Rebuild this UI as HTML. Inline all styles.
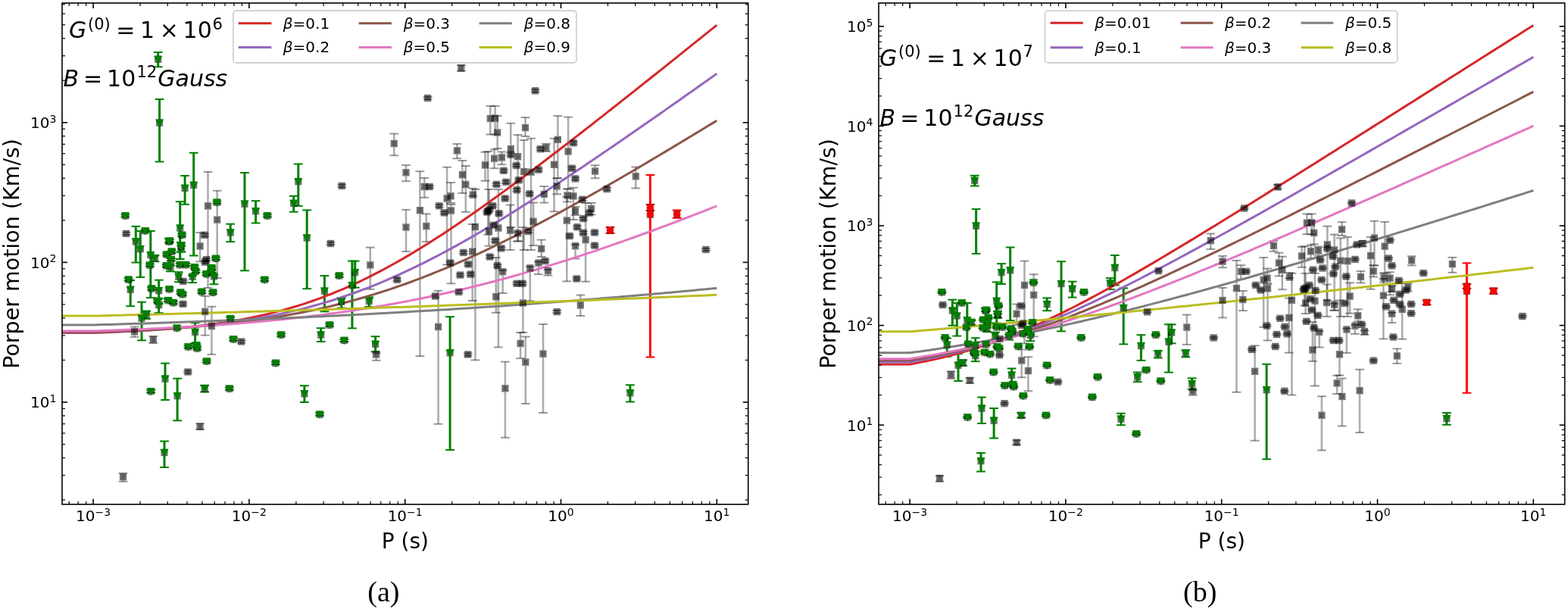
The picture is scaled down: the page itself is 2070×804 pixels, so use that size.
<!DOCTYPE html><html><head><meta charset="utf-8"><style>html,body{margin:0;padding:0;background:#fff;overflow:hidden}svg{display:block}</style></head><body><svg width="2070" height="804" viewBox="0 0 2070 804" font-family="'DejaVu Sans', 'Liberation Sans', sans-serif">
<rect width="2070" height="804" fill="#fff"/>
<clipPath id="clip0"><rect x="82" y="4" width="905.7" height="661.8"/></clipPath>
<g clip-path="url(#clip0)">
<line x1="274.5" y1="227.1" x2="274.5" y2="267.2" stroke="rgba(0,0,0,0.32)" stroke-width="2.6"/>
<line x1="274.5" y1="276.6" x2="274.5" y2="380" stroke="rgba(0,0,0,0.32)" stroke-width="2.6"/>
<line x1="268.6" y1="227.1" x2="280.4" y2="227.1" stroke="rgba(0,0,0,0.4)" stroke-width="2"/>
<line x1="268.6" y1="380" x2="280.4" y2="380" stroke="rgba(0,0,0,0.4)" stroke-width="2"/>
<line x1="286.7" y1="251.8" x2="286.7" y2="285.4" stroke="rgba(0,0,0,0.32)" stroke-width="2.6"/>
<line x1="286.7" y1="294.8" x2="286.7" y2="367" stroke="rgba(0,0,0,0.32)" stroke-width="2.6"/>
<line x1="280.8" y1="251.8" x2="292.6" y2="251.8" stroke="rgba(0,0,0,0.4)" stroke-width="2"/>
<line x1="280.8" y1="367" x2="292.6" y2="367" stroke="rgba(0,0,0,0.4)" stroke-width="2"/>
<line x1="445.4" y1="243.8" x2="457.2" y2="243.8" stroke="rgba(0,0,0,0.4)" stroke-width="2"/>
<line x1="445.4" y1="247" x2="457.2" y2="247" stroke="rgba(0,0,0,0.4)" stroke-width="2"/>
<line x1="430.6" y1="319.9" x2="442.4" y2="319.9" stroke="rgba(0,0,0,0.4)" stroke-width="2"/>
<line x1="430.6" y1="323.1" x2="442.4" y2="323.1" stroke="rgba(0,0,0,0.4)" stroke-width="2"/>
<line x1="160.7" y1="306.8" x2="172.5" y2="306.8" stroke="rgba(0,0,0,0.4)" stroke-width="2"/>
<line x1="160.7" y1="310" x2="172.5" y2="310" stroke="rgba(0,0,0,0.4)" stroke-width="2"/>
<line x1="264.1" y1="307" x2="264.1" y2="320.3" stroke="rgba(0,0,0,0.32)" stroke-width="2.6"/>
<line x1="264.1" y1="329.7" x2="264.1" y2="345.3" stroke="rgba(0,0,0,0.32)" stroke-width="2.6"/>
<line x1="258.2" y1="307" x2="270" y2="307" stroke="rgba(0,0,0,0.4)" stroke-width="2"/>
<line x1="258.2" y1="345.3" x2="270" y2="345.3" stroke="rgba(0,0,0,0.4)" stroke-width="2"/>
<line x1="264.8" y1="344.5" x2="276.6" y2="344.5" stroke="rgba(0,0,0,0.4)" stroke-width="2"/>
<line x1="264.8" y1="347.7" x2="276.6" y2="347.7" stroke="rgba(0,0,0,0.4)" stroke-width="2"/>
<line x1="266.5" y1="341" x2="278.3" y2="341" stroke="rgba(0,0,0,0.4)" stroke-width="2"/>
<line x1="266.5" y1="344.2" x2="278.3" y2="344.2" stroke="rgba(0,0,0,0.4)" stroke-width="2"/>
<line x1="236" y1="369.8" x2="247.8" y2="369.8" stroke="rgba(0,0,0,0.4)" stroke-width="2"/>
<line x1="236" y1="373" x2="247.8" y2="373" stroke="rgba(0,0,0,0.4)" stroke-width="2"/>
<line x1="235.6" y1="399.7" x2="247.4" y2="399.7" stroke="rgba(0,0,0,0.4)" stroke-width="2"/>
<line x1="235.6" y1="402.9" x2="247.4" y2="402.9" stroke="rgba(0,0,0,0.4)" stroke-width="2"/>
<line x1="270.7" y1="391" x2="270.7" y2="406.7" stroke="rgba(0,0,0,0.32)" stroke-width="2.6"/>
<line x1="270.7" y1="416.1" x2="270.7" y2="442.7" stroke="rgba(0,0,0,0.32)" stroke-width="2.6"/>
<line x1="264.8" y1="391" x2="276.6" y2="391" stroke="rgba(0,0,0,0.4)" stroke-width="2"/>
<line x1="264.8" y1="442.7" x2="276.6" y2="442.7" stroke="rgba(0,0,0,0.4)" stroke-width="2"/>
<line x1="279.4" y1="404.8" x2="279.4" y2="425.8" stroke="rgba(0,0,0,0.32)" stroke-width="2.6"/>
<line x1="279.4" y1="435.2" x2="279.4" y2="467.9" stroke="rgba(0,0,0,0.32)" stroke-width="2.6"/>
<line x1="273.5" y1="404.8" x2="285.3" y2="404.8" stroke="rgba(0,0,0,0.4)" stroke-width="2"/>
<line x1="273.5" y1="467.9" x2="285.3" y2="467.9" stroke="rgba(0,0,0,0.4)" stroke-width="2"/>
<line x1="177.5" y1="431.4" x2="177.5" y2="433.2" stroke="rgba(0,0,0,0.32)" stroke-width="2.6"/>
<line x1="177.5" y1="442.6" x2="177.5" y2="444.9" stroke="rgba(0,0,0,0.32)" stroke-width="2.6"/>
<line x1="171.6" y1="431.4" x2="183.4" y2="431.4" stroke="rgba(0,0,0,0.4)" stroke-width="2"/>
<line x1="171.6" y1="444.9" x2="183.4" y2="444.9" stroke="rgba(0,0,0,0.4)" stroke-width="2"/>
<line x1="202.3" y1="453" x2="202.3" y2="453.1" stroke="rgba(0,0,0,0.32)" stroke-width="2.6"/>
<line x1="196.4" y1="443.9" x2="208.2" y2="443.9" stroke="rgba(0,0,0,0.4)" stroke-width="2"/>
<line x1="196.4" y1="453.1" x2="208.2" y2="453.1" stroke="rgba(0,0,0,0.4)" stroke-width="2"/>
<line x1="312.7" y1="449.4" x2="324.5" y2="449.4" stroke="rgba(0,0,0,0.4)" stroke-width="2"/>
<line x1="312.7" y1="452.6" x2="324.5" y2="452.6" stroke="rgba(0,0,0,0.4)" stroke-width="2"/>
<line x1="242.1" y1="489.4" x2="253.9" y2="489.4" stroke="rgba(0,0,0,0.4)" stroke-width="2"/>
<line x1="242.1" y1="492.6" x2="253.9" y2="492.6" stroke="rgba(0,0,0,0.4)" stroke-width="2"/>
<line x1="258.2" y1="559.2" x2="270" y2="559.2" stroke="rgba(0,0,0,0.4)" stroke-width="2"/>
<line x1="258.2" y1="567.1" x2="270" y2="567.1" stroke="rgba(0,0,0,0.4)" stroke-width="2"/>
<line x1="162.5" y1="624.7" x2="162.5" y2="624.9" stroke="rgba(0,0,0,0.32)" stroke-width="2.6"/>
<line x1="162.5" y1="634.3" x2="162.5" y2="635.7" stroke="rgba(0,0,0,0.32)" stroke-width="2.6"/>
<line x1="156.6" y1="624.7" x2="168.4" y2="624.7" stroke="rgba(0,0,0,0.4)" stroke-width="2"/>
<line x1="156.6" y1="635.7" x2="168.4" y2="635.7" stroke="rgba(0,0,0,0.4)" stroke-width="2"/>
<line x1="488.8" y1="326.7" x2="488.8" y2="345.2" stroke="rgba(0,0,0,0.32)" stroke-width="2.6"/>
<line x1="488.8" y1="354.6" x2="488.8" y2="381.9" stroke="rgba(0,0,0,0.32)" stroke-width="2.6"/>
<line x1="482.9" y1="326.7" x2="494.7" y2="326.7" stroke="rgba(0,0,0,0.4)" stroke-width="2"/>
<line x1="482.9" y1="381.9" x2="494.7" y2="381.9" stroke="rgba(0,0,0,0.4)" stroke-width="2"/>
<line x1="496.7" y1="472.7" x2="496.7" y2="475.8" stroke="rgba(0,0,0,0.32)" stroke-width="2.6"/>
<line x1="490.8" y1="466.4" x2="502.6" y2="466.4" stroke="rgba(0,0,0,0.4)" stroke-width="2"/>
<line x1="490.8" y1="475.8" x2="502.6" y2="475.8" stroke="rgba(0,0,0,0.4)" stroke-width="2"/>
<line x1="520.3" y1="176.5" x2="520.3" y2="184.8" stroke="rgba(0,0,0,0.32)" stroke-width="2.6"/>
<line x1="520.3" y1="194.2" x2="520.3" y2="205.2" stroke="rgba(0,0,0,0.32)" stroke-width="2.6"/>
<line x1="514.4" y1="176.5" x2="526.2" y2="176.5" stroke="rgba(0,0,0,0.4)" stroke-width="2"/>
<line x1="514.4" y1="205.2" x2="526.2" y2="205.2" stroke="rgba(0,0,0,0.4)" stroke-width="2"/>
<line x1="602.9" y1="86" x2="614.7" y2="86" stroke="rgba(0,0,0,0.4)" stroke-width="2"/>
<line x1="602.9" y1="93.7" x2="614.7" y2="93.7" stroke="rgba(0,0,0,0.4)" stroke-width="2"/>
<line x1="558.7" y1="127.9" x2="570.5" y2="127.9" stroke="rgba(0,0,0,0.4)" stroke-width="2"/>
<line x1="558.7" y1="131.1" x2="570.5" y2="131.1" stroke="rgba(0,0,0,0.4)" stroke-width="2"/>
<line x1="647.3" y1="140" x2="647.3" y2="151.8" stroke="rgba(0,0,0,0.32)" stroke-width="2.6"/>
<line x1="647.3" y1="161.2" x2="647.3" y2="177.6" stroke="rgba(0,0,0,0.32)" stroke-width="2.6"/>
<line x1="641.4" y1="140" x2="653.2" y2="140" stroke="rgba(0,0,0,0.4)" stroke-width="2"/>
<line x1="641.4" y1="177.6" x2="653.2" y2="177.6" stroke="rgba(0,0,0,0.4)" stroke-width="2"/>
<line x1="653.6" y1="140" x2="653.6" y2="151.4" stroke="rgba(0,0,0,0.32)" stroke-width="2.6"/>
<line x1="653.6" y1="160.8" x2="653.6" y2="177.6" stroke="rgba(0,0,0,0.32)" stroke-width="2.6"/>
<line x1="647.7" y1="140" x2="659.5" y2="140" stroke="rgba(0,0,0,0.4)" stroke-width="2"/>
<line x1="647.7" y1="177.6" x2="659.5" y2="177.6" stroke="rgba(0,0,0,0.4)" stroke-width="2"/>
<line x1="536" y1="217.9" x2="536" y2="223.1" stroke="rgba(0,0,0,0.32)" stroke-width="2.6"/>
<line x1="536" y1="232.5" x2="536" y2="239.3" stroke="rgba(0,0,0,0.32)" stroke-width="2.6"/>
<line x1="530.1" y1="217.9" x2="541.9" y2="217.9" stroke="rgba(0,0,0,0.4)" stroke-width="2"/>
<line x1="530.1" y1="239.3" x2="541.9" y2="239.3" stroke="rgba(0,0,0,0.4)" stroke-width="2"/>
<line x1="560.3" y1="234.9" x2="560.3" y2="241.8" stroke="rgba(0,0,0,0.32)" stroke-width="2.6"/>
<line x1="560.3" y1="251.2" x2="560.3" y2="260.8" stroke="rgba(0,0,0,0.32)" stroke-width="2.6"/>
<line x1="554.4" y1="234.9" x2="566.2" y2="234.9" stroke="rgba(0,0,0,0.4)" stroke-width="2"/>
<line x1="554.4" y1="260.8" x2="566.2" y2="260.8" stroke="rgba(0,0,0,0.4)" stroke-width="2"/>
<line x1="561.2" y1="244.9" x2="573" y2="244.9" stroke="rgba(0,0,0,0.4)" stroke-width="2"/>
<line x1="561.2" y1="248.1" x2="573" y2="248.1" stroke="rgba(0,0,0,0.4)" stroke-width="2"/>
<line x1="590.1" y1="220.7" x2="590.1" y2="257.3" stroke="rgba(0,0,0,0.32)" stroke-width="2.6"/>
<line x1="590.1" y1="266.7" x2="590.1" y2="349.6" stroke="rgba(0,0,0,0.32)" stroke-width="2.6"/>
<line x1="584.2" y1="220.7" x2="596" y2="220.7" stroke="rgba(0,0,0,0.4)" stroke-width="2"/>
<line x1="584.2" y1="349.6" x2="596" y2="349.6" stroke="rgba(0,0,0,0.4)" stroke-width="2"/>
<line x1="595.1" y1="241.1" x2="595.1" y2="254.2" stroke="rgba(0,0,0,0.32)" stroke-width="2.6"/>
<line x1="595.1" y1="263.6" x2="595.1" y2="268" stroke="rgba(0,0,0,0.32)" stroke-width="2.6"/>
<line x1="589.2" y1="241.1" x2="601" y2="241.1" stroke="rgba(0,0,0,0.4)" stroke-width="2"/>
<line x1="589.2" y1="268" x2="601" y2="268" stroke="rgba(0,0,0,0.4)" stroke-width="2"/>
<line x1="603.4" y1="189.9" x2="603.4" y2="194.2" stroke="rgba(0,0,0,0.32)" stroke-width="2.6"/>
<line x1="603.4" y1="203.6" x2="603.4" y2="209.2" stroke="rgba(0,0,0,0.32)" stroke-width="2.6"/>
<line x1="597.5" y1="189.9" x2="609.3" y2="189.9" stroke="rgba(0,0,0,0.4)" stroke-width="2"/>
<line x1="597.5" y1="209.2" x2="609.3" y2="209.2" stroke="rgba(0,0,0,0.4)" stroke-width="2"/>
<line x1="610.4" y1="212" x2="610.4" y2="226" stroke="rgba(0,0,0,0.32)" stroke-width="2.6"/>
<line x1="610.4" y1="235.4" x2="610.4" y2="255" stroke="rgba(0,0,0,0.32)" stroke-width="2.6"/>
<line x1="604.5" y1="212" x2="616.3" y2="212" stroke="rgba(0,0,0,0.4)" stroke-width="2"/>
<line x1="604.5" y1="255" x2="616.3" y2="255" stroke="rgba(0,0,0,0.4)" stroke-width="2"/>
<line x1="614.8" y1="218.9" x2="614.8" y2="238.9" stroke="rgba(0,0,0,0.32)" stroke-width="2.6"/>
<line x1="614.8" y1="248.3" x2="614.8" y2="279.9" stroke="rgba(0,0,0,0.32)" stroke-width="2.6"/>
<line x1="608.9" y1="218.9" x2="620.7" y2="218.9" stroke="rgba(0,0,0,0.4)" stroke-width="2"/>
<line x1="608.9" y1="279.9" x2="620.7" y2="279.9" stroke="rgba(0,0,0,0.4)" stroke-width="2"/>
<line x1="624.3" y1="248.7" x2="624.3" y2="252.4" stroke="rgba(0,0,0,0.32)" stroke-width="2.6"/>
<line x1="618.4" y1="248.7" x2="630.2" y2="248.7" stroke="rgba(0,0,0,0.4)" stroke-width="2"/>
<line x1="618.4" y1="258.7" x2="630.2" y2="258.7" stroke="rgba(0,0,0,0.4)" stroke-width="2"/>
<line x1="640.5" y1="200.8" x2="640.5" y2="213.2" stroke="rgba(0,0,0,0.32)" stroke-width="2.6"/>
<line x1="640.5" y1="222.6" x2="640.5" y2="238.7" stroke="rgba(0,0,0,0.32)" stroke-width="2.6"/>
<line x1="634.6" y1="200.8" x2="646.4" y2="200.8" stroke="rgba(0,0,0,0.4)" stroke-width="2"/>
<line x1="634.6" y1="238.7" x2="646.4" y2="238.7" stroke="rgba(0,0,0,0.4)" stroke-width="2"/>
<line x1="652.6" y1="197.6" x2="652.6" y2="204.5" stroke="rgba(0,0,0,0.32)" stroke-width="2.6"/>
<line x1="652.6" y1="213.9" x2="652.6" y2="222.2" stroke="rgba(0,0,0,0.32)" stroke-width="2.6"/>
<line x1="646.7" y1="197.6" x2="658.5" y2="197.6" stroke="rgba(0,0,0,0.4)" stroke-width="2"/>
<line x1="646.7" y1="222.2" x2="658.5" y2="222.2" stroke="rgba(0,0,0,0.4)" stroke-width="2"/>
<line x1="656.7" y1="153.1" x2="656.7" y2="170.3" stroke="rgba(0,0,0,0.32)" stroke-width="2.6"/>
<line x1="656.7" y1="179.7" x2="656.7" y2="196" stroke="rgba(0,0,0,0.32)" stroke-width="2.6"/>
<line x1="650.8" y1="153.1" x2="662.6" y2="153.1" stroke="rgba(0,0,0,0.4)" stroke-width="2"/>
<line x1="650.8" y1="196" x2="662.6" y2="196" stroke="rgba(0,0,0,0.4)" stroke-width="2"/>
<line x1="649.5" y1="241.8" x2="661.3" y2="241.8" stroke="rgba(0,0,0,0.4)" stroke-width="2"/>
<line x1="649.5" y1="245" x2="661.3" y2="245" stroke="rgba(0,0,0,0.4)" stroke-width="2"/>
<line x1="536" y1="276.8" x2="536" y2="295.3" stroke="rgba(0,0,0,0.32)" stroke-width="2.6"/>
<line x1="536" y1="304.7" x2="536" y2="332.1" stroke="rgba(0,0,0,0.32)" stroke-width="2.6"/>
<line x1="530.1" y1="276.8" x2="541.9" y2="276.8" stroke="rgba(0,0,0,0.4)" stroke-width="2"/>
<line x1="530.1" y1="332.1" x2="541.9" y2="332.1" stroke="rgba(0,0,0,0.4)" stroke-width="2"/>
<line x1="554.4" y1="226.2" x2="554.4" y2="273" stroke="rgba(0,0,0,0.32)" stroke-width="2.6"/>
<line x1="554.4" y1="282.4" x2="554.4" y2="470.2" stroke="rgba(0,0,0,0.32)" stroke-width="2.6"/>
<line x1="548.5" y1="226.2" x2="560.3" y2="226.2" stroke="rgba(0,0,0,0.4)" stroke-width="2"/>
<line x1="548.5" y1="470.2" x2="560.3" y2="470.2" stroke="rgba(0,0,0,0.4)" stroke-width="2"/>
<line x1="562.8" y1="282.4" x2="562.8" y2="293.9" stroke="rgba(0,0,0,0.32)" stroke-width="2.6"/>
<line x1="562.8" y1="303.3" x2="562.8" y2="319.1" stroke="rgba(0,0,0,0.32)" stroke-width="2.6"/>
<line x1="556.9" y1="282.4" x2="568.7" y2="282.4" stroke="rgba(0,0,0,0.4)" stroke-width="2"/>
<line x1="556.9" y1="319.1" x2="568.7" y2="319.1" stroke="rgba(0,0,0,0.4)" stroke-width="2"/>
<line x1="573.9" y1="270.2" x2="585.7" y2="270.2" stroke="rgba(0,0,0,0.4)" stroke-width="2"/>
<line x1="573.9" y1="273.4" x2="585.7" y2="273.4" stroke="rgba(0,0,0,0.4)" stroke-width="2"/>
<line x1="580.5" y1="279.3" x2="592.3" y2="279.3" stroke="rgba(0,0,0,0.4)" stroke-width="2"/>
<line x1="580.5" y1="282.5" x2="592.3" y2="282.5" stroke="rgba(0,0,0,0.4)" stroke-width="2"/>
<line x1="595.5" y1="270" x2="595.5" y2="273.3" stroke="rgba(0,0,0,0.32)" stroke-width="2.6"/>
<line x1="595.5" y1="282.7" x2="595.5" y2="374.3" stroke="rgba(0,0,0,0.32)" stroke-width="2.6"/>
<line x1="589.6" y1="270" x2="601.4" y2="270" stroke="rgba(0,0,0,0.4)" stroke-width="2"/>
<line x1="589.6" y1="374.3" x2="601.4" y2="374.3" stroke="rgba(0,0,0,0.4)" stroke-width="2"/>
<line x1="588.6" y1="345.5" x2="600.4" y2="345.5" stroke="rgba(0,0,0,0.4)" stroke-width="2"/>
<line x1="588.6" y1="348.7" x2="600.4" y2="348.7" stroke="rgba(0,0,0,0.4)" stroke-width="2"/>
<line x1="627.4" y1="250" x2="627.4" y2="294.9" stroke="rgba(0,0,0,0.32)" stroke-width="2.6"/>
<line x1="627.4" y1="304.3" x2="627.4" y2="475.4" stroke="rgba(0,0,0,0.32)" stroke-width="2.6"/>
<line x1="621.5" y1="250" x2="633.3" y2="250" stroke="rgba(0,0,0,0.4)" stroke-width="2"/>
<line x1="621.5" y1="475.4" x2="633.3" y2="475.4" stroke="rgba(0,0,0,0.4)" stroke-width="2"/>
<line x1="623.7" y1="296" x2="623.7" y2="327.4" stroke="rgba(0,0,0,0.32)" stroke-width="2.6"/>
<line x1="623.7" y1="336.8" x2="623.7" y2="397" stroke="rgba(0,0,0,0.32)" stroke-width="2.6"/>
<line x1="617.8" y1="296" x2="629.6" y2="296" stroke="rgba(0,0,0,0.4)" stroke-width="2"/>
<line x1="617.8" y1="397" x2="629.6" y2="397" stroke="rgba(0,0,0,0.4)" stroke-width="2"/>
<line x1="606" y1="331.8" x2="617.8" y2="331.8" stroke="rgba(0,0,0,0.4)" stroke-width="2"/>
<line x1="606" y1="335" x2="617.8" y2="335" stroke="rgba(0,0,0,0.4)" stroke-width="2"/>
<line x1="612.2" y1="347.3" x2="624" y2="347.3" stroke="rgba(0,0,0,0.4)" stroke-width="2"/>
<line x1="612.2" y1="350.5" x2="624" y2="350.5" stroke="rgba(0,0,0,0.4)" stroke-width="2"/>
<line x1="644.2" y1="200" x2="644.2" y2="274" stroke="rgba(0,0,0,0.32)" stroke-width="2.6"/>
<line x1="644.2" y1="283.4" x2="644.2" y2="309.8" stroke="rgba(0,0,0,0.32)" stroke-width="2.6"/>
<line x1="638.3" y1="200" x2="650.1" y2="200" stroke="rgba(0,0,0,0.4)" stroke-width="2"/>
<line x1="638.3" y1="309.8" x2="650.1" y2="309.8" stroke="rgba(0,0,0,0.4)" stroke-width="2"/>
<line x1="637.1" y1="278.4" x2="648.9" y2="278.4" stroke="rgba(0,0,0,0.4)" stroke-width="2"/>
<line x1="637.1" y1="281.6" x2="648.9" y2="281.6" stroke="rgba(0,0,0,0.4)" stroke-width="2"/>
<line x1="640.1" y1="275.4" x2="651.9" y2="275.4" stroke="rgba(0,0,0,0.4)" stroke-width="2"/>
<line x1="640.1" y1="278.6" x2="651.9" y2="278.6" stroke="rgba(0,0,0,0.4)" stroke-width="2"/>
<line x1="644.5" y1="270.2" x2="656.3" y2="270.2" stroke="rgba(0,0,0,0.4)" stroke-width="2"/>
<line x1="644.5" y1="273.4" x2="656.3" y2="273.4" stroke="rgba(0,0,0,0.4)" stroke-width="2"/>
<line x1="645.8" y1="295.7" x2="657.6" y2="295.7" stroke="rgba(0,0,0,0.4)" stroke-width="2"/>
<line x1="645.8" y1="298.9" x2="657.6" y2="298.9" stroke="rgba(0,0,0,0.4)" stroke-width="2"/>
<line x1="640.8" y1="337.4" x2="652.6" y2="337.4" stroke="rgba(0,0,0,0.4)" stroke-width="2"/>
<line x1="640.8" y1="340.6" x2="652.6" y2="340.6" stroke="rgba(0,0,0,0.4)" stroke-width="2"/>
<line x1="650.8" y1="349.2" x2="662.6" y2="349.2" stroke="rgba(0,0,0,0.4)" stroke-width="2"/>
<line x1="650.8" y1="352.4" x2="662.6" y2="352.4" stroke="rgba(0,0,0,0.4)" stroke-width="2"/>
<line x1="657.9" y1="250" x2="657.9" y2="296.3" stroke="rgba(0,0,0,0.32)" stroke-width="2.6"/>
<line x1="657.9" y1="305.7" x2="657.9" y2="458.4" stroke="rgba(0,0,0,0.32)" stroke-width="2.6"/>
<line x1="652" y1="250" x2="663.8" y2="250" stroke="rgba(0,0,0,0.4)" stroke-width="2"/>
<line x1="652" y1="458.4" x2="663.8" y2="458.4" stroke="rgba(0,0,0,0.4)" stroke-width="2"/>
<line x1="645.5" y1="250" x2="645.5" y2="300.3" stroke="rgba(0,0,0,0.32)" stroke-width="2.6"/>
<line x1="645.5" y1="309.7" x2="645.5" y2="324.7" stroke="rgba(0,0,0,0.32)" stroke-width="2.6"/>
<line x1="639.6" y1="250" x2="651.4" y2="250" stroke="rgba(0,0,0,0.4)" stroke-width="2"/>
<line x1="639.6" y1="324.7" x2="651.4" y2="324.7" stroke="rgba(0,0,0,0.4)" stroke-width="2"/>
<line x1="518.3" y1="367.7" x2="530.1" y2="367.7" stroke="rgba(0,0,0,0.4)" stroke-width="2"/>
<line x1="518.3" y1="370.9" x2="530.1" y2="370.9" stroke="rgba(0,0,0,0.4)" stroke-width="2"/>
<line x1="568.7" y1="389.4" x2="580.5" y2="389.4" stroke="rgba(0,0,0,0.4)" stroke-width="2"/>
<line x1="568.7" y1="392.6" x2="580.5" y2="392.6" stroke="rgba(0,0,0,0.4)" stroke-width="2"/>
<line x1="578.6" y1="383.8" x2="578.6" y2="426.8" stroke="rgba(0,0,0,0.32)" stroke-width="2.6"/>
<line x1="578.6" y1="436.2" x2="578.6" y2="559.8" stroke="rgba(0,0,0,0.32)" stroke-width="2.6"/>
<line x1="572.7" y1="383.8" x2="584.5" y2="383.8" stroke="rgba(0,0,0,0.4)" stroke-width="2"/>
<line x1="572.7" y1="559.8" x2="584.5" y2="559.8" stroke="rgba(0,0,0,0.4)" stroke-width="2"/>
<line x1="601.6" y1="361.5" x2="613.4" y2="361.5" stroke="rgba(0,0,0,0.4)" stroke-width="2"/>
<line x1="601.6" y1="364.7" x2="613.4" y2="364.7" stroke="rgba(0,0,0,0.4)" stroke-width="2"/>
<line x1="615.3" y1="360.5" x2="627.1" y2="360.5" stroke="rgba(0,0,0,0.4)" stroke-width="2"/>
<line x1="615.3" y1="363.7" x2="627.1" y2="363.7" stroke="rgba(0,0,0,0.4)" stroke-width="2"/>
<line x1="599.8" y1="383.8" x2="611.6" y2="383.8" stroke="rgba(0,0,0,0.4)" stroke-width="2"/>
<line x1="599.8" y1="387" x2="611.6" y2="387" stroke="rgba(0,0,0,0.4)" stroke-width="2"/>
<line x1="654.8" y1="340" x2="654.8" y2="387" stroke="rgba(0,0,0,0.32)" stroke-width="2.6"/>
<line x1="654.8" y1="396.4" x2="654.8" y2="412.8" stroke="rgba(0,0,0,0.32)" stroke-width="2.6"/>
<line x1="648.9" y1="340" x2="660.7" y2="340" stroke="rgba(0,0,0,0.4)" stroke-width="2"/>
<line x1="648.9" y1="412.8" x2="660.7" y2="412.8" stroke="rgba(0,0,0,0.4)" stroke-width="2"/>
<line x1="611.8" y1="466.4" x2="623.6" y2="466.4" stroke="rgba(0,0,0,0.4)" stroke-width="2"/>
<line x1="611.8" y1="469.6" x2="623.6" y2="469.6" stroke="rgba(0,0,0,0.4)" stroke-width="2"/>
<line x1="666.9" y1="477.6" x2="666.9" y2="508.1" stroke="rgba(0,0,0,0.32)" stroke-width="2.6"/>
<line x1="666.9" y1="517.5" x2="666.9" y2="577.7" stroke="rgba(0,0,0,0.32)" stroke-width="2.6"/>
<line x1="661" y1="477.6" x2="672.8" y2="477.6" stroke="rgba(0,0,0,0.4)" stroke-width="2"/>
<line x1="661" y1="577.7" x2="672.8" y2="577.7" stroke="rgba(0,0,0,0.4)" stroke-width="2"/>
<line x1="687.1" y1="439.1" x2="687.1" y2="448.7" stroke="rgba(0,0,0,0.32)" stroke-width="2.6"/>
<line x1="687.1" y1="458.1" x2="687.1" y2="473.1" stroke="rgba(0,0,0,0.32)" stroke-width="2.6"/>
<line x1="681.2" y1="439.1" x2="693" y2="439.1" stroke="rgba(0,0,0,0.4)" stroke-width="2"/>
<line x1="681.2" y1="473.1" x2="693" y2="473.1" stroke="rgba(0,0,0,0.4)" stroke-width="2"/>
<line x1="693.8" y1="444.5" x2="693.8" y2="473.4" stroke="rgba(0,0,0,0.32)" stroke-width="2.6"/>
<line x1="693.8" y1="482.8" x2="693.8" y2="532.9" stroke="rgba(0,0,0,0.32)" stroke-width="2.6"/>
<line x1="687.9" y1="444.5" x2="699.7" y2="444.5" stroke="rgba(0,0,0,0.4)" stroke-width="2"/>
<line x1="687.9" y1="532.9" x2="699.7" y2="532.9" stroke="rgba(0,0,0,0.4)" stroke-width="2"/>
<line x1="700.7" y1="118.2" x2="712.5" y2="118.2" stroke="rgba(0,0,0,0.4)" stroke-width="2"/>
<line x1="700.7" y1="121.4" x2="712.5" y2="121.4" stroke="rgba(0,0,0,0.4)" stroke-width="2"/>
<line x1="693.5" y1="155" x2="693.5" y2="163.9" stroke="rgba(0,0,0,0.32)" stroke-width="2.6"/>
<line x1="693.5" y1="173.3" x2="693.5" y2="180" stroke="rgba(0,0,0,0.32)" stroke-width="2.6"/>
<line x1="687.6" y1="155" x2="699.4" y2="155" stroke="rgba(0,0,0,0.4)" stroke-width="2"/>
<line x1="687.6" y1="180" x2="699.4" y2="180" stroke="rgba(0,0,0,0.4)" stroke-width="2"/>
<line x1="674.3" y1="162.7" x2="674.3" y2="192" stroke="rgba(0,0,0,0.32)" stroke-width="2.6"/>
<line x1="674.3" y1="201.4" x2="674.3" y2="300" stroke="rgba(0,0,0,0.32)" stroke-width="2.6"/>
<line x1="668.4" y1="162.7" x2="680.2" y2="162.7" stroke="rgba(0,0,0,0.4)" stroke-width="2"/>
<line x1="668.4" y1="300" x2="680.2" y2="300" stroke="rgba(0,0,0,0.4)" stroke-width="2"/>
<line x1="668.4" y1="202.6" x2="680.2" y2="202.6" stroke="rgba(0,0,0,0.4)" stroke-width="2"/>
<line x1="668.4" y1="205.8" x2="680.2" y2="205.8" stroke="rgba(0,0,0,0.4)" stroke-width="2"/>
<line x1="683.6" y1="178.1" x2="683.6" y2="202" stroke="rgba(0,0,0,0.32)" stroke-width="2.6"/>
<line x1="683.6" y1="211.4" x2="683.6" y2="318.5" stroke="rgba(0,0,0,0.32)" stroke-width="2.6"/>
<line x1="677.7" y1="178.1" x2="689.5" y2="178.1" stroke="rgba(0,0,0,0.4)" stroke-width="2"/>
<line x1="677.7" y1="318.5" x2="689.5" y2="318.5" stroke="rgba(0,0,0,0.4)" stroke-width="2"/>
<line x1="662.4" y1="200.5" x2="662.4" y2="203.2" stroke="rgba(0,0,0,0.32)" stroke-width="2.6"/>
<line x1="662.4" y1="212.6" x2="662.4" y2="217.3" stroke="rgba(0,0,0,0.32)" stroke-width="2.6"/>
<line x1="656.5" y1="200.5" x2="668.3" y2="200.5" stroke="rgba(0,0,0,0.4)" stroke-width="2"/>
<line x1="656.5" y1="217.3" x2="668.3" y2="217.3" stroke="rgba(0,0,0,0.4)" stroke-width="2"/>
<line x1="675.8" y1="216.9" x2="687.6" y2="216.9" stroke="rgba(0,0,0,0.4)" stroke-width="2"/>
<line x1="675.8" y1="220.1" x2="687.6" y2="220.1" stroke="rgba(0,0,0,0.4)" stroke-width="2"/>
<line x1="659" y1="223.7" x2="670.8" y2="223.7" stroke="rgba(0,0,0,0.4)" stroke-width="2"/>
<line x1="659" y1="226.9" x2="670.8" y2="226.9" stroke="rgba(0,0,0,0.4)" stroke-width="2"/>
<line x1="691.7" y1="184.9" x2="691.7" y2="221.9" stroke="rgba(0,0,0,0.32)" stroke-width="2.6"/>
<line x1="691.7" y1="231.3" x2="691.7" y2="330" stroke="rgba(0,0,0,0.32)" stroke-width="2.6"/>
<line x1="685.8" y1="184.9" x2="697.6" y2="184.9" stroke="rgba(0,0,0,0.4)" stroke-width="2"/>
<line x1="685.8" y1="330" x2="697.6" y2="330" stroke="rgba(0,0,0,0.4)" stroke-width="2"/>
<line x1="701" y1="182.8" x2="701" y2="222.5" stroke="rgba(0,0,0,0.32)" stroke-width="2.6"/>
<line x1="701" y1="231.9" x2="701" y2="330" stroke="rgba(0,0,0,0.32)" stroke-width="2.6"/>
<line x1="695.1" y1="182.8" x2="706.9" y2="182.8" stroke="rgba(0,0,0,0.4)" stroke-width="2"/>
<line x1="695.1" y1="330" x2="706.9" y2="330" stroke="rgba(0,0,0,0.4)" stroke-width="2"/>
<line x1="705" y1="222.5" x2="716.8" y2="222.5" stroke="rgba(0,0,0,0.4)" stroke-width="2"/>
<line x1="705" y1="225.7" x2="716.8" y2="225.7" stroke="rgba(0,0,0,0.4)" stroke-width="2"/>
<line x1="707.5" y1="195.1" x2="719.3" y2="195.1" stroke="rgba(0,0,0,0.4)" stroke-width="2"/>
<line x1="707.5" y1="198.3" x2="719.3" y2="198.3" stroke="rgba(0,0,0,0.4)" stroke-width="2"/>
<line x1="720.9" y1="189.7" x2="720.9" y2="190.2" stroke="rgba(0,0,0,0.32)" stroke-width="2.6"/>
<line x1="720.9" y1="199.6" x2="720.9" y2="200.1" stroke="rgba(0,0,0,0.32)" stroke-width="2.6"/>
<line x1="715" y1="189.7" x2="726.8" y2="189.7" stroke="rgba(0,0,0,0.4)" stroke-width="2"/>
<line x1="715" y1="200.1" x2="726.8" y2="200.1" stroke="rgba(0,0,0,0.4)" stroke-width="2"/>
<line x1="736.4" y1="153.1" x2="736.4" y2="179.6" stroke="rgba(0,0,0,0.32)" stroke-width="2.6"/>
<line x1="736.4" y1="189" x2="736.4" y2="235.3" stroke="rgba(0,0,0,0.32)" stroke-width="2.6"/>
<line x1="730.5" y1="153.1" x2="742.3" y2="153.1" stroke="rgba(0,0,0,0.4)" stroke-width="2"/>
<line x1="730.5" y1="235.3" x2="742.3" y2="235.3" stroke="rgba(0,0,0,0.4)" stroke-width="2"/>
<line x1="731.5" y1="182.8" x2="731.5" y2="212.6" stroke="rgba(0,0,0,0.32)" stroke-width="2.6"/>
<line x1="731.5" y1="222" x2="731.5" y2="279.3" stroke="rgba(0,0,0,0.32)" stroke-width="2.6"/>
<line x1="725.6" y1="182.8" x2="737.4" y2="182.8" stroke="rgba(0,0,0,0.4)" stroke-width="2"/>
<line x1="725.6" y1="279.3" x2="737.4" y2="279.3" stroke="rgba(0,0,0,0.4)" stroke-width="2"/>
<line x1="750.1" y1="154.6" x2="750.1" y2="195.2" stroke="rgba(0,0,0,0.32)" stroke-width="2.6"/>
<line x1="750.1" y1="204.6" x2="750.1" y2="249.6" stroke="rgba(0,0,0,0.32)" stroke-width="2.6"/>
<line x1="744.2" y1="154.6" x2="756" y2="154.6" stroke="rgba(0,0,0,0.4)" stroke-width="2"/>
<line x1="744.2" y1="249.6" x2="756" y2="249.6" stroke="rgba(0,0,0,0.4)" stroke-width="2"/>
<line x1="751.1" y1="187.1" x2="762.9" y2="187.1" stroke="rgba(0,0,0,0.4)" stroke-width="2"/>
<line x1="751.1" y1="190.3" x2="762.9" y2="190.3" stroke="rgba(0,0,0,0.4)" stroke-width="2"/>
<line x1="749.2" y1="220.6" x2="761" y2="220.6" stroke="rgba(0,0,0,0.4)" stroke-width="2"/>
<line x1="749.2" y1="223.8" x2="761" y2="223.8" stroke="rgba(0,0,0,0.4)" stroke-width="2"/>
<line x1="753.6" y1="234.3" x2="765.4" y2="234.3" stroke="rgba(0,0,0,0.4)" stroke-width="2"/>
<line x1="753.6" y1="237.5" x2="765.4" y2="237.5" stroke="rgba(0,0,0,0.4)" stroke-width="2"/>
<line x1="785.6" y1="218.3" x2="785.6" y2="221.3" stroke="rgba(0,0,0,0.32)" stroke-width="2.6"/>
<line x1="785.6" y1="230.7" x2="785.6" y2="235.3" stroke="rgba(0,0,0,0.32)" stroke-width="2.6"/>
<line x1="779.7" y1="218.3" x2="791.5" y2="218.3" stroke="rgba(0,0,0,0.4)" stroke-width="2"/>
<line x1="779.7" y1="235.3" x2="791.5" y2="235.3" stroke="rgba(0,0,0,0.4)" stroke-width="2"/>
<line x1="795.2" y1="248" x2="807" y2="248" stroke="rgba(0,0,0,0.4)" stroke-width="2"/>
<line x1="795.2" y1="251.2" x2="807" y2="251.2" stroke="rgba(0,0,0,0.4)" stroke-width="2"/>
<line x1="762.9" y1="261.7" x2="774.7" y2="261.7" stroke="rgba(0,0,0,0.4)" stroke-width="2"/>
<line x1="762.9" y1="264.9" x2="774.7" y2="264.9" stroke="rgba(0,0,0,0.4)" stroke-width="2"/>
<line x1="757" y1="247.7" x2="757" y2="254.2" stroke="rgba(0,0,0,0.32)" stroke-width="2.6"/>
<line x1="757" y1="263.6" x2="757" y2="290" stroke="rgba(0,0,0,0.32)" stroke-width="2.6"/>
<line x1="751.1" y1="247.7" x2="762.9" y2="247.7" stroke="rgba(0,0,0,0.4)" stroke-width="2"/>
<line x1="751.1" y1="290" x2="762.9" y2="290" stroke="rgba(0,0,0,0.4)" stroke-width="2"/>
<line x1="735.2" y1="235.3" x2="735.2" y2="241.2" stroke="rgba(0,0,0,0.32)" stroke-width="2.6"/>
<line x1="735.2" y1="250.6" x2="735.2" y2="256.4" stroke="rgba(0,0,0,0.32)" stroke-width="2.6"/>
<line x1="729.3" y1="235.3" x2="741.1" y2="235.3" stroke="rgba(0,0,0,0.4)" stroke-width="2"/>
<line x1="729.3" y1="256.4" x2="741.1" y2="256.4" stroke="rgba(0,0,0,0.4)" stroke-width="2"/>
<line x1="718.4" y1="245.9" x2="718.4" y2="251.7" stroke="rgba(0,0,0,0.32)" stroke-width="2.6"/>
<line x1="718.4" y1="261.1" x2="718.4" y2="267.6" stroke="rgba(0,0,0,0.32)" stroke-width="2.6"/>
<line x1="712.5" y1="245.9" x2="724.3" y2="245.9" stroke="rgba(0,0,0,0.4)" stroke-width="2"/>
<line x1="712.5" y1="267.6" x2="724.3" y2="267.6" stroke="rgba(0,0,0,0.4)" stroke-width="2"/>
<line x1="693.2" y1="254.2" x2="705" y2="254.2" stroke="rgba(0,0,0,0.4)" stroke-width="2"/>
<line x1="693.2" y1="257.4" x2="705" y2="257.4" stroke="rgba(0,0,0,0.4)" stroke-width="2"/>
<line x1="676.4" y1="249.2" x2="688.2" y2="249.2" stroke="rgba(0,0,0,0.4)" stroke-width="2"/>
<line x1="676.4" y1="252.4" x2="688.2" y2="252.4" stroke="rgba(0,0,0,0.4)" stroke-width="2"/>
<line x1="678.9" y1="236.2" x2="690.7" y2="236.2" stroke="rgba(0,0,0,0.4)" stroke-width="2"/>
<line x1="678.9" y1="239.4" x2="690.7" y2="239.4" stroke="rgba(0,0,0,0.4)" stroke-width="2"/>
<line x1="662.1" y1="238.7" x2="673.9" y2="238.7" stroke="rgba(0,0,0,0.4)" stroke-width="2"/>
<line x1="662.1" y1="241.9" x2="673.9" y2="241.9" stroke="rgba(0,0,0,0.4)" stroke-width="2"/>
<line x1="660.9" y1="260.4" x2="672.7" y2="260.4" stroke="rgba(0,0,0,0.4)" stroke-width="2"/>
<line x1="660.9" y1="263.6" x2="672.7" y2="263.6" stroke="rgba(0,0,0,0.4)" stroke-width="2"/>
<line x1="749" y1="249.6" x2="749" y2="253.3" stroke="rgba(0,0,0,0.32)" stroke-width="2.6"/>
<line x1="749" y1="262.7" x2="749" y2="266.4" stroke="rgba(0,0,0,0.32)" stroke-width="2.6"/>
<line x1="743.1" y1="249.6" x2="754.9" y2="249.6" stroke="rgba(0,0,0,0.4)" stroke-width="2"/>
<line x1="743.1" y1="266.4" x2="754.9" y2="266.4" stroke="rgba(0,0,0,0.4)" stroke-width="2"/>
<line x1="652.8" y1="280.2" x2="664.6" y2="280.2" stroke="rgba(0,0,0,0.4)" stroke-width="2"/>
<line x1="652.8" y1="283.4" x2="664.6" y2="283.4" stroke="rgba(0,0,0,0.4)" stroke-width="2"/>
<line x1="647.8" y1="316.2" x2="659.6" y2="316.2" stroke="rgba(0,0,0,0.4)" stroke-width="2"/>
<line x1="647.8" y1="319.4" x2="659.6" y2="319.4" stroke="rgba(0,0,0,0.4)" stroke-width="2"/>
<line x1="655.9" y1="326.2" x2="667.7" y2="326.2" stroke="rgba(0,0,0,0.4)" stroke-width="2"/>
<line x1="655.9" y1="329.4" x2="667.7" y2="329.4" stroke="rgba(0,0,0,0.4)" stroke-width="2"/>
<line x1="663.7" y1="363.4" x2="663.7" y2="387" stroke="rgba(0,0,0,0.32)" stroke-width="2.6"/>
<line x1="657.8" y1="357.1" x2="669.6" y2="357.1" stroke="rgba(0,0,0,0.4)" stroke-width="2"/>
<line x1="657.8" y1="387" x2="669.6" y2="387" stroke="rgba(0,0,0,0.4)" stroke-width="2"/>
<line x1="673.6" y1="270.6" x2="673.6" y2="299.5" stroke="rgba(0,0,0,0.32)" stroke-width="2.6"/>
<line x1="673.6" y1="308.9" x2="673.6" y2="330" stroke="rgba(0,0,0,0.32)" stroke-width="2.6"/>
<line x1="667.7" y1="270.6" x2="679.5" y2="270.6" stroke="rgba(0,0,0,0.4)" stroke-width="2"/>
<line x1="667.7" y1="330" x2="679.5" y2="330" stroke="rgba(0,0,0,0.4)" stroke-width="2"/>
<line x1="683.6" y1="312.6" x2="683.6" y2="318.5" stroke="rgba(0,0,0,0.32)" stroke-width="2.6"/>
<line x1="677.7" y1="306.3" x2="689.5" y2="306.3" stroke="rgba(0,0,0,0.4)" stroke-width="2"/>
<line x1="677.7" y1="318.5" x2="689.5" y2="318.5" stroke="rgba(0,0,0,0.4)" stroke-width="2"/>
<line x1="691.4" y1="303.8" x2="703.2" y2="303.8" stroke="rgba(0,0,0,0.4)" stroke-width="2"/>
<line x1="691.4" y1="307" x2="703.2" y2="307" stroke="rgba(0,0,0,0.4)" stroke-width="2"/>
<line x1="704.1" y1="267.5" x2="704.1" y2="287.6" stroke="rgba(0,0,0,0.32)" stroke-width="2.6"/>
<line x1="704.1" y1="297" x2="704.1" y2="324.1" stroke="rgba(0,0,0,0.32)" stroke-width="2.6"/>
<line x1="698.2" y1="267.5" x2="710" y2="267.5" stroke="rgba(0,0,0,0.4)" stroke-width="2"/>
<line x1="698.2" y1="324.1" x2="710" y2="324.1" stroke="rgba(0,0,0,0.4)" stroke-width="2"/>
<line x1="714.7" y1="316.6" x2="714.7" y2="323.7" stroke="rgba(0,0,0,0.32)" stroke-width="2.6"/>
<line x1="714.7" y1="333.1" x2="714.7" y2="339" stroke="rgba(0,0,0,0.32)" stroke-width="2.6"/>
<line x1="708.8" y1="316.6" x2="720.6" y2="316.6" stroke="rgba(0,0,0,0.4)" stroke-width="2"/>
<line x1="708.8" y1="339" x2="720.6" y2="339" stroke="rgba(0,0,0,0.4)" stroke-width="2"/>
<line x1="710.9" y1="351.8" x2="710.9" y2="362.1" stroke="rgba(0,0,0,0.32)" stroke-width="2.6"/>
<line x1="705" y1="345.5" x2="716.8" y2="345.5" stroke="rgba(0,0,0,0.4)" stroke-width="2"/>
<line x1="705" y1="362.1" x2="716.8" y2="362.1" stroke="rgba(0,0,0,0.4)" stroke-width="2"/>
<line x1="713.8" y1="343" x2="725.6" y2="343" stroke="rgba(0,0,0,0.4)" stroke-width="2"/>
<line x1="713.8" y1="346.2" x2="725.6" y2="346.2" stroke="rgba(0,0,0,0.4)" stroke-width="2"/>
<line x1="699.8" y1="358.6" x2="699.8" y2="397.3" stroke="rgba(0,0,0,0.32)" stroke-width="2.6"/>
<line x1="693.9" y1="352.3" x2="705.7" y2="352.3" stroke="rgba(0,0,0,0.4)" stroke-width="2"/>
<line x1="693.9" y1="397.3" x2="705.7" y2="397.3" stroke="rgba(0,0,0,0.4)" stroke-width="2"/>
<line x1="723.4" y1="362.2" x2="723.4" y2="363.7" stroke="rgba(0,0,0,0.32)" stroke-width="2.6"/>
<line x1="717.5" y1="355.9" x2="729.3" y2="355.9" stroke="rgba(0,0,0,0.4)" stroke-width="2"/>
<line x1="717.5" y1="363.7" x2="729.3" y2="363.7" stroke="rgba(0,0,0,0.4)" stroke-width="2"/>
<line x1="748.3" y1="260" x2="748.3" y2="286.4" stroke="rgba(0,0,0,0.32)" stroke-width="2.6"/>
<line x1="748.3" y1="295.8" x2="748.3" y2="371.4" stroke="rgba(0,0,0,0.32)" stroke-width="2.6"/>
<line x1="742.4" y1="260" x2="754.2" y2="260" stroke="rgba(0,0,0,0.4)" stroke-width="2"/>
<line x1="742.4" y1="371.4" x2="754.2" y2="371.4" stroke="rgba(0,0,0,0.4)" stroke-width="2"/>
<line x1="746.1" y1="310" x2="757.9" y2="310" stroke="rgba(0,0,0,0.4)" stroke-width="2"/>
<line x1="746.1" y1="313.2" x2="757.9" y2="313.2" stroke="rgba(0,0,0,0.4)" stroke-width="2"/>
<line x1="759.5" y1="273" x2="759.5" y2="274" stroke="rgba(0,0,0,0.32)" stroke-width="2.6"/>
<line x1="759.5" y1="283.4" x2="759.5" y2="284" stroke="rgba(0,0,0,0.32)" stroke-width="2.6"/>
<line x1="753.6" y1="273" x2="765.4" y2="273" stroke="rgba(0,0,0,0.4)" stroke-width="2"/>
<line x1="753.6" y1="284" x2="765.4" y2="284" stroke="rgba(0,0,0,0.4)" stroke-width="2"/>
<line x1="756.1" y1="298.2" x2="767.9" y2="298.2" stroke="rgba(0,0,0,0.4)" stroke-width="2"/>
<line x1="756.1" y1="301.4" x2="767.9" y2="301.4" stroke="rgba(0,0,0,0.4)" stroke-width="2"/>
<line x1="759.5" y1="329.4" x2="759.5" y2="341.5" stroke="rgba(0,0,0,0.32)" stroke-width="2.6"/>
<line x1="753.6" y1="323.1" x2="765.4" y2="323.1" stroke="rgba(0,0,0,0.4)" stroke-width="2"/>
<line x1="753.6" y1="341.5" x2="765.4" y2="341.5" stroke="rgba(0,0,0,0.4)" stroke-width="2"/>
<line x1="764.1" y1="287" x2="775.9" y2="287" stroke="rgba(0,0,0,0.4)" stroke-width="2"/>
<line x1="764.1" y1="290.2" x2="775.9" y2="290.2" stroke="rgba(0,0,0,0.4)" stroke-width="2"/>
<line x1="764.1" y1="305.7" x2="775.9" y2="305.7" stroke="rgba(0,0,0,0.4)" stroke-width="2"/>
<line x1="764.1" y1="308.9" x2="775.9" y2="308.9" stroke="rgba(0,0,0,0.4)" stroke-width="2"/>
<line x1="773.1" y1="268" x2="773.1" y2="311.9" stroke="rgba(0,0,0,0.32)" stroke-width="2.6"/>
<line x1="773.1" y1="321.3" x2="773.1" y2="371.8" stroke="rgba(0,0,0,0.32)" stroke-width="2.6"/>
<line x1="767.2" y1="268" x2="779" y2="268" stroke="rgba(0,0,0,0.4)" stroke-width="2"/>
<line x1="767.2" y1="371.8" x2="779" y2="371.8" stroke="rgba(0,0,0,0.4)" stroke-width="2"/>
<line x1="780.6" y1="268.1" x2="780.6" y2="270.8" stroke="rgba(0,0,0,0.32)" stroke-width="2.6"/>
<line x1="780.6" y1="280.2" x2="780.6" y2="283.6" stroke="rgba(0,0,0,0.32)" stroke-width="2.6"/>
<line x1="774.7" y1="268.1" x2="786.5" y2="268.1" stroke="rgba(0,0,0,0.4)" stroke-width="2"/>
<line x1="774.7" y1="283.6" x2="786.5" y2="283.6" stroke="rgba(0,0,0,0.4)" stroke-width="2"/>
<line x1="772.2" y1="279.5" x2="784" y2="279.5" stroke="rgba(0,0,0,0.4)" stroke-width="2"/>
<line x1="772.2" y1="282.7" x2="784" y2="282.7" stroke="rgba(0,0,0,0.4)" stroke-width="2"/>
<line x1="779.1" y1="305.4" x2="790.9" y2="305.4" stroke="rgba(0,0,0,0.4)" stroke-width="2"/>
<line x1="779.1" y1="308.6" x2="790.9" y2="308.6" stroke="rgba(0,0,0,0.4)" stroke-width="2"/>
<line x1="779.1" y1="322.5" x2="790.9" y2="322.5" stroke="rgba(0,0,0,0.4)" stroke-width="2"/>
<line x1="779.1" y1="325.7" x2="790.9" y2="325.7" stroke="rgba(0,0,0,0.4)" stroke-width="2"/>
<line x1="683.9" y1="372.7" x2="695.7" y2="372.7" stroke="rgba(0,0,0,0.4)" stroke-width="2"/>
<line x1="683.9" y1="375.9" x2="695.7" y2="375.9" stroke="rgba(0,0,0,0.4)" stroke-width="2"/>
<line x1="676.4" y1="372.7" x2="688.2" y2="372.7" stroke="rgba(0,0,0,0.4)" stroke-width="2"/>
<line x1="676.4" y1="375.9" x2="688.2" y2="375.9" stroke="rgba(0,0,0,0.4)" stroke-width="2"/>
<line x1="690.4" y1="300" x2="690.4" y2="395.3" stroke="rgba(0,0,0,0.32)" stroke-width="2.6"/>
<line x1="690.4" y1="404.7" x2="690.4" y2="438.9" stroke="rgba(0,0,0,0.32)" stroke-width="2.6"/>
<line x1="684.5" y1="300" x2="696.3" y2="300" stroke="rgba(0,0,0,0.4)" stroke-width="2"/>
<line x1="684.5" y1="438.9" x2="696.3" y2="438.9" stroke="rgba(0,0,0,0.4)" stroke-width="2"/>
<line x1="755.4" y1="366.4" x2="767.2" y2="366.4" stroke="rgba(0,0,0,0.4)" stroke-width="2"/>
<line x1="755.4" y1="369.6" x2="767.2" y2="369.6" stroke="rgba(0,0,0,0.4)" stroke-width="2"/>
<line x1="766.3" y1="389.6" x2="766.3" y2="398.2" stroke="rgba(0,0,0,0.32)" stroke-width="2.6"/>
<line x1="766.3" y1="407.6" x2="766.3" y2="416.9" stroke="rgba(0,0,0,0.32)" stroke-width="2.6"/>
<line x1="760.4" y1="389.6" x2="772.2" y2="389.6" stroke="rgba(0,0,0,0.4)" stroke-width="2"/>
<line x1="760.4" y1="416.9" x2="772.2" y2="416.9" stroke="rgba(0,0,0,0.4)" stroke-width="2"/>
<line x1="729.3" y1="410" x2="741.1" y2="410" stroke="rgba(0,0,0,0.4)" stroke-width="2"/>
<line x1="729.3" y1="413.2" x2="741.1" y2="413.2" stroke="rgba(0,0,0,0.4)" stroke-width="2"/>
<line x1="717" y1="428" x2="717" y2="462.4" stroke="rgba(0,0,0,0.32)" stroke-width="2.6"/>
<line x1="717" y1="471.8" x2="717" y2="544.9" stroke="rgba(0,0,0,0.32)" stroke-width="2.6"/>
<line x1="711.1" y1="428" x2="722.9" y2="428" stroke="rgba(0,0,0,0.4)" stroke-width="2"/>
<line x1="711.1" y1="544.9" x2="722.9" y2="544.9" stroke="rgba(0,0,0,0.4)" stroke-width="2"/>
<line x1="839.3" y1="220.5" x2="839.3" y2="228.1" stroke="rgba(0,0,0,0.32)" stroke-width="2.6"/>
<line x1="839.3" y1="237.5" x2="839.3" y2="248.5" stroke="rgba(0,0,0,0.32)" stroke-width="2.6"/>
<line x1="833.4" y1="220.5" x2="845.2" y2="220.5" stroke="rgba(0,0,0,0.4)" stroke-width="2"/>
<line x1="833.4" y1="248.5" x2="845.2" y2="248.5" stroke="rgba(0,0,0,0.4)" stroke-width="2"/>
<line x1="926" y1="327.9" x2="937.8" y2="327.9" stroke="rgba(0,0,0,0.4)" stroke-width="2"/>
<line x1="926" y1="331.1" x2="937.8" y2="331.1" stroke="rgba(0,0,0,0.4)" stroke-width="2"/>
<line x1="264.1" y1="308.7" x2="275.9" y2="308.7" stroke="rgba(0,0,0,0.4)" stroke-width="2"/>
<line x1="264.1" y1="311.9" x2="275.9" y2="311.9" stroke="rgba(0,0,0,0.4)" stroke-width="2"/>
<line x1="208.7" y1="69" x2="208.7" y2="88.3" stroke="#008000" stroke-width="3"/>
<line x1="202.8" y1="69" x2="214.6" y2="69" stroke="#008000" stroke-width="2"/>
<line x1="202.8" y1="88.3" x2="214.6" y2="88.3" stroke="#008000" stroke-width="2"/>
<line x1="210.6" y1="131" x2="210.6" y2="213.6" stroke="#008000" stroke-width="3"/>
<line x1="204.7" y1="131" x2="216.5" y2="131" stroke="#008000" stroke-width="2"/>
<line x1="204.7" y1="213.6" x2="216.5" y2="213.6" stroke="#008000" stroke-width="2"/>
<line x1="244.1" y1="232.1" x2="244.1" y2="269.8" stroke="#008000" stroke-width="3"/>
<line x1="238.2" y1="232.1" x2="250" y2="232.1" stroke="#008000" stroke-width="2"/>
<line x1="238.2" y1="269.8" x2="250" y2="269.8" stroke="#008000" stroke-width="2"/>
<line x1="255.7" y1="201.8" x2="255.7" y2="337.5" stroke="#008000" stroke-width="3"/>
<line x1="249.8" y1="201.8" x2="261.6" y2="201.8" stroke="#008000" stroke-width="2"/>
<line x1="249.8" y1="337.5" x2="261.6" y2="337.5" stroke="#008000" stroke-width="2"/>
<line x1="286.4" y1="265.6" x2="286.4" y2="268.8" stroke="#008000" stroke-width="3"/>
<line x1="280.5" y1="265.6" x2="292.3" y2="265.6" stroke="#008000" stroke-width="2"/>
<line x1="280.5" y1="268.8" x2="292.3" y2="268.8" stroke="#008000" stroke-width="2"/>
<line x1="323" y1="228" x2="323" y2="357.3" stroke="#008000" stroke-width="3"/>
<line x1="317.1" y1="228" x2="328.9" y2="228" stroke="#008000" stroke-width="2"/>
<line x1="317.1" y1="357.3" x2="328.9" y2="357.3" stroke="#008000" stroke-width="2"/>
<line x1="337.6" y1="265.2" x2="337.6" y2="294.5" stroke="#008000" stroke-width="3"/>
<line x1="331.7" y1="265.2" x2="343.5" y2="265.2" stroke="#008000" stroke-width="2"/>
<line x1="331.7" y1="294.5" x2="343.5" y2="294.5" stroke="#008000" stroke-width="2"/>
<line x1="352.9" y1="283.3" x2="352.9" y2="286.5" stroke="#008000" stroke-width="3"/>
<line x1="347" y1="283.3" x2="358.8" y2="283.3" stroke="#008000" stroke-width="2"/>
<line x1="347" y1="286.5" x2="358.8" y2="286.5" stroke="#008000" stroke-width="2"/>
<line x1="393.8" y1="216.5" x2="393.8" y2="271.9" stroke="#008000" stroke-width="3"/>
<line x1="387.9" y1="216.5" x2="399.7" y2="216.5" stroke="#008000" stroke-width="2"/>
<line x1="387.9" y1="271.9" x2="399.7" y2="271.9" stroke="#008000" stroke-width="2"/>
<line x1="387.7" y1="258.8" x2="387.7" y2="279.7" stroke="#008000" stroke-width="3"/>
<line x1="381.8" y1="258.8" x2="393.6" y2="258.8" stroke="#008000" stroke-width="2"/>
<line x1="381.8" y1="279.7" x2="393.6" y2="279.7" stroke="#008000" stroke-width="2"/>
<line x1="405.2" y1="277.4" x2="405.2" y2="381.2" stroke="#008000" stroke-width="3"/>
<line x1="399.3" y1="277.4" x2="411.1" y2="277.4" stroke="#008000" stroke-width="2"/>
<line x1="399.3" y1="381.2" x2="411.1" y2="381.2" stroke="#008000" stroke-width="2"/>
<line x1="304.2" y1="295.7" x2="304.2" y2="319.2" stroke="#008000" stroke-width="3"/>
<line x1="298.3" y1="295.7" x2="310.1" y2="295.7" stroke="#008000" stroke-width="2"/>
<line x1="298.3" y1="319.2" x2="310.1" y2="319.2" stroke="#008000" stroke-width="2"/>
<line x1="165.4" y1="283.3" x2="165.4" y2="286.5" stroke="#008000" stroke-width="3"/>
<line x1="159.5" y1="283.3" x2="171.3" y2="283.3" stroke="#008000" stroke-width="2"/>
<line x1="159.5" y1="286.5" x2="171.3" y2="286.5" stroke="#008000" stroke-width="2"/>
<line x1="179.3" y1="298.8" x2="179.3" y2="346.6" stroke="#008000" stroke-width="3"/>
<line x1="173.4" y1="298.8" x2="185.2" y2="298.8" stroke="#008000" stroke-width="2"/>
<line x1="173.4" y1="346.6" x2="185.2" y2="346.6" stroke="#008000" stroke-width="2"/>
<line x1="185.3" y1="305" x2="185.3" y2="366" stroke="#008000" stroke-width="3"/>
<line x1="179.4" y1="305" x2="191.2" y2="305" stroke="#008000" stroke-width="2"/>
<line x1="179.4" y1="366" x2="191.2" y2="366" stroke="#008000" stroke-width="2"/>
<line x1="198.8" y1="305" x2="198.8" y2="393.1" stroke="#008000" stroke-width="3"/>
<line x1="192.9" y1="305" x2="204.7" y2="305" stroke="#008000" stroke-width="2"/>
<line x1="192.9" y1="393.1" x2="204.7" y2="393.1" stroke="#008000" stroke-width="2"/>
<line x1="204.5" y1="337.4" x2="204.5" y2="345.3" stroke="#008000" stroke-width="3"/>
<line x1="198.6" y1="337.4" x2="210.4" y2="337.4" stroke="#008000" stroke-width="2"/>
<line x1="198.6" y1="345.3" x2="210.4" y2="345.3" stroke="#008000" stroke-width="2"/>
<line x1="197.9" y1="348.5" x2="197.9" y2="351.7" stroke="#008000" stroke-width="3"/>
<line x1="192" y1="348.5" x2="203.8" y2="348.5" stroke="#008000" stroke-width="2"/>
<line x1="192" y1="351.7" x2="203.8" y2="351.7" stroke="#008000" stroke-width="2"/>
<line x1="220.1" y1="334.5" x2="220.1" y2="337.7" stroke="#008000" stroke-width="3"/>
<line x1="214.2" y1="334.5" x2="226" y2="334.5" stroke="#008000" stroke-width="2"/>
<line x1="214.2" y1="337.7" x2="226" y2="337.7" stroke="#008000" stroke-width="2"/>
<line x1="226.7" y1="330.6" x2="226.7" y2="333.8" stroke="#008000" stroke-width="3"/>
<line x1="220.8" y1="330.6" x2="232.6" y2="330.6" stroke="#008000" stroke-width="2"/>
<line x1="220.8" y1="333.8" x2="232.6" y2="333.8" stroke="#008000" stroke-width="2"/>
<line x1="225.8" y1="341" x2="225.8" y2="344.2" stroke="#008000" stroke-width="3"/>
<line x1="219.9" y1="341" x2="231.7" y2="341" stroke="#008000" stroke-width="2"/>
<line x1="219.9" y1="344.2" x2="231.7" y2="344.2" stroke="#008000" stroke-width="2"/>
<line x1="219.7" y1="349.3" x2="219.7" y2="352.5" stroke="#008000" stroke-width="3"/>
<line x1="213.8" y1="349.3" x2="225.6" y2="349.3" stroke="#008000" stroke-width="2"/>
<line x1="213.8" y1="352.5" x2="225.6" y2="352.5" stroke="#008000" stroke-width="2"/>
<line x1="224.9" y1="350.6" x2="224.9" y2="358.3" stroke="#008000" stroke-width="3"/>
<line x1="219" y1="350.6" x2="230.8" y2="350.6" stroke="#008000" stroke-width="2"/>
<line x1="219" y1="358.3" x2="230.8" y2="358.3" stroke="#008000" stroke-width="2"/>
<line x1="239.3" y1="324.5" x2="239.3" y2="332.6" stroke="#008000" stroke-width="3"/>
<line x1="233.4" y1="324.5" x2="245.2" y2="324.5" stroke="#008000" stroke-width="2"/>
<line x1="233.4" y1="332.6" x2="245.2" y2="332.6" stroke="#008000" stroke-width="2"/>
<line x1="237.6" y1="348" x2="237.6" y2="351.2" stroke="#008000" stroke-width="3"/>
<line x1="231.7" y1="348" x2="243.5" y2="348" stroke="#008000" stroke-width="2"/>
<line x1="231.7" y1="351.2" x2="243.5" y2="351.2" stroke="#008000" stroke-width="2"/>
<line x1="245.4" y1="348" x2="245.4" y2="351.2" stroke="#008000" stroke-width="3"/>
<line x1="239.5" y1="348" x2="251.3" y2="348" stroke="#008000" stroke-width="2"/>
<line x1="239.5" y1="351.2" x2="251.3" y2="351.2" stroke="#008000" stroke-width="2"/>
<line x1="235.8" y1="359.2" x2="235.8" y2="372.3" stroke="#008000" stroke-width="3"/>
<line x1="229.9" y1="359.2" x2="241.7" y2="359.2" stroke="#008000" stroke-width="2"/>
<line x1="229.9" y1="372.3" x2="241.7" y2="372.3" stroke="#008000" stroke-width="2"/>
<line x1="256.7" y1="351.1" x2="256.7" y2="354.3" stroke="#008000" stroke-width="3"/>
<line x1="250.8" y1="351.1" x2="262.6" y2="351.1" stroke="#008000" stroke-width="2"/>
<line x1="250.8" y1="354.3" x2="262.6" y2="354.3" stroke="#008000" stroke-width="2"/>
<line x1="258.5" y1="356.7" x2="258.5" y2="359.9" stroke="#008000" stroke-width="3"/>
<line x1="252.6" y1="356.7" x2="264.4" y2="356.7" stroke="#008000" stroke-width="2"/>
<line x1="252.6" y1="359.9" x2="264.4" y2="359.9" stroke="#008000" stroke-width="2"/>
<line x1="254.1" y1="363.7" x2="254.1" y2="373.1" stroke="#008000" stroke-width="3"/>
<line x1="248.2" y1="363.7" x2="260" y2="363.7" stroke="#008000" stroke-width="2"/>
<line x1="248.2" y1="373.1" x2="260" y2="373.1" stroke="#008000" stroke-width="2"/>
<line x1="285" y1="339.7" x2="285" y2="342.9" stroke="#008000" stroke-width="3"/>
<line x1="279.1" y1="339.7" x2="290.9" y2="339.7" stroke="#008000" stroke-width="2"/>
<line x1="279.1" y1="342.9" x2="290.9" y2="342.9" stroke="#008000" stroke-width="2"/>
<line x1="279.4" y1="351.9" x2="279.4" y2="355.1" stroke="#008000" stroke-width="3"/>
<line x1="273.5" y1="351.9" x2="285.3" y2="351.9" stroke="#008000" stroke-width="2"/>
<line x1="273.5" y1="355.1" x2="285.3" y2="355.1" stroke="#008000" stroke-width="2"/>
<line x1="279.4" y1="356.7" x2="279.4" y2="359.9" stroke="#008000" stroke-width="3"/>
<line x1="273.5" y1="356.7" x2="285.3" y2="356.7" stroke="#008000" stroke-width="2"/>
<line x1="273.5" y1="359.9" x2="285.3" y2="359.9" stroke="#008000" stroke-width="2"/>
<line x1="272.4" y1="360.2" x2="272.4" y2="363.4" stroke="#008000" stroke-width="3"/>
<line x1="266.5" y1="360.2" x2="278.3" y2="360.2" stroke="#008000" stroke-width="2"/>
<line x1="266.5" y1="363.4" x2="278.3" y2="363.4" stroke="#008000" stroke-width="2"/>
<line x1="282.4" y1="363.3" x2="282.4" y2="375.3" stroke="#008000" stroke-width="3"/>
<line x1="276.5" y1="363.3" x2="288.3" y2="363.3" stroke="#008000" stroke-width="2"/>
<line x1="276.5" y1="375.3" x2="288.3" y2="375.3" stroke="#008000" stroke-width="2"/>
<line x1="169.6" y1="367.6" x2="169.6" y2="370.8" stroke="#008000" stroke-width="3"/>
<line x1="163.7" y1="367.6" x2="175.5" y2="367.6" stroke="#008000" stroke-width="2"/>
<line x1="163.7" y1="370.8" x2="175.5" y2="370.8" stroke="#008000" stroke-width="2"/>
<line x1="172.2" y1="370" x2="172.2" y2="404.2" stroke="#008000" stroke-width="3"/>
<line x1="166.3" y1="370" x2="178.1" y2="370" stroke="#008000" stroke-width="2"/>
<line x1="166.3" y1="404.2" x2="178.1" y2="404.2" stroke="#008000" stroke-width="2"/>
<line x1="200.1" y1="379.4" x2="200.1" y2="382.6" stroke="#008000" stroke-width="3"/>
<line x1="194.2" y1="379.4" x2="206" y2="379.4" stroke="#008000" stroke-width="2"/>
<line x1="194.2" y1="382.6" x2="206" y2="382.6" stroke="#008000" stroke-width="2"/>
<line x1="209.7" y1="369.7" x2="209.7" y2="393.9" stroke="#008000" stroke-width="3"/>
<line x1="203.8" y1="369.7" x2="215.6" y2="369.7" stroke="#008000" stroke-width="2"/>
<line x1="203.8" y1="393.9" x2="215.6" y2="393.9" stroke="#008000" stroke-width="2"/>
<line x1="223.6" y1="380.2" x2="223.6" y2="383.4" stroke="#008000" stroke-width="3"/>
<line x1="217.7" y1="380.2" x2="229.5" y2="380.2" stroke="#008000" stroke-width="2"/>
<line x1="217.7" y1="383.4" x2="229.5" y2="383.4" stroke="#008000" stroke-width="2"/>
<line x1="238.4" y1="384.6" x2="238.4" y2="387.8" stroke="#008000" stroke-width="3"/>
<line x1="232.5" y1="384.6" x2="244.3" y2="384.6" stroke="#008000" stroke-width="2"/>
<line x1="232.5" y1="387.8" x2="244.3" y2="387.8" stroke="#008000" stroke-width="2"/>
<line x1="266.3" y1="383.7" x2="266.3" y2="386.9" stroke="#008000" stroke-width="3"/>
<line x1="260.4" y1="383.7" x2="272.2" y2="383.7" stroke="#008000" stroke-width="2"/>
<line x1="260.4" y1="386.9" x2="272.2" y2="386.9" stroke="#008000" stroke-width="2"/>
<line x1="281.1" y1="384.6" x2="281.1" y2="387.8" stroke="#008000" stroke-width="3"/>
<line x1="275.2" y1="384.6" x2="287" y2="384.6" stroke="#008000" stroke-width="2"/>
<line x1="275.2" y1="387.8" x2="287" y2="387.8" stroke="#008000" stroke-width="2"/>
<line x1="241" y1="387.1" x2="241" y2="390.3" stroke="#008000" stroke-width="3"/>
<line x1="235.1" y1="387.1" x2="246.9" y2="387.1" stroke="#008000" stroke-width="2"/>
<line x1="235.1" y1="390.3" x2="246.9" y2="390.3" stroke="#008000" stroke-width="2"/>
<line x1="207.9" y1="395.8" x2="207.9" y2="399" stroke="#008000" stroke-width="3"/>
<line x1="202" y1="395.8" x2="213.8" y2="395.8" stroke="#008000" stroke-width="2"/>
<line x1="202" y1="399" x2="213.8" y2="399" stroke="#008000" stroke-width="2"/>
<line x1="209.7" y1="401" x2="209.7" y2="413.1" stroke="#008000" stroke-width="3"/>
<line x1="203.8" y1="401" x2="215.6" y2="401" stroke="#008000" stroke-width="2"/>
<line x1="203.8" y1="413.1" x2="215.6" y2="413.1" stroke="#008000" stroke-width="2"/>
<line x1="221.9" y1="395" x2="221.9" y2="398.2" stroke="#008000" stroke-width="3"/>
<line x1="216" y1="395" x2="227.8" y2="395" stroke="#008000" stroke-width="2"/>
<line x1="216" y1="398.2" x2="227.8" y2="398.2" stroke="#008000" stroke-width="2"/>
<line x1="228.9" y1="398" x2="228.9" y2="401.2" stroke="#008000" stroke-width="3"/>
<line x1="223" y1="398" x2="234.8" y2="398" stroke="#008000" stroke-width="2"/>
<line x1="223" y1="401.2" x2="234.8" y2="401.2" stroke="#008000" stroke-width="2"/>
<line x1="193.1" y1="410.5" x2="193.1" y2="420.9" stroke="#008000" stroke-width="3"/>
<line x1="187.2" y1="410.5" x2="199" y2="410.5" stroke="#008000" stroke-width="2"/>
<line x1="187.2" y1="420.9" x2="199" y2="420.9" stroke="#008000" stroke-width="2"/>
<line x1="187" y1="398.7" x2="187" y2="449.4" stroke="#008000" stroke-width="3"/>
<line x1="181.1" y1="398.7" x2="192.9" y2="398.7" stroke="#008000" stroke-width="2"/>
<line x1="181.1" y1="449.4" x2="192.9" y2="449.4" stroke="#008000" stroke-width="2"/>
<line x1="233.6" y1="431.5" x2="233.6" y2="434.7" stroke="#008000" stroke-width="3"/>
<line x1="227.7" y1="431.5" x2="239.5" y2="431.5" stroke="#008000" stroke-width="2"/>
<line x1="227.7" y1="434.7" x2="239.5" y2="434.7" stroke="#008000" stroke-width="2"/>
<line x1="257.6" y1="426.2" x2="257.6" y2="453" stroke="#008000" stroke-width="3"/>
<line x1="251.7" y1="426.2" x2="263.5" y2="426.2" stroke="#008000" stroke-width="2"/>
<line x1="251.7" y1="453" x2="263.5" y2="453" stroke="#008000" stroke-width="2"/>
<line x1="304.2" y1="418.9" x2="304.2" y2="422.1" stroke="#008000" stroke-width="3"/>
<line x1="298.3" y1="418.9" x2="310.1" y2="418.9" stroke="#008000" stroke-width="2"/>
<line x1="298.3" y1="422.1" x2="310.1" y2="422.1" stroke="#008000" stroke-width="2"/>
<line x1="308.1" y1="446.3" x2="308.1" y2="449.5" stroke="#008000" stroke-width="3"/>
<line x1="302.2" y1="446.3" x2="314" y2="446.3" stroke="#008000" stroke-width="2"/>
<line x1="302.2" y1="449.5" x2="314" y2="449.5" stroke="#008000" stroke-width="2"/>
<line x1="259.3" y1="454.1" x2="259.3" y2="457.3" stroke="#008000" stroke-width="3"/>
<line x1="253.4" y1="454.1" x2="265.2" y2="454.1" stroke="#008000" stroke-width="2"/>
<line x1="253.4" y1="457.3" x2="265.2" y2="457.3" stroke="#008000" stroke-width="2"/>
<line x1="260.2" y1="458.4" x2="260.2" y2="461.6" stroke="#008000" stroke-width="3"/>
<line x1="254.3" y1="458.4" x2="266.1" y2="458.4" stroke="#008000" stroke-width="2"/>
<line x1="254.3" y1="461.6" x2="266.1" y2="461.6" stroke="#008000" stroke-width="2"/>
<line x1="248.5" y1="456.3" x2="248.5" y2="459.5" stroke="#008000" stroke-width="3"/>
<line x1="242.6" y1="456.3" x2="254.4" y2="456.3" stroke="#008000" stroke-width="2"/>
<line x1="242.6" y1="459.5" x2="254.4" y2="459.5" stroke="#008000" stroke-width="2"/>
<line x1="272.8" y1="475.4" x2="272.8" y2="478.6" stroke="#008000" stroke-width="3"/>
<line x1="266.9" y1="475.4" x2="278.7" y2="475.4" stroke="#008000" stroke-width="2"/>
<line x1="266.9" y1="478.6" x2="278.7" y2="478.6" stroke="#008000" stroke-width="2"/>
<line x1="218" y1="479.6" x2="218" y2="527.9" stroke="#008000" stroke-width="3"/>
<line x1="212.1" y1="479.6" x2="223.9" y2="479.6" stroke="#008000" stroke-width="2"/>
<line x1="212.1" y1="527.9" x2="223.9" y2="527.9" stroke="#008000" stroke-width="2"/>
<line x1="234.1" y1="499.7" x2="234.1" y2="555.3" stroke="#008000" stroke-width="3"/>
<line x1="228.2" y1="499.7" x2="240" y2="499.7" stroke="#008000" stroke-width="2"/>
<line x1="228.2" y1="555.3" x2="240" y2="555.3" stroke="#008000" stroke-width="2"/>
<line x1="199.2" y1="515" x2="199.2" y2="518.2" stroke="#008000" stroke-width="3"/>
<line x1="193.3" y1="515" x2="205.1" y2="515" stroke="#008000" stroke-width="2"/>
<line x1="193.3" y1="518.2" x2="205.1" y2="518.2" stroke="#008000" stroke-width="2"/>
<line x1="270.2" y1="508.7" x2="270.2" y2="517.4" stroke="#008000" stroke-width="3"/>
<line x1="264.3" y1="508.7" x2="276.1" y2="508.7" stroke="#008000" stroke-width="2"/>
<line x1="264.3" y1="517.4" x2="276.1" y2="517.4" stroke="#008000" stroke-width="2"/>
<line x1="302.9" y1="511.5" x2="302.9" y2="514.7" stroke="#008000" stroke-width="3"/>
<line x1="297" y1="511.5" x2="308.8" y2="511.5" stroke="#008000" stroke-width="2"/>
<line x1="297" y1="514.7" x2="308.8" y2="514.7" stroke="#008000" stroke-width="2"/>
<line x1="217" y1="582.6" x2="217" y2="617" stroke="#008000" stroke-width="3"/>
<line x1="211.1" y1="582.6" x2="222.9" y2="582.6" stroke="#008000" stroke-width="2"/>
<line x1="211.1" y1="617" x2="222.9" y2="617" stroke="#008000" stroke-width="2"/>
<line x1="349.3" y1="367.7" x2="349.3" y2="370.9" stroke="#008000" stroke-width="3"/>
<line x1="343.4" y1="367.7" x2="355.2" y2="367.7" stroke="#008000" stroke-width="2"/>
<line x1="343.4" y1="370.9" x2="355.2" y2="370.9" stroke="#008000" stroke-width="2"/>
<line x1="428.4" y1="364" x2="428.4" y2="411.3" stroke="#008000" stroke-width="3"/>
<line x1="422.5" y1="364" x2="434.3" y2="364" stroke="#008000" stroke-width="2"/>
<line x1="422.5" y1="411.3" x2="434.3" y2="411.3" stroke="#008000" stroke-width="2"/>
<line x1="447.8" y1="362.4" x2="447.8" y2="365.6" stroke="#008000" stroke-width="3"/>
<line x1="441.9" y1="362.4" x2="453.7" y2="362.4" stroke="#008000" stroke-width="2"/>
<line x1="441.9" y1="365.6" x2="453.7" y2="365.6" stroke="#008000" stroke-width="2"/>
<line x1="464.9" y1="344.6" x2="464.9" y2="433.4" stroke="#008000" stroke-width="3"/>
<line x1="459" y1="344.6" x2="470.8" y2="344.6" stroke="#008000" stroke-width="2"/>
<line x1="459" y1="433.4" x2="470.8" y2="433.4" stroke="#008000" stroke-width="2"/>
<line x1="468.7" y1="344.6" x2="468.7" y2="379.7" stroke="#008000" stroke-width="3"/>
<line x1="462.8" y1="344.6" x2="474.6" y2="344.6" stroke="#008000" stroke-width="2"/>
<line x1="462.8" y1="379.7" x2="474.6" y2="379.7" stroke="#008000" stroke-width="2"/>
<line x1="450.7" y1="393.1" x2="450.7" y2="406.6" stroke="#008000" stroke-width="3"/>
<line x1="444.8" y1="393.1" x2="456.6" y2="393.1" stroke="#008000" stroke-width="2"/>
<line x1="444.8" y1="406.6" x2="456.6" y2="406.6" stroke="#008000" stroke-width="2"/>
<line x1="487.3" y1="392.4" x2="487.3" y2="405" stroke="#008000" stroke-width="3"/>
<line x1="481.4" y1="392.4" x2="493.2" y2="392.4" stroke="#008000" stroke-width="2"/>
<line x1="481.4" y1="405" x2="493.2" y2="405" stroke="#008000" stroke-width="2"/>
<line x1="435.1" y1="427.4" x2="435.1" y2="430.6" stroke="#008000" stroke-width="3"/>
<line x1="429.2" y1="427.4" x2="441" y2="427.4" stroke="#008000" stroke-width="2"/>
<line x1="429.2" y1="430.6" x2="441" y2="430.6" stroke="#008000" stroke-width="2"/>
<line x1="423.7" y1="433.2" x2="423.7" y2="451" stroke="#008000" stroke-width="3"/>
<line x1="417.8" y1="433.2" x2="429.6" y2="433.2" stroke="#008000" stroke-width="2"/>
<line x1="417.8" y1="451" x2="429.6" y2="451" stroke="#008000" stroke-width="2"/>
<line x1="371.1" y1="440.5" x2="371.1" y2="443.7" stroke="#008000" stroke-width="3"/>
<line x1="365.2" y1="440.5" x2="377" y2="440.5" stroke="#008000" stroke-width="2"/>
<line x1="365.2" y1="443.7" x2="377" y2="443.7" stroke="#008000" stroke-width="2"/>
<line x1="454.4" y1="447.8" x2="454.4" y2="451" stroke="#008000" stroke-width="3"/>
<line x1="448.5" y1="447.8" x2="460.3" y2="447.8" stroke="#008000" stroke-width="2"/>
<line x1="448.5" y1="451" x2="460.3" y2="451" stroke="#008000" stroke-width="2"/>
<line x1="495.6" y1="444.2" x2="495.6" y2="464.3" stroke="#008000" stroke-width="3"/>
<line x1="489.7" y1="444.2" x2="501.5" y2="444.2" stroke="#008000" stroke-width="2"/>
<line x1="489.7" y1="464.3" x2="501.5" y2="464.3" stroke="#008000" stroke-width="2"/>
<line x1="363.9" y1="477.7" x2="363.9" y2="480.9" stroke="#008000" stroke-width="3"/>
<line x1="358" y1="477.7" x2="369.8" y2="477.7" stroke="#008000" stroke-width="2"/>
<line x1="358" y1="480.9" x2="369.8" y2="480.9" stroke="#008000" stroke-width="2"/>
<line x1="401.9" y1="509.2" x2="401.9" y2="531.1" stroke="#008000" stroke-width="3"/>
<line x1="396" y1="509.2" x2="407.8" y2="509.2" stroke="#008000" stroke-width="2"/>
<line x1="396" y1="531.1" x2="407.8" y2="531.1" stroke="#008000" stroke-width="2"/>
<line x1="422.1" y1="545.6" x2="422.1" y2="548.8" stroke="#008000" stroke-width="3"/>
<line x1="416.2" y1="545.6" x2="428" y2="545.6" stroke="#008000" stroke-width="2"/>
<line x1="416.2" y1="548.8" x2="428" y2="548.8" stroke="#008000" stroke-width="2"/>
<line x1="594.1" y1="418.2" x2="594.1" y2="594.1" stroke="#008000" stroke-width="3"/>
<line x1="588.2" y1="418.2" x2="600" y2="418.2" stroke="#008000" stroke-width="2"/>
<line x1="588.2" y1="594.1" x2="600" y2="594.1" stroke="#008000" stroke-width="2"/>
<line x1="831.9" y1="508.3" x2="831.9" y2="530.5" stroke="#008000" stroke-width="3"/>
<line x1="826" y1="508.3" x2="837.8" y2="508.3" stroke="#008000" stroke-width="2"/>
<line x1="826" y1="530.5" x2="837.8" y2="530.5" stroke="#008000" stroke-width="2"/>
<line x1="191.7" y1="303.2" x2="191.7" y2="306.4" stroke="#008000" stroke-width="3"/>
<line x1="185.8" y1="303.2" x2="197.6" y2="303.2" stroke="#008000" stroke-width="2"/>
<line x1="185.8" y1="306.4" x2="197.6" y2="306.4" stroke="#008000" stroke-width="2"/>
<line x1="223" y1="314.8" x2="223" y2="320.6" stroke="#008000" stroke-width="3"/>
<line x1="217.1" y1="314.8" x2="228.9" y2="314.8" stroke="#008000" stroke-width="2"/>
<line x1="217.1" y1="320.6" x2="228.9" y2="320.6" stroke="#008000" stroke-width="2"/>
<line x1="237.7" y1="266.2" x2="237.7" y2="342" stroke="#008000" stroke-width="3"/>
<line x1="231.8" y1="266.2" x2="243.6" y2="266.2" stroke="#008000" stroke-width="2"/>
<line x1="231.8" y1="342" x2="243.6" y2="342" stroke="#008000" stroke-width="2"/>
<line x1="240.2" y1="308.7" x2="240.2" y2="311.9" stroke="#008000" stroke-width="3"/>
<line x1="234.3" y1="308.7" x2="246.1" y2="308.7" stroke="#008000" stroke-width="2"/>
<line x1="234.3" y1="311.9" x2="246.1" y2="311.9" stroke="#008000" stroke-width="2"/>
<line x1="238.9" y1="320" x2="238.9" y2="332.5" stroke="#008000" stroke-width="3"/>
<line x1="233" y1="320" x2="244.8" y2="320" stroke="#008000" stroke-width="2"/>
<line x1="233" y1="332.5" x2="244.8" y2="332.5" stroke="#008000" stroke-width="2"/>
<line x1="224" y1="316.4" x2="224" y2="319.6" stroke="#008000" stroke-width="3"/>
<line x1="218.1" y1="316.4" x2="229.9" y2="316.4" stroke="#008000" stroke-width="2"/>
<line x1="218.1" y1="319.6" x2="229.9" y2="319.6" stroke="#008000" stroke-width="2"/>
<line x1="805.5" y1="300" x2="805.5" y2="307.9" stroke="#ff0000" stroke-width="3"/>
<line x1="799.6" y1="300" x2="811.4" y2="300" stroke="#ff0000" stroke-width="2"/>
<line x1="799.6" y1="307.9" x2="811.4" y2="307.9" stroke="#ff0000" stroke-width="2"/>
<line x1="858.4" y1="270" x2="858.4" y2="278" stroke="#ff0000" stroke-width="3"/>
<line x1="852.5" y1="270" x2="864.3" y2="270" stroke="#ff0000" stroke-width="2"/>
<line x1="852.5" y1="278" x2="864.3" y2="278" stroke="#ff0000" stroke-width="2"/>
<line x1="858.4" y1="231" x2="858.4" y2="471.5" stroke="#ff0000" stroke-width="3"/>
<line x1="852.5" y1="231" x2="864.3" y2="231" stroke="#ff0000" stroke-width="2"/>
<line x1="852.5" y1="471.5" x2="864.3" y2="471.5" stroke="#ff0000" stroke-width="2"/>
<line x1="893.7" y1="277.6" x2="893.7" y2="287.7" stroke="#ff0000" stroke-width="3"/>
<line x1="887.8" y1="277.6" x2="899.6" y2="277.6" stroke="#ff0000" stroke-width="2"/>
<line x1="887.8" y1="287.7" x2="899.6" y2="287.7" stroke="#ff0000" stroke-width="2"/>
<path d="M77 439.42 L123.1 439.42 L129.96 439.19 L136.82 438.95 L143.68 438.69 L150.54 438.41 L157.4 438.12 L164.26 437.8 L171.12 437.46 L177.98 437.11 L184.84 436.72 L191.7 436.31 L198.56 435.88 L205.42 435.42 L212.28 434.92 L219.14 434.4 L226 433.84 L232.86 433.24 L239.72 432.61 L246.58 431.94 L253.44 431.22 L260.3 430.46 L267.16 429.66 L274.02 428.81 L280.88 427.9 L287.74 426.94 L294.6 425.93 L301.46 424.86 L308.32 423.72 L315.18 422.53 L322.04 421.26 L328.9 419.93 L335.76 418.53 L342.62 417.05 L349.48 415.5 L356.34 413.87 L363.2 412.16 L370.06 410.36 L376.92 408.48 L383.78 406.52 L390.64 404.46 L397.5 402.32 L404.36 400.08 L411.22 397.76 L418.08 395.34 L424.94 392.82 L431.8 390.21 L438.66 387.5 L445.52 384.7 L452.38 381.8 L459.24 378.81 L466.1 375.72 L472.96 372.54 L479.82 369.26 L486.68 365.9 L493.54 362.44 L500.4 358.89 L507.26 355.26 L514.12 351.54 L520.98 347.74 L527.84 343.85 L534.7 339.89 L541.56 335.85 L548.42 331.74 L555.28 327.56 L562.14 323.3 L569 318.98 L575.86 314.59 L582.72 310.15 L589.58 305.64 L596.44 301.08 L603.3 296.46 L610.16 291.79 L617.02 287.07 L623.88 282.3 L630.74 277.49 L637.6 272.64 L644.46 267.75 L651.32 262.82 L658.18 257.85 L665.04 252.84 L671.9 247.81 L678.76 242.74 L685.62 237.65 L692.48 232.53 L699.34 227.38 L706.2 222.21 L713.06 217.01 L719.92 211.8 L726.78 206.56 L733.64 201.3 L740.5 196.03 L747.36 190.74 L754.22 185.43 L761.08 180.11 L767.94 174.77 L774.8 169.43 L781.66 164.07 L788.52 158.69 L795.38 153.31 L802.24 147.92 L809.1 142.51 L815.96 137.1 L822.82 131.68 L829.68 126.26 L836.54 120.82 L843.4 115.38 L850.26 109.93 L857.12 104.48 L863.98 99.02 L870.84 93.56 L877.7 88.09 L884.56 82.61 L891.42 77.13 L898.28 71.65 L905.14 66.17 L912 60.68 L918.86 55.19 L925.72 49.69 L932.58 44.19 L939.44 38.69 L946.3 33.19" fill="none" stroke="#d62728" stroke-width="3" stroke-linecap="butt" stroke-linejoin="round"/>
<path d="M77 439.03 L123.1 439.03 L129.96 438.81 L136.82 438.57 L143.68 438.32 L150.54 438.05 L157.4 437.77 L164.26 437.47 L171.12 437.15 L177.98 436.82 L184.84 436.46 L191.7 436.08 L198.56 435.68 L205.42 435.26 L212.28 434.82 L219.14 434.35 L226 433.85 L232.86 433.32 L239.72 432.76 L246.58 432.18 L253.44 431.56 L260.3 430.9 L267.16 430.21 L274.02 429.49 L280.88 428.72 L287.74 427.92 L294.6 427.07 L301.46 426.18 L308.32 425.24 L315.18 424.25 L322.04 423.22 L328.9 422.13 L335.76 420.99 L342.62 419.8 L349.48 418.55 L356.34 417.24 L363.2 415.88 L370.06 414.45 L376.92 412.96 L383.78 411.4 L390.64 409.78 L397.5 408.09 L404.36 406.33 L411.22 404.5 L418.08 402.6 L424.94 400.63 L431.8 398.58 L438.66 396.46 L445.52 394.27 L452.38 392 L459.24 389.66 L466.1 387.24 L472.96 384.75 L479.82 382.18 L486.68 379.53 L493.54 376.81 L500.4 374.02 L507.26 371.15 L514.12 368.21 L520.98 365.19 L527.84 362.11 L534.7 358.95 L541.56 355.73 L548.42 352.44 L555.28 349.08 L562.14 345.66 L569 342.17 L575.86 338.62 L582.72 335.01 L589.58 331.35 L596.44 327.63 L603.3 323.85 L610.16 320.02 L617.02 316.14 L623.88 312.2 L630.74 308.23 L637.6 304.2 L644.46 300.13 L651.32 296.02 L658.18 291.87 L665.04 287.68 L671.9 283.45 L678.76 279.18 L685.62 274.88 L692.48 270.55 L699.34 266.19 L706.2 261.8 L713.06 257.38 L719.92 252.93 L726.78 248.45 L733.64 243.96 L740.5 239.44 L747.36 234.89 L754.22 230.33 L761.08 225.74 L767.94 221.14 L774.8 216.52 L781.66 211.88 L788.52 207.23 L795.38 202.56 L802.24 197.88 L809.1 193.18 L815.96 188.47 L822.82 183.75 L829.68 179.01 L836.54 174.27 L843.4 169.51 L850.26 164.75 L857.12 159.98 L863.98 155.2 L870.84 150.4 L877.7 145.61 L884.56 140.8 L891.42 135.99 L898.28 131.17 L905.14 126.35 L912 121.52 L918.86 116.68 L925.72 111.84 L932.58 106.99 L939.44 102.14 L946.3 97.29" fill="none" stroke="#9467bd" stroke-width="3" stroke-linecap="butt" stroke-linejoin="round"/>
<path d="M77 438.53 L123.1 438.53 L129.96 438.31 L136.82 438.08 L143.68 437.83 L150.54 437.57 L157.4 437.3 L164.26 437.02 L171.12 436.72 L177.98 436.4 L184.84 436.07 L191.7 435.72 L198.56 435.35 L205.42 434.97 L212.28 434.57 L219.14 434.14 L226 433.7 L232.86 433.23 L239.72 432.74 L246.58 432.23 L253.44 431.69 L260.3 431.13 L267.16 430.54 L274.02 429.92 L280.88 429.27 L287.74 428.59 L294.6 427.89 L301.46 427.14 L308.32 426.37 L315.18 425.56 L322.04 424.72 L328.9 423.83 L335.76 422.91 L342.62 421.95 L349.48 420.95 L356.34 419.91 L363.2 418.82 L370.06 417.69 L376.92 416.52 L383.78 415.29 L390.64 414.03 L397.5 412.71 L404.36 411.34 L411.22 409.92 L418.08 408.45 L424.94 406.93 L431.8 405.35 L438.66 403.72 L445.52 402.04 L452.38 400.3 L459.24 398.5 L466.1 396.65 L472.96 394.74 L479.82 392.78 L486.68 390.75 L493.54 388.67 L500.4 386.53 L507.26 384.33 L514.12 382.08 L520.98 379.76 L527.84 377.39 L534.7 374.97 L541.56 372.48 L548.42 369.94 L555.28 367.35 L562.14 364.69 L569 361.99 L575.86 359.23 L582.72 356.42 L589.58 353.55 L596.44 350.64 L603.3 347.67 L610.16 344.66 L617.02 341.6 L623.88 338.49 L630.74 335.33 L637.6 332.13 L644.46 328.89 L651.32 325.6 L658.18 322.27 L665.04 318.91 L671.9 315.5 L678.76 312.05 L685.62 308.57 L692.48 305.06 L699.34 301.51 L706.2 297.92 L713.06 294.31 L719.92 290.66 L726.78 286.99 L733.64 283.29 L740.5 279.56 L747.36 275.8 L754.22 272.02 L761.08 268.21 L767.94 264.38 L774.8 260.53 L781.66 256.65 L788.52 252.76 L795.38 248.85 L802.24 244.91 L809.1 240.96 L815.96 236.99 L822.82 233.01 L829.68 229.01 L836.54 225 L843.4 220.97 L850.26 216.92 L857.12 212.87 L863.98 208.8 L870.84 204.72 L877.7 200.63 L884.56 196.53 L891.42 192.41 L898.28 188.29 L905.14 184.16 L912 180.02 L918.86 175.87 L925.72 171.71 L932.58 167.55 L939.44 163.38 L946.3 159.2" fill="none" stroke="#8c564b" stroke-width="3" stroke-linecap="butt" stroke-linejoin="round"/>
<path d="M77 436.93 L123.1 436.93 L129.96 436.71 L136.82 436.49 L143.68 436.26 L150.54 436.02 L157.4 435.77 L164.26 435.51 L171.12 435.24 L177.98 434.97 L184.84 434.68 L191.7 434.38 L198.56 434.08 L205.42 433.76 L212.28 433.43 L219.14 433.09 L226 432.74 L232.86 432.37 L239.72 432 L246.58 431.61 L253.44 431.2 L260.3 430.79 L267.16 430.36 L274.02 429.91 L280.88 429.45 L287.74 428.98 L294.6 428.49 L301.46 427.98 L308.32 427.46 L315.18 426.92 L322.04 426.36 L328.9 425.79 L335.76 425.19 L342.62 424.58 L349.48 423.95 L356.34 423.3 L363.2 422.63 L370.06 421.94 L376.92 421.23 L383.78 420.5 L390.64 419.74 L397.5 418.97 L404.36 418.17 L411.22 417.35 L418.08 416.5 L424.94 415.63 L431.8 414.74 L438.66 413.82 L445.52 412.88 L452.38 411.92 L459.24 410.92 L466.1 409.9 L472.96 408.86 L479.82 407.79 L486.68 406.69 L493.54 405.56 L500.4 404.41 L507.26 403.23 L514.12 402.02 L520.98 400.78 L527.84 399.52 L534.7 398.22 L541.56 396.9 L548.42 395.54 L555.28 394.16 L562.14 392.75 L569 391.31 L575.86 389.84 L582.72 388.34 L589.58 386.81 L596.44 385.25 L603.3 383.67 L610.16 382.05 L617.02 380.4 L623.88 378.73 L630.74 377.02 L637.6 375.29 L644.46 373.52 L651.32 371.73 L658.18 369.91 L665.04 368.06 L671.9 366.18 L678.76 364.28 L685.62 362.35 L692.48 360.39 L699.34 358.4 L706.2 356.38 L713.06 354.34 L719.92 352.28 L726.78 350.18 L733.64 348.06 L740.5 345.92 L747.36 343.75 L754.22 341.56 L761.08 339.34 L767.94 337.1 L774.8 334.84 L781.66 332.55 L788.52 330.24 L795.38 327.91 L802.24 325.56 L809.1 323.19 L815.96 320.79 L822.82 318.38 L829.68 315.95 L836.54 313.49 L843.4 311.02 L850.26 308.53 L857.12 306.02 L863.98 303.5 L870.84 300.96 L877.7 298.4 L884.56 295.82 L891.42 293.23 L898.28 290.62 L905.14 288 L912 285.36 L918.86 282.71 L925.72 280.05 L932.58 277.37 L939.44 274.68 L946.3 271.97" fill="none" stroke="#e377c2" stroke-width="3" stroke-linecap="butt" stroke-linejoin="round"/>
<path d="M77 428.97 L123.1 428.97 L129.96 428.78 L136.82 428.58 L143.68 428.38 L150.54 428.18 L157.4 427.98 L164.26 427.77 L171.12 427.56 L177.98 427.35 L184.84 427.13 L191.7 426.91 L198.56 426.69 L205.42 426.47 L212.28 426.24 L219.14 426.01 L226 425.78 L232.86 425.55 L239.72 425.31 L246.58 425.07 L253.44 424.82 L260.3 424.58 L267.16 424.33 L274.02 424.07 L280.88 423.82 L287.74 423.56 L294.6 423.3 L301.46 423.03 L308.32 422.76 L315.18 422.49 L322.04 422.21 L328.9 421.94 L335.76 421.65 L342.62 421.37 L349.48 421.08 L356.34 420.79 L363.2 420.49 L370.06 420.19 L376.92 419.89 L383.78 419.58 L390.64 419.27 L397.5 418.96 L404.36 418.64 L411.22 418.32 L418.08 418 L424.94 417.67 L431.8 417.34 L438.66 417.01 L445.52 416.67 L452.38 416.32 L459.24 415.98 L466.1 415.63 L472.96 415.27 L479.82 414.92 L486.68 414.55 L493.54 414.19 L500.4 413.82 L507.26 413.44 L514.12 413.07 L520.98 412.68 L527.84 412.3 L534.7 411.91 L541.56 411.51 L548.42 411.12 L555.28 410.71 L562.14 410.31 L569 409.9 L575.86 409.48 L582.72 409.06 L589.58 408.64 L596.44 408.21 L603.3 407.78 L610.16 407.34 L617.02 406.9 L623.88 406.46 L630.74 406.01 L637.6 405.55 L644.46 405.1 L651.32 404.63 L658.18 404.17 L665.04 403.7 L671.9 403.22 L678.76 402.74 L685.62 402.25 L692.48 401.77 L699.34 401.27 L706.2 400.77 L713.06 400.27 L719.92 399.76 L726.78 399.25 L733.64 398.73 L740.5 398.21 L747.36 397.69 L754.22 397.15 L761.08 396.62 L767.94 396.08 L774.8 395.53 L781.66 394.99 L788.52 394.43 L795.38 393.87 L802.24 393.31 L809.1 392.74 L815.96 392.17 L822.82 391.59 L829.68 391.01 L836.54 390.42 L843.4 389.83 L850.26 389.23 L857.12 388.63 L863.98 388.03 L870.84 387.42 L877.7 386.8 L884.56 386.18 L891.42 385.56 L898.28 384.93 L905.14 384.29 L912 383.66 L918.86 383.01 L925.72 382.36 L932.58 381.71 L939.44 381.05 L946.3 380.39" fill="none" stroke="#7f7f7f" stroke-width="3" stroke-linecap="butt" stroke-linejoin="round"/>
<path d="M77 417.05 L123.1 417.05 L129.96 416.88 L136.82 416.71 L143.68 416.54 L150.54 416.37 L157.4 416.2 L164.26 416.02 L171.12 415.85 L177.98 415.67 L184.84 415.5 L191.7 415.32 L198.56 415.14 L205.42 414.96 L212.28 414.78 L219.14 414.6 L226 414.42 L232.86 414.24 L239.72 414.05 L246.58 413.87 L253.44 413.68 L260.3 413.49 L267.16 413.3 L274.02 413.12 L280.88 412.93 L287.74 412.73 L294.6 412.54 L301.46 412.35 L308.32 412.15 L315.18 411.96 L322.04 411.76 L328.9 411.57 L335.76 411.37 L342.62 411.17 L349.48 410.97 L356.34 410.77 L363.2 410.56 L370.06 410.36 L376.92 410.16 L383.78 409.95 L390.64 409.74 L397.5 409.54 L404.36 409.33 L411.22 409.12 L418.08 408.91 L424.94 408.69 L431.8 408.48 L438.66 408.27 L445.52 408.05 L452.38 407.84 L459.24 407.62 L466.1 407.4 L472.96 407.18 L479.82 406.96 L486.68 406.74 L493.54 406.52 L500.4 406.29 L507.26 406.07 L514.12 405.84 L520.98 405.61 L527.84 405.39 L534.7 405.16 L541.56 404.93 L548.42 404.69 L555.28 404.46 L562.14 404.23 L569 403.99 L575.86 403.76 L582.72 403.52 L589.58 403.28 L596.44 403.04 L603.3 402.8 L610.16 402.56 L617.02 402.32 L623.88 402.07 L630.74 401.83 L637.6 401.58 L644.46 401.34 L651.32 401.09 L658.18 400.84 L665.04 400.59 L671.9 400.33 L678.76 400.08 L685.62 399.83 L692.48 399.57 L699.34 399.32 L706.2 399.06 L713.06 398.8 L719.92 398.54 L726.78 398.28 L733.64 398.02 L740.5 397.75 L747.36 397.49 L754.22 397.22 L761.08 396.96 L767.94 396.69 L774.8 396.42 L781.66 396.15 L788.52 395.88 L795.38 395.61 L802.24 395.33 L809.1 395.06 L815.96 394.78 L822.82 394.5 L829.68 394.23 L836.54 393.95 L843.4 393.66 L850.26 393.38 L857.12 393.1 L863.98 392.82 L870.84 392.53 L877.7 392.24 L884.56 391.96 L891.42 391.67 L898.28 391.38 L905.14 391.08 L912 390.79 L918.86 390.5 L925.72 390.2 L932.58 389.91 L939.44 389.61 L946.3 389.31" fill="none" stroke="#bcbd22" stroke-width="3" stroke-linecap="butt" stroke-linejoin="round"/>
<rect x="204.1" y="73.6" width="9.2" height="9.4" fill="rgba(0,0,0,0.55)"/>
<rect x="207.4" y="76.1" width="2.6" height="4.4" fill="none" stroke="rgba(0,0,0,0.35)" stroke-width="1.2"/>
<rect x="206" y="157.4" width="9.2" height="9.4" fill="rgba(0,0,0,0.55)"/>
<rect x="209.3" y="159.9" width="2.6" height="4.4" fill="none" stroke="rgba(0,0,0,0.35)" stroke-width="1.2"/>
<rect x="239.5" y="243.6" width="9.2" height="9.4" fill="rgba(0,0,0,0.55)"/>
<rect x="242.8" y="246.1" width="2.6" height="4.4" fill="none" stroke="rgba(0,0,0,0.35)" stroke-width="1.2"/>
<rect x="251.1" y="239.6" width="9.2" height="9.4" fill="rgba(0,0,0,0.55)"/>
<rect x="254.4" y="242.1" width="2.6" height="4.4" fill="none" stroke="rgba(0,0,0,0.35)" stroke-width="1.2"/>
<rect x="269.9" y="267.2" width="9.2" height="9.4" fill="rgba(0,0,0,0.55)"/>
<rect x="273.2" y="269.7" width="2.6" height="4.4" fill="none" stroke="rgba(0,0,0,0.35)" stroke-width="1.2"/>
<rect x="281.8" y="262.5" width="9.2" height="9.4" fill="rgba(0,0,0,0.55)"/>
<rect x="285.1" y="265" width="2.6" height="4.4" fill="none" stroke="rgba(0,0,0,0.35)" stroke-width="1.2"/>
<rect x="282.1" y="285.4" width="9.2" height="9.4" fill="rgba(0,0,0,0.55)"/>
<rect x="285.4" y="287.9" width="2.6" height="4.4" fill="none" stroke="rgba(0,0,0,0.35)" stroke-width="1.2"/>
<rect x="318.4" y="264.5" width="9.2" height="9.4" fill="rgba(0,0,0,0.55)"/>
<rect x="321.7" y="267" width="2.6" height="4.4" fill="none" stroke="rgba(0,0,0,0.35)" stroke-width="1.2"/>
<rect x="333" y="274.1" width="9.2" height="9.4" fill="rgba(0,0,0,0.55)"/>
<rect x="336.3" y="276.6" width="2.6" height="4.4" fill="none" stroke="rgba(0,0,0,0.35)" stroke-width="1.2"/>
<rect x="348.3" y="280.2" width="9.2" height="9.4" fill="rgba(0,0,0,0.55)"/>
<rect x="351.6" y="282.7" width="2.6" height="4.4" fill="none" stroke="rgba(0,0,0,0.35)" stroke-width="1.2"/>
<rect x="389.2" y="234.9" width="9.2" height="9.4" fill="rgba(0,0,0,0.55)"/>
<rect x="392.5" y="237.4" width="2.6" height="4.4" fill="none" stroke="rgba(0,0,0,0.35)" stroke-width="1.2"/>
<rect x="383.1" y="263.7" width="9.2" height="9.4" fill="rgba(0,0,0,0.55)"/>
<rect x="386.4" y="266.2" width="2.6" height="4.4" fill="none" stroke="rgba(0,0,0,0.35)" stroke-width="1.2"/>
<rect x="400.6" y="309.3" width="9.2" height="9.4" fill="rgba(0,0,0,0.55)"/>
<rect x="403.9" y="311.8" width="2.6" height="4.4" fill="none" stroke="rgba(0,0,0,0.35)" stroke-width="1.2"/>
<rect x="446.7" y="240.7" width="9.2" height="9.4" fill="rgba(0,0,0,0.55)"/>
<rect x="450" y="243.2" width="2.6" height="4.4" fill="none" stroke="rgba(0,0,0,0.35)" stroke-width="1.2"/>
<rect x="431.9" y="316.8" width="9.2" height="9.4" fill="rgba(0,0,0,0.55)"/>
<rect x="435.2" y="319.3" width="2.6" height="4.4" fill="none" stroke="rgba(0,0,0,0.35)" stroke-width="1.2"/>
<rect x="299.6" y="302.3" width="9.2" height="9.4" fill="rgba(0,0,0,0.55)"/>
<rect x="302.9" y="304.8" width="2.6" height="4.4" fill="none" stroke="rgba(0,0,0,0.35)" stroke-width="1.2"/>
<rect x="160.8" y="280.2" width="9.2" height="9.4" fill="rgba(0,0,0,0.55)"/>
<rect x="164.1" y="282.7" width="2.6" height="4.4" fill="none" stroke="rgba(0,0,0,0.35)" stroke-width="1.2"/>
<rect x="162" y="303.7" width="9.2" height="9.4" fill="rgba(0,0,0,0.55)"/>
<rect x="165.3" y="306.2" width="2.6" height="4.4" fill="none" stroke="rgba(0,0,0,0.35)" stroke-width="1.2"/>
<rect x="174.7" y="314.2" width="9.2" height="9.4" fill="rgba(0,0,0,0.55)"/>
<rect x="178" y="316.7" width="2.6" height="4.4" fill="none" stroke="rgba(0,0,0,0.35)" stroke-width="1.2"/>
<rect x="180.7" y="324" width="9.2" height="9.4" fill="rgba(0,0,0,0.55)"/>
<rect x="184" y="326.5" width="2.6" height="4.4" fill="none" stroke="rgba(0,0,0,0.35)" stroke-width="1.2"/>
<rect x="194.2" y="331.9" width="9.2" height="9.4" fill="rgba(0,0,0,0.55)"/>
<rect x="197.5" y="334.4" width="2.6" height="4.4" fill="none" stroke="rgba(0,0,0,0.35)" stroke-width="1.2"/>
<rect x="199.9" y="335.8" width="9.2" height="9.4" fill="rgba(0,0,0,0.55)"/>
<rect x="203.2" y="338.3" width="2.6" height="4.4" fill="none" stroke="rgba(0,0,0,0.35)" stroke-width="1.2"/>
<rect x="193.3" y="345.4" width="9.2" height="9.4" fill="rgba(0,0,0,0.55)"/>
<rect x="196.6" y="347.9" width="2.6" height="4.4" fill="none" stroke="rgba(0,0,0,0.35)" stroke-width="1.2"/>
<rect x="215.5" y="331.4" width="9.2" height="9.4" fill="rgba(0,0,0,0.55)"/>
<rect x="218.8" y="333.9" width="2.6" height="4.4" fill="none" stroke="rgba(0,0,0,0.35)" stroke-width="1.2"/>
<rect x="222.1" y="327.5" width="9.2" height="9.4" fill="rgba(0,0,0,0.55)"/>
<rect x="225.4" y="330" width="2.6" height="4.4" fill="none" stroke="rgba(0,0,0,0.35)" stroke-width="1.2"/>
<rect x="221.2" y="337.9" width="9.2" height="9.4" fill="rgba(0,0,0,0.55)"/>
<rect x="224.5" y="340.4" width="2.6" height="4.4" fill="none" stroke="rgba(0,0,0,0.35)" stroke-width="1.2"/>
<rect x="215.1" y="346.2" width="9.2" height="9.4" fill="rgba(0,0,0,0.55)"/>
<rect x="218.4" y="348.7" width="2.6" height="4.4" fill="none" stroke="rgba(0,0,0,0.35)" stroke-width="1.2"/>
<rect x="220.3" y="347.5" width="9.2" height="9.4" fill="rgba(0,0,0,0.55)"/>
<rect x="223.6" y="350" width="2.6" height="4.4" fill="none" stroke="rgba(0,0,0,0.35)" stroke-width="1.2"/>
<rect x="234.7" y="321.4" width="9.2" height="9.4" fill="rgba(0,0,0,0.55)"/>
<rect x="238" y="323.9" width="2.6" height="4.4" fill="none" stroke="rgba(0,0,0,0.35)" stroke-width="1.2"/>
<rect x="233" y="344.9" width="9.2" height="9.4" fill="rgba(0,0,0,0.55)"/>
<rect x="236.3" y="347.4" width="2.6" height="4.4" fill="none" stroke="rgba(0,0,0,0.35)" stroke-width="1.2"/>
<rect x="240.8" y="344.9" width="9.2" height="9.4" fill="rgba(0,0,0,0.55)"/>
<rect x="244.1" y="347.4" width="2.6" height="4.4" fill="none" stroke="rgba(0,0,0,0.35)" stroke-width="1.2"/>
<rect x="231.2" y="360.6" width="9.2" height="9.4" fill="rgba(0,0,0,0.55)"/>
<rect x="234.5" y="363.1" width="2.6" height="4.4" fill="none" stroke="rgba(0,0,0,0.35)" stroke-width="1.2"/>
<rect x="252.1" y="348" width="9.2" height="9.4" fill="rgba(0,0,0,0.55)"/>
<rect x="255.4" y="350.5" width="2.6" height="4.4" fill="none" stroke="rgba(0,0,0,0.35)" stroke-width="1.2"/>
<rect x="253.9" y="353.6" width="9.2" height="9.4" fill="rgba(0,0,0,0.55)"/>
<rect x="257.2" y="356.1" width="2.6" height="4.4" fill="none" stroke="rgba(0,0,0,0.35)" stroke-width="1.2"/>
<rect x="249.5" y="360.6" width="9.2" height="9.4" fill="rgba(0,0,0,0.55)"/>
<rect x="252.8" y="363.1" width="2.6" height="4.4" fill="none" stroke="rgba(0,0,0,0.35)" stroke-width="1.2"/>
<rect x="259.5" y="320.3" width="9.2" height="9.4" fill="rgba(0,0,0,0.55)"/>
<rect x="262.8" y="322.8" width="2.6" height="4.4" fill="none" stroke="rgba(0,0,0,0.35)" stroke-width="1.2"/>
<rect x="280.4" y="336.6" width="9.2" height="9.4" fill="rgba(0,0,0,0.55)"/>
<rect x="283.7" y="339.1" width="2.6" height="4.4" fill="none" stroke="rgba(0,0,0,0.35)" stroke-width="1.2"/>
<rect x="274.8" y="348.8" width="9.2" height="9.4" fill="rgba(0,0,0,0.55)"/>
<rect x="278.1" y="351.3" width="2.6" height="4.4" fill="none" stroke="rgba(0,0,0,0.35)" stroke-width="1.2"/>
<rect x="274.8" y="353.6" width="9.2" height="9.4" fill="rgba(0,0,0,0.55)"/>
<rect x="278.1" y="356.1" width="2.6" height="4.4" fill="none" stroke="rgba(0,0,0,0.35)" stroke-width="1.2"/>
<rect x="267.8" y="357.1" width="9.2" height="9.4" fill="rgba(0,0,0,0.55)"/>
<rect x="271.1" y="359.6" width="2.6" height="4.4" fill="none" stroke="rgba(0,0,0,0.35)" stroke-width="1.2"/>
<rect x="277.8" y="360.2" width="9.2" height="9.4" fill="rgba(0,0,0,0.55)"/>
<rect x="281.1" y="362.7" width="2.6" height="4.4" fill="none" stroke="rgba(0,0,0,0.35)" stroke-width="1.2"/>
<rect x="266.1" y="341.4" width="9.2" height="9.4" fill="rgba(0,0,0,0.55)"/>
<rect x="269.4" y="343.9" width="2.6" height="4.4" fill="none" stroke="rgba(0,0,0,0.35)" stroke-width="1.2"/>
<rect x="267.8" y="337.9" width="9.2" height="9.4" fill="rgba(0,0,0,0.55)"/>
<rect x="271.1" y="340.4" width="2.6" height="4.4" fill="none" stroke="rgba(0,0,0,0.35)" stroke-width="1.2"/>
<rect x="237.3" y="366.7" width="9.2" height="9.4" fill="rgba(0,0,0,0.55)"/>
<rect x="240.6" y="369.2" width="2.6" height="4.4" fill="none" stroke="rgba(0,0,0,0.35)" stroke-width="1.2"/>
<rect x="165" y="364.5" width="9.2" height="9.4" fill="rgba(0,0,0,0.55)"/>
<rect x="168.3" y="367" width="2.6" height="4.4" fill="none" stroke="rgba(0,0,0,0.35)" stroke-width="1.2"/>
<rect x="167.6" y="377.6" width="9.2" height="9.4" fill="rgba(0,0,0,0.55)"/>
<rect x="170.9" y="380.1" width="2.6" height="4.4" fill="none" stroke="rgba(0,0,0,0.35)" stroke-width="1.2"/>
<rect x="195.5" y="376.3" width="9.2" height="9.4" fill="rgba(0,0,0,0.55)"/>
<rect x="198.8" y="378.8" width="2.6" height="4.4" fill="none" stroke="rgba(0,0,0,0.35)" stroke-width="1.2"/>
<rect x="205.1" y="378.9" width="9.2" height="9.4" fill="rgba(0,0,0,0.55)"/>
<rect x="208.4" y="381.4" width="2.6" height="4.4" fill="none" stroke="rgba(0,0,0,0.35)" stroke-width="1.2"/>
<rect x="219" y="377.1" width="9.2" height="9.4" fill="rgba(0,0,0,0.55)"/>
<rect x="222.3" y="379.6" width="2.6" height="4.4" fill="none" stroke="rgba(0,0,0,0.35)" stroke-width="1.2"/>
<rect x="233.8" y="381.5" width="9.2" height="9.4" fill="rgba(0,0,0,0.55)"/>
<rect x="237.1" y="384" width="2.6" height="4.4" fill="none" stroke="rgba(0,0,0,0.35)" stroke-width="1.2"/>
<rect x="261.7" y="380.6" width="9.2" height="9.4" fill="rgba(0,0,0,0.55)"/>
<rect x="265" y="383.1" width="2.6" height="4.4" fill="none" stroke="rgba(0,0,0,0.35)" stroke-width="1.2"/>
<rect x="276.5" y="381.5" width="9.2" height="9.4" fill="rgba(0,0,0,0.55)"/>
<rect x="279.8" y="384" width="2.6" height="4.4" fill="none" stroke="rgba(0,0,0,0.35)" stroke-width="1.2"/>
<rect x="236.4" y="384" width="9.2" height="9.4" fill="rgba(0,0,0,0.55)"/>
<rect x="239.7" y="386.5" width="2.6" height="4.4" fill="none" stroke="rgba(0,0,0,0.35)" stroke-width="1.2"/>
<rect x="203.3" y="392.7" width="9.2" height="9.4" fill="rgba(0,0,0,0.55)"/>
<rect x="206.6" y="395.2" width="2.6" height="4.4" fill="none" stroke="rgba(0,0,0,0.35)" stroke-width="1.2"/>
<rect x="205.1" y="397.9" width="9.2" height="9.4" fill="rgba(0,0,0,0.55)"/>
<rect x="208.4" y="400.4" width="2.6" height="4.4" fill="none" stroke="rgba(0,0,0,0.35)" stroke-width="1.2"/>
<rect x="217.3" y="391.9" width="9.2" height="9.4" fill="rgba(0,0,0,0.55)"/>
<rect x="220.6" y="394.4" width="2.6" height="4.4" fill="none" stroke="rgba(0,0,0,0.35)" stroke-width="1.2"/>
<rect x="224.3" y="394.9" width="9.2" height="9.4" fill="rgba(0,0,0,0.55)"/>
<rect x="227.6" y="397.4" width="2.6" height="4.4" fill="none" stroke="rgba(0,0,0,0.35)" stroke-width="1.2"/>
<rect x="236.9" y="396.6" width="9.2" height="9.4" fill="rgba(0,0,0,0.55)"/>
<rect x="240.2" y="399.1" width="2.6" height="4.4" fill="none" stroke="rgba(0,0,0,0.35)" stroke-width="1.2"/>
<rect x="266.1" y="406.7" width="9.2" height="9.4" fill="rgba(0,0,0,0.55)"/>
<rect x="269.4" y="409.2" width="2.6" height="4.4" fill="none" stroke="rgba(0,0,0,0.35)" stroke-width="1.2"/>
<rect x="274.8" y="425.8" width="9.2" height="9.4" fill="rgba(0,0,0,0.55)"/>
<rect x="278.1" y="428.3" width="2.6" height="4.4" fill="none" stroke="rgba(0,0,0,0.35)" stroke-width="1.2"/>
<rect x="188.5" y="411" width="9.2" height="9.4" fill="rgba(0,0,0,0.55)"/>
<rect x="191.8" y="413.5" width="2.6" height="4.4" fill="none" stroke="rgba(0,0,0,0.35)" stroke-width="1.2"/>
<rect x="182.4" y="415.4" width="9.2" height="9.4" fill="rgba(0,0,0,0.55)"/>
<rect x="185.7" y="417.9" width="2.6" height="4.4" fill="none" stroke="rgba(0,0,0,0.35)" stroke-width="1.2"/>
<rect x="172.9" y="433.2" width="9.2" height="9.4" fill="rgba(0,0,0,0.55)"/>
<rect x="176.2" y="435.7" width="2.6" height="4.4" fill="none" stroke="rgba(0,0,0,0.35)" stroke-width="1.2"/>
<rect x="229" y="428.4" width="9.2" height="9.4" fill="rgba(0,0,0,0.55)"/>
<rect x="232.3" y="430.9" width="2.6" height="4.4" fill="none" stroke="rgba(0,0,0,0.35)" stroke-width="1.2"/>
<rect x="253" y="433.7" width="9.2" height="9.4" fill="rgba(0,0,0,0.55)"/>
<rect x="256.3" y="436.2" width="2.6" height="4.4" fill="none" stroke="rgba(0,0,0,0.35)" stroke-width="1.2"/>
<rect x="299.6" y="415.8" width="9.2" height="9.4" fill="rgba(0,0,0,0.55)"/>
<rect x="302.9" y="418.3" width="2.6" height="4.4" fill="none" stroke="rgba(0,0,0,0.35)" stroke-width="1.2"/>
<rect x="197.7" y="443.6" width="9.2" height="9.4" fill="rgba(0,0,0,0.55)"/>
<rect x="201" y="446.1" width="2.6" height="4.4" fill="none" stroke="rgba(0,0,0,0.35)" stroke-width="1.2"/>
<rect x="303.5" y="443.2" width="9.2" height="9.4" fill="rgba(0,0,0,0.55)"/>
<rect x="306.8" y="445.7" width="2.6" height="4.4" fill="none" stroke="rgba(0,0,0,0.35)" stroke-width="1.2"/>
<rect x="314" y="446.3" width="9.2" height="9.4" fill="rgba(0,0,0,0.55)"/>
<rect x="317.3" y="448.8" width="2.6" height="4.4" fill="none" stroke="rgba(0,0,0,0.35)" stroke-width="1.2"/>
<rect x="254.7" y="451" width="9.2" height="9.4" fill="rgba(0,0,0,0.55)"/>
<rect x="258" y="453.5" width="2.6" height="4.4" fill="none" stroke="rgba(0,0,0,0.35)" stroke-width="1.2"/>
<rect x="255.6" y="455.3" width="9.2" height="9.4" fill="rgba(0,0,0,0.55)"/>
<rect x="258.9" y="457.8" width="2.6" height="4.4" fill="none" stroke="rgba(0,0,0,0.35)" stroke-width="1.2"/>
<rect x="243.9" y="453.2" width="9.2" height="9.4" fill="rgba(0,0,0,0.55)"/>
<rect x="247.2" y="455.7" width="2.6" height="4.4" fill="none" stroke="rgba(0,0,0,0.35)" stroke-width="1.2"/>
<rect x="268.2" y="472.3" width="9.2" height="9.4" fill="rgba(0,0,0,0.55)"/>
<rect x="271.5" y="474.8" width="2.6" height="4.4" fill="none" stroke="rgba(0,0,0,0.35)" stroke-width="1.2"/>
<rect x="213.4" y="495.4" width="9.2" height="9.4" fill="rgba(0,0,0,0.55)"/>
<rect x="216.7" y="497.9" width="2.6" height="4.4" fill="none" stroke="rgba(0,0,0,0.35)" stroke-width="1.2"/>
<rect x="243.4" y="486.3" width="9.2" height="9.4" fill="rgba(0,0,0,0.55)"/>
<rect x="246.7" y="488.8" width="2.6" height="4.4" fill="none" stroke="rgba(0,0,0,0.35)" stroke-width="1.2"/>
<rect x="229.5" y="517.9" width="9.2" height="9.4" fill="rgba(0,0,0,0.55)"/>
<rect x="232.8" y="520.4" width="2.6" height="4.4" fill="none" stroke="rgba(0,0,0,0.35)" stroke-width="1.2"/>
<rect x="194.6" y="511.9" width="9.2" height="9.4" fill="rgba(0,0,0,0.55)"/>
<rect x="197.9" y="514.4" width="2.6" height="4.4" fill="none" stroke="rgba(0,0,0,0.35)" stroke-width="1.2"/>
<rect x="265.6" y="508.4" width="9.2" height="9.4" fill="rgba(0,0,0,0.55)"/>
<rect x="268.9" y="510.9" width="2.6" height="4.4" fill="none" stroke="rgba(0,0,0,0.35)" stroke-width="1.2"/>
<rect x="298.3" y="508.4" width="9.2" height="9.4" fill="rgba(0,0,0,0.55)"/>
<rect x="301.6" y="510.9" width="2.6" height="4.4" fill="none" stroke="rgba(0,0,0,0.35)" stroke-width="1.2"/>
<rect x="259.5" y="558.5" width="9.2" height="9.4" fill="rgba(0,0,0,0.55)"/>
<rect x="262.8" y="561" width="2.6" height="4.4" fill="none" stroke="rgba(0,0,0,0.35)" stroke-width="1.2"/>
<rect x="212.4" y="592.7" width="9.2" height="9.4" fill="rgba(0,0,0,0.55)"/>
<rect x="215.7" y="595.2" width="2.6" height="4.4" fill="none" stroke="rgba(0,0,0,0.35)" stroke-width="1.2"/>
<rect x="157.9" y="624.9" width="9.2" height="9.4" fill="rgba(0,0,0,0.55)"/>
<rect x="161.2" y="627.4" width="2.6" height="4.4" fill="none" stroke="rgba(0,0,0,0.35)" stroke-width="1.2"/>
<rect x="344.7" y="364.6" width="9.2" height="9.4" fill="rgba(0,0,0,0.55)"/>
<rect x="348" y="367.1" width="2.6" height="4.4" fill="none" stroke="rgba(0,0,0,0.35)" stroke-width="1.2"/>
<rect x="423.8" y="379.5" width="9.2" height="9.4" fill="rgba(0,0,0,0.55)"/>
<rect x="427.1" y="382" width="2.6" height="4.4" fill="none" stroke="rgba(0,0,0,0.35)" stroke-width="1.2"/>
<rect x="443.2" y="359.3" width="9.2" height="9.4" fill="rgba(0,0,0,0.55)"/>
<rect x="446.5" y="361.8" width="2.6" height="4.4" fill="none" stroke="rgba(0,0,0,0.35)" stroke-width="1.2"/>
<rect x="460.3" y="372" width="9.2" height="9.4" fill="rgba(0,0,0,0.55)"/>
<rect x="463.6" y="374.5" width="2.6" height="4.4" fill="none" stroke="rgba(0,0,0,0.35)" stroke-width="1.2"/>
<rect x="464.1" y="354.9" width="9.2" height="9.4" fill="rgba(0,0,0,0.55)"/>
<rect x="467.4" y="357.4" width="2.6" height="4.4" fill="none" stroke="rgba(0,0,0,0.35)" stroke-width="1.2"/>
<rect x="484.2" y="345.2" width="9.2" height="9.4" fill="rgba(0,0,0,0.55)"/>
<rect x="487.5" y="347.7" width="2.6" height="4.4" fill="none" stroke="rgba(0,0,0,0.35)" stroke-width="1.2"/>
<rect x="446.1" y="393.7" width="9.2" height="9.4" fill="rgba(0,0,0,0.55)"/>
<rect x="449.4" y="396.2" width="2.6" height="4.4" fill="none" stroke="rgba(0,0,0,0.35)" stroke-width="1.2"/>
<rect x="482.7" y="392.9" width="9.2" height="9.4" fill="rgba(0,0,0,0.55)"/>
<rect x="486" y="395.4" width="2.6" height="4.4" fill="none" stroke="rgba(0,0,0,0.35)" stroke-width="1.2"/>
<rect x="430.5" y="424.3" width="9.2" height="9.4" fill="rgba(0,0,0,0.55)"/>
<rect x="433.8" y="426.8" width="2.6" height="4.4" fill="none" stroke="rgba(0,0,0,0.35)" stroke-width="1.2"/>
<rect x="419.1" y="437.4" width="9.2" height="9.4" fill="rgba(0,0,0,0.55)"/>
<rect x="422.4" y="439.9" width="2.6" height="4.4" fill="none" stroke="rgba(0,0,0,0.35)" stroke-width="1.2"/>
<rect x="366.5" y="437.4" width="9.2" height="9.4" fill="rgba(0,0,0,0.55)"/>
<rect x="369.8" y="439.9" width="2.6" height="4.4" fill="none" stroke="rgba(0,0,0,0.35)" stroke-width="1.2"/>
<rect x="449.8" y="444.7" width="9.2" height="9.4" fill="rgba(0,0,0,0.55)"/>
<rect x="453.1" y="447.2" width="2.6" height="4.4" fill="none" stroke="rgba(0,0,0,0.35)" stroke-width="1.2"/>
<rect x="491" y="449.6" width="9.2" height="9.4" fill="rgba(0,0,0,0.55)"/>
<rect x="494.3" y="452.1" width="2.6" height="4.4" fill="none" stroke="rgba(0,0,0,0.35)" stroke-width="1.2"/>
<rect x="492.1" y="463.3" width="9.2" height="9.4" fill="rgba(0,0,0,0.55)"/>
<rect x="495.4" y="465.8" width="2.6" height="4.4" fill="none" stroke="rgba(0,0,0,0.35)" stroke-width="1.2"/>
<rect x="359.3" y="474.6" width="9.2" height="9.4" fill="rgba(0,0,0,0.55)"/>
<rect x="362.6" y="477.1" width="2.6" height="4.4" fill="none" stroke="rgba(0,0,0,0.35)" stroke-width="1.2"/>
<rect x="397.3" y="515" width="9.2" height="9.4" fill="rgba(0,0,0,0.55)"/>
<rect x="400.6" y="517.5" width="2.6" height="4.4" fill="none" stroke="rgba(0,0,0,0.35)" stroke-width="1.2"/>
<rect x="417.5" y="542.5" width="9.2" height="9.4" fill="rgba(0,0,0,0.55)"/>
<rect x="420.8" y="545" width="2.6" height="4.4" fill="none" stroke="rgba(0,0,0,0.35)" stroke-width="1.2"/>
<rect x="515.7" y="184.8" width="9.2" height="9.4" fill="rgba(0,0,0,0.55)"/>
<rect x="519" y="187.3" width="2.6" height="4.4" fill="none" stroke="rgba(0,0,0,0.35)" stroke-width="1.2"/>
<rect x="604.2" y="85.3" width="9.2" height="9.4" fill="rgba(0,0,0,0.55)"/>
<rect x="607.5" y="87.8" width="2.6" height="4.4" fill="none" stroke="rgba(0,0,0,0.35)" stroke-width="1.2"/>
<rect x="560" y="124.8" width="9.2" height="9.4" fill="rgba(0,0,0,0.55)"/>
<rect x="563.3" y="127.3" width="2.6" height="4.4" fill="none" stroke="rgba(0,0,0,0.35)" stroke-width="1.2"/>
<rect x="642.7" y="151.8" width="9.2" height="9.4" fill="rgba(0,0,0,0.55)"/>
<rect x="646" y="154.3" width="2.6" height="4.4" fill="none" stroke="rgba(0,0,0,0.35)" stroke-width="1.2"/>
<rect x="649" y="151.4" width="9.2" height="9.4" fill="rgba(0,0,0,0.55)"/>
<rect x="652.3" y="153.9" width="2.6" height="4.4" fill="none" stroke="rgba(0,0,0,0.35)" stroke-width="1.2"/>
<rect x="531.4" y="223.1" width="9.2" height="9.4" fill="rgba(0,0,0,0.55)"/>
<rect x="534.7" y="225.6" width="2.6" height="4.4" fill="none" stroke="rgba(0,0,0,0.35)" stroke-width="1.2"/>
<rect x="555.7" y="241.8" width="9.2" height="9.4" fill="rgba(0,0,0,0.55)"/>
<rect x="559" y="244.3" width="2.6" height="4.4" fill="none" stroke="rgba(0,0,0,0.35)" stroke-width="1.2"/>
<rect x="562.5" y="241.8" width="9.2" height="9.4" fill="rgba(0,0,0,0.55)"/>
<rect x="565.8" y="244.3" width="2.6" height="4.4" fill="none" stroke="rgba(0,0,0,0.35)" stroke-width="1.2"/>
<rect x="585.5" y="257.3" width="9.2" height="9.4" fill="rgba(0,0,0,0.55)"/>
<rect x="588.8" y="259.8" width="2.6" height="4.4" fill="none" stroke="rgba(0,0,0,0.35)" stroke-width="1.2"/>
<rect x="590.5" y="254.2" width="9.2" height="9.4" fill="rgba(0,0,0,0.55)"/>
<rect x="593.8" y="256.7" width="2.6" height="4.4" fill="none" stroke="rgba(0,0,0,0.35)" stroke-width="1.2"/>
<rect x="598.8" y="194.2" width="9.2" height="9.4" fill="rgba(0,0,0,0.55)"/>
<rect x="602.1" y="196.7" width="2.6" height="4.4" fill="none" stroke="rgba(0,0,0,0.35)" stroke-width="1.2"/>
<rect x="605.8" y="226" width="9.2" height="9.4" fill="rgba(0,0,0,0.55)"/>
<rect x="609.1" y="228.5" width="2.6" height="4.4" fill="none" stroke="rgba(0,0,0,0.35)" stroke-width="1.2"/>
<rect x="610.2" y="238.9" width="9.2" height="9.4" fill="rgba(0,0,0,0.55)"/>
<rect x="613.5" y="241.4" width="2.6" height="4.4" fill="none" stroke="rgba(0,0,0,0.35)" stroke-width="1.2"/>
<rect x="619.7" y="252.4" width="9.2" height="9.4" fill="rgba(0,0,0,0.55)"/>
<rect x="623" y="254.9" width="2.6" height="4.4" fill="none" stroke="rgba(0,0,0,0.35)" stroke-width="1.2"/>
<rect x="635.9" y="213.2" width="9.2" height="9.4" fill="rgba(0,0,0,0.55)"/>
<rect x="639.2" y="215.7" width="2.6" height="4.4" fill="none" stroke="rgba(0,0,0,0.35)" stroke-width="1.2"/>
<rect x="648" y="204.5" width="9.2" height="9.4" fill="rgba(0,0,0,0.55)"/>
<rect x="651.3" y="207" width="2.6" height="4.4" fill="none" stroke="rgba(0,0,0,0.35)" stroke-width="1.2"/>
<rect x="652.1" y="170.3" width="9.2" height="9.4" fill="rgba(0,0,0,0.55)"/>
<rect x="655.4" y="172.8" width="2.6" height="4.4" fill="none" stroke="rgba(0,0,0,0.35)" stroke-width="1.2"/>
<rect x="650.8" y="238.7" width="9.2" height="9.4" fill="rgba(0,0,0,0.55)"/>
<rect x="654.1" y="241.2" width="2.6" height="4.4" fill="none" stroke="rgba(0,0,0,0.35)" stroke-width="1.2"/>
<rect x="531.4" y="295.3" width="9.2" height="9.4" fill="rgba(0,0,0,0.55)"/>
<rect x="534.7" y="297.8" width="2.6" height="4.4" fill="none" stroke="rgba(0,0,0,0.35)" stroke-width="1.2"/>
<rect x="549.8" y="273" width="9.2" height="9.4" fill="rgba(0,0,0,0.55)"/>
<rect x="553.1" y="275.5" width="2.6" height="4.4" fill="none" stroke="rgba(0,0,0,0.35)" stroke-width="1.2"/>
<rect x="558.2" y="293.9" width="9.2" height="9.4" fill="rgba(0,0,0,0.55)"/>
<rect x="561.5" y="296.4" width="2.6" height="4.4" fill="none" stroke="rgba(0,0,0,0.35)" stroke-width="1.2"/>
<rect x="575.2" y="267.1" width="9.2" height="9.4" fill="rgba(0,0,0,0.55)"/>
<rect x="578.5" y="269.6" width="2.6" height="4.4" fill="none" stroke="rgba(0,0,0,0.35)" stroke-width="1.2"/>
<rect x="581.8" y="276.2" width="9.2" height="9.4" fill="rgba(0,0,0,0.55)"/>
<rect x="585.1" y="278.7" width="2.6" height="4.4" fill="none" stroke="rgba(0,0,0,0.35)" stroke-width="1.2"/>
<rect x="590.9" y="273.3" width="9.2" height="9.4" fill="rgba(0,0,0,0.55)"/>
<rect x="594.2" y="275.8" width="2.6" height="4.4" fill="none" stroke="rgba(0,0,0,0.35)" stroke-width="1.2"/>
<rect x="589.9" y="342.4" width="9.2" height="9.4" fill="rgba(0,0,0,0.55)"/>
<rect x="593.2" y="344.9" width="2.6" height="4.4" fill="none" stroke="rgba(0,0,0,0.35)" stroke-width="1.2"/>
<rect x="622.8" y="294.9" width="9.2" height="9.4" fill="rgba(0,0,0,0.55)"/>
<rect x="626.1" y="297.4" width="2.6" height="4.4" fill="none" stroke="rgba(0,0,0,0.35)" stroke-width="1.2"/>
<rect x="619.1" y="327.4" width="9.2" height="9.4" fill="rgba(0,0,0,0.55)"/>
<rect x="622.4" y="329.9" width="2.6" height="4.4" fill="none" stroke="rgba(0,0,0,0.35)" stroke-width="1.2"/>
<rect x="607.3" y="328.7" width="9.2" height="9.4" fill="rgba(0,0,0,0.55)"/>
<rect x="610.6" y="331.2" width="2.6" height="4.4" fill="none" stroke="rgba(0,0,0,0.35)" stroke-width="1.2"/>
<rect x="613.5" y="344.2" width="9.2" height="9.4" fill="rgba(0,0,0,0.55)"/>
<rect x="616.8" y="346.7" width="2.6" height="4.4" fill="none" stroke="rgba(0,0,0,0.35)" stroke-width="1.2"/>
<rect x="639.6" y="274" width="9.2" height="9.4" fill="rgba(0,0,0,0.55)"/>
<rect x="642.9" y="276.5" width="2.6" height="4.4" fill="none" stroke="rgba(0,0,0,0.35)" stroke-width="1.2"/>
<rect x="638.4" y="275.3" width="9.2" height="9.4" fill="rgba(0,0,0,0.55)"/>
<rect x="641.7" y="277.8" width="2.6" height="4.4" fill="none" stroke="rgba(0,0,0,0.35)" stroke-width="1.2"/>
<rect x="641.4" y="272.3" width="9.2" height="9.4" fill="rgba(0,0,0,0.55)"/>
<rect x="644.7" y="274.8" width="2.6" height="4.4" fill="none" stroke="rgba(0,0,0,0.35)" stroke-width="1.2"/>
<rect x="645.8" y="267.1" width="9.2" height="9.4" fill="rgba(0,0,0,0.55)"/>
<rect x="649.1" y="269.6" width="2.6" height="4.4" fill="none" stroke="rgba(0,0,0,0.35)" stroke-width="1.2"/>
<rect x="647.1" y="292.6" width="9.2" height="9.4" fill="rgba(0,0,0,0.55)"/>
<rect x="650.4" y="295.1" width="2.6" height="4.4" fill="none" stroke="rgba(0,0,0,0.35)" stroke-width="1.2"/>
<rect x="642.1" y="334.3" width="9.2" height="9.4" fill="rgba(0,0,0,0.55)"/>
<rect x="645.4" y="336.8" width="2.6" height="4.4" fill="none" stroke="rgba(0,0,0,0.35)" stroke-width="1.2"/>
<rect x="652.1" y="346.1" width="9.2" height="9.4" fill="rgba(0,0,0,0.55)"/>
<rect x="655.4" y="348.6" width="2.6" height="4.4" fill="none" stroke="rgba(0,0,0,0.35)" stroke-width="1.2"/>
<rect x="653.3" y="296.3" width="9.2" height="9.4" fill="rgba(0,0,0,0.55)"/>
<rect x="656.6" y="298.8" width="2.6" height="4.4" fill="none" stroke="rgba(0,0,0,0.35)" stroke-width="1.2"/>
<rect x="640.9" y="300.3" width="9.2" height="9.4" fill="rgba(0,0,0,0.55)"/>
<rect x="644.2" y="302.8" width="2.6" height="4.4" fill="none" stroke="rgba(0,0,0,0.35)" stroke-width="1.2"/>
<rect x="519.6" y="364.6" width="9.2" height="9.4" fill="rgba(0,0,0,0.55)"/>
<rect x="522.9" y="367.1" width="2.6" height="4.4" fill="none" stroke="rgba(0,0,0,0.35)" stroke-width="1.2"/>
<rect x="570" y="386.3" width="9.2" height="9.4" fill="rgba(0,0,0,0.55)"/>
<rect x="573.3" y="388.8" width="2.6" height="4.4" fill="none" stroke="rgba(0,0,0,0.35)" stroke-width="1.2"/>
<rect x="574" y="426.8" width="9.2" height="9.4" fill="rgba(0,0,0,0.55)"/>
<rect x="577.3" y="429.3" width="2.6" height="4.4" fill="none" stroke="rgba(0,0,0,0.35)" stroke-width="1.2"/>
<rect x="602.9" y="358.4" width="9.2" height="9.4" fill="rgba(0,0,0,0.55)"/>
<rect x="606.2" y="360.9" width="2.6" height="4.4" fill="none" stroke="rgba(0,0,0,0.35)" stroke-width="1.2"/>
<rect x="616.6" y="357.4" width="9.2" height="9.4" fill="rgba(0,0,0,0.55)"/>
<rect x="619.9" y="359.9" width="2.6" height="4.4" fill="none" stroke="rgba(0,0,0,0.35)" stroke-width="1.2"/>
<rect x="601.1" y="380.7" width="9.2" height="9.4" fill="rgba(0,0,0,0.55)"/>
<rect x="604.4" y="383.2" width="2.6" height="4.4" fill="none" stroke="rgba(0,0,0,0.35)" stroke-width="1.2"/>
<rect x="650.2" y="387" width="9.2" height="9.4" fill="rgba(0,0,0,0.55)"/>
<rect x="653.5" y="389.5" width="2.6" height="4.4" fill="none" stroke="rgba(0,0,0,0.35)" stroke-width="1.2"/>
<rect x="589.5" y="461.1" width="9.2" height="9.4" fill="rgba(0,0,0,0.55)"/>
<rect x="592.8" y="463.6" width="2.6" height="4.4" fill="none" stroke="rgba(0,0,0,0.35)" stroke-width="1.2"/>
<rect x="613.1" y="463.3" width="9.2" height="9.4" fill="rgba(0,0,0,0.55)"/>
<rect x="616.4" y="465.8" width="2.6" height="4.4" fill="none" stroke="rgba(0,0,0,0.35)" stroke-width="1.2"/>
<rect x="662.3" y="508.1" width="9.2" height="9.4" fill="rgba(0,0,0,0.55)"/>
<rect x="665.6" y="510.6" width="2.6" height="4.4" fill="none" stroke="rgba(0,0,0,0.35)" stroke-width="1.2"/>
<rect x="682.5" y="448.7" width="9.2" height="9.4" fill="rgba(0,0,0,0.55)"/>
<rect x="685.8" y="451.2" width="2.6" height="4.4" fill="none" stroke="rgba(0,0,0,0.35)" stroke-width="1.2"/>
<rect x="689.2" y="473.4" width="9.2" height="9.4" fill="rgba(0,0,0,0.55)"/>
<rect x="692.5" y="475.9" width="2.6" height="4.4" fill="none" stroke="rgba(0,0,0,0.35)" stroke-width="1.2"/>
<rect x="702" y="115.1" width="9.2" height="9.4" fill="rgba(0,0,0,0.55)"/>
<rect x="705.3" y="117.6" width="2.6" height="4.4" fill="none" stroke="rgba(0,0,0,0.35)" stroke-width="1.2"/>
<rect x="688.9" y="163.9" width="9.2" height="9.4" fill="rgba(0,0,0,0.55)"/>
<rect x="692.2" y="166.4" width="2.6" height="4.4" fill="none" stroke="rgba(0,0,0,0.35)" stroke-width="1.2"/>
<rect x="669.7" y="192" width="9.2" height="9.4" fill="rgba(0,0,0,0.55)"/>
<rect x="673" y="194.5" width="2.6" height="4.4" fill="none" stroke="rgba(0,0,0,0.35)" stroke-width="1.2"/>
<rect x="669.7" y="199.5" width="9.2" height="9.4" fill="rgba(0,0,0,0.55)"/>
<rect x="673" y="202" width="2.6" height="4.4" fill="none" stroke="rgba(0,0,0,0.35)" stroke-width="1.2"/>
<rect x="679" y="202" width="9.2" height="9.4" fill="rgba(0,0,0,0.55)"/>
<rect x="682.3" y="204.5" width="2.6" height="4.4" fill="none" stroke="rgba(0,0,0,0.35)" stroke-width="1.2"/>
<rect x="657.8" y="203.2" width="9.2" height="9.4" fill="rgba(0,0,0,0.55)"/>
<rect x="661.1" y="205.7" width="2.6" height="4.4" fill="none" stroke="rgba(0,0,0,0.35)" stroke-width="1.2"/>
<rect x="677.1" y="213.8" width="9.2" height="9.4" fill="rgba(0,0,0,0.55)"/>
<rect x="680.4" y="216.3" width="2.6" height="4.4" fill="none" stroke="rgba(0,0,0,0.35)" stroke-width="1.2"/>
<rect x="660.3" y="220.6" width="9.2" height="9.4" fill="rgba(0,0,0,0.55)"/>
<rect x="663.6" y="223.1" width="2.6" height="4.4" fill="none" stroke="rgba(0,0,0,0.35)" stroke-width="1.2"/>
<rect x="687.1" y="221.9" width="9.2" height="9.4" fill="rgba(0,0,0,0.55)"/>
<rect x="690.4" y="224.4" width="2.6" height="4.4" fill="none" stroke="rgba(0,0,0,0.35)" stroke-width="1.2"/>
<rect x="696.4" y="222.5" width="9.2" height="9.4" fill="rgba(0,0,0,0.55)"/>
<rect x="699.7" y="225" width="2.6" height="4.4" fill="none" stroke="rgba(0,0,0,0.35)" stroke-width="1.2"/>
<rect x="706.3" y="219.4" width="9.2" height="9.4" fill="rgba(0,0,0,0.55)"/>
<rect x="709.6" y="221.9" width="2.6" height="4.4" fill="none" stroke="rgba(0,0,0,0.35)" stroke-width="1.2"/>
<rect x="708.8" y="192" width="9.2" height="9.4" fill="rgba(0,0,0,0.55)"/>
<rect x="712.1" y="194.5" width="2.6" height="4.4" fill="none" stroke="rgba(0,0,0,0.35)" stroke-width="1.2"/>
<rect x="716.3" y="190.2" width="9.2" height="9.4" fill="rgba(0,0,0,0.55)"/>
<rect x="719.6" y="192.7" width="2.6" height="4.4" fill="none" stroke="rgba(0,0,0,0.35)" stroke-width="1.2"/>
<rect x="731.8" y="179.6" width="9.2" height="9.4" fill="rgba(0,0,0,0.55)"/>
<rect x="735.1" y="182.1" width="2.6" height="4.4" fill="none" stroke="rgba(0,0,0,0.35)" stroke-width="1.2"/>
<rect x="726.9" y="212.6" width="9.2" height="9.4" fill="rgba(0,0,0,0.55)"/>
<rect x="730.2" y="215.1" width="2.6" height="4.4" fill="none" stroke="rgba(0,0,0,0.35)" stroke-width="1.2"/>
<rect x="745.5" y="195.2" width="9.2" height="9.4" fill="rgba(0,0,0,0.55)"/>
<rect x="748.8" y="197.7" width="2.6" height="4.4" fill="none" stroke="rgba(0,0,0,0.35)" stroke-width="1.2"/>
<rect x="752.4" y="184" width="9.2" height="9.4" fill="rgba(0,0,0,0.55)"/>
<rect x="755.7" y="186.5" width="2.6" height="4.4" fill="none" stroke="rgba(0,0,0,0.35)" stroke-width="1.2"/>
<rect x="750.5" y="217.5" width="9.2" height="9.4" fill="rgba(0,0,0,0.55)"/>
<rect x="753.8" y="220" width="2.6" height="4.4" fill="none" stroke="rgba(0,0,0,0.35)" stroke-width="1.2"/>
<rect x="754.9" y="231.2" width="9.2" height="9.4" fill="rgba(0,0,0,0.55)"/>
<rect x="758.2" y="233.7" width="2.6" height="4.4" fill="none" stroke="rgba(0,0,0,0.35)" stroke-width="1.2"/>
<rect x="781" y="221.3" width="9.2" height="9.4" fill="rgba(0,0,0,0.55)"/>
<rect x="784.3" y="223.8" width="2.6" height="4.4" fill="none" stroke="rgba(0,0,0,0.35)" stroke-width="1.2"/>
<rect x="796.5" y="244.9" width="9.2" height="9.4" fill="rgba(0,0,0,0.55)"/>
<rect x="799.8" y="247.4" width="2.6" height="4.4" fill="none" stroke="rgba(0,0,0,0.35)" stroke-width="1.2"/>
<rect x="764.2" y="258.6" width="9.2" height="9.4" fill="rgba(0,0,0,0.55)"/>
<rect x="767.5" y="261.1" width="2.6" height="4.4" fill="none" stroke="rgba(0,0,0,0.35)" stroke-width="1.2"/>
<rect x="752.4" y="254.2" width="9.2" height="9.4" fill="rgba(0,0,0,0.55)"/>
<rect x="755.7" y="256.7" width="2.6" height="4.4" fill="none" stroke="rgba(0,0,0,0.35)" stroke-width="1.2"/>
<rect x="730.6" y="241.2" width="9.2" height="9.4" fill="rgba(0,0,0,0.55)"/>
<rect x="733.9" y="243.7" width="2.6" height="4.4" fill="none" stroke="rgba(0,0,0,0.35)" stroke-width="1.2"/>
<rect x="713.8" y="251.7" width="9.2" height="9.4" fill="rgba(0,0,0,0.55)"/>
<rect x="717.1" y="254.2" width="2.6" height="4.4" fill="none" stroke="rgba(0,0,0,0.35)" stroke-width="1.2"/>
<rect x="694.5" y="251.1" width="9.2" height="9.4" fill="rgba(0,0,0,0.55)"/>
<rect x="697.8" y="253.6" width="2.6" height="4.4" fill="none" stroke="rgba(0,0,0,0.35)" stroke-width="1.2"/>
<rect x="677.7" y="246.1" width="9.2" height="9.4" fill="rgba(0,0,0,0.55)"/>
<rect x="681" y="248.6" width="2.6" height="4.4" fill="none" stroke="rgba(0,0,0,0.35)" stroke-width="1.2"/>
<rect x="680.2" y="233.1" width="9.2" height="9.4" fill="rgba(0,0,0,0.55)"/>
<rect x="683.5" y="235.6" width="2.6" height="4.4" fill="none" stroke="rgba(0,0,0,0.35)" stroke-width="1.2"/>
<rect x="663.4" y="235.6" width="9.2" height="9.4" fill="rgba(0,0,0,0.55)"/>
<rect x="666.7" y="238.1" width="2.6" height="4.4" fill="none" stroke="rgba(0,0,0,0.35)" stroke-width="1.2"/>
<rect x="662.2" y="257.3" width="9.2" height="9.4" fill="rgba(0,0,0,0.55)"/>
<rect x="665.5" y="259.8" width="2.6" height="4.4" fill="none" stroke="rgba(0,0,0,0.35)" stroke-width="1.2"/>
<rect x="744.4" y="253.3" width="9.2" height="9.4" fill="rgba(0,0,0,0.55)"/>
<rect x="747.7" y="255.8" width="2.6" height="4.4" fill="none" stroke="rgba(0,0,0,0.35)" stroke-width="1.2"/>
<rect x="654.1" y="277.1" width="9.2" height="9.4" fill="rgba(0,0,0,0.55)"/>
<rect x="657.4" y="279.6" width="2.6" height="4.4" fill="none" stroke="rgba(0,0,0,0.35)" stroke-width="1.2"/>
<rect x="649.1" y="313.1" width="9.2" height="9.4" fill="rgba(0,0,0,0.55)"/>
<rect x="652.4" y="315.6" width="2.6" height="4.4" fill="none" stroke="rgba(0,0,0,0.35)" stroke-width="1.2"/>
<rect x="657.2" y="323.1" width="9.2" height="9.4" fill="rgba(0,0,0,0.55)"/>
<rect x="660.5" y="325.6" width="2.6" height="4.4" fill="none" stroke="rgba(0,0,0,0.35)" stroke-width="1.2"/>
<rect x="659.1" y="354" width="9.2" height="9.4" fill="rgba(0,0,0,0.55)"/>
<rect x="662.4" y="356.5" width="2.6" height="4.4" fill="none" stroke="rgba(0,0,0,0.35)" stroke-width="1.2"/>
<rect x="669" y="299.5" width="9.2" height="9.4" fill="rgba(0,0,0,0.55)"/>
<rect x="672.3" y="302" width="2.6" height="4.4" fill="none" stroke="rgba(0,0,0,0.35)" stroke-width="1.2"/>
<rect x="679" y="303.2" width="9.2" height="9.4" fill="rgba(0,0,0,0.55)"/>
<rect x="682.3" y="305.7" width="2.6" height="4.4" fill="none" stroke="rgba(0,0,0,0.35)" stroke-width="1.2"/>
<rect x="692.7" y="300.7" width="9.2" height="9.4" fill="rgba(0,0,0,0.55)"/>
<rect x="696" y="303.2" width="2.6" height="4.4" fill="none" stroke="rgba(0,0,0,0.35)" stroke-width="1.2"/>
<rect x="699.5" y="287.6" width="9.2" height="9.4" fill="rgba(0,0,0,0.55)"/>
<rect x="702.8" y="290.1" width="2.6" height="4.4" fill="none" stroke="rgba(0,0,0,0.35)" stroke-width="1.2"/>
<rect x="710.1" y="323.7" width="9.2" height="9.4" fill="rgba(0,0,0,0.55)"/>
<rect x="713.4" y="326.2" width="2.6" height="4.4" fill="none" stroke="rgba(0,0,0,0.35)" stroke-width="1.2"/>
<rect x="706.3" y="342.4" width="9.2" height="9.4" fill="rgba(0,0,0,0.55)"/>
<rect x="709.6" y="344.9" width="2.6" height="4.4" fill="none" stroke="rgba(0,0,0,0.35)" stroke-width="1.2"/>
<rect x="715.1" y="339.9" width="9.2" height="9.4" fill="rgba(0,0,0,0.55)"/>
<rect x="718.4" y="342.4" width="2.6" height="4.4" fill="none" stroke="rgba(0,0,0,0.35)" stroke-width="1.2"/>
<rect x="695.2" y="349.2" width="9.2" height="9.4" fill="rgba(0,0,0,0.55)"/>
<rect x="698.5" y="351.7" width="2.6" height="4.4" fill="none" stroke="rgba(0,0,0,0.35)" stroke-width="1.2"/>
<rect x="718.8" y="352.8" width="9.2" height="9.4" fill="rgba(0,0,0,0.55)"/>
<rect x="722.1" y="355.3" width="2.6" height="4.4" fill="none" stroke="rgba(0,0,0,0.35)" stroke-width="1.2"/>
<rect x="743.7" y="286.4" width="9.2" height="9.4" fill="rgba(0,0,0,0.55)"/>
<rect x="747" y="288.9" width="2.6" height="4.4" fill="none" stroke="rgba(0,0,0,0.35)" stroke-width="1.2"/>
<rect x="747.4" y="306.9" width="9.2" height="9.4" fill="rgba(0,0,0,0.55)"/>
<rect x="750.7" y="309.4" width="2.6" height="4.4" fill="none" stroke="rgba(0,0,0,0.35)" stroke-width="1.2"/>
<rect x="754.9" y="274" width="9.2" height="9.4" fill="rgba(0,0,0,0.55)"/>
<rect x="758.2" y="276.5" width="2.6" height="4.4" fill="none" stroke="rgba(0,0,0,0.35)" stroke-width="1.2"/>
<rect x="757.4" y="295.1" width="9.2" height="9.4" fill="rgba(0,0,0,0.55)"/>
<rect x="760.7" y="297.6" width="2.6" height="4.4" fill="none" stroke="rgba(0,0,0,0.35)" stroke-width="1.2"/>
<rect x="754.9" y="320" width="9.2" height="9.4" fill="rgba(0,0,0,0.55)"/>
<rect x="758.2" y="322.5" width="2.6" height="4.4" fill="none" stroke="rgba(0,0,0,0.35)" stroke-width="1.2"/>
<rect x="765.4" y="283.9" width="9.2" height="9.4" fill="rgba(0,0,0,0.55)"/>
<rect x="768.7" y="286.4" width="2.6" height="4.4" fill="none" stroke="rgba(0,0,0,0.35)" stroke-width="1.2"/>
<rect x="765.4" y="302.6" width="9.2" height="9.4" fill="rgba(0,0,0,0.55)"/>
<rect x="768.7" y="305.1" width="2.6" height="4.4" fill="none" stroke="rgba(0,0,0,0.35)" stroke-width="1.2"/>
<rect x="768.5" y="311.9" width="9.2" height="9.4" fill="rgba(0,0,0,0.55)"/>
<rect x="771.8" y="314.4" width="2.6" height="4.4" fill="none" stroke="rgba(0,0,0,0.35)" stroke-width="1.2"/>
<rect x="776" y="270.8" width="9.2" height="9.4" fill="rgba(0,0,0,0.55)"/>
<rect x="779.3" y="273.3" width="2.6" height="4.4" fill="none" stroke="rgba(0,0,0,0.35)" stroke-width="1.2"/>
<rect x="773.5" y="276.4" width="9.2" height="9.4" fill="rgba(0,0,0,0.55)"/>
<rect x="776.8" y="278.9" width="2.6" height="4.4" fill="none" stroke="rgba(0,0,0,0.35)" stroke-width="1.2"/>
<rect x="780.4" y="302.3" width="9.2" height="9.4" fill="rgba(0,0,0,0.55)"/>
<rect x="783.7" y="304.8" width="2.6" height="4.4" fill="none" stroke="rgba(0,0,0,0.35)" stroke-width="1.2"/>
<rect x="780.4" y="319.4" width="9.2" height="9.4" fill="rgba(0,0,0,0.55)"/>
<rect x="783.7" y="321.9" width="2.6" height="4.4" fill="none" stroke="rgba(0,0,0,0.35)" stroke-width="1.2"/>
<rect x="800.9" y="299.1" width="9.2" height="9.4" fill="rgba(0,0,0,0.55)"/>
<rect x="804.2" y="301.6" width="2.6" height="4.4" fill="none" stroke="rgba(0,0,0,0.35)" stroke-width="1.2"/>
<rect x="685.2" y="369.6" width="9.2" height="9.4" fill="rgba(0,0,0,0.55)"/>
<rect x="688.5" y="372.1" width="2.6" height="4.4" fill="none" stroke="rgba(0,0,0,0.35)" stroke-width="1.2"/>
<rect x="677.7" y="369.6" width="9.2" height="9.4" fill="rgba(0,0,0,0.55)"/>
<rect x="681" y="372.1" width="2.6" height="4.4" fill="none" stroke="rgba(0,0,0,0.35)" stroke-width="1.2"/>
<rect x="685.8" y="395.3" width="9.2" height="9.4" fill="rgba(0,0,0,0.55)"/>
<rect x="689.1" y="397.8" width="2.6" height="4.4" fill="none" stroke="rgba(0,0,0,0.35)" stroke-width="1.2"/>
<rect x="756.7" y="363.3" width="9.2" height="9.4" fill="rgba(0,0,0,0.55)"/>
<rect x="760" y="365.8" width="2.6" height="4.4" fill="none" stroke="rgba(0,0,0,0.35)" stroke-width="1.2"/>
<rect x="761.7" y="398.2" width="9.2" height="9.4" fill="rgba(0,0,0,0.55)"/>
<rect x="765" y="400.7" width="2.6" height="4.4" fill="none" stroke="rgba(0,0,0,0.35)" stroke-width="1.2"/>
<rect x="730.6" y="406.9" width="9.2" height="9.4" fill="rgba(0,0,0,0.55)"/>
<rect x="733.9" y="409.4" width="2.6" height="4.4" fill="none" stroke="rgba(0,0,0,0.35)" stroke-width="1.2"/>
<rect x="712.4" y="462.4" width="9.2" height="9.4" fill="rgba(0,0,0,0.55)"/>
<rect x="715.7" y="464.9" width="2.6" height="4.4" fill="none" stroke="rgba(0,0,0,0.35)" stroke-width="1.2"/>
<rect x="827.3" y="514.1" width="9.2" height="9.4" fill="rgba(0,0,0,0.55)"/>
<rect x="830.6" y="516.6" width="2.6" height="4.4" fill="none" stroke="rgba(0,0,0,0.35)" stroke-width="1.2"/>
<rect x="834.7" y="228.1" width="9.2" height="9.4" fill="rgba(0,0,0,0.55)"/>
<rect x="838" y="230.6" width="2.6" height="4.4" fill="none" stroke="rgba(0,0,0,0.35)" stroke-width="1.2"/>
<rect x="853.8" y="269.5" width="9.2" height="9.4" fill="rgba(0,0,0,0.55)"/>
<rect x="857.1" y="272" width="2.6" height="4.4" fill="none" stroke="rgba(0,0,0,0.35)" stroke-width="1.2"/>
<rect x="853.8" y="278.5" width="9.2" height="9.4" fill="rgba(0,0,0,0.55)"/>
<rect x="857.1" y="281" width="2.6" height="4.4" fill="none" stroke="rgba(0,0,0,0.35)" stroke-width="1.2"/>
<rect x="889.1" y="278.1" width="9.2" height="9.4" fill="rgba(0,0,0,0.55)"/>
<rect x="892.4" y="280.6" width="2.6" height="4.4" fill="none" stroke="rgba(0,0,0,0.35)" stroke-width="1.2"/>
<rect x="927.3" y="324.8" width="9.2" height="9.4" fill="rgba(0,0,0,0.55)"/>
<rect x="930.6" y="327.3" width="2.6" height="4.4" fill="none" stroke="rgba(0,0,0,0.35)" stroke-width="1.2"/>
<rect x="187.1" y="300.1" width="9.2" height="9.4" fill="rgba(0,0,0,0.55)"/>
<rect x="190.4" y="302.6" width="2.6" height="4.4" fill="none" stroke="rgba(0,0,0,0.35)" stroke-width="1.2"/>
<rect x="218.4" y="314.3" width="9.2" height="9.4" fill="rgba(0,0,0,0.55)"/>
<rect x="221.7" y="316.8" width="2.6" height="4.4" fill="none" stroke="rgba(0,0,0,0.35)" stroke-width="1.2"/>
<rect x="233.1" y="296.3" width="9.2" height="9.4" fill="rgba(0,0,0,0.55)"/>
<rect x="236.4" y="298.8" width="2.6" height="4.4" fill="none" stroke="rgba(0,0,0,0.35)" stroke-width="1.2"/>
<rect x="235.6" y="305.6" width="9.2" height="9.4" fill="rgba(0,0,0,0.55)"/>
<rect x="238.9" y="308.1" width="2.6" height="4.4" fill="none" stroke="rgba(0,0,0,0.35)" stroke-width="1.2"/>
<rect x="234.3" y="321.2" width="9.2" height="9.4" fill="rgba(0,0,0,0.55)"/>
<rect x="237.6" y="323.7" width="2.6" height="4.4" fill="none" stroke="rgba(0,0,0,0.35)" stroke-width="1.2"/>
<rect x="219.4" y="313.3" width="9.2" height="9.4" fill="rgba(0,0,0,0.55)"/>
<rect x="222.7" y="315.8" width="2.6" height="4.4" fill="none" stroke="rgba(0,0,0,0.35)" stroke-width="1.2"/>
<rect x="265.4" y="305.6" width="9.2" height="9.4" fill="rgba(0,0,0,0.55)"/>
<rect x="268.7" y="308.1" width="2.6" height="4.4" fill="none" stroke="rgba(0,0,0,0.35)" stroke-width="1.2"/>
<polygon points="204.1,74.3 213.3,74.3 208.7,82.9" fill="#008000" stroke="#008000" stroke-width="1.2"/>
<polygon points="206,158.1 215.2,158.1 210.6,166.7" fill="#008000" stroke="#008000" stroke-width="1.2"/>
<polygon points="239.5,244.3 248.7,244.3 244.1,252.9" fill="#008000" stroke="#008000" stroke-width="1.2"/>
<polygon points="251.1,240.3 260.3,240.3 255.7,248.9" fill="#008000" stroke="#008000" stroke-width="1.2"/>
<polygon points="281.8,263.2 291,263.2 286.4,271.8" fill="#008000" stroke="#008000" stroke-width="1.2"/>
<polygon points="318.4,265.2 327.6,265.2 323,273.8" fill="#008000" stroke="#008000" stroke-width="1.2"/>
<polygon points="333,274.8 342.2,274.8 337.6,283.4" fill="#008000" stroke="#008000" stroke-width="1.2"/>
<polygon points="348.3,280.9 357.5,280.9 352.9,289.5" fill="#008000" stroke="#008000" stroke-width="1.2"/>
<polygon points="389.2,235.6 398.4,235.6 393.8,244.2" fill="#008000" stroke="#008000" stroke-width="1.2"/>
<polygon points="383.1,264.4 392.3,264.4 387.7,273" fill="#008000" stroke="#008000" stroke-width="1.2"/>
<polygon points="400.6,310 409.8,310 405.2,318.6" fill="#008000" stroke="#008000" stroke-width="1.2"/>
<polygon points="299.6,303 308.8,303 304.2,311.6" fill="#008000" stroke="#008000" stroke-width="1.2"/>
<polygon points="160.8,280.9 170,280.9 165.4,289.5" fill="#008000" stroke="#008000" stroke-width="1.2"/>
<polygon points="174.7,314.9 183.9,314.9 179.3,323.5" fill="#008000" stroke="#008000" stroke-width="1.2"/>
<polygon points="180.7,324.7 189.9,324.7 185.3,333.3" fill="#008000" stroke="#008000" stroke-width="1.2"/>
<polygon points="194.2,332.6 203.4,332.6 198.8,341.2" fill="#008000" stroke="#008000" stroke-width="1.2"/>
<polygon points="199.9,336.5 209.1,336.5 204.5,345.1" fill="#008000" stroke="#008000" stroke-width="1.2"/>
<polygon points="193.3,346.1 202.5,346.1 197.9,354.7" fill="#008000" stroke="#008000" stroke-width="1.2"/>
<polygon points="215.5,332.1 224.7,332.1 220.1,340.7" fill="#008000" stroke="#008000" stroke-width="1.2"/>
<polygon points="222.1,328.2 231.3,328.2 226.7,336.8" fill="#008000" stroke="#008000" stroke-width="1.2"/>
<polygon points="221.2,338.6 230.4,338.6 225.8,347.2" fill="#008000" stroke="#008000" stroke-width="1.2"/>
<polygon points="215.1,346.9 224.3,346.9 219.7,355.5" fill="#008000" stroke="#008000" stroke-width="1.2"/>
<polygon points="220.3,348.2 229.5,348.2 224.9,356.8" fill="#008000" stroke="#008000" stroke-width="1.2"/>
<polygon points="234.7,322.1 243.9,322.1 239.3,330.7" fill="#008000" stroke="#008000" stroke-width="1.2"/>
<polygon points="233,345.6 242.2,345.6 237.6,354.2" fill="#008000" stroke="#008000" stroke-width="1.2"/>
<polygon points="240.8,345.6 250,345.6 245.4,354.2" fill="#008000" stroke="#008000" stroke-width="1.2"/>
<polygon points="231.2,361.3 240.4,361.3 235.8,369.9" fill="#008000" stroke="#008000" stroke-width="1.2"/>
<polygon points="252.1,348.7 261.3,348.7 256.7,357.3" fill="#008000" stroke="#008000" stroke-width="1.2"/>
<polygon points="253.9,354.3 263.1,354.3 258.5,362.9" fill="#008000" stroke="#008000" stroke-width="1.2"/>
<polygon points="249.5,361.3 258.7,361.3 254.1,369.9" fill="#008000" stroke="#008000" stroke-width="1.2"/>
<polygon points="280.4,337.3 289.6,337.3 285,345.9" fill="#008000" stroke="#008000" stroke-width="1.2"/>
<polygon points="274.8,349.5 284,349.5 279.4,358.1" fill="#008000" stroke="#008000" stroke-width="1.2"/>
<polygon points="274.8,354.3 284,354.3 279.4,362.9" fill="#008000" stroke="#008000" stroke-width="1.2"/>
<polygon points="267.8,357.8 277,357.8 272.4,366.4" fill="#008000" stroke="#008000" stroke-width="1.2"/>
<polygon points="277.8,360.9 287,360.9 282.4,369.5" fill="#008000" stroke="#008000" stroke-width="1.2"/>
<polygon points="165,365.2 174.2,365.2 169.6,373.8" fill="#008000" stroke="#008000" stroke-width="1.2"/>
<polygon points="167.6,378.3 176.8,378.3 172.2,386.9" fill="#008000" stroke="#008000" stroke-width="1.2"/>
<polygon points="195.5,377 204.7,377 200.1,385.6" fill="#008000" stroke="#008000" stroke-width="1.2"/>
<polygon points="205.1,379.6 214.3,379.6 209.7,388.2" fill="#008000" stroke="#008000" stroke-width="1.2"/>
<polygon points="219,377.8 228.2,377.8 223.6,386.4" fill="#008000" stroke="#008000" stroke-width="1.2"/>
<polygon points="233.8,382.2 243,382.2 238.4,390.8" fill="#008000" stroke="#008000" stroke-width="1.2"/>
<polygon points="261.7,381.3 270.9,381.3 266.3,389.9" fill="#008000" stroke="#008000" stroke-width="1.2"/>
<polygon points="276.5,382.2 285.7,382.2 281.1,390.8" fill="#008000" stroke="#008000" stroke-width="1.2"/>
<polygon points="236.4,384.7 245.6,384.7 241,393.3" fill="#008000" stroke="#008000" stroke-width="1.2"/>
<polygon points="203.3,393.4 212.5,393.4 207.9,402" fill="#008000" stroke="#008000" stroke-width="1.2"/>
<polygon points="205.1,398.6 214.3,398.6 209.7,407.2" fill="#008000" stroke="#008000" stroke-width="1.2"/>
<polygon points="217.3,392.6 226.5,392.6 221.9,401.2" fill="#008000" stroke="#008000" stroke-width="1.2"/>
<polygon points="224.3,395.6 233.5,395.6 228.9,404.2" fill="#008000" stroke="#008000" stroke-width="1.2"/>
<polygon points="188.5,411.7 197.7,411.7 193.1,420.3" fill="#008000" stroke="#008000" stroke-width="1.2"/>
<polygon points="182.4,416.1 191.6,416.1 187,424.7" fill="#008000" stroke="#008000" stroke-width="1.2"/>
<polygon points="229,429.1 238.2,429.1 233.6,437.7" fill="#008000" stroke="#008000" stroke-width="1.2"/>
<polygon points="253,434.4 262.2,434.4 257.6,443" fill="#008000" stroke="#008000" stroke-width="1.2"/>
<polygon points="299.6,416.5 308.8,416.5 304.2,425.1" fill="#008000" stroke="#008000" stroke-width="1.2"/>
<polygon points="303.5,443.9 312.7,443.9 308.1,452.5" fill="#008000" stroke="#008000" stroke-width="1.2"/>
<polygon points="254.7,451.7 263.9,451.7 259.3,460.3" fill="#008000" stroke="#008000" stroke-width="1.2"/>
<polygon points="255.6,456 264.8,456 260.2,464.6" fill="#008000" stroke="#008000" stroke-width="1.2"/>
<polygon points="243.9,453.9 253.1,453.9 248.5,462.5" fill="#008000" stroke="#008000" stroke-width="1.2"/>
<polygon points="268.2,473 277.4,473 272.8,481.6" fill="#008000" stroke="#008000" stroke-width="1.2"/>
<polygon points="213.4,496.1 222.6,496.1 218,504.7" fill="#008000" stroke="#008000" stroke-width="1.2"/>
<polygon points="229.5,518.6 238.7,518.6 234.1,527.2" fill="#008000" stroke="#008000" stroke-width="1.2"/>
<polygon points="194.6,512.6 203.8,512.6 199.2,521.2" fill="#008000" stroke="#008000" stroke-width="1.2"/>
<polygon points="265.6,509.1 274.8,509.1 270.2,517.7" fill="#008000" stroke="#008000" stroke-width="1.2"/>
<polygon points="298.3,509.1 307.5,509.1 302.9,517.7" fill="#008000" stroke="#008000" stroke-width="1.2"/>
<polygon points="212.4,593.4 221.6,593.4 217,602" fill="#008000" stroke="#008000" stroke-width="1.2"/>
<polygon points="344.7,365.3 353.9,365.3 349.3,373.9" fill="#008000" stroke="#008000" stroke-width="1.2"/>
<polygon points="423.8,380.2 433,380.2 428.4,388.8" fill="#008000" stroke="#008000" stroke-width="1.2"/>
<polygon points="443.2,360 452.4,360 447.8,368.6" fill="#008000" stroke="#008000" stroke-width="1.2"/>
<polygon points="460.3,372.7 469.5,372.7 464.9,381.3" fill="#008000" stroke="#008000" stroke-width="1.2"/>
<polygon points="464.1,355.6 473.3,355.6 468.7,364.2" fill="#008000" stroke="#008000" stroke-width="1.2"/>
<polygon points="446.1,394.4 455.3,394.4 450.7,403" fill="#008000" stroke="#008000" stroke-width="1.2"/>
<polygon points="482.7,393.6 491.9,393.6 487.3,402.2" fill="#008000" stroke="#008000" stroke-width="1.2"/>
<polygon points="430.5,425 439.7,425 435.1,433.6" fill="#008000" stroke="#008000" stroke-width="1.2"/>
<polygon points="419.1,438.1 428.3,438.1 423.7,446.7" fill="#008000" stroke="#008000" stroke-width="1.2"/>
<polygon points="366.5,438.1 375.7,438.1 371.1,446.7" fill="#008000" stroke="#008000" stroke-width="1.2"/>
<polygon points="449.8,445.4 459,445.4 454.4,454" fill="#008000" stroke="#008000" stroke-width="1.2"/>
<polygon points="491,450.3 500.2,450.3 495.6,458.9" fill="#008000" stroke="#008000" stroke-width="1.2"/>
<polygon points="359.3,475.3 368.5,475.3 363.9,483.9" fill="#008000" stroke="#008000" stroke-width="1.2"/>
<polygon points="397.3,515.7 406.5,515.7 401.9,524.3" fill="#008000" stroke="#008000" stroke-width="1.2"/>
<polygon points="417.5,543.2 426.7,543.2 422.1,551.8" fill="#008000" stroke="#008000" stroke-width="1.2"/>
<polygon points="589.5,461.8 598.7,461.8 594.1,470.4" fill="#008000" stroke="#008000" stroke-width="1.2"/>
<polygon points="827.3,514.8 836.5,514.8 831.9,523.4" fill="#008000" stroke="#008000" stroke-width="1.2"/>
<polygon points="187.1,300.8 196.3,300.8 191.7,309.4" fill="#008000" stroke="#008000" stroke-width="1.2"/>
<polygon points="218.4,315 227.6,315 223,323.6" fill="#008000" stroke="#008000" stroke-width="1.2"/>
<polygon points="233.1,297 242.3,297 237.7,305.6" fill="#008000" stroke="#008000" stroke-width="1.2"/>
<polygon points="235.6,306.3 244.8,306.3 240.2,314.9" fill="#008000" stroke="#008000" stroke-width="1.2"/>
<polygon points="234.3,321.9 243.5,321.9 238.9,330.5" fill="#008000" stroke="#008000" stroke-width="1.2"/>
<polygon points="219.4,314 228.6,314 224,322.6" fill="#008000" stroke="#008000" stroke-width="1.2"/>
<circle cx="805.5" cy="303.8" r="4.6" fill="#ff0000"/>
<circle cx="858.4" cy="274.2" r="4.6" fill="#ff0000"/>
<circle cx="858.4" cy="283.2" r="4.6" fill="#ff0000"/>
<circle cx="893.7" cy="282.8" r="4.6" fill="#ff0000"/>
</g>
<rect x="82" y="4" width="905.7" height="661.8" fill="none" stroke="#000" stroke-width="1.6"/>
<line x1="91.22" y1="665.8" x2="91.22" y2="661.8" stroke="#000" stroke-width="1.2"/>
<line x1="91.22" y1="4" x2="91.22" y2="8" stroke="#000" stroke-width="1.2"/>
<line x1="103.16" y1="665.8" x2="103.16" y2="661.8" stroke="#000" stroke-width="1.2"/>
<line x1="103.16" y1="4" x2="103.16" y2="8" stroke="#000" stroke-width="1.2"/>
<line x1="113.68" y1="665.8" x2="113.68" y2="661.8" stroke="#000" stroke-width="1.2"/>
<line x1="113.68" y1="4" x2="113.68" y2="8" stroke="#000" stroke-width="1.2"/>
<line x1="123.1" y1="665.8" x2="123.1" y2="658.8" stroke="#000" stroke-width="1.6"/>
<line x1="123.1" y1="4" x2="123.1" y2="11" stroke="#000" stroke-width="1.6"/>
<line x1="185.05" y1="665.8" x2="185.05" y2="661.8" stroke="#000" stroke-width="1.2"/>
<line x1="185.05" y1="4" x2="185.05" y2="8" stroke="#000" stroke-width="1.2"/>
<line x1="221.29" y1="665.8" x2="221.29" y2="661.8" stroke="#000" stroke-width="1.2"/>
<line x1="221.29" y1="4" x2="221.29" y2="8" stroke="#000" stroke-width="1.2"/>
<line x1="247" y1="665.8" x2="247" y2="661.8" stroke="#000" stroke-width="1.2"/>
<line x1="247" y1="4" x2="247" y2="8" stroke="#000" stroke-width="1.2"/>
<line x1="266.95" y1="665.8" x2="266.95" y2="661.8" stroke="#000" stroke-width="1.2"/>
<line x1="266.95" y1="4" x2="266.95" y2="8" stroke="#000" stroke-width="1.2"/>
<line x1="283.24" y1="665.8" x2="283.24" y2="661.8" stroke="#000" stroke-width="1.2"/>
<line x1="283.24" y1="4" x2="283.24" y2="8" stroke="#000" stroke-width="1.2"/>
<line x1="297.02" y1="665.8" x2="297.02" y2="661.8" stroke="#000" stroke-width="1.2"/>
<line x1="297.02" y1="4" x2="297.02" y2="8" stroke="#000" stroke-width="1.2"/>
<line x1="308.96" y1="665.8" x2="308.96" y2="661.8" stroke="#000" stroke-width="1.2"/>
<line x1="308.96" y1="4" x2="308.96" y2="8" stroke="#000" stroke-width="1.2"/>
<line x1="319.48" y1="665.8" x2="319.48" y2="661.8" stroke="#000" stroke-width="1.2"/>
<line x1="319.48" y1="4" x2="319.48" y2="8" stroke="#000" stroke-width="1.2"/>
<line x1="328.9" y1="665.8" x2="328.9" y2="658.8" stroke="#000" stroke-width="1.6"/>
<line x1="328.9" y1="4" x2="328.9" y2="11" stroke="#000" stroke-width="1.6"/>
<line x1="390.85" y1="665.8" x2="390.85" y2="661.8" stroke="#000" stroke-width="1.2"/>
<line x1="390.85" y1="4" x2="390.85" y2="8" stroke="#000" stroke-width="1.2"/>
<line x1="427.09" y1="665.8" x2="427.09" y2="661.8" stroke="#000" stroke-width="1.2"/>
<line x1="427.09" y1="4" x2="427.09" y2="8" stroke="#000" stroke-width="1.2"/>
<line x1="452.8" y1="665.8" x2="452.8" y2="661.8" stroke="#000" stroke-width="1.2"/>
<line x1="452.8" y1="4" x2="452.8" y2="8" stroke="#000" stroke-width="1.2"/>
<line x1="472.75" y1="665.8" x2="472.75" y2="661.8" stroke="#000" stroke-width="1.2"/>
<line x1="472.75" y1="4" x2="472.75" y2="8" stroke="#000" stroke-width="1.2"/>
<line x1="489.04" y1="665.8" x2="489.04" y2="661.8" stroke="#000" stroke-width="1.2"/>
<line x1="489.04" y1="4" x2="489.04" y2="8" stroke="#000" stroke-width="1.2"/>
<line x1="502.82" y1="665.8" x2="502.82" y2="661.8" stroke="#000" stroke-width="1.2"/>
<line x1="502.82" y1="4" x2="502.82" y2="8" stroke="#000" stroke-width="1.2"/>
<line x1="514.76" y1="665.8" x2="514.76" y2="661.8" stroke="#000" stroke-width="1.2"/>
<line x1="514.76" y1="4" x2="514.76" y2="8" stroke="#000" stroke-width="1.2"/>
<line x1="525.28" y1="665.8" x2="525.28" y2="661.8" stroke="#000" stroke-width="1.2"/>
<line x1="525.28" y1="4" x2="525.28" y2="8" stroke="#000" stroke-width="1.2"/>
<line x1="534.7" y1="665.8" x2="534.7" y2="658.8" stroke="#000" stroke-width="1.6"/>
<line x1="534.7" y1="4" x2="534.7" y2="11" stroke="#000" stroke-width="1.6"/>
<line x1="596.65" y1="665.8" x2="596.65" y2="661.8" stroke="#000" stroke-width="1.2"/>
<line x1="596.65" y1="4" x2="596.65" y2="8" stroke="#000" stroke-width="1.2"/>
<line x1="632.89" y1="665.8" x2="632.89" y2="661.8" stroke="#000" stroke-width="1.2"/>
<line x1="632.89" y1="4" x2="632.89" y2="8" stroke="#000" stroke-width="1.2"/>
<line x1="658.6" y1="665.8" x2="658.6" y2="661.8" stroke="#000" stroke-width="1.2"/>
<line x1="658.6" y1="4" x2="658.6" y2="8" stroke="#000" stroke-width="1.2"/>
<line x1="678.55" y1="665.8" x2="678.55" y2="661.8" stroke="#000" stroke-width="1.2"/>
<line x1="678.55" y1="4" x2="678.55" y2="8" stroke="#000" stroke-width="1.2"/>
<line x1="694.84" y1="665.8" x2="694.84" y2="661.8" stroke="#000" stroke-width="1.2"/>
<line x1="694.84" y1="4" x2="694.84" y2="8" stroke="#000" stroke-width="1.2"/>
<line x1="708.62" y1="665.8" x2="708.62" y2="661.8" stroke="#000" stroke-width="1.2"/>
<line x1="708.62" y1="4" x2="708.62" y2="8" stroke="#000" stroke-width="1.2"/>
<line x1="720.56" y1="665.8" x2="720.56" y2="661.8" stroke="#000" stroke-width="1.2"/>
<line x1="720.56" y1="4" x2="720.56" y2="8" stroke="#000" stroke-width="1.2"/>
<line x1="731.08" y1="665.8" x2="731.08" y2="661.8" stroke="#000" stroke-width="1.2"/>
<line x1="731.08" y1="4" x2="731.08" y2="8" stroke="#000" stroke-width="1.2"/>
<line x1="740.5" y1="665.8" x2="740.5" y2="658.8" stroke="#000" stroke-width="1.6"/>
<line x1="740.5" y1="4" x2="740.5" y2="11" stroke="#000" stroke-width="1.6"/>
<line x1="802.45" y1="665.8" x2="802.45" y2="661.8" stroke="#000" stroke-width="1.2"/>
<line x1="802.45" y1="4" x2="802.45" y2="8" stroke="#000" stroke-width="1.2"/>
<line x1="838.69" y1="665.8" x2="838.69" y2="661.8" stroke="#000" stroke-width="1.2"/>
<line x1="838.69" y1="4" x2="838.69" y2="8" stroke="#000" stroke-width="1.2"/>
<line x1="864.4" y1="665.8" x2="864.4" y2="661.8" stroke="#000" stroke-width="1.2"/>
<line x1="864.4" y1="4" x2="864.4" y2="8" stroke="#000" stroke-width="1.2"/>
<line x1="884.35" y1="665.8" x2="884.35" y2="661.8" stroke="#000" stroke-width="1.2"/>
<line x1="884.35" y1="4" x2="884.35" y2="8" stroke="#000" stroke-width="1.2"/>
<line x1="900.64" y1="665.8" x2="900.64" y2="661.8" stroke="#000" stroke-width="1.2"/>
<line x1="900.64" y1="4" x2="900.64" y2="8" stroke="#000" stroke-width="1.2"/>
<line x1="914.42" y1="665.8" x2="914.42" y2="661.8" stroke="#000" stroke-width="1.2"/>
<line x1="914.42" y1="4" x2="914.42" y2="8" stroke="#000" stroke-width="1.2"/>
<line x1="926.36" y1="665.8" x2="926.36" y2="661.8" stroke="#000" stroke-width="1.2"/>
<line x1="926.36" y1="4" x2="926.36" y2="8" stroke="#000" stroke-width="1.2"/>
<line x1="936.88" y1="665.8" x2="936.88" y2="661.8" stroke="#000" stroke-width="1.2"/>
<line x1="936.88" y1="4" x2="936.88" y2="8" stroke="#000" stroke-width="1.2"/>
<line x1="946.3" y1="665.8" x2="946.3" y2="658.8" stroke="#000" stroke-width="1.6"/>
<line x1="946.3" y1="4" x2="946.3" y2="11" stroke="#000" stroke-width="1.6"/>
<line x1="82" y1="660.03" x2="86" y2="660.03" stroke="#000" stroke-width="1.2"/>
<line x1="987.7" y1="660.03" x2="983.7" y2="660.03" stroke="#000" stroke-width="1.2"/>
<line x1="82" y1="627.52" x2="86" y2="627.52" stroke="#000" stroke-width="1.2"/>
<line x1="987.7" y1="627.52" x2="983.7" y2="627.52" stroke="#000" stroke-width="1.2"/>
<line x1="82" y1="604.46" x2="86" y2="604.46" stroke="#000" stroke-width="1.2"/>
<line x1="987.7" y1="604.46" x2="983.7" y2="604.46" stroke="#000" stroke-width="1.2"/>
<line x1="82" y1="586.57" x2="86" y2="586.57" stroke="#000" stroke-width="1.2"/>
<line x1="987.7" y1="586.57" x2="983.7" y2="586.57" stroke="#000" stroke-width="1.2"/>
<line x1="82" y1="571.95" x2="86" y2="571.95" stroke="#000" stroke-width="1.2"/>
<line x1="987.7" y1="571.95" x2="983.7" y2="571.95" stroke="#000" stroke-width="1.2"/>
<line x1="82" y1="559.59" x2="86" y2="559.59" stroke="#000" stroke-width="1.2"/>
<line x1="987.7" y1="559.59" x2="983.7" y2="559.59" stroke="#000" stroke-width="1.2"/>
<line x1="82" y1="548.89" x2="86" y2="548.89" stroke="#000" stroke-width="1.2"/>
<line x1="987.7" y1="548.89" x2="983.7" y2="548.89" stroke="#000" stroke-width="1.2"/>
<line x1="82" y1="539.45" x2="86" y2="539.45" stroke="#000" stroke-width="1.2"/>
<line x1="987.7" y1="539.45" x2="983.7" y2="539.45" stroke="#000" stroke-width="1.2"/>
<line x1="82" y1="531" x2="89" y2="531" stroke="#000" stroke-width="1.6"/>
<line x1="987.7" y1="531" x2="980.7" y2="531" stroke="#000" stroke-width="1.6"/>
<line x1="82" y1="475.43" x2="86" y2="475.43" stroke="#000" stroke-width="1.2"/>
<line x1="987.7" y1="475.43" x2="983.7" y2="475.43" stroke="#000" stroke-width="1.2"/>
<line x1="82" y1="442.92" x2="86" y2="442.92" stroke="#000" stroke-width="1.2"/>
<line x1="987.7" y1="442.92" x2="983.7" y2="442.92" stroke="#000" stroke-width="1.2"/>
<line x1="82" y1="419.86" x2="86" y2="419.86" stroke="#000" stroke-width="1.2"/>
<line x1="987.7" y1="419.86" x2="983.7" y2="419.86" stroke="#000" stroke-width="1.2"/>
<line x1="82" y1="401.97" x2="86" y2="401.97" stroke="#000" stroke-width="1.2"/>
<line x1="987.7" y1="401.97" x2="983.7" y2="401.97" stroke="#000" stroke-width="1.2"/>
<line x1="82" y1="387.35" x2="86" y2="387.35" stroke="#000" stroke-width="1.2"/>
<line x1="987.7" y1="387.35" x2="983.7" y2="387.35" stroke="#000" stroke-width="1.2"/>
<line x1="82" y1="374.99" x2="86" y2="374.99" stroke="#000" stroke-width="1.2"/>
<line x1="987.7" y1="374.99" x2="983.7" y2="374.99" stroke="#000" stroke-width="1.2"/>
<line x1="82" y1="364.29" x2="86" y2="364.29" stroke="#000" stroke-width="1.2"/>
<line x1="987.7" y1="364.29" x2="983.7" y2="364.29" stroke="#000" stroke-width="1.2"/>
<line x1="82" y1="354.85" x2="86" y2="354.85" stroke="#000" stroke-width="1.2"/>
<line x1="987.7" y1="354.85" x2="983.7" y2="354.85" stroke="#000" stroke-width="1.2"/>
<line x1="82" y1="346.4" x2="89" y2="346.4" stroke="#000" stroke-width="1.6"/>
<line x1="987.7" y1="346.4" x2="980.7" y2="346.4" stroke="#000" stroke-width="1.6"/>
<line x1="82" y1="290.83" x2="86" y2="290.83" stroke="#000" stroke-width="1.2"/>
<line x1="987.7" y1="290.83" x2="983.7" y2="290.83" stroke="#000" stroke-width="1.2"/>
<line x1="82" y1="258.32" x2="86" y2="258.32" stroke="#000" stroke-width="1.2"/>
<line x1="987.7" y1="258.32" x2="983.7" y2="258.32" stroke="#000" stroke-width="1.2"/>
<line x1="82" y1="235.26" x2="86" y2="235.26" stroke="#000" stroke-width="1.2"/>
<line x1="987.7" y1="235.26" x2="983.7" y2="235.26" stroke="#000" stroke-width="1.2"/>
<line x1="82" y1="217.37" x2="86" y2="217.37" stroke="#000" stroke-width="1.2"/>
<line x1="987.7" y1="217.37" x2="983.7" y2="217.37" stroke="#000" stroke-width="1.2"/>
<line x1="82" y1="202.75" x2="86" y2="202.75" stroke="#000" stroke-width="1.2"/>
<line x1="987.7" y1="202.75" x2="983.7" y2="202.75" stroke="#000" stroke-width="1.2"/>
<line x1="82" y1="190.39" x2="86" y2="190.39" stroke="#000" stroke-width="1.2"/>
<line x1="987.7" y1="190.39" x2="983.7" y2="190.39" stroke="#000" stroke-width="1.2"/>
<line x1="82" y1="179.69" x2="86" y2="179.69" stroke="#000" stroke-width="1.2"/>
<line x1="987.7" y1="179.69" x2="983.7" y2="179.69" stroke="#000" stroke-width="1.2"/>
<line x1="82" y1="170.25" x2="86" y2="170.25" stroke="#000" stroke-width="1.2"/>
<line x1="987.7" y1="170.25" x2="983.7" y2="170.25" stroke="#000" stroke-width="1.2"/>
<line x1="82" y1="161.8" x2="89" y2="161.8" stroke="#000" stroke-width="1.6"/>
<line x1="987.7" y1="161.8" x2="980.7" y2="161.8" stroke="#000" stroke-width="1.6"/>
<line x1="82" y1="106.23" x2="86" y2="106.23" stroke="#000" stroke-width="1.2"/>
<line x1="987.7" y1="106.23" x2="983.7" y2="106.23" stroke="#000" stroke-width="1.2"/>
<line x1="82" y1="73.72" x2="86" y2="73.72" stroke="#000" stroke-width="1.2"/>
<line x1="987.7" y1="73.72" x2="983.7" y2="73.72" stroke="#000" stroke-width="1.2"/>
<line x1="82" y1="50.66" x2="86" y2="50.66" stroke="#000" stroke-width="1.2"/>
<line x1="987.7" y1="50.66" x2="983.7" y2="50.66" stroke="#000" stroke-width="1.2"/>
<line x1="82" y1="32.77" x2="86" y2="32.77" stroke="#000" stroke-width="1.2"/>
<line x1="987.7" y1="32.77" x2="983.7" y2="32.77" stroke="#000" stroke-width="1.2"/>
<line x1="82" y1="18.15" x2="86" y2="18.15" stroke="#000" stroke-width="1.2"/>
<line x1="987.7" y1="18.15" x2="983.7" y2="18.15" stroke="#000" stroke-width="1.2"/>
<line x1="82" y1="5.79" x2="86" y2="5.79" stroke="#000" stroke-width="1.2"/>
<line x1="987.7" y1="5.79" x2="983.7" y2="5.79" stroke="#000" stroke-width="1.2"/>
<text x="123.1" y="688.3" text-anchor="middle" font-size="20">10<tspan font-size="14" dy="-7.5">−3</tspan></text>
<text x="328.9" y="688.3" text-anchor="middle" font-size="20">10<tspan font-size="14" dy="-7.5">−2</tspan></text>
<text x="534.7" y="688.3" text-anchor="middle" font-size="20">10<tspan font-size="14" dy="-7.5">−1</tspan></text>
<text x="740.5" y="688.3" text-anchor="middle" font-size="20">10<tspan font-size="14" dy="-7.5">0</tspan></text>
<text x="946.3" y="688.3" text-anchor="middle" font-size="20">10<tspan font-size="14" dy="-7.5">1</tspan></text>
<text x="74.3" y="538.3" text-anchor="end" font-size="20">10<tspan font-size="14" dy="-7.5">1</tspan></text>
<text x="74.3" y="353.7" text-anchor="end" font-size="20">10<tspan font-size="14" dy="-7.5">2</tspan></text>
<text x="74.3" y="169.1" text-anchor="end" font-size="20">10<tspan font-size="14" dy="-7.5">3</tspan></text>
<text x="534.85" y="723.6" text-anchor="middle" font-size="28">P (s)</text>
<text transform="translate(25 334.9) rotate(-90)" text-anchor="middle" font-size="28.5">Porper motion (Km/s)</text>
<rect x="307.9" y="14.1" width="453.1" height="68.8" rx="4" fill="#fff" fill-opacity="0.8" stroke="#cccccc" stroke-width="1.6"/>
<line x1="314.8" y1="30.7" x2="358.4" y2="30.7" stroke="#d62728" stroke-width="3"/>
<text x="373.8" y="37.7" font-size="20"><tspan font-style="oblique">β</tspan>=0.1</text>
<line x1="314.8" y1="62.4" x2="358.4" y2="62.4" stroke="#9467bd" stroke-width="3"/>
<text x="373.8" y="69.4" font-size="20"><tspan font-style="oblique">β</tspan>=0.2</text>
<line x1="473.7" y1="30.7" x2="516.9" y2="30.7" stroke="#8c564b" stroke-width="3"/>
<text x="532.7" y="37.7" font-size="20"><tspan font-style="oblique">β</tspan>=0.3</text>
<line x1="473.7" y1="62.4" x2="516.9" y2="62.4" stroke="#e377c2" stroke-width="3"/>
<text x="532.7" y="69.4" font-size="20"><tspan font-style="oblique">β</tspan>=0.5</text>
<line x1="632.6" y1="30.7" x2="675.8" y2="30.7" stroke="#7f7f7f" stroke-width="3"/>
<text x="691.7" y="37.7" font-size="20"><tspan font-style="oblique">β</tspan>=0.8</text>
<line x1="632.6" y1="62.4" x2="675.8" y2="62.4" stroke="#bcbd22" stroke-width="3"/>
<text x="691.7" y="69.4" font-size="20"><tspan font-style="oblique">β</tspan>=0.9</text>
<clipPath id="clip1"><rect x="1160" y="4" width="905.7" height="661.8"/></clipPath>
<g clip-path="url(#clip1)">
<line x1="1352.5" y1="344.55" x2="1352.5" y2="371.79" stroke="rgba(0,0,0,0.32)" stroke-width="2.6"/>
<line x1="1352.5" y1="381.19" x2="1352.5" y2="453.55" stroke="rgba(0,0,0,0.32)" stroke-width="2.6"/>
<line x1="1346.6" y1="344.55" x2="1358.4" y2="344.55" stroke="rgba(0,0,0,0.4)" stroke-width="2"/>
<line x1="1346.6" y1="453.55" x2="1358.4" y2="453.55" stroke="rgba(0,0,0,0.4)" stroke-width="2"/>
<line x1="1364.7" y1="362.16" x2="1364.7" y2="384.76" stroke="rgba(0,0,0,0.32)" stroke-width="2.6"/>
<line x1="1364.7" y1="394.16" x2="1364.7" y2="444.29" stroke="rgba(0,0,0,0.32)" stroke-width="2.6"/>
<line x1="1358.8" y1="362.16" x2="1370.6" y2="362.16" stroke="rgba(0,0,0,0.4)" stroke-width="2"/>
<line x1="1358.8" y1="444.29" x2="1370.6" y2="444.29" stroke="rgba(0,0,0,0.4)" stroke-width="2"/>
<line x1="1523.4" y1="356.46" x2="1535.2" y2="356.46" stroke="rgba(0,0,0,0.4)" stroke-width="2"/>
<line x1="1523.4" y1="358.74" x2="1535.2" y2="358.74" stroke="rgba(0,0,0,0.4)" stroke-width="2"/>
<line x1="1508.6" y1="410.71" x2="1520.4" y2="410.71" stroke="rgba(0,0,0,0.4)" stroke-width="2"/>
<line x1="1508.6" y1="412.99" x2="1520.4" y2="412.99" stroke="rgba(0,0,0,0.4)" stroke-width="2"/>
<line x1="1238.7" y1="401.37" x2="1250.5" y2="401.37" stroke="rgba(0,0,0,0.4)" stroke-width="2"/>
<line x1="1238.7" y1="403.65" x2="1250.5" y2="403.65" stroke="rgba(0,0,0,0.4)" stroke-width="2"/>
<line x1="1342.1" y1="401.51" x2="1342.1" y2="409.64" stroke="rgba(0,0,0,0.32)" stroke-width="2.6"/>
<line x1="1342.1" y1="419.04" x2="1342.1" y2="428.82" stroke="rgba(0,0,0,0.32)" stroke-width="2.6"/>
<line x1="1336.2" y1="401.51" x2="1348" y2="401.51" stroke="rgba(0,0,0,0.4)" stroke-width="2"/>
<line x1="1336.2" y1="428.82" x2="1348" y2="428.82" stroke="rgba(0,0,0,0.4)" stroke-width="2"/>
<line x1="1342.8" y1="428.25" x2="1354.6" y2="428.25" stroke="rgba(0,0,0,0.4)" stroke-width="2"/>
<line x1="1342.8" y1="430.53" x2="1354.6" y2="430.53" stroke="rgba(0,0,0,0.4)" stroke-width="2"/>
<line x1="1344.5" y1="425.75" x2="1356.3" y2="425.75" stroke="rgba(0,0,0,0.4)" stroke-width="2"/>
<line x1="1344.5" y1="428.03" x2="1356.3" y2="428.03" stroke="rgba(0,0,0,0.4)" stroke-width="2"/>
<line x1="1314" y1="446.28" x2="1325.8" y2="446.28" stroke="rgba(0,0,0,0.4)" stroke-width="2"/>
<line x1="1314" y1="448.56" x2="1325.8" y2="448.56" stroke="rgba(0,0,0,0.4)" stroke-width="2"/>
<line x1="1313.6" y1="467.6" x2="1325.4" y2="467.6" stroke="rgba(0,0,0,0.4)" stroke-width="2"/>
<line x1="1313.6" y1="469.88" x2="1325.4" y2="469.88" stroke="rgba(0,0,0,0.4)" stroke-width="2"/>
<line x1="1348.7" y1="461.4" x2="1348.7" y2="471.24" stroke="rgba(0,0,0,0.32)" stroke-width="2.6"/>
<line x1="1348.7" y1="480.64" x2="1348.7" y2="498.25" stroke="rgba(0,0,0,0.32)" stroke-width="2.6"/>
<line x1="1342.8" y1="461.4" x2="1354.6" y2="461.4" stroke="rgba(0,0,0,0.4)" stroke-width="2"/>
<line x1="1342.8" y1="498.25" x2="1354.6" y2="498.25" stroke="rgba(0,0,0,0.4)" stroke-width="2"/>
<line x1="1357.4" y1="471.23" x2="1357.4" y2="484.85" stroke="rgba(0,0,0,0.32)" stroke-width="2.6"/>
<line x1="1357.4" y1="494.25" x2="1357.4" y2="516.22" stroke="rgba(0,0,0,0.32)" stroke-width="2.6"/>
<line x1="1351.5" y1="471.23" x2="1363.3" y2="471.23" stroke="rgba(0,0,0,0.4)" stroke-width="2"/>
<line x1="1351.5" y1="516.22" x2="1363.3" y2="516.22" stroke="rgba(0,0,0,0.4)" stroke-width="2"/>
<line x1="1255.5" y1="499.53" x2="1255.5" y2="499.82" stroke="rgba(0,0,0,0.32)" stroke-width="2.6"/>
<line x1="1249.6" y1="490.2" x2="1261.4" y2="490.2" stroke="rgba(0,0,0,0.4)" stroke-width="2"/>
<line x1="1249.6" y1="499.82" x2="1261.4" y2="499.82" stroke="rgba(0,0,0,0.4)" stroke-width="2"/>
<line x1="1274.4" y1="499.11" x2="1286.2" y2="499.11" stroke="rgba(0,0,0,0.4)" stroke-width="2"/>
<line x1="1274.4" y1="505.67" x2="1286.2" y2="505.67" stroke="rgba(0,0,0,0.4)" stroke-width="2"/>
<line x1="1390.7" y1="503.03" x2="1402.5" y2="503.03" stroke="rgba(0,0,0,0.4)" stroke-width="2"/>
<line x1="1390.7" y1="505.31" x2="1402.5" y2="505.31" stroke="rgba(0,0,0,0.4)" stroke-width="2"/>
<line x1="1320.1" y1="531.54" x2="1331.9" y2="531.54" stroke="rgba(0,0,0,0.4)" stroke-width="2"/>
<line x1="1320.1" y1="533.82" x2="1331.9" y2="533.82" stroke="rgba(0,0,0,0.4)" stroke-width="2"/>
<line x1="1336.2" y1="581.3" x2="1348" y2="581.3" stroke="rgba(0,0,0,0.4)" stroke-width="2"/>
<line x1="1336.2" y1="586.94" x2="1348" y2="586.94" stroke="rgba(0,0,0,0.4)" stroke-width="2"/>
<line x1="1234.6" y1="628" x2="1246.4" y2="628" stroke="rgba(0,0,0,0.4)" stroke-width="2"/>
<line x1="1234.6" y1="635.84" x2="1246.4" y2="635.84" stroke="rgba(0,0,0,0.4)" stroke-width="2"/>
<line x1="1566.8" y1="415.56" x2="1566.8" y2="427.4" stroke="rgba(0,0,0,0.32)" stroke-width="2.6"/>
<line x1="1566.8" y1="436.8" x2="1566.8" y2="454.91" stroke="rgba(0,0,0,0.32)" stroke-width="2.6"/>
<line x1="1560.9" y1="415.56" x2="1572.7" y2="415.56" stroke="rgba(0,0,0,0.4)" stroke-width="2"/>
<line x1="1560.9" y1="454.91" x2="1572.7" y2="454.91" stroke="rgba(0,0,0,0.4)" stroke-width="2"/>
<line x1="1574.7" y1="520.99" x2="1574.7" y2="521.85" stroke="rgba(0,0,0,0.32)" stroke-width="2.6"/>
<line x1="1568.8" y1="515.15" x2="1580.6" y2="515.15" stroke="rgba(0,0,0,0.4)" stroke-width="2"/>
<line x1="1568.8" y1="521.85" x2="1580.6" y2="521.85" stroke="rgba(0,0,0,0.4)" stroke-width="2"/>
<line x1="1598.3" y1="308.48" x2="1598.3" y2="313.05" stroke="rgba(0,0,0,0.32)" stroke-width="2.6"/>
<line x1="1598.3" y1="322.45" x2="1598.3" y2="328.94" stroke="rgba(0,0,0,0.32)" stroke-width="2.6"/>
<line x1="1592.4" y1="308.48" x2="1604.2" y2="308.48" stroke="rgba(0,0,0,0.4)" stroke-width="2"/>
<line x1="1592.4" y1="328.94" x2="1604.2" y2="328.94" stroke="rgba(0,0,0,0.4)" stroke-width="2"/>
<line x1="1680.9" y1="243.96" x2="1692.7" y2="243.96" stroke="rgba(0,0,0,0.4)" stroke-width="2"/>
<line x1="1680.9" y1="249.45" x2="1692.7" y2="249.45" stroke="rgba(0,0,0,0.4)" stroke-width="2"/>
<line x1="1636.7" y1="273.83" x2="1648.5" y2="273.83" stroke="rgba(0,0,0,0.4)" stroke-width="2"/>
<line x1="1636.7" y1="276.11" x2="1648.5" y2="276.11" stroke="rgba(0,0,0,0.4)" stroke-width="2"/>
<line x1="1725.3" y1="282.46" x2="1725.3" y2="289.52" stroke="rgba(0,0,0,0.32)" stroke-width="2.6"/>
<line x1="1725.3" y1="298.92" x2="1725.3" y2="309.26" stroke="rgba(0,0,0,0.32)" stroke-width="2.6"/>
<line x1="1719.4" y1="282.46" x2="1731.2" y2="282.46" stroke="rgba(0,0,0,0.4)" stroke-width="2"/>
<line x1="1719.4" y1="309.26" x2="1731.2" y2="309.26" stroke="rgba(0,0,0,0.4)" stroke-width="2"/>
<line x1="1731.6" y1="282.46" x2="1731.6" y2="289.24" stroke="rgba(0,0,0,0.32)" stroke-width="2.6"/>
<line x1="1731.6" y1="298.64" x2="1731.6" y2="309.26" stroke="rgba(0,0,0,0.32)" stroke-width="2.6"/>
<line x1="1725.7" y1="282.46" x2="1737.5" y2="282.46" stroke="rgba(0,0,0,0.4)" stroke-width="2"/>
<line x1="1725.7" y1="309.26" x2="1737.5" y2="309.26" stroke="rgba(0,0,0,0.4)" stroke-width="2"/>
<line x1="1614" y1="337.99" x2="1614" y2="340.35" stroke="rgba(0,0,0,0.32)" stroke-width="2.6"/>
<line x1="1614" y1="349.75" x2="1614" y2="353.25" stroke="rgba(0,0,0,0.32)" stroke-width="2.6"/>
<line x1="1608.1" y1="337.99" x2="1619.9" y2="337.99" stroke="rgba(0,0,0,0.4)" stroke-width="2"/>
<line x1="1608.1" y1="353.25" x2="1619.9" y2="353.25" stroke="rgba(0,0,0,0.4)" stroke-width="2"/>
<line x1="1638.3" y1="350.11" x2="1638.3" y2="353.68" stroke="rgba(0,0,0,0.32)" stroke-width="2.6"/>
<line x1="1638.3" y1="363.08" x2="1638.3" y2="368.58" stroke="rgba(0,0,0,0.32)" stroke-width="2.6"/>
<line x1="1632.4" y1="350.11" x2="1644.2" y2="350.11" stroke="rgba(0,0,0,0.4)" stroke-width="2"/>
<line x1="1632.4" y1="368.58" x2="1644.2" y2="368.58" stroke="rgba(0,0,0,0.4)" stroke-width="2"/>
<line x1="1639.2" y1="357.24" x2="1651" y2="357.24" stroke="rgba(0,0,0,0.4)" stroke-width="2"/>
<line x1="1639.2" y1="359.52" x2="1651" y2="359.52" stroke="rgba(0,0,0,0.4)" stroke-width="2"/>
<line x1="1668.1" y1="339.99" x2="1668.1" y2="364.73" stroke="rgba(0,0,0,0.32)" stroke-width="2.6"/>
<line x1="1668.1" y1="374.13" x2="1668.1" y2="431.88" stroke="rgba(0,0,0,0.32)" stroke-width="2.6"/>
<line x1="1662.2" y1="339.99" x2="1674" y2="339.99" stroke="rgba(0,0,0,0.4)" stroke-width="2"/>
<line x1="1662.2" y1="431.88" x2="1674" y2="431.88" stroke="rgba(0,0,0,0.4)" stroke-width="2"/>
<line x1="1673.1" y1="354.53" x2="1673.1" y2="362.52" stroke="rgba(0,0,0,0.32)" stroke-width="2.6"/>
<line x1="1673.1" y1="371.92" x2="1673.1" y2="373.71" stroke="rgba(0,0,0,0.32)" stroke-width="2.6"/>
<line x1="1667.2" y1="354.53" x2="1679" y2="354.53" stroke="rgba(0,0,0,0.4)" stroke-width="2"/>
<line x1="1667.2" y1="373.71" x2="1679" y2="373.71" stroke="rgba(0,0,0,0.4)" stroke-width="2"/>
<line x1="1681.4" y1="318.03" x2="1681.4" y2="319.75" stroke="rgba(0,0,0,0.32)" stroke-width="2.6"/>
<line x1="1681.4" y1="329.15" x2="1681.4" y2="331.79" stroke="rgba(0,0,0,0.32)" stroke-width="2.6"/>
<line x1="1675.5" y1="318.03" x2="1687.3" y2="318.03" stroke="rgba(0,0,0,0.4)" stroke-width="2"/>
<line x1="1675.5" y1="331.79" x2="1687.3" y2="331.79" stroke="rgba(0,0,0,0.4)" stroke-width="2"/>
<line x1="1688.4" y1="333.79" x2="1688.4" y2="342.42" stroke="rgba(0,0,0,0.32)" stroke-width="2.6"/>
<line x1="1688.4" y1="351.82" x2="1688.4" y2="364.44" stroke="rgba(0,0,0,0.32)" stroke-width="2.6"/>
<line x1="1682.5" y1="333.79" x2="1694.3" y2="333.79" stroke="rgba(0,0,0,0.4)" stroke-width="2"/>
<line x1="1682.5" y1="364.44" x2="1694.3" y2="364.44" stroke="rgba(0,0,0,0.4)" stroke-width="2"/>
<line x1="1692.8" y1="338.71" x2="1692.8" y2="351.61" stroke="rgba(0,0,0,0.32)" stroke-width="2.6"/>
<line x1="1692.8" y1="361.01" x2="1692.8" y2="382.19" stroke="rgba(0,0,0,0.32)" stroke-width="2.6"/>
<line x1="1686.9" y1="338.71" x2="1698.7" y2="338.71" stroke="rgba(0,0,0,0.4)" stroke-width="2"/>
<line x1="1686.9" y1="382.19" x2="1698.7" y2="382.19" stroke="rgba(0,0,0,0.4)" stroke-width="2"/>
<line x1="1702.3" y1="359.95" x2="1702.3" y2="361.24" stroke="rgba(0,0,0,0.32)" stroke-width="2.6"/>
<line x1="1696.4" y1="359.95" x2="1708.2" y2="359.95" stroke="rgba(0,0,0,0.4)" stroke-width="2"/>
<line x1="1696.4" y1="367.08" x2="1708.2" y2="367.08" stroke="rgba(0,0,0,0.4)" stroke-width="2"/>
<line x1="1718.5" y1="325.8" x2="1718.5" y2="333.29" stroke="rgba(0,0,0,0.32)" stroke-width="2.6"/>
<line x1="1718.5" y1="342.69" x2="1718.5" y2="352.82" stroke="rgba(0,0,0,0.32)" stroke-width="2.6"/>
<line x1="1712.6" y1="325.8" x2="1724.4" y2="325.8" stroke="rgba(0,0,0,0.4)" stroke-width="2"/>
<line x1="1712.6" y1="352.82" x2="1724.4" y2="352.82" stroke="rgba(0,0,0,0.4)" stroke-width="2"/>
<line x1="1730.6" y1="323.52" x2="1730.6" y2="327.09" stroke="rgba(0,0,0,0.32)" stroke-width="2.6"/>
<line x1="1730.6" y1="336.49" x2="1730.6" y2="341.06" stroke="rgba(0,0,0,0.32)" stroke-width="2.6"/>
<line x1="1724.7" y1="323.52" x2="1736.5" y2="323.52" stroke="rgba(0,0,0,0.4)" stroke-width="2"/>
<line x1="1724.7" y1="341.06" x2="1736.5" y2="341.06" stroke="rgba(0,0,0,0.4)" stroke-width="2"/>
<line x1="1734.7" y1="291.8" x2="1734.7" y2="302.71" stroke="rgba(0,0,0,0.32)" stroke-width="2.6"/>
<line x1="1734.7" y1="312.11" x2="1734.7" y2="322.38" stroke="rgba(0,0,0,0.32)" stroke-width="2.6"/>
<line x1="1728.8" y1="291.8" x2="1740.6" y2="291.8" stroke="rgba(0,0,0,0.4)" stroke-width="2"/>
<line x1="1728.8" y1="322.38" x2="1740.6" y2="322.38" stroke="rgba(0,0,0,0.4)" stroke-width="2"/>
<line x1="1727.5" y1="355.03" x2="1739.3" y2="355.03" stroke="rgba(0,0,0,0.4)" stroke-width="2"/>
<line x1="1727.5" y1="357.31" x2="1739.3" y2="357.31" stroke="rgba(0,0,0,0.4)" stroke-width="2"/>
<line x1="1614" y1="379.98" x2="1614" y2="391.82" stroke="rgba(0,0,0,0.32)" stroke-width="2.6"/>
<line x1="1614" y1="401.22" x2="1614" y2="419.41" stroke="rgba(0,0,0,0.32)" stroke-width="2.6"/>
<line x1="1608.1" y1="379.98" x2="1619.9" y2="379.98" stroke="rgba(0,0,0,0.4)" stroke-width="2"/>
<line x1="1608.1" y1="419.41" x2="1619.9" y2="419.41" stroke="rgba(0,0,0,0.4)" stroke-width="2"/>
<line x1="1632.4" y1="343.91" x2="1632.4" y2="375.92" stroke="rgba(0,0,0,0.32)" stroke-width="2.6"/>
<line x1="1632.4" y1="385.32" x2="1632.4" y2="517.86" stroke="rgba(0,0,0,0.32)" stroke-width="2.6"/>
<line x1="1626.5" y1="343.91" x2="1638.3" y2="343.91" stroke="rgba(0,0,0,0.4)" stroke-width="2"/>
<line x1="1626.5" y1="517.86" x2="1638.3" y2="517.86" stroke="rgba(0,0,0,0.4)" stroke-width="2"/>
<line x1="1640.8" y1="383.97" x2="1640.8" y2="390.82" stroke="rgba(0,0,0,0.32)" stroke-width="2.6"/>
<line x1="1640.8" y1="400.22" x2="1640.8" y2="410.14" stroke="rgba(0,0,0,0.32)" stroke-width="2.6"/>
<line x1="1634.9" y1="383.97" x2="1646.7" y2="383.97" stroke="rgba(0,0,0,0.4)" stroke-width="2"/>
<line x1="1634.9" y1="410.14" x2="1646.7" y2="410.14" stroke="rgba(0,0,0,0.4)" stroke-width="2"/>
<line x1="1651.9" y1="375.28" x2="1663.7" y2="375.28" stroke="rgba(0,0,0,0.4)" stroke-width="2"/>
<line x1="1651.9" y1="377.56" x2="1663.7" y2="377.56" stroke="rgba(0,0,0,0.4)" stroke-width="2"/>
<line x1="1658.5" y1="381.76" x2="1670.3" y2="381.76" stroke="rgba(0,0,0,0.4)" stroke-width="2"/>
<line x1="1658.5" y1="384.05" x2="1670.3" y2="384.05" stroke="rgba(0,0,0,0.4)" stroke-width="2"/>
<line x1="1673.5" y1="375.13" x2="1673.5" y2="376.14" stroke="rgba(0,0,0,0.32)" stroke-width="2.6"/>
<line x1="1673.5" y1="385.54" x2="1673.5" y2="449.49" stroke="rgba(0,0,0,0.32)" stroke-width="2.6"/>
<line x1="1667.6" y1="375.13" x2="1679.4" y2="375.13" stroke="rgba(0,0,0,0.4)" stroke-width="2"/>
<line x1="1667.6" y1="449.49" x2="1679.4" y2="449.49" stroke="rgba(0,0,0,0.4)" stroke-width="2"/>
<line x1="1666.6" y1="428.96" x2="1678.4" y2="428.96" stroke="rgba(0,0,0,0.4)" stroke-width="2"/>
<line x1="1666.6" y1="431.24" x2="1678.4" y2="431.24" stroke="rgba(0,0,0,0.4)" stroke-width="2"/>
<line x1="1705.4" y1="360.88" x2="1705.4" y2="391.54" stroke="rgba(0,0,0,0.32)" stroke-width="2.6"/>
<line x1="1705.4" y1="400.94" x2="1705.4" y2="521.56" stroke="rgba(0,0,0,0.32)" stroke-width="2.6"/>
<line x1="1699.5" y1="360.88" x2="1711.3" y2="360.88" stroke="rgba(0,0,0,0.4)" stroke-width="2"/>
<line x1="1699.5" y1="521.56" x2="1711.3" y2="521.56" stroke="rgba(0,0,0,0.4)" stroke-width="2"/>
<line x1="1701.7" y1="393.67" x2="1701.7" y2="414.71" stroke="rgba(0,0,0,0.32)" stroke-width="2.6"/>
<line x1="1701.7" y1="424.11" x2="1701.7" y2="465.67" stroke="rgba(0,0,0,0.32)" stroke-width="2.6"/>
<line x1="1695.8" y1="393.67" x2="1707.6" y2="393.67" stroke="rgba(0,0,0,0.4)" stroke-width="2"/>
<line x1="1695.8" y1="465.67" x2="1707.6" y2="465.67" stroke="rgba(0,0,0,0.4)" stroke-width="2"/>
<line x1="1684" y1="419.19" x2="1695.8" y2="419.19" stroke="rgba(0,0,0,0.4)" stroke-width="2"/>
<line x1="1684" y1="421.47" x2="1695.8" y2="421.47" stroke="rgba(0,0,0,0.4)" stroke-width="2"/>
<line x1="1690.2" y1="430.24" x2="1702" y2="430.24" stroke="rgba(0,0,0,0.4)" stroke-width="2"/>
<line x1="1690.2" y1="432.52" x2="1702" y2="432.52" stroke="rgba(0,0,0,0.4)" stroke-width="2"/>
<line x1="1722.2" y1="325.23" x2="1722.2" y2="376.64" stroke="rgba(0,0,0,0.32)" stroke-width="2.6"/>
<line x1="1722.2" y1="386.04" x2="1722.2" y2="403.51" stroke="rgba(0,0,0,0.32)" stroke-width="2.6"/>
<line x1="1716.3" y1="325.23" x2="1728.1" y2="325.23" stroke="rgba(0,0,0,0.4)" stroke-width="2"/>
<line x1="1716.3" y1="403.51" x2="1728.1" y2="403.51" stroke="rgba(0,0,0,0.4)" stroke-width="2"/>
<line x1="1715.1" y1="381.12" x2="1726.9" y2="381.12" stroke="rgba(0,0,0,0.4)" stroke-width="2"/>
<line x1="1715.1" y1="383.4" x2="1726.9" y2="383.4" stroke="rgba(0,0,0,0.4)" stroke-width="2"/>
<line x1="1718.1" y1="378.98" x2="1729.9" y2="378.98" stroke="rgba(0,0,0,0.4)" stroke-width="2"/>
<line x1="1718.1" y1="381.27" x2="1729.9" y2="381.27" stroke="rgba(0,0,0,0.4)" stroke-width="2"/>
<line x1="1722.5" y1="375.28" x2="1734.3" y2="375.28" stroke="rgba(0,0,0,0.4)" stroke-width="2"/>
<line x1="1722.5" y1="377.56" x2="1734.3" y2="377.56" stroke="rgba(0,0,0,0.4)" stroke-width="2"/>
<line x1="1723.8" y1="393.46" x2="1735.6" y2="393.46" stroke="rgba(0,0,0,0.4)" stroke-width="2"/>
<line x1="1723.8" y1="395.74" x2="1735.6" y2="395.74" stroke="rgba(0,0,0,0.4)" stroke-width="2"/>
<line x1="1718.8" y1="423.18" x2="1730.6" y2="423.18" stroke="rgba(0,0,0,0.4)" stroke-width="2"/>
<line x1="1718.8" y1="425.47" x2="1730.6" y2="425.47" stroke="rgba(0,0,0,0.4)" stroke-width="2"/>
<line x1="1728.8" y1="431.6" x2="1740.6" y2="431.6" stroke="rgba(0,0,0,0.4)" stroke-width="2"/>
<line x1="1728.8" y1="433.88" x2="1740.6" y2="433.88" stroke="rgba(0,0,0,0.4)" stroke-width="2"/>
<line x1="1735.9" y1="360.88" x2="1735.9" y2="392.53" stroke="rgba(0,0,0,0.32)" stroke-width="2.6"/>
<line x1="1735.9" y1="401.93" x2="1735.9" y2="509.44" stroke="rgba(0,0,0,0.32)" stroke-width="2.6"/>
<line x1="1730" y1="360.88" x2="1741.8" y2="360.88" stroke="rgba(0,0,0,0.4)" stroke-width="2"/>
<line x1="1730" y1="509.44" x2="1741.8" y2="509.44" stroke="rgba(0,0,0,0.4)" stroke-width="2"/>
<line x1="1723.5" y1="360.88" x2="1723.5" y2="395.39" stroke="rgba(0,0,0,0.32)" stroke-width="2.6"/>
<line x1="1723.5" y1="404.79" x2="1723.5" y2="414.13" stroke="rgba(0,0,0,0.32)" stroke-width="2.6"/>
<line x1="1717.6" y1="360.88" x2="1729.4" y2="360.88" stroke="rgba(0,0,0,0.4)" stroke-width="2"/>
<line x1="1717.6" y1="414.13" x2="1729.4" y2="414.13" stroke="rgba(0,0,0,0.4)" stroke-width="2"/>
<line x1="1596.3" y1="444.78" x2="1608.1" y2="444.78" stroke="rgba(0,0,0,0.4)" stroke-width="2"/>
<line x1="1596.3" y1="447.07" x2="1608.1" y2="447.07" stroke="rgba(0,0,0,0.4)" stroke-width="2"/>
<line x1="1646.7" y1="460.25" x2="1658.5" y2="460.25" stroke="rgba(0,0,0,0.4)" stroke-width="2"/>
<line x1="1646.7" y1="462.54" x2="1658.5" y2="462.54" stroke="rgba(0,0,0,0.4)" stroke-width="2"/>
<line x1="1656.6" y1="456.26" x2="1656.6" y2="485.57" stroke="rgba(0,0,0,0.32)" stroke-width="2.6"/>
<line x1="1656.6" y1="494.97" x2="1656.6" y2="581.73" stroke="rgba(0,0,0,0.32)" stroke-width="2.6"/>
<line x1="1650.7" y1="456.26" x2="1662.5" y2="456.26" stroke="rgba(0,0,0,0.4)" stroke-width="2"/>
<line x1="1650.7" y1="581.73" x2="1662.5" y2="581.73" stroke="rgba(0,0,0,0.4)" stroke-width="2"/>
<line x1="1679.6" y1="440.36" x2="1691.4" y2="440.36" stroke="rgba(0,0,0,0.4)" stroke-width="2"/>
<line x1="1679.6" y1="442.65" x2="1691.4" y2="442.65" stroke="rgba(0,0,0,0.4)" stroke-width="2"/>
<line x1="1693.3" y1="439.65" x2="1705.1" y2="439.65" stroke="rgba(0,0,0,0.4)" stroke-width="2"/>
<line x1="1693.3" y1="441.93" x2="1705.1" y2="441.93" stroke="rgba(0,0,0,0.4)" stroke-width="2"/>
<line x1="1677.8" y1="456.26" x2="1689.6" y2="456.26" stroke="rgba(0,0,0,0.4)" stroke-width="2"/>
<line x1="1677.8" y1="458.54" x2="1689.6" y2="458.54" stroke="rgba(0,0,0,0.4)" stroke-width="2"/>
<line x1="1732.8" y1="425.04" x2="1732.8" y2="457.19" stroke="rgba(0,0,0,0.32)" stroke-width="2.6"/>
<line x1="1732.8" y1="466.59" x2="1732.8" y2="476.94" stroke="rgba(0,0,0,0.32)" stroke-width="2.6"/>
<line x1="1726.9" y1="425.04" x2="1738.7" y2="425.04" stroke="rgba(0,0,0,0.4)" stroke-width="2"/>
<line x1="1726.9" y1="476.94" x2="1738.7" y2="476.94" stroke="rgba(0,0,0,0.4)" stroke-width="2"/>
<line x1="1689.8" y1="515.15" x2="1701.6" y2="515.15" stroke="rgba(0,0,0,0.4)" stroke-width="2"/>
<line x1="1689.8" y1="517.43" x2="1701.6" y2="517.43" stroke="rgba(0,0,0,0.4)" stroke-width="2"/>
<line x1="1744.9" y1="523.13" x2="1744.9" y2="543.53" stroke="rgba(0,0,0,0.32)" stroke-width="2.6"/>
<line x1="1744.9" y1="552.93" x2="1744.9" y2="594.49" stroke="rgba(0,0,0,0.32)" stroke-width="2.6"/>
<line x1="1739" y1="523.13" x2="1750.8" y2="523.13" stroke="rgba(0,0,0,0.4)" stroke-width="2"/>
<line x1="1739" y1="594.49" x2="1750.8" y2="594.49" stroke="rgba(0,0,0,0.4)" stroke-width="2"/>
<line x1="1765.1" y1="495.69" x2="1765.1" y2="501.18" stroke="rgba(0,0,0,0.32)" stroke-width="2.6"/>
<line x1="1765.1" y1="510.58" x2="1765.1" y2="519.92" stroke="rgba(0,0,0,0.32)" stroke-width="2.6"/>
<line x1="1759.2" y1="495.69" x2="1771" y2="495.69" stroke="rgba(0,0,0,0.4)" stroke-width="2"/>
<line x1="1759.2" y1="519.92" x2="1771" y2="519.92" stroke="rgba(0,0,0,0.4)" stroke-width="2"/>
<line x1="1771.8" y1="499.53" x2="1771.8" y2="518.79" stroke="rgba(0,0,0,0.32)" stroke-width="2.6"/>
<line x1="1771.8" y1="528.19" x2="1771.8" y2="562.55" stroke="rgba(0,0,0,0.32)" stroke-width="2.6"/>
<line x1="1765.9" y1="499.53" x2="1777.7" y2="499.53" stroke="rgba(0,0,0,0.4)" stroke-width="2"/>
<line x1="1765.9" y1="562.55" x2="1777.7" y2="562.55" stroke="rgba(0,0,0,0.4)" stroke-width="2"/>
<line x1="1778.7" y1="266.92" x2="1790.5" y2="266.92" stroke="rgba(0,0,0,0.4)" stroke-width="2"/>
<line x1="1778.7" y1="269.2" x2="1790.5" y2="269.2" stroke="rgba(0,0,0,0.4)" stroke-width="2"/>
<line x1="1771.5" y1="293.15" x2="1771.5" y2="298.15" stroke="rgba(0,0,0,0.32)" stroke-width="2.6"/>
<line x1="1771.5" y1="307.55" x2="1771.5" y2="310.97" stroke="rgba(0,0,0,0.32)" stroke-width="2.6"/>
<line x1="1765.6" y1="293.15" x2="1777.4" y2="293.15" stroke="rgba(0,0,0,0.4)" stroke-width="2"/>
<line x1="1765.6" y1="310.97" x2="1777.4" y2="310.97" stroke="rgba(0,0,0,0.4)" stroke-width="2"/>
<line x1="1752.3" y1="298.64" x2="1752.3" y2="318.18" stroke="rgba(0,0,0,0.32)" stroke-width="2.6"/>
<line x1="1752.3" y1="327.58" x2="1752.3" y2="396.52" stroke="rgba(0,0,0,0.32)" stroke-width="2.6"/>
<line x1="1746.4" y1="298.64" x2="1758.2" y2="298.64" stroke="rgba(0,0,0,0.4)" stroke-width="2"/>
<line x1="1746.4" y1="396.52" x2="1758.2" y2="396.52" stroke="rgba(0,0,0,0.4)" stroke-width="2"/>
<line x1="1746.4" y1="327.09" x2="1758.2" y2="327.09" stroke="rgba(0,0,0,0.4)" stroke-width="2"/>
<line x1="1746.4" y1="329.37" x2="1758.2" y2="329.37" stroke="rgba(0,0,0,0.4)" stroke-width="2"/>
<line x1="1761.6" y1="309.62" x2="1761.6" y2="325.31" stroke="rgba(0,0,0,0.32)" stroke-width="2.6"/>
<line x1="1761.6" y1="334.71" x2="1761.6" y2="409.71" stroke="rgba(0,0,0,0.32)" stroke-width="2.6"/>
<line x1="1755.7" y1="309.62" x2="1767.5" y2="309.62" stroke="rgba(0,0,0,0.4)" stroke-width="2"/>
<line x1="1755.7" y1="409.71" x2="1767.5" y2="409.71" stroke="rgba(0,0,0,0.4)" stroke-width="2"/>
<line x1="1740.4" y1="325.59" x2="1740.4" y2="326.16" stroke="rgba(0,0,0,0.32)" stroke-width="2.6"/>
<line x1="1740.4" y1="335.56" x2="1740.4" y2="337.57" stroke="rgba(0,0,0,0.32)" stroke-width="2.6"/>
<line x1="1734.5" y1="325.59" x2="1746.3" y2="325.59" stroke="rgba(0,0,0,0.4)" stroke-width="2"/>
<line x1="1734.5" y1="337.57" x2="1746.3" y2="337.57" stroke="rgba(0,0,0,0.4)" stroke-width="2"/>
<line x1="1753.8" y1="337.28" x2="1765.6" y2="337.28" stroke="rgba(0,0,0,0.4)" stroke-width="2"/>
<line x1="1753.8" y1="339.56" x2="1765.6" y2="339.56" stroke="rgba(0,0,0,0.4)" stroke-width="2"/>
<line x1="1737" y1="342.13" x2="1748.8" y2="342.13" stroke="rgba(0,0,0,0.4)" stroke-width="2"/>
<line x1="1737" y1="344.41" x2="1748.8" y2="344.41" stroke="rgba(0,0,0,0.4)" stroke-width="2"/>
<line x1="1769.7" y1="314.47" x2="1769.7" y2="339.5" stroke="rgba(0,0,0,0.32)" stroke-width="2.6"/>
<line x1="1769.7" y1="348.9" x2="1769.7" y2="417.91" stroke="rgba(0,0,0,0.32)" stroke-width="2.6"/>
<line x1="1763.8" y1="314.47" x2="1775.6" y2="314.47" stroke="rgba(0,0,0,0.4)" stroke-width="2"/>
<line x1="1763.8" y1="417.91" x2="1775.6" y2="417.91" stroke="rgba(0,0,0,0.4)" stroke-width="2"/>
<line x1="1779" y1="312.97" x2="1779" y2="339.92" stroke="rgba(0,0,0,0.32)" stroke-width="2.6"/>
<line x1="1779" y1="349.32" x2="1779" y2="417.91" stroke="rgba(0,0,0,0.32)" stroke-width="2.6"/>
<line x1="1773.1" y1="312.97" x2="1784.9" y2="312.97" stroke="rgba(0,0,0,0.4)" stroke-width="2"/>
<line x1="1773.1" y1="417.91" x2="1784.9" y2="417.91" stroke="rgba(0,0,0,0.4)" stroke-width="2"/>
<line x1="1783" y1="341.27" x2="1794.8" y2="341.27" stroke="rgba(0,0,0,0.4)" stroke-width="2"/>
<line x1="1783" y1="343.55" x2="1794.8" y2="343.55" stroke="rgba(0,0,0,0.4)" stroke-width="2"/>
<line x1="1785.5" y1="321.74" x2="1797.3" y2="321.74" stroke="rgba(0,0,0,0.4)" stroke-width="2"/>
<line x1="1785.5" y1="324.02" x2="1797.3" y2="324.02" stroke="rgba(0,0,0,0.4)" stroke-width="2"/>
<line x1="1793" y1="317.89" x2="1804.8" y2="317.89" stroke="rgba(0,0,0,0.4)" stroke-width="2"/>
<line x1="1793" y1="325.3" x2="1804.8" y2="325.3" stroke="rgba(0,0,0,0.4)" stroke-width="2"/>
<line x1="1814.4" y1="291.8" x2="1814.4" y2="309.34" stroke="rgba(0,0,0,0.32)" stroke-width="2.6"/>
<line x1="1814.4" y1="318.74" x2="1814.4" y2="350.4" stroke="rgba(0,0,0,0.32)" stroke-width="2.6"/>
<line x1="1808.5" y1="291.8" x2="1820.3" y2="291.8" stroke="rgba(0,0,0,0.4)" stroke-width="2"/>
<line x1="1808.5" y1="350.4" x2="1820.3" y2="350.4" stroke="rgba(0,0,0,0.4)" stroke-width="2"/>
<line x1="1809.5" y1="312.97" x2="1809.5" y2="332.87" stroke="rgba(0,0,0,0.32)" stroke-width="2.6"/>
<line x1="1809.5" y1="342.27" x2="1809.5" y2="381.76" stroke="rgba(0,0,0,0.32)" stroke-width="2.6"/>
<line x1="1803.6" y1="312.97" x2="1815.4" y2="312.97" stroke="rgba(0,0,0,0.4)" stroke-width="2"/>
<line x1="1803.6" y1="381.76" x2="1815.4" y2="381.76" stroke="rgba(0,0,0,0.4)" stroke-width="2"/>
<line x1="1828.1" y1="292.87" x2="1828.1" y2="320.46" stroke="rgba(0,0,0,0.32)" stroke-width="2.6"/>
<line x1="1828.1" y1="329.86" x2="1828.1" y2="360.59" stroke="rgba(0,0,0,0.32)" stroke-width="2.6"/>
<line x1="1822.2" y1="292.87" x2="1834" y2="292.87" stroke="rgba(0,0,0,0.4)" stroke-width="2"/>
<line x1="1822.2" y1="360.59" x2="1834" y2="360.59" stroke="rgba(0,0,0,0.4)" stroke-width="2"/>
<line x1="1829.1" y1="316.04" x2="1840.9" y2="316.04" stroke="rgba(0,0,0,0.4)" stroke-width="2"/>
<line x1="1829.1" y1="318.32" x2="1840.9" y2="318.32" stroke="rgba(0,0,0,0.4)" stroke-width="2"/>
<line x1="1827.2" y1="339.92" x2="1839" y2="339.92" stroke="rgba(0,0,0,0.4)" stroke-width="2"/>
<line x1="1827.2" y1="342.2" x2="1839" y2="342.2" stroke="rgba(0,0,0,0.4)" stroke-width="2"/>
<line x1="1831.6" y1="349.68" x2="1843.4" y2="349.68" stroke="rgba(0,0,0,0.4)" stroke-width="2"/>
<line x1="1831.6" y1="351.97" x2="1843.4" y2="351.97" stroke="rgba(0,0,0,0.4)" stroke-width="2"/>
<line x1="1863.6" y1="338.28" x2="1863.6" y2="339.07" stroke="rgba(0,0,0,0.32)" stroke-width="2.6"/>
<line x1="1863.6" y1="348.47" x2="1863.6" y2="350.4" stroke="rgba(0,0,0,0.32)" stroke-width="2.6"/>
<line x1="1857.7" y1="338.28" x2="1869.5" y2="338.28" stroke="rgba(0,0,0,0.4)" stroke-width="2"/>
<line x1="1857.7" y1="350.4" x2="1869.5" y2="350.4" stroke="rgba(0,0,0,0.4)" stroke-width="2"/>
<line x1="1873.2" y1="359.45" x2="1885" y2="359.45" stroke="rgba(0,0,0,0.4)" stroke-width="2"/>
<line x1="1873.2" y1="361.73" x2="1885" y2="361.73" stroke="rgba(0,0,0,0.4)" stroke-width="2"/>
<line x1="1840.9" y1="369.22" x2="1852.7" y2="369.22" stroke="rgba(0,0,0,0.4)" stroke-width="2"/>
<line x1="1840.9" y1="371.5" x2="1852.7" y2="371.5" stroke="rgba(0,0,0,0.4)" stroke-width="2"/>
<line x1="1835" y1="359.24" x2="1835" y2="362.52" stroke="rgba(0,0,0,0.32)" stroke-width="2.6"/>
<line x1="1835" y1="371.92" x2="1835" y2="389.39" stroke="rgba(0,0,0,0.32)" stroke-width="2.6"/>
<line x1="1829.1" y1="359.24" x2="1840.9" y2="359.24" stroke="rgba(0,0,0,0.4)" stroke-width="2"/>
<line x1="1829.1" y1="389.39" x2="1840.9" y2="389.39" stroke="rgba(0,0,0,0.4)" stroke-width="2"/>
<line x1="1813.2" y1="350.4" x2="1813.2" y2="353.25" stroke="rgba(0,0,0,0.32)" stroke-width="2.6"/>
<line x1="1813.2" y1="362.65" x2="1813.2" y2="365.44" stroke="rgba(0,0,0,0.32)" stroke-width="2.6"/>
<line x1="1807.3" y1="350.4" x2="1819.1" y2="350.4" stroke="rgba(0,0,0,0.4)" stroke-width="2"/>
<line x1="1807.3" y1="365.44" x2="1819.1" y2="365.44" stroke="rgba(0,0,0,0.4)" stroke-width="2"/>
<line x1="1796.4" y1="357.95" x2="1796.4" y2="360.74" stroke="rgba(0,0,0,0.32)" stroke-width="2.6"/>
<line x1="1796.4" y1="370.14" x2="1796.4" y2="373.42" stroke="rgba(0,0,0,0.32)" stroke-width="2.6"/>
<line x1="1790.5" y1="357.95" x2="1802.3" y2="357.95" stroke="rgba(0,0,0,0.4)" stroke-width="2"/>
<line x1="1790.5" y1="373.42" x2="1802.3" y2="373.42" stroke="rgba(0,0,0,0.4)" stroke-width="2"/>
<line x1="1771.2" y1="363.87" x2="1783" y2="363.87" stroke="rgba(0,0,0,0.4)" stroke-width="2"/>
<line x1="1771.2" y1="366.15" x2="1783" y2="366.15" stroke="rgba(0,0,0,0.4)" stroke-width="2"/>
<line x1="1754.4" y1="360.31" x2="1766.2" y2="360.31" stroke="rgba(0,0,0,0.4)" stroke-width="2"/>
<line x1="1754.4" y1="362.59" x2="1766.2" y2="362.59" stroke="rgba(0,0,0,0.4)" stroke-width="2"/>
<line x1="1756.9" y1="351.04" x2="1768.7" y2="351.04" stroke="rgba(0,0,0,0.4)" stroke-width="2"/>
<line x1="1756.9" y1="353.32" x2="1768.7" y2="353.32" stroke="rgba(0,0,0,0.4)" stroke-width="2"/>
<line x1="1740.1" y1="352.82" x2="1751.9" y2="352.82" stroke="rgba(0,0,0,0.4)" stroke-width="2"/>
<line x1="1740.1" y1="355.1" x2="1751.9" y2="355.1" stroke="rgba(0,0,0,0.4)" stroke-width="2"/>
<line x1="1738.9" y1="368.29" x2="1750.7" y2="368.29" stroke="rgba(0,0,0,0.4)" stroke-width="2"/>
<line x1="1738.9" y1="370.57" x2="1750.7" y2="370.57" stroke="rgba(0,0,0,0.4)" stroke-width="2"/>
<line x1="1827" y1="360.59" x2="1827" y2="361.88" stroke="rgba(0,0,0,0.32)" stroke-width="2.6"/>
<line x1="1827" y1="371.28" x2="1827" y2="372.57" stroke="rgba(0,0,0,0.32)" stroke-width="2.6"/>
<line x1="1821.1" y1="360.59" x2="1832.9" y2="360.59" stroke="rgba(0,0,0,0.4)" stroke-width="2"/>
<line x1="1821.1" y1="372.57" x2="1832.9" y2="372.57" stroke="rgba(0,0,0,0.4)" stroke-width="2"/>
<line x1="1730.8" y1="382.41" x2="1742.6" y2="382.41" stroke="rgba(0,0,0,0.4)" stroke-width="2"/>
<line x1="1730.8" y1="384.69" x2="1742.6" y2="384.69" stroke="rgba(0,0,0,0.4)" stroke-width="2"/>
<line x1="1725.8" y1="408.07" x2="1737.6" y2="408.07" stroke="rgba(0,0,0,0.4)" stroke-width="2"/>
<line x1="1725.8" y1="410.35" x2="1737.6" y2="410.35" stroke="rgba(0,0,0,0.4)" stroke-width="2"/>
<line x1="1733.9" y1="415.2" x2="1745.7" y2="415.2" stroke="rgba(0,0,0,0.4)" stroke-width="2"/>
<line x1="1733.9" y1="417.48" x2="1745.7" y2="417.48" stroke="rgba(0,0,0,0.4)" stroke-width="2"/>
<line x1="1741.7" y1="443.07" x2="1741.7" y2="458.54" stroke="rgba(0,0,0,0.32)" stroke-width="2.6"/>
<line x1="1735.8" y1="437.23" x2="1747.6" y2="437.23" stroke="rgba(0,0,0,0.4)" stroke-width="2"/>
<line x1="1735.8" y1="458.54" x2="1747.6" y2="458.54" stroke="rgba(0,0,0,0.4)" stroke-width="2"/>
<line x1="1751.6" y1="375.56" x2="1751.6" y2="394.82" stroke="rgba(0,0,0,0.32)" stroke-width="2.6"/>
<line x1="1751.6" y1="404.22" x2="1751.6" y2="417.91" stroke="rgba(0,0,0,0.32)" stroke-width="2.6"/>
<line x1="1745.7" y1="375.56" x2="1757.5" y2="375.56" stroke="rgba(0,0,0,0.4)" stroke-width="2"/>
<line x1="1745.7" y1="417.91" x2="1757.5" y2="417.91" stroke="rgba(0,0,0,0.4)" stroke-width="2"/>
<line x1="1761.6" y1="406.85" x2="1761.6" y2="409.71" stroke="rgba(0,0,0,0.32)" stroke-width="2.6"/>
<line x1="1755.7" y1="401.01" x2="1767.5" y2="401.01" stroke="rgba(0,0,0,0.4)" stroke-width="2"/>
<line x1="1755.7" y1="409.71" x2="1767.5" y2="409.71" stroke="rgba(0,0,0,0.4)" stroke-width="2"/>
<line x1="1769.4" y1="399.23" x2="1781.2" y2="399.23" stroke="rgba(0,0,0,0.4)" stroke-width="2"/>
<line x1="1769.4" y1="401.51" x2="1781.2" y2="401.51" stroke="rgba(0,0,0,0.4)" stroke-width="2"/>
<line x1="1782.1" y1="373.35" x2="1782.1" y2="386.33" stroke="rgba(0,0,0,0.32)" stroke-width="2.6"/>
<line x1="1782.1" y1="395.73" x2="1782.1" y2="413.7" stroke="rgba(0,0,0,0.32)" stroke-width="2.6"/>
<line x1="1776.2" y1="373.35" x2="1788" y2="373.35" stroke="rgba(0,0,0,0.4)" stroke-width="2"/>
<line x1="1776.2" y1="413.7" x2="1788" y2="413.7" stroke="rgba(0,0,0,0.4)" stroke-width="2"/>
<line x1="1792.7" y1="408.36" x2="1792.7" y2="412.07" stroke="rgba(0,0,0,0.32)" stroke-width="2.6"/>
<line x1="1792.7" y1="421.47" x2="1792.7" y2="424.32" stroke="rgba(0,0,0,0.32)" stroke-width="2.6"/>
<line x1="1786.8" y1="408.36" x2="1798.6" y2="408.36" stroke="rgba(0,0,0,0.4)" stroke-width="2"/>
<line x1="1786.8" y1="424.32" x2="1798.6" y2="424.32" stroke="rgba(0,0,0,0.4)" stroke-width="2"/>
<line x1="1788.9" y1="434.8" x2="1788.9" y2="440.79" stroke="rgba(0,0,0,0.32)" stroke-width="2.6"/>
<line x1="1783" y1="428.96" x2="1794.8" y2="428.96" stroke="rgba(0,0,0,0.4)" stroke-width="2"/>
<line x1="1783" y1="440.79" x2="1794.8" y2="440.79" stroke="rgba(0,0,0,0.4)" stroke-width="2"/>
<line x1="1791.8" y1="427.18" x2="1803.6" y2="427.18" stroke="rgba(0,0,0,0.4)" stroke-width="2"/>
<line x1="1791.8" y1="429.46" x2="1803.6" y2="429.46" stroke="rgba(0,0,0,0.4)" stroke-width="2"/>
<line x1="1777.8" y1="439.65" x2="1777.8" y2="465.89" stroke="rgba(0,0,0,0.32)" stroke-width="2.6"/>
<line x1="1771.9" y1="433.81" x2="1783.7" y2="433.81" stroke="rgba(0,0,0,0.4)" stroke-width="2"/>
<line x1="1771.9" y1="465.89" x2="1783.7" y2="465.89" stroke="rgba(0,0,0,0.4)" stroke-width="2"/>
<line x1="1795.5" y1="436.37" x2="1807.3" y2="436.37" stroke="rgba(0,0,0,0.4)" stroke-width="2"/>
<line x1="1795.5" y1="441.93" x2="1807.3" y2="441.93" stroke="rgba(0,0,0,0.4)" stroke-width="2"/>
<line x1="1826.3" y1="368.01" x2="1826.3" y2="385.48" stroke="rgba(0,0,0,0.32)" stroke-width="2.6"/>
<line x1="1826.3" y1="394.88" x2="1826.3" y2="447.42" stroke="rgba(0,0,0,0.32)" stroke-width="2.6"/>
<line x1="1820.4" y1="368.01" x2="1832.2" y2="368.01" stroke="rgba(0,0,0,0.4)" stroke-width="2"/>
<line x1="1820.4" y1="447.42" x2="1832.2" y2="447.42" stroke="rgba(0,0,0,0.4)" stroke-width="2"/>
<line x1="1824.1" y1="403.65" x2="1835.9" y2="403.65" stroke="rgba(0,0,0,0.4)" stroke-width="2"/>
<line x1="1824.1" y1="405.93" x2="1835.9" y2="405.93" stroke="rgba(0,0,0,0.4)" stroke-width="2"/>
<line x1="1831.6" y1="377.27" x2="1843.4" y2="377.27" stroke="rgba(0,0,0,0.4)" stroke-width="2"/>
<line x1="1831.6" y1="385.12" x2="1843.4" y2="385.12" stroke="rgba(0,0,0,0.4)" stroke-width="2"/>
<line x1="1834.1" y1="395.24" x2="1845.9" y2="395.24" stroke="rgba(0,0,0,0.4)" stroke-width="2"/>
<line x1="1834.1" y1="397.52" x2="1845.9" y2="397.52" stroke="rgba(0,0,0,0.4)" stroke-width="2"/>
<line x1="1837.5" y1="418.83" x2="1837.5" y2="426.11" stroke="rgba(0,0,0,0.32)" stroke-width="2.6"/>
<line x1="1831.6" y1="412.99" x2="1843.4" y2="412.99" stroke="rgba(0,0,0,0.4)" stroke-width="2"/>
<line x1="1831.6" y1="426.11" x2="1843.4" y2="426.11" stroke="rgba(0,0,0,0.4)" stroke-width="2"/>
<line x1="1842.1" y1="387.25" x2="1853.9" y2="387.25" stroke="rgba(0,0,0,0.4)" stroke-width="2"/>
<line x1="1842.1" y1="389.54" x2="1853.9" y2="389.54" stroke="rgba(0,0,0,0.4)" stroke-width="2"/>
<line x1="1842.1" y1="400.59" x2="1853.9" y2="400.59" stroke="rgba(0,0,0,0.4)" stroke-width="2"/>
<line x1="1842.1" y1="402.87" x2="1853.9" y2="402.87" stroke="rgba(0,0,0,0.4)" stroke-width="2"/>
<line x1="1851.1" y1="373.71" x2="1851.1" y2="403.66" stroke="rgba(0,0,0,0.32)" stroke-width="2.6"/>
<line x1="1851.1" y1="413.06" x2="1851.1" y2="447.71" stroke="rgba(0,0,0,0.32)" stroke-width="2.6"/>
<line x1="1845.2" y1="373.71" x2="1857" y2="373.71" stroke="rgba(0,0,0,0.4)" stroke-width="2"/>
<line x1="1845.2" y1="447.71" x2="1857" y2="447.71" stroke="rgba(0,0,0,0.4)" stroke-width="2"/>
<line x1="1858.6" y1="373.78" x2="1858.6" y2="374.36" stroke="rgba(0,0,0,0.32)" stroke-width="2.6"/>
<line x1="1858.6" y1="383.76" x2="1858.6" y2="384.83" stroke="rgba(0,0,0,0.32)" stroke-width="2.6"/>
<line x1="1852.7" y1="373.78" x2="1864.5" y2="373.78" stroke="rgba(0,0,0,0.4)" stroke-width="2"/>
<line x1="1852.7" y1="384.83" x2="1864.5" y2="384.83" stroke="rgba(0,0,0,0.4)" stroke-width="2"/>
<line x1="1850.2" y1="381.91" x2="1862" y2="381.91" stroke="rgba(0,0,0,0.4)" stroke-width="2"/>
<line x1="1850.2" y1="384.19" x2="1862" y2="384.19" stroke="rgba(0,0,0,0.4)" stroke-width="2"/>
<line x1="1857.1" y1="400.37" x2="1868.9" y2="400.37" stroke="rgba(0,0,0,0.4)" stroke-width="2"/>
<line x1="1857.1" y1="402.65" x2="1868.9" y2="402.65" stroke="rgba(0,0,0,0.4)" stroke-width="2"/>
<line x1="1857.1" y1="412.56" x2="1868.9" y2="412.56" stroke="rgba(0,0,0,0.4)" stroke-width="2"/>
<line x1="1857.1" y1="414.84" x2="1868.9" y2="414.84" stroke="rgba(0,0,0,0.4)" stroke-width="2"/>
<line x1="1761.9" y1="448.35" x2="1773.7" y2="448.35" stroke="rgba(0,0,0,0.4)" stroke-width="2"/>
<line x1="1761.9" y1="450.63" x2="1773.7" y2="450.63" stroke="rgba(0,0,0,0.4)" stroke-width="2"/>
<line x1="1754.4" y1="448.35" x2="1766.2" y2="448.35" stroke="rgba(0,0,0,0.4)" stroke-width="2"/>
<line x1="1754.4" y1="450.63" x2="1766.2" y2="450.63" stroke="rgba(0,0,0,0.4)" stroke-width="2"/>
<line x1="1768.4" y1="396.52" x2="1768.4" y2="463.11" stroke="rgba(0,0,0,0.32)" stroke-width="2.6"/>
<line x1="1768.4" y1="472.51" x2="1768.4" y2="495.54" stroke="rgba(0,0,0,0.32)" stroke-width="2.6"/>
<line x1="1762.5" y1="396.52" x2="1774.3" y2="396.52" stroke="rgba(0,0,0,0.4)" stroke-width="2"/>
<line x1="1762.5" y1="495.54" x2="1774.3" y2="495.54" stroke="rgba(0,0,0,0.4)" stroke-width="2"/>
<line x1="1833.4" y1="443.86" x2="1845.2" y2="443.86" stroke="rgba(0,0,0,0.4)" stroke-width="2"/>
<line x1="1833.4" y1="446.14" x2="1845.2" y2="446.14" stroke="rgba(0,0,0,0.4)" stroke-width="2"/>
<line x1="1844.3" y1="460.4" x2="1844.3" y2="465.18" stroke="rgba(0,0,0,0.32)" stroke-width="2.6"/>
<line x1="1844.3" y1="474.58" x2="1844.3" y2="479.86" stroke="rgba(0,0,0,0.32)" stroke-width="2.6"/>
<line x1="1838.4" y1="460.4" x2="1850.2" y2="460.4" stroke="rgba(0,0,0,0.4)" stroke-width="2"/>
<line x1="1838.4" y1="479.86" x2="1850.2" y2="479.86" stroke="rgba(0,0,0,0.4)" stroke-width="2"/>
<line x1="1807.3" y1="474.94" x2="1819.1" y2="474.94" stroke="rgba(0,0,0,0.4)" stroke-width="2"/>
<line x1="1807.3" y1="477.22" x2="1819.1" y2="477.22" stroke="rgba(0,0,0,0.4)" stroke-width="2"/>
<line x1="1795" y1="487.77" x2="1795" y2="510.95" stroke="rgba(0,0,0,0.32)" stroke-width="2.6"/>
<line x1="1795" y1="520.35" x2="1795" y2="571.11" stroke="rgba(0,0,0,0.32)" stroke-width="2.6"/>
<line x1="1789.1" y1="487.77" x2="1800.9" y2="487.77" stroke="rgba(0,0,0,0.4)" stroke-width="2"/>
<line x1="1789.1" y1="571.11" x2="1800.9" y2="571.11" stroke="rgba(0,0,0,0.4)" stroke-width="2"/>
<line x1="1917.3" y1="339.85" x2="1917.3" y2="343.92" stroke="rgba(0,0,0,0.32)" stroke-width="2.6"/>
<line x1="1917.3" y1="353.32" x2="1917.3" y2="359.81" stroke="rgba(0,0,0,0.32)" stroke-width="2.6"/>
<line x1="1911.4" y1="339.85" x2="1923.2" y2="339.85" stroke="rgba(0,0,0,0.4)" stroke-width="2"/>
<line x1="1911.4" y1="359.81" x2="1923.2" y2="359.81" stroke="rgba(0,0,0,0.4)" stroke-width="2"/>
<line x1="2004" y1="416.41" x2="2015.8" y2="416.41" stroke="rgba(0,0,0,0.4)" stroke-width="2"/>
<line x1="2004" y1="418.69" x2="2015.8" y2="418.69" stroke="rgba(0,0,0,0.4)" stroke-width="2"/>
<line x1="1342.1" y1="402.72" x2="1353.9" y2="402.72" stroke="rgba(0,0,0,0.4)" stroke-width="2"/>
<line x1="1342.1" y1="405.01" x2="1353.9" y2="405.01" stroke="rgba(0,0,0,0.4)" stroke-width="2"/>
<line x1="1286.7" y1="231.84" x2="1286.7" y2="245.6" stroke="#008000" stroke-width="3"/>
<line x1="1280.8" y1="231.84" x2="1292.6" y2="231.84" stroke="#008000" stroke-width="2"/>
<line x1="1280.8" y1="245.6" x2="1292.6" y2="245.6" stroke="#008000" stroke-width="2"/>
<line x1="1288.6" y1="276.04" x2="1288.6" y2="334.93" stroke="#008000" stroke-width="3"/>
<line x1="1282.7" y1="276.04" x2="1294.5" y2="276.04" stroke="#008000" stroke-width="2"/>
<line x1="1282.7" y1="334.93" x2="1294.5" y2="334.93" stroke="#008000" stroke-width="2"/>
<line x1="1322.1" y1="348.12" x2="1322.1" y2="374.99" stroke="#008000" stroke-width="3"/>
<line x1="1316.2" y1="348.12" x2="1328" y2="348.12" stroke="#008000" stroke-width="2"/>
<line x1="1316.2" y1="374.99" x2="1328" y2="374.99" stroke="#008000" stroke-width="2"/>
<line x1="1333.7" y1="326.52" x2="1333.7" y2="423.26" stroke="#008000" stroke-width="3"/>
<line x1="1327.8" y1="326.52" x2="1339.6" y2="326.52" stroke="#008000" stroke-width="2"/>
<line x1="1327.8" y1="423.26" x2="1339.6" y2="423.26" stroke="#008000" stroke-width="2"/>
<line x1="1364.4" y1="372" x2="1364.4" y2="374.28" stroke="#008000" stroke-width="3"/>
<line x1="1358.5" y1="372" x2="1370.3" y2="372" stroke="#008000" stroke-width="2"/>
<line x1="1358.5" y1="374.28" x2="1370.3" y2="374.28" stroke="#008000" stroke-width="2"/>
<line x1="1401" y1="345.19" x2="1401" y2="437.37" stroke="#008000" stroke-width="3"/>
<line x1="1395.1" y1="345.19" x2="1406.9" y2="345.19" stroke="#008000" stroke-width="2"/>
<line x1="1395.1" y1="437.37" x2="1406.9" y2="437.37" stroke="#008000" stroke-width="2"/>
<line x1="1415.6" y1="371.71" x2="1415.6" y2="392.6" stroke="#008000" stroke-width="3"/>
<line x1="1409.7" y1="371.71" x2="1421.5" y2="371.71" stroke="#008000" stroke-width="2"/>
<line x1="1409.7" y1="392.6" x2="1421.5" y2="392.6" stroke="#008000" stroke-width="2"/>
<line x1="1430.9" y1="384.62" x2="1430.9" y2="386.9" stroke="#008000" stroke-width="3"/>
<line x1="1425" y1="384.62" x2="1436.8" y2="384.62" stroke="#008000" stroke-width="2"/>
<line x1="1425" y1="386.9" x2="1436.8" y2="386.9" stroke="#008000" stroke-width="2"/>
<line x1="1471.8" y1="337" x2="1471.8" y2="376.49" stroke="#008000" stroke-width="3"/>
<line x1="1465.9" y1="337" x2="1477.7" y2="337" stroke="#008000" stroke-width="2"/>
<line x1="1465.9" y1="376.49" x2="1477.7" y2="376.49" stroke="#008000" stroke-width="2"/>
<line x1="1465.7" y1="367.15" x2="1465.7" y2="382.05" stroke="#008000" stroke-width="3"/>
<line x1="1459.8" y1="367.15" x2="1471.6" y2="367.15" stroke="#008000" stroke-width="2"/>
<line x1="1459.8" y1="382.05" x2="1471.6" y2="382.05" stroke="#008000" stroke-width="2"/>
<line x1="1483.2" y1="380.41" x2="1483.2" y2="454.41" stroke="#008000" stroke-width="3"/>
<line x1="1477.3" y1="380.41" x2="1489.1" y2="380.41" stroke="#008000" stroke-width="2"/>
<line x1="1477.3" y1="454.41" x2="1489.1" y2="454.41" stroke="#008000" stroke-width="2"/>
<line x1="1382.2" y1="393.46" x2="1382.2" y2="410.21" stroke="#008000" stroke-width="3"/>
<line x1="1376.3" y1="393.46" x2="1388.1" y2="393.46" stroke="#008000" stroke-width="2"/>
<line x1="1376.3" y1="410.21" x2="1388.1" y2="410.21" stroke="#008000" stroke-width="2"/>
<line x1="1243.4" y1="384.62" x2="1243.4" y2="386.9" stroke="#008000" stroke-width="3"/>
<line x1="1237.5" y1="384.62" x2="1249.3" y2="384.62" stroke="#008000" stroke-width="2"/>
<line x1="1237.5" y1="386.9" x2="1249.3" y2="386.9" stroke="#008000" stroke-width="2"/>
<line x1="1257.3" y1="395.67" x2="1257.3" y2="429.74" stroke="#008000" stroke-width="3"/>
<line x1="1251.4" y1="395.67" x2="1263.2" y2="395.67" stroke="#008000" stroke-width="2"/>
<line x1="1251.4" y1="429.74" x2="1263.2" y2="429.74" stroke="#008000" stroke-width="2"/>
<line x1="1263.3" y1="400.09" x2="1263.3" y2="443.57" stroke="#008000" stroke-width="3"/>
<line x1="1257.4" y1="400.09" x2="1269.2" y2="400.09" stroke="#008000" stroke-width="2"/>
<line x1="1257.4" y1="443.57" x2="1269.2" y2="443.57" stroke="#008000" stroke-width="2"/>
<line x1="1276.8" y1="400.09" x2="1276.8" y2="462.89" stroke="#008000" stroke-width="3"/>
<line x1="1270.9" y1="400.09" x2="1282.7" y2="400.09" stroke="#008000" stroke-width="2"/>
<line x1="1270.9" y1="462.89" x2="1282.7" y2="462.89" stroke="#008000" stroke-width="2"/>
<line x1="1282.5" y1="423.18" x2="1282.5" y2="428.82" stroke="#008000" stroke-width="3"/>
<line x1="1276.6" y1="423.18" x2="1288.4" y2="423.18" stroke="#008000" stroke-width="2"/>
<line x1="1276.6" y1="428.82" x2="1288.4" y2="428.82" stroke="#008000" stroke-width="2"/>
<line x1="1275.9" y1="431.1" x2="1275.9" y2="433.38" stroke="#008000" stroke-width="3"/>
<line x1="1270" y1="431.1" x2="1281.8" y2="431.1" stroke="#008000" stroke-width="2"/>
<line x1="1270" y1="433.38" x2="1281.8" y2="433.38" stroke="#008000" stroke-width="2"/>
<line x1="1298.1" y1="421.12" x2="1298.1" y2="423.4" stroke="#008000" stroke-width="3"/>
<line x1="1292.2" y1="421.12" x2="1304" y2="421.12" stroke="#008000" stroke-width="2"/>
<line x1="1292.2" y1="423.4" x2="1304" y2="423.4" stroke="#008000" stroke-width="2"/>
<line x1="1304.7" y1="418.34" x2="1304.7" y2="420.62" stroke="#008000" stroke-width="3"/>
<line x1="1298.8" y1="418.34" x2="1310.6" y2="418.34" stroke="#008000" stroke-width="2"/>
<line x1="1298.8" y1="420.62" x2="1310.6" y2="420.62" stroke="#008000" stroke-width="2"/>
<line x1="1303.8" y1="425.75" x2="1303.8" y2="428.03" stroke="#008000" stroke-width="3"/>
<line x1="1297.9" y1="425.75" x2="1309.7" y2="425.75" stroke="#008000" stroke-width="2"/>
<line x1="1297.9" y1="428.03" x2="1309.7" y2="428.03" stroke="#008000" stroke-width="2"/>
<line x1="1297.7" y1="431.67" x2="1297.7" y2="433.95" stroke="#008000" stroke-width="3"/>
<line x1="1291.8" y1="431.67" x2="1303.6" y2="431.67" stroke="#008000" stroke-width="2"/>
<line x1="1291.8" y1="433.95" x2="1303.6" y2="433.95" stroke="#008000" stroke-width="2"/>
<line x1="1302.9" y1="432.59" x2="1302.9" y2="438.08" stroke="#008000" stroke-width="3"/>
<line x1="1297" y1="432.59" x2="1308.8" y2="432.59" stroke="#008000" stroke-width="2"/>
<line x1="1297" y1="438.08" x2="1308.8" y2="438.08" stroke="#008000" stroke-width="2"/>
<line x1="1317.3" y1="413.99" x2="1317.3" y2="419.76" stroke="#008000" stroke-width="3"/>
<line x1="1311.4" y1="413.99" x2="1323.2" y2="413.99" stroke="#008000" stroke-width="2"/>
<line x1="1311.4" y1="419.76" x2="1323.2" y2="419.76" stroke="#008000" stroke-width="2"/>
<line x1="1315.6" y1="430.74" x2="1315.6" y2="433.02" stroke="#008000" stroke-width="3"/>
<line x1="1309.7" y1="430.74" x2="1321.5" y2="430.74" stroke="#008000" stroke-width="2"/>
<line x1="1309.7" y1="433.02" x2="1321.5" y2="433.02" stroke="#008000" stroke-width="2"/>
<line x1="1323.4" y1="430.74" x2="1323.4" y2="433.02" stroke="#008000" stroke-width="3"/>
<line x1="1317.5" y1="430.74" x2="1329.3" y2="430.74" stroke="#008000" stroke-width="2"/>
<line x1="1317.5" y1="433.02" x2="1329.3" y2="433.02" stroke="#008000" stroke-width="2"/>
<line x1="1313.8" y1="438.73" x2="1313.8" y2="448.06" stroke="#008000" stroke-width="3"/>
<line x1="1307.9" y1="438.73" x2="1319.7" y2="438.73" stroke="#008000" stroke-width="2"/>
<line x1="1307.9" y1="448.06" x2="1319.7" y2="448.06" stroke="#008000" stroke-width="2"/>
<line x1="1334.7" y1="432.95" x2="1334.7" y2="435.23" stroke="#008000" stroke-width="3"/>
<line x1="1328.8" y1="432.95" x2="1340.6" y2="432.95" stroke="#008000" stroke-width="2"/>
<line x1="1328.8" y1="435.23" x2="1340.6" y2="435.23" stroke="#008000" stroke-width="2"/>
<line x1="1336.5" y1="436.94" x2="1336.5" y2="439.22" stroke="#008000" stroke-width="3"/>
<line x1="1330.6" y1="436.94" x2="1342.4" y2="436.94" stroke="#008000" stroke-width="2"/>
<line x1="1330.6" y1="439.22" x2="1342.4" y2="439.22" stroke="#008000" stroke-width="2"/>
<line x1="1332.1" y1="441.93" x2="1332.1" y2="448.63" stroke="#008000" stroke-width="3"/>
<line x1="1326.2" y1="441.93" x2="1338" y2="441.93" stroke="#008000" stroke-width="2"/>
<line x1="1326.2" y1="448.63" x2="1338" y2="448.63" stroke="#008000" stroke-width="2"/>
<line x1="1363" y1="424.82" x2="1363" y2="427.1" stroke="#008000" stroke-width="3"/>
<line x1="1357.1" y1="424.82" x2="1368.9" y2="424.82" stroke="#008000" stroke-width="2"/>
<line x1="1357.1" y1="427.1" x2="1368.9" y2="427.1" stroke="#008000" stroke-width="2"/>
<line x1="1357.4" y1="433.52" x2="1357.4" y2="435.8" stroke="#008000" stroke-width="3"/>
<line x1="1351.5" y1="433.52" x2="1363.3" y2="433.52" stroke="#008000" stroke-width="2"/>
<line x1="1351.5" y1="435.8" x2="1363.3" y2="435.8" stroke="#008000" stroke-width="2"/>
<line x1="1357.4" y1="436.94" x2="1357.4" y2="439.22" stroke="#008000" stroke-width="3"/>
<line x1="1351.5" y1="436.94" x2="1363.3" y2="436.94" stroke="#008000" stroke-width="2"/>
<line x1="1351.5" y1="439.22" x2="1363.3" y2="439.22" stroke="#008000" stroke-width="2"/>
<line x1="1350.4" y1="439.44" x2="1350.4" y2="441.72" stroke="#008000" stroke-width="3"/>
<line x1="1344.5" y1="439.44" x2="1356.3" y2="439.44" stroke="#008000" stroke-width="2"/>
<line x1="1344.5" y1="441.72" x2="1356.3" y2="441.72" stroke="#008000" stroke-width="2"/>
<line x1="1360.4" y1="441.65" x2="1360.4" y2="450.2" stroke="#008000" stroke-width="3"/>
<line x1="1354.5" y1="441.65" x2="1366.3" y2="441.65" stroke="#008000" stroke-width="2"/>
<line x1="1354.5" y1="450.2" x2="1366.3" y2="450.2" stroke="#008000" stroke-width="2"/>
<line x1="1247.6" y1="444.71" x2="1247.6" y2="446.99" stroke="#008000" stroke-width="3"/>
<line x1="1241.7" y1="444.71" x2="1253.5" y2="444.71" stroke="#008000" stroke-width="2"/>
<line x1="1241.7" y1="446.99" x2="1253.5" y2="446.99" stroke="#008000" stroke-width="2"/>
<line x1="1250.2" y1="446.42" x2="1250.2" y2="470.81" stroke="#008000" stroke-width="3"/>
<line x1="1244.3" y1="446.42" x2="1256.1" y2="446.42" stroke="#008000" stroke-width="2"/>
<line x1="1244.3" y1="470.81" x2="1256.1" y2="470.81" stroke="#008000" stroke-width="2"/>
<line x1="1278.1" y1="453.13" x2="1278.1" y2="455.41" stroke="#008000" stroke-width="3"/>
<line x1="1272.2" y1="453.13" x2="1284" y2="453.13" stroke="#008000" stroke-width="2"/>
<line x1="1272.2" y1="455.41" x2="1284" y2="455.41" stroke="#008000" stroke-width="2"/>
<line x1="1287.7" y1="446.21" x2="1287.7" y2="463.46" stroke="#008000" stroke-width="3"/>
<line x1="1281.8" y1="446.21" x2="1293.6" y2="446.21" stroke="#008000" stroke-width="2"/>
<line x1="1281.8" y1="463.46" x2="1293.6" y2="463.46" stroke="#008000" stroke-width="2"/>
<line x1="1301.6" y1="453.7" x2="1301.6" y2="455.98" stroke="#008000" stroke-width="3"/>
<line x1="1295.7" y1="453.7" x2="1307.5" y2="453.7" stroke="#008000" stroke-width="2"/>
<line x1="1295.7" y1="455.98" x2="1307.5" y2="455.98" stroke="#008000" stroke-width="2"/>
<line x1="1316.4" y1="456.83" x2="1316.4" y2="459.11" stroke="#008000" stroke-width="3"/>
<line x1="1310.5" y1="456.83" x2="1322.3" y2="456.83" stroke="#008000" stroke-width="2"/>
<line x1="1310.5" y1="459.11" x2="1322.3" y2="459.11" stroke="#008000" stroke-width="2"/>
<line x1="1344.3" y1="456.19" x2="1344.3" y2="458.47" stroke="#008000" stroke-width="3"/>
<line x1="1338.4" y1="456.19" x2="1350.2" y2="456.19" stroke="#008000" stroke-width="2"/>
<line x1="1338.4" y1="458.47" x2="1350.2" y2="458.47" stroke="#008000" stroke-width="2"/>
<line x1="1359.1" y1="456.83" x2="1359.1" y2="459.11" stroke="#008000" stroke-width="3"/>
<line x1="1353.2" y1="456.83" x2="1365" y2="456.83" stroke="#008000" stroke-width="2"/>
<line x1="1353.2" y1="459.11" x2="1365" y2="459.11" stroke="#008000" stroke-width="2"/>
<line x1="1319" y1="458.61" x2="1319" y2="460.9" stroke="#008000" stroke-width="3"/>
<line x1="1313.1" y1="458.61" x2="1324.9" y2="458.61" stroke="#008000" stroke-width="2"/>
<line x1="1313.1" y1="460.9" x2="1324.9" y2="460.9" stroke="#008000" stroke-width="2"/>
<line x1="1285.9" y1="464.82" x2="1285.9" y2="467.1" stroke="#008000" stroke-width="3"/>
<line x1="1280" y1="464.82" x2="1291.8" y2="464.82" stroke="#008000" stroke-width="2"/>
<line x1="1280" y1="467.1" x2="1291.8" y2="467.1" stroke="#008000" stroke-width="2"/>
<line x1="1287.7" y1="468.52" x2="1287.7" y2="477.15" stroke="#008000" stroke-width="3"/>
<line x1="1281.8" y1="468.52" x2="1293.6" y2="468.52" stroke="#008000" stroke-width="2"/>
<line x1="1281.8" y1="477.15" x2="1293.6" y2="477.15" stroke="#008000" stroke-width="2"/>
<line x1="1299.9" y1="464.25" x2="1299.9" y2="466.53" stroke="#008000" stroke-width="3"/>
<line x1="1294" y1="464.25" x2="1305.8" y2="464.25" stroke="#008000" stroke-width="2"/>
<line x1="1294" y1="466.53" x2="1305.8" y2="466.53" stroke="#008000" stroke-width="2"/>
<line x1="1306.9" y1="466.39" x2="1306.9" y2="468.67" stroke="#008000" stroke-width="3"/>
<line x1="1301" y1="466.39" x2="1312.8" y2="466.39" stroke="#008000" stroke-width="2"/>
<line x1="1301" y1="468.67" x2="1312.8" y2="468.67" stroke="#008000" stroke-width="2"/>
<line x1="1271.1" y1="475.3" x2="1271.1" y2="482.71" stroke="#008000" stroke-width="3"/>
<line x1="1265.2" y1="475.3" x2="1277" y2="475.3" stroke="#008000" stroke-width="2"/>
<line x1="1265.2" y1="482.71" x2="1277" y2="482.71" stroke="#008000" stroke-width="2"/>
<line x1="1265" y1="466.88" x2="1265" y2="503.03" stroke="#008000" stroke-width="3"/>
<line x1="1259.1" y1="466.88" x2="1270.9" y2="466.88" stroke="#008000" stroke-width="2"/>
<line x1="1259.1" y1="503.03" x2="1270.9" y2="503.03" stroke="#008000" stroke-width="2"/>
<line x1="1311.6" y1="490.27" x2="1311.6" y2="492.55" stroke="#008000" stroke-width="3"/>
<line x1="1305.7" y1="490.27" x2="1317.5" y2="490.27" stroke="#008000" stroke-width="2"/>
<line x1="1305.7" y1="492.55" x2="1317.5" y2="492.55" stroke="#008000" stroke-width="2"/>
<line x1="1335.6" y1="486.49" x2="1335.6" y2="505.59" stroke="#008000" stroke-width="3"/>
<line x1="1329.7" y1="486.49" x2="1341.5" y2="486.49" stroke="#008000" stroke-width="2"/>
<line x1="1329.7" y1="505.59" x2="1341.5" y2="505.59" stroke="#008000" stroke-width="2"/>
<line x1="1382.2" y1="481.28" x2="1382.2" y2="483.57" stroke="#008000" stroke-width="3"/>
<line x1="1376.3" y1="481.28" x2="1388.1" y2="481.28" stroke="#008000" stroke-width="2"/>
<line x1="1376.3" y1="483.57" x2="1388.1" y2="483.57" stroke="#008000" stroke-width="2"/>
<line x1="1386.1" y1="500.82" x2="1386.1" y2="503.1" stroke="#008000" stroke-width="3"/>
<line x1="1380.2" y1="500.82" x2="1392" y2="500.82" stroke="#008000" stroke-width="2"/>
<line x1="1380.2" y1="503.1" x2="1392" y2="503.1" stroke="#008000" stroke-width="2"/>
<line x1="1337.3" y1="506.38" x2="1337.3" y2="508.66" stroke="#008000" stroke-width="3"/>
<line x1="1331.4" y1="506.38" x2="1343.2" y2="506.38" stroke="#008000" stroke-width="2"/>
<line x1="1331.4" y1="508.66" x2="1343.2" y2="508.66" stroke="#008000" stroke-width="2"/>
<line x1="1338.2" y1="509.44" x2="1338.2" y2="511.73" stroke="#008000" stroke-width="3"/>
<line x1="1332.3" y1="509.44" x2="1344.1" y2="509.44" stroke="#008000" stroke-width="2"/>
<line x1="1332.3" y1="511.73" x2="1344.1" y2="511.73" stroke="#008000" stroke-width="2"/>
<line x1="1326.5" y1="507.95" x2="1326.5" y2="510.23" stroke="#008000" stroke-width="3"/>
<line x1="1320.6" y1="507.95" x2="1332.4" y2="507.95" stroke="#008000" stroke-width="2"/>
<line x1="1320.6" y1="510.23" x2="1332.4" y2="510.23" stroke="#008000" stroke-width="2"/>
<line x1="1350.8" y1="521.56" x2="1350.8" y2="523.84" stroke="#008000" stroke-width="3"/>
<line x1="1344.9" y1="521.56" x2="1356.7" y2="521.56" stroke="#008000" stroke-width="2"/>
<line x1="1344.9" y1="523.84" x2="1356.7" y2="523.84" stroke="#008000" stroke-width="2"/>
<line x1="1296" y1="524.56" x2="1296" y2="558.99" stroke="#008000" stroke-width="3"/>
<line x1="1290.1" y1="524.56" x2="1301.9" y2="524.56" stroke="#008000" stroke-width="2"/>
<line x1="1290.1" y1="558.99" x2="1301.9" y2="558.99" stroke="#008000" stroke-width="2"/>
<line x1="1312.1" y1="538.89" x2="1312.1" y2="578.52" stroke="#008000" stroke-width="3"/>
<line x1="1306.2" y1="538.89" x2="1318" y2="538.89" stroke="#008000" stroke-width="2"/>
<line x1="1306.2" y1="578.52" x2="1318" y2="578.52" stroke="#008000" stroke-width="2"/>
<line x1="1277.2" y1="549.79" x2="1277.2" y2="552.07" stroke="#008000" stroke-width="3"/>
<line x1="1271.3" y1="549.79" x2="1283.1" y2="549.79" stroke="#008000" stroke-width="2"/>
<line x1="1271.3" y1="552.07" x2="1283.1" y2="552.07" stroke="#008000" stroke-width="2"/>
<line x1="1348.2" y1="545.3" x2="1348.2" y2="551.5" stroke="#008000" stroke-width="3"/>
<line x1="1342.3" y1="545.3" x2="1354.1" y2="545.3" stroke="#008000" stroke-width="2"/>
<line x1="1342.3" y1="551.5" x2="1354.1" y2="551.5" stroke="#008000" stroke-width="2"/>
<line x1="1380.9" y1="547.3" x2="1380.9" y2="549.58" stroke="#008000" stroke-width="3"/>
<line x1="1375" y1="547.3" x2="1386.8" y2="547.3" stroke="#008000" stroke-width="2"/>
<line x1="1375" y1="549.58" x2="1386.8" y2="549.58" stroke="#008000" stroke-width="2"/>
<line x1="1295" y1="597.99" x2="1295" y2="622.51" stroke="#008000" stroke-width="3"/>
<line x1="1289.1" y1="597.99" x2="1300.9" y2="597.99" stroke="#008000" stroke-width="2"/>
<line x1="1289.1" y1="622.51" x2="1300.9" y2="622.51" stroke="#008000" stroke-width="2"/>
<line x1="1427.3" y1="444.78" x2="1427.3" y2="447.07" stroke="#008000" stroke-width="3"/>
<line x1="1421.4" y1="444.78" x2="1433.2" y2="444.78" stroke="#008000" stroke-width="2"/>
<line x1="1421.4" y1="447.07" x2="1433.2" y2="447.07" stroke="#008000" stroke-width="2"/>
<line x1="1506.4" y1="442.15" x2="1506.4" y2="475.87" stroke="#008000" stroke-width="3"/>
<line x1="1500.5" y1="442.15" x2="1512.3" y2="442.15" stroke="#008000" stroke-width="2"/>
<line x1="1500.5" y1="475.87" x2="1512.3" y2="475.87" stroke="#008000" stroke-width="2"/>
<line x1="1525.8" y1="441.01" x2="1525.8" y2="443.29" stroke="#008000" stroke-width="3"/>
<line x1="1519.9" y1="441.01" x2="1531.7" y2="441.01" stroke="#008000" stroke-width="2"/>
<line x1="1519.9" y1="443.29" x2="1531.7" y2="443.29" stroke="#008000" stroke-width="2"/>
<line x1="1542.9" y1="428.32" x2="1542.9" y2="491.62" stroke="#008000" stroke-width="3"/>
<line x1="1537" y1="428.32" x2="1548.8" y2="428.32" stroke="#008000" stroke-width="2"/>
<line x1="1537" y1="491.62" x2="1548.8" y2="491.62" stroke="#008000" stroke-width="2"/>
<line x1="1546.7" y1="428.32" x2="1546.7" y2="453.34" stroke="#008000" stroke-width="3"/>
<line x1="1540.8" y1="428.32" x2="1552.6" y2="428.32" stroke="#008000" stroke-width="2"/>
<line x1="1540.8" y1="453.34" x2="1552.6" y2="453.34" stroke="#008000" stroke-width="2"/>
<line x1="1528.7" y1="462.89" x2="1528.7" y2="472.52" stroke="#008000" stroke-width="3"/>
<line x1="1522.8" y1="462.89" x2="1534.6" y2="462.89" stroke="#008000" stroke-width="2"/>
<line x1="1522.8" y1="472.52" x2="1534.6" y2="472.52" stroke="#008000" stroke-width="2"/>
<line x1="1565.3" y1="462.39" x2="1565.3" y2="471.38" stroke="#008000" stroke-width="3"/>
<line x1="1559.4" y1="462.39" x2="1571.2" y2="462.39" stroke="#008000" stroke-width="2"/>
<line x1="1559.4" y1="471.38" x2="1571.2" y2="471.38" stroke="#008000" stroke-width="2"/>
<line x1="1513.1" y1="487.34" x2="1513.1" y2="489.63" stroke="#008000" stroke-width="3"/>
<line x1="1507.2" y1="487.34" x2="1519" y2="487.34" stroke="#008000" stroke-width="2"/>
<line x1="1507.2" y1="489.63" x2="1519" y2="489.63" stroke="#008000" stroke-width="2"/>
<line x1="1501.7" y1="491.48" x2="1501.7" y2="504.17" stroke="#008000" stroke-width="3"/>
<line x1="1495.8" y1="491.48" x2="1507.6" y2="491.48" stroke="#008000" stroke-width="2"/>
<line x1="1495.8" y1="504.17" x2="1507.6" y2="504.17" stroke="#008000" stroke-width="2"/>
<line x1="1449.1" y1="496.68" x2="1449.1" y2="498.96" stroke="#008000" stroke-width="3"/>
<line x1="1443.2" y1="496.68" x2="1455" y2="496.68" stroke="#008000" stroke-width="2"/>
<line x1="1443.2" y1="498.96" x2="1455" y2="498.96" stroke="#008000" stroke-width="2"/>
<line x1="1532.4" y1="501.89" x2="1532.4" y2="504.17" stroke="#008000" stroke-width="3"/>
<line x1="1526.5" y1="501.89" x2="1538.3" y2="501.89" stroke="#008000" stroke-width="2"/>
<line x1="1526.5" y1="504.17" x2="1538.3" y2="504.17" stroke="#008000" stroke-width="2"/>
<line x1="1573.6" y1="499.32" x2="1573.6" y2="513.65" stroke="#008000" stroke-width="3"/>
<line x1="1567.7" y1="499.32" x2="1579.5" y2="499.32" stroke="#008000" stroke-width="2"/>
<line x1="1567.7" y1="513.65" x2="1579.5" y2="513.65" stroke="#008000" stroke-width="2"/>
<line x1="1441.9" y1="523.2" x2="1441.9" y2="525.48" stroke="#008000" stroke-width="3"/>
<line x1="1436" y1="523.2" x2="1447.8" y2="523.2" stroke="#008000" stroke-width="2"/>
<line x1="1436" y1="525.48" x2="1447.8" y2="525.48" stroke="#008000" stroke-width="2"/>
<line x1="1479.9" y1="545.66" x2="1479.9" y2="561.27" stroke="#008000" stroke-width="3"/>
<line x1="1474" y1="545.66" x2="1485.8" y2="545.66" stroke="#008000" stroke-width="2"/>
<line x1="1474" y1="561.27" x2="1485.8" y2="561.27" stroke="#008000" stroke-width="2"/>
<line x1="1500.1" y1="571.61" x2="1500.1" y2="573.89" stroke="#008000" stroke-width="3"/>
<line x1="1494.2" y1="571.61" x2="1506" y2="571.61" stroke="#008000" stroke-width="2"/>
<line x1="1494.2" y1="573.89" x2="1506" y2="573.89" stroke="#008000" stroke-width="2"/>
<line x1="1672.1" y1="480.79" x2="1672.1" y2="606.18" stroke="#008000" stroke-width="3"/>
<line x1="1666.2" y1="480.79" x2="1678" y2="480.79" stroke="#008000" stroke-width="2"/>
<line x1="1666.2" y1="606.18" x2="1678" y2="606.18" stroke="#008000" stroke-width="2"/>
<line x1="1909.9" y1="545.02" x2="1909.9" y2="560.84" stroke="#008000" stroke-width="3"/>
<line x1="1904" y1="545.02" x2="1915.8" y2="545.02" stroke="#008000" stroke-width="2"/>
<line x1="1904" y1="560.84" x2="1915.8" y2="560.84" stroke="#008000" stroke-width="2"/>
<line x1="1269.7" y1="398.8" x2="1269.7" y2="401.08" stroke="#008000" stroke-width="3"/>
<line x1="1263.8" y1="398.8" x2="1275.6" y2="398.8" stroke="#008000" stroke-width="2"/>
<line x1="1263.8" y1="401.08" x2="1275.6" y2="401.08" stroke="#008000" stroke-width="2"/>
<line x1="1301" y1="407.07" x2="1301" y2="411.21" stroke="#008000" stroke-width="3"/>
<line x1="1295.1" y1="407.07" x2="1306.9" y2="407.07" stroke="#008000" stroke-width="2"/>
<line x1="1295.1" y1="411.21" x2="1306.9" y2="411.21" stroke="#008000" stroke-width="2"/>
<line x1="1315.7" y1="372.43" x2="1315.7" y2="426.46" stroke="#008000" stroke-width="3"/>
<line x1="1309.8" y1="372.43" x2="1321.6" y2="372.43" stroke="#008000" stroke-width="2"/>
<line x1="1309.8" y1="426.46" x2="1321.6" y2="426.46" stroke="#008000" stroke-width="2"/>
<line x1="1318.2" y1="402.72" x2="1318.2" y2="405.01" stroke="#008000" stroke-width="3"/>
<line x1="1312.3" y1="402.72" x2="1324.1" y2="402.72" stroke="#008000" stroke-width="2"/>
<line x1="1312.3" y1="405.01" x2="1324.1" y2="405.01" stroke="#008000" stroke-width="2"/>
<line x1="1316.9" y1="410.78" x2="1316.9" y2="419.69" stroke="#008000" stroke-width="3"/>
<line x1="1311" y1="410.78" x2="1322.8" y2="410.78" stroke="#008000" stroke-width="2"/>
<line x1="1311" y1="419.69" x2="1322.8" y2="419.69" stroke="#008000" stroke-width="2"/>
<line x1="1302" y1="408.21" x2="1302" y2="410.49" stroke="#008000" stroke-width="3"/>
<line x1="1296.1" y1="408.21" x2="1307.9" y2="408.21" stroke="#008000" stroke-width="2"/>
<line x1="1296.1" y1="410.49" x2="1307.9" y2="410.49" stroke="#008000" stroke-width="2"/>
<line x1="1883.5" y1="396.52" x2="1883.5" y2="402.15" stroke="#ff0000" stroke-width="3"/>
<line x1="1877.6" y1="396.52" x2="1889.4" y2="396.52" stroke="#ff0000" stroke-width="2"/>
<line x1="1877.6" y1="402.15" x2="1889.4" y2="402.15" stroke="#ff0000" stroke-width="2"/>
<line x1="1936.4" y1="375.13" x2="1936.4" y2="380.84" stroke="#ff0000" stroke-width="3"/>
<line x1="1930.5" y1="375.13" x2="1942.3" y2="375.13" stroke="#ff0000" stroke-width="2"/>
<line x1="1930.5" y1="380.84" x2="1942.3" y2="380.84" stroke="#ff0000" stroke-width="2"/>
<line x1="1936.4" y1="347.33" x2="1936.4" y2="518.78" stroke="#ff0000" stroke-width="3"/>
<line x1="1930.5" y1="347.33" x2="1942.3" y2="347.33" stroke="#ff0000" stroke-width="2"/>
<line x1="1930.5" y1="518.78" x2="1942.3" y2="518.78" stroke="#ff0000" stroke-width="2"/>
<line x1="1971.7" y1="380.55" x2="1971.7" y2="387.75" stroke="#ff0000" stroke-width="3"/>
<line x1="1965.8" y1="380.55" x2="1977.6" y2="380.55" stroke="#ff0000" stroke-width="2"/>
<line x1="1965.8" y1="387.75" x2="1977.6" y2="387.75" stroke="#ff0000" stroke-width="2"/>
<path d="M1155 480.93 L1201.1 480.93 L1207.96 479.7 L1214.82 478.4 L1221.68 477.03 L1228.54 475.59 L1235.4 474.08 L1242.26 472.48 L1249.12 470.82 L1255.98 469.07 L1262.84 467.24 L1269.7 465.33 L1276.56 463.34 L1283.42 461.27 L1290.28 459.12 L1297.14 456.88 L1304 454.56 L1310.86 452.16 L1317.72 449.68 L1324.58 447.12 L1331.44 444.47 L1338.3 441.75 L1345.16 438.96 L1352.02 436.09 L1358.88 433.14 L1365.74 430.13 L1372.6 427.04 L1379.46 423.89 L1386.32 420.68 L1393.18 417.4 L1400.04 414.06 L1406.9 410.67 L1413.76 407.22 L1420.62 403.72 L1427.48 400.16 L1434.34 396.56 L1441.2 392.91 L1448.06 389.23 L1454.92 385.49 L1461.78 381.72 L1468.64 377.92 L1475.5 374.08 L1482.36 370.2 L1489.22 366.3 L1496.08 362.36 L1502.94 358.4 L1509.8 354.42 L1516.66 350.41 L1523.52 346.37 L1530.38 342.32 L1537.24 338.24 L1544.1 334.15 L1550.96 330.04 L1557.82 325.91 L1564.68 321.77 L1571.54 317.62 L1578.4 313.45 L1585.26 309.27 L1592.12 305.08 L1598.98 300.87 L1605.84 296.66 L1612.7 292.44 L1619.56 288.21 L1626.42 283.97 L1633.28 279.72 L1640.14 275.47 L1647 271.21 L1653.86 266.94 L1660.72 262.67 L1667.58 258.4 L1674.44 254.12 L1681.3 249.83 L1688.16 245.54 L1695.02 241.25 L1701.88 236.95 L1708.74 232.65 L1715.6 228.35 L1722.46 224.04 L1729.32 219.73 L1736.18 215.42 L1743.04 211.11 L1749.9 206.79 L1756.76 202.47 L1763.62 198.15 L1770.48 193.83 L1777.34 189.51 L1784.2 185.18 L1791.06 180.86 L1797.92 176.53 L1804.78 172.2 L1811.64 167.87 L1818.5 163.54 L1825.36 159.21 L1832.22 154.88 L1839.08 150.55 L1845.94 146.21 L1852.8 141.88 L1859.66 137.55 L1866.52 133.21 L1873.38 128.87 L1880.24 124.54 L1887.1 120.2 L1893.96 115.86 L1900.82 111.53 L1907.68 107.19 L1914.54 102.85 L1921.4 98.51 L1928.26 94.17 L1935.12 89.83 L1941.98 85.49 L1948.84 81.15 L1955.7 76.81 L1962.56 72.47 L1969.42 68.13 L1976.28 63.79 L1983.14 59.45 L1990 55.11 L1996.86 50.77 L2003.72 46.43 L2010.58 42.09 L2017.44 37.75 L2024.3 33.4" fill="none" stroke="#d62728" stroke-width="3" stroke-linecap="butt" stroke-linejoin="round"/>
<path d="M1155 477.89 L1201.1 477.89 L1207.96 476.73 L1214.82 475.51 L1221.68 474.22 L1228.54 472.88 L1235.4 471.48 L1242.26 470.01 L1249.12 468.48 L1255.98 466.89 L1262.84 465.23 L1269.7 463.5 L1276.56 461.7 L1283.42 459.84 L1290.28 457.91 L1297.14 455.91 L1304 453.84 L1310.86 451.71 L1317.72 449.5 L1324.58 447.23 L1331.44 444.9 L1338.3 442.5 L1345.16 440.03 L1352.02 437.5 L1358.88 434.91 L1365.74 432.26 L1372.6 429.54 L1379.46 426.77 L1386.32 423.95 L1393.18 421.07 L1400.04 418.13 L1406.9 415.15 L1413.76 412.11 L1420.62 409.03 L1427.48 405.91 L1434.34 402.73 L1441.2 399.52 L1448.06 396.27 L1454.92 392.97 L1461.78 389.64 L1468.64 386.28 L1475.5 382.88 L1482.36 379.45 L1489.22 375.99 L1496.08 372.5 L1502.94 368.98 L1509.8 365.44 L1516.66 361.87 L1523.52 358.28 L1530.38 354.67 L1537.24 351.04 L1544.1 347.39 L1550.96 343.72 L1557.82 340.03 L1564.68 336.33 L1571.54 332.61 L1578.4 328.87 L1585.26 325.13 L1592.12 321.37 L1598.98 317.59 L1605.84 313.81 L1612.7 310.02 L1619.56 306.21 L1626.42 302.4 L1633.28 298.58 L1640.14 294.75 L1647 290.91 L1653.86 287.07 L1660.72 283.21 L1667.58 279.36 L1674.44 275.49 L1681.3 271.62 L1688.16 267.75 L1695.02 263.87 L1701.88 259.99 L1708.74 256.1 L1715.6 252.21 L1722.46 248.31 L1729.32 244.41 L1736.18 240.51 L1743.04 236.6 L1749.9 232.7 L1756.76 228.79 L1763.62 224.87 L1770.48 220.96 L1777.34 217.04 L1784.2 213.12 L1791.06 209.2 L1797.92 205.27 L1804.78 201.35 L1811.64 197.42 L1818.5 193.49 L1825.36 189.57 L1832.22 185.64 L1839.08 181.7 L1845.94 177.77 L1852.8 173.84 L1859.66 169.9 L1866.52 165.97 L1873.38 162.03 L1880.24 158.09 L1887.1 154.16 L1893.96 150.22 L1900.82 146.28 L1907.68 142.34 L1914.54 138.4 L1921.4 134.46 L1928.26 130.52 L1935.12 126.57 L1941.98 122.63 L1948.84 118.69 L1955.7 114.75 L1962.56 110.8 L1969.42 106.86 L1976.28 102.91 L1983.14 98.97 L1990 95.03 L1996.86 91.08 L2003.72 87.14 L2010.58 83.19 L2017.44 79.25 L2024.3 75.3" fill="none" stroke="#9467bd" stroke-width="3" stroke-linecap="butt" stroke-linejoin="round"/>
<path d="M1155 475.76 L1201.1 475.76 L1207.96 474.64 L1214.82 473.47 L1221.68 472.26 L1228.54 471 L1235.4 469.69 L1242.26 468.33 L1249.12 466.91 L1255.98 465.45 L1262.84 463.93 L1269.7 462.36 L1276.56 460.73 L1283.42 459.05 L1290.28 457.32 L1297.14 455.54 L1304 453.7 L1310.86 451.8 L1317.72 449.85 L1324.58 447.85 L1331.44 445.8 L1338.3 443.7 L1345.16 441.54 L1352.02 439.33 L1358.88 437.08 L1365.74 434.77 L1372.6 432.42 L1379.46 430.02 L1386.32 427.57 L1393.18 425.08 L1400.04 422.54 L1406.9 419.96 L1413.76 417.34 L1420.62 414.68 L1427.48 411.99 L1434.34 409.25 L1441.2 406.48 L1448.06 403.67 L1454.92 400.83 L1461.78 397.95 L1468.64 395.05 L1475.5 392.11 L1482.36 389.15 L1489.22 386.16 L1496.08 383.14 L1502.94 380.09 L1509.8 377.02 L1516.66 373.93 L1523.52 370.82 L1530.38 367.69 L1537.24 364.53 L1544.1 361.36 L1550.96 358.17 L1557.82 354.96 L1564.68 351.73 L1571.54 348.49 L1578.4 345.23 L1585.26 341.96 L1592.12 338.68 L1598.98 335.38 L1605.84 332.08 L1612.7 328.76 L1619.56 325.43 L1626.42 322.09 L1633.28 318.74 L1640.14 315.38 L1647 312.01 L1653.86 308.63 L1660.72 305.25 L1667.58 301.86 L1674.44 298.46 L1681.3 295.06 L1688.16 291.65 L1695.02 288.23 L1701.88 284.81 L1708.74 281.39 L1715.6 277.96 L1722.46 274.52 L1729.32 271.08 L1736.18 267.64 L1743.04 264.19 L1749.9 260.74 L1756.76 257.28 L1763.62 253.82 L1770.48 250.36 L1777.34 246.9 L1784.2 243.43 L1791.06 239.96 L1797.92 236.49 L1804.78 233.02 L1811.64 229.54 L1818.5 226.06 L1825.36 222.58 L1832.22 219.1 L1839.08 215.62 L1845.94 212.13 L1852.8 208.65 L1859.66 205.16 L1866.52 201.67 L1873.38 198.18 L1880.24 194.69 L1887.1 191.2 L1893.96 187.71 L1900.82 184.21 L1907.68 180.72 L1914.54 177.22 L1921.4 173.72 L1928.26 170.23 L1935.12 166.73 L1941.98 163.23 L1948.84 159.73 L1955.7 156.23 L1962.56 152.73 L1969.42 149.23 L1976.28 145.73 L1983.14 142.23 L1990 138.72 L1996.86 135.22 L2003.72 131.72 L2010.58 128.21 L2017.44 124.71 L2024.3 121.2" fill="none" stroke="#8c564b" stroke-width="3" stroke-linecap="butt" stroke-linejoin="round"/>
<path d="M1155 473.67 L1201.1 473.67 L1207.96 472.59 L1214.82 471.49 L1221.68 470.34 L1228.54 469.15 L1235.4 467.93 L1242.26 466.66 L1249.12 465.36 L1255.98 464.01 L1262.84 462.62 L1269.7 461.2 L1276.56 459.73 L1283.42 458.22 L1290.28 456.67 L1297.14 455.07 L1304 453.44 L1310.86 451.76 L1317.72 450.05 L1324.58 448.29 L1331.44 446.5 L1338.3 444.66 L1345.16 442.79 L1352.02 440.87 L1358.88 438.92 L1365.74 436.93 L1372.6 434.9 L1379.46 432.84 L1386.32 430.74 L1393.18 428.6 L1400.04 426.43 L1406.9 424.22 L1413.76 421.99 L1420.62 419.72 L1427.48 417.42 L1434.34 415.08 L1441.2 412.72 L1448.06 410.33 L1454.92 407.92 L1461.78 405.47 L1468.64 403 L1475.5 400.5 L1482.36 397.98 L1489.22 395.43 L1496.08 392.87 L1502.94 390.27 L1509.8 387.66 L1516.66 385.03 L1523.52 382.38 L1530.38 379.71 L1537.24 377.02 L1544.1 374.31 L1550.96 371.58 L1557.82 368.84 L1564.68 366.09 L1571.54 363.32 L1578.4 360.53 L1585.26 357.73 L1592.12 354.92 L1598.98 352.1 L1605.84 349.26 L1612.7 346.41 L1619.56 343.56 L1626.42 340.69 L1633.28 337.81 L1640.14 334.92 L1647 332.02 L1653.86 329.12 L1660.72 326.2 L1667.58 323.28 L1674.44 320.35 L1681.3 317.42 L1688.16 314.48 L1695.02 311.53 L1701.88 308.57 L1708.74 305.61 L1715.6 302.64 L1722.46 299.67 L1729.32 296.69 L1736.18 293.71 L1743.04 290.73 L1749.9 287.73 L1756.76 284.74 L1763.62 281.74 L1770.48 278.74 L1777.34 275.73 L1784.2 272.72 L1791.06 269.71 L1797.92 266.7 L1804.78 263.68 L1811.64 260.66 L1818.5 257.63 L1825.36 254.61 L1832.22 251.58 L1839.08 248.55 L1845.94 245.52 L1852.8 242.48 L1859.66 239.45 L1866.52 236.41 L1873.38 233.37 L1880.24 230.33 L1887.1 227.29 L1893.96 224.24 L1900.82 221.2 L1907.68 218.15 L1914.54 215.1 L1921.4 212.05 L1928.26 209 L1935.12 205.95 L1941.98 202.9 L1948.84 199.84 L1955.7 196.79 L1962.56 193.73 L1969.42 190.68 L1976.28 187.62 L1983.14 184.56 L1990 181.51 L1996.86 178.45 L2003.72 175.39 L2010.58 172.33 L2017.44 169.27 L2024.3 166.21" fill="none" stroke="#e377c2" stroke-width="3" stroke-linecap="butt" stroke-linejoin="round"/>
<path d="M1155 465.77 L1201.1 465.77 L1207.96 464.84 L1214.82 463.89 L1221.68 462.92 L1228.54 461.93 L1235.4 460.92 L1242.26 459.88 L1249.12 458.83 L1255.98 457.75 L1262.84 456.66 L1269.7 455.54 L1276.56 454.4 L1283.42 453.24 L1290.28 452.06 L1297.14 450.86 L1304 449.64 L1310.86 448.39 L1317.72 447.13 L1324.58 445.85 L1331.44 444.54 L1338.3 443.22 L1345.16 441.87 L1352.02 440.51 L1358.88 439.12 L1365.74 437.72 L1372.6 436.3 L1379.46 434.86 L1386.32 433.39 L1393.18 431.92 L1400.04 430.42 L1406.9 428.9 L1413.76 427.37 L1420.62 425.82 L1427.48 424.25 L1434.34 422.66 L1441.2 421.06 L1448.06 419.44 L1454.92 417.81 L1461.78 416.16 L1468.64 414.49 L1475.5 412.81 L1482.36 411.11 L1489.22 409.4 L1496.08 407.67 L1502.94 405.94 L1509.8 404.18 L1516.66 402.42 L1523.52 400.64 L1530.38 398.85 L1537.24 397.04 L1544.1 395.22 L1550.96 393.4 L1557.82 391.56 L1564.68 389.7 L1571.54 387.84 L1578.4 385.97 L1585.26 384.09 L1592.12 382.19 L1598.98 380.29 L1605.84 378.38 L1612.7 376.46 L1619.56 374.53 L1626.42 372.59 L1633.28 370.64 L1640.14 368.68 L1647 366.72 L1653.86 364.75 L1660.72 362.77 L1667.58 360.78 L1674.44 358.79 L1681.3 356.78 L1688.16 354.78 L1695.02 352.76 L1701.88 350.74 L1708.74 348.72 L1715.6 346.69 L1722.46 344.65 L1729.32 342.61 L1736.18 340.56 L1743.04 338.5 L1749.9 336.45 L1756.76 334.38 L1763.62 332.31 L1770.48 330.24 L1777.34 328.17 L1784.2 326.09 L1791.06 324 L1797.92 321.91 L1804.78 319.82 L1811.64 317.72 L1818.5 315.62 L1825.36 313.52 L1832.22 311.41 L1839.08 309.31 L1845.94 307.19 L1852.8 305.08 L1859.66 302.96 L1866.52 300.84 L1873.38 298.72 L1880.24 296.59 L1887.1 294.46 L1893.96 292.33 L1900.82 290.2 L1907.68 288.06 L1914.54 285.92 L1921.4 283.78 L1928.26 281.64 L1935.12 279.5 L1941.98 277.35 L1948.84 275.21 L1955.7 273.06 L1962.56 270.91 L1969.42 268.76 L1976.28 266.6 L1983.14 264.45 L1990 262.29 L1996.86 260.13 L2003.72 257.97 L2010.58 255.81 L2017.44 253.65 L2024.3 251.49" fill="none" stroke="#7f7f7f" stroke-width="3" stroke-linecap="butt" stroke-linejoin="round"/>
<path d="M1155 437.73 L1201.1 437.73 L1207.96 437.17 L1214.82 436.61 L1221.68 436.04 L1228.54 435.47 L1235.4 434.9 L1242.26 434.32 L1249.12 433.75 L1255.98 433.16 L1262.84 432.58 L1269.7 431.99 L1276.56 431.4 L1283.42 430.81 L1290.28 430.21 L1297.14 429.61 L1304 429.01 L1310.86 428.4 L1317.72 427.8 L1324.58 427.19 L1331.44 426.57 L1338.3 425.95 L1345.16 425.34 L1352.02 424.71 L1358.88 424.09 L1365.74 423.46 L1372.6 422.83 L1379.46 422.2 L1386.32 421.56 L1393.18 420.92 L1400.04 420.28 L1406.9 419.64 L1413.76 418.99 L1420.62 418.34 L1427.48 417.69 L1434.34 417.04 L1441.2 416.38 L1448.06 415.72 L1454.92 415.06 L1461.78 414.39 L1468.64 413.73 L1475.5 413.06 L1482.36 412.39 L1489.22 411.71 L1496.08 411.04 L1502.94 410.36 L1509.8 409.68 L1516.66 408.99 L1523.52 408.31 L1530.38 407.62 L1537.24 406.93 L1544.1 406.23 L1550.96 405.54 L1557.82 404.84 L1564.68 404.14 L1571.54 403.44 L1578.4 402.74 L1585.26 402.03 L1592.12 401.33 L1598.98 400.62 L1605.84 399.9 L1612.7 399.19 L1619.56 398.47 L1626.42 397.76 L1633.28 397.04 L1640.14 396.31 L1647 395.59 L1653.86 394.86 L1660.72 394.14 L1667.58 393.41 L1674.44 392.67 L1681.3 391.94 L1688.16 391.21 L1695.02 390.47 L1701.88 389.73 L1708.74 388.99 L1715.6 388.25 L1722.46 387.5 L1729.32 386.76 L1736.18 386.01 L1743.04 385.26 L1749.9 384.51 L1756.76 383.76 L1763.62 383 L1770.48 382.25 L1777.34 381.49 L1784.2 380.73 L1791.06 379.97 L1797.92 379.21 L1804.78 378.44 L1811.64 377.68 L1818.5 376.91 L1825.36 376.14 L1832.22 375.37 L1839.08 374.6 L1845.94 373.83 L1852.8 373.06 L1859.66 372.28 L1866.52 371.5 L1873.38 370.73 L1880.24 369.95 L1887.1 369.17 L1893.96 368.38 L1900.82 367.6 L1907.68 366.82 L1914.54 366.03 L1921.4 365.24 L1928.26 364.46 L1935.12 363.67 L1941.98 362.88 L1948.84 362.08 L1955.7 361.29 L1962.56 360.5 L1969.42 359.7 L1976.28 358.9 L1983.14 358.11 L1990 357.31 L1996.86 356.51 L2003.72 355.71 L2010.58 354.9 L2017.44 354.1 L2024.3 353.3" fill="none" stroke="#bcbd22" stroke-width="3" stroke-linecap="butt" stroke-linejoin="round"/>
<rect x="1282.1" y="233.77" width="9.2" height="9.4" fill="rgba(0,0,0,0.55)"/>
<rect x="1285.4" y="236.27" width="2.6" height="4.4" fill="none" stroke="rgba(0,0,0,0.35)" stroke-width="1.2"/>
<rect x="1284" y="293.51" width="9.2" height="9.4" fill="rgba(0,0,0,0.55)"/>
<rect x="1287.3" y="296.01" width="2.6" height="4.4" fill="none" stroke="rgba(0,0,0,0.35)" stroke-width="1.2"/>
<rect x="1317.5" y="354.97" width="9.2" height="9.4" fill="rgba(0,0,0,0.55)"/>
<rect x="1320.8" y="357.47" width="2.6" height="4.4" fill="none" stroke="rgba(0,0,0,0.35)" stroke-width="1.2"/>
<rect x="1329.1" y="352.11" width="9.2" height="9.4" fill="rgba(0,0,0,0.55)"/>
<rect x="1332.4" y="354.61" width="2.6" height="4.4" fill="none" stroke="rgba(0,0,0,0.35)" stroke-width="1.2"/>
<rect x="1347.9" y="371.79" width="9.2" height="9.4" fill="rgba(0,0,0,0.55)"/>
<rect x="1351.2" y="374.29" width="2.6" height="4.4" fill="none" stroke="rgba(0,0,0,0.35)" stroke-width="1.2"/>
<rect x="1359.8" y="368.44" width="9.2" height="9.4" fill="rgba(0,0,0,0.55)"/>
<rect x="1363.1" y="370.94" width="2.6" height="4.4" fill="none" stroke="rgba(0,0,0,0.35)" stroke-width="1.2"/>
<rect x="1360.1" y="384.76" width="9.2" height="9.4" fill="rgba(0,0,0,0.55)"/>
<rect x="1363.4" y="387.26" width="2.6" height="4.4" fill="none" stroke="rgba(0,0,0,0.35)" stroke-width="1.2"/>
<rect x="1396.4" y="369.86" width="9.2" height="9.4" fill="rgba(0,0,0,0.55)"/>
<rect x="1399.7" y="372.36" width="2.6" height="4.4" fill="none" stroke="rgba(0,0,0,0.35)" stroke-width="1.2"/>
<rect x="1411" y="376.71" width="9.2" height="9.4" fill="rgba(0,0,0,0.55)"/>
<rect x="1414.3" y="379.21" width="2.6" height="4.4" fill="none" stroke="rgba(0,0,0,0.35)" stroke-width="1.2"/>
<rect x="1426.3" y="381.06" width="9.2" height="9.4" fill="rgba(0,0,0,0.55)"/>
<rect x="1429.6" y="383.56" width="2.6" height="4.4" fill="none" stroke="rgba(0,0,0,0.35)" stroke-width="1.2"/>
<rect x="1467.2" y="348.76" width="9.2" height="9.4" fill="rgba(0,0,0,0.55)"/>
<rect x="1470.5" y="351.26" width="2.6" height="4.4" fill="none" stroke="rgba(0,0,0,0.35)" stroke-width="1.2"/>
<rect x="1461.1" y="369.29" width="9.2" height="9.4" fill="rgba(0,0,0,0.55)"/>
<rect x="1464.4" y="371.79" width="2.6" height="4.4" fill="none" stroke="rgba(0,0,0,0.35)" stroke-width="1.2"/>
<rect x="1478.6" y="401.8" width="9.2" height="9.4" fill="rgba(0,0,0,0.55)"/>
<rect x="1481.9" y="404.3" width="2.6" height="4.4" fill="none" stroke="rgba(0,0,0,0.35)" stroke-width="1.2"/>
<rect x="1524.7" y="352.9" width="9.2" height="9.4" fill="rgba(0,0,0,0.55)"/>
<rect x="1528" y="355.4" width="2.6" height="4.4" fill="none" stroke="rgba(0,0,0,0.35)" stroke-width="1.2"/>
<rect x="1509.9" y="407.15" width="9.2" height="9.4" fill="rgba(0,0,0,0.55)"/>
<rect x="1513.2" y="409.65" width="2.6" height="4.4" fill="none" stroke="rgba(0,0,0,0.35)" stroke-width="1.2"/>
<rect x="1377.6" y="396.81" width="9.2" height="9.4" fill="rgba(0,0,0,0.55)"/>
<rect x="1380.9" y="399.31" width="2.6" height="4.4" fill="none" stroke="rgba(0,0,0,0.35)" stroke-width="1.2"/>
<rect x="1238.8" y="381.06" width="9.2" height="9.4" fill="rgba(0,0,0,0.55)"/>
<rect x="1242.1" y="383.56" width="2.6" height="4.4" fill="none" stroke="rgba(0,0,0,0.35)" stroke-width="1.2"/>
<rect x="1240" y="397.81" width="9.2" height="9.4" fill="rgba(0,0,0,0.55)"/>
<rect x="1243.3" y="400.31" width="2.6" height="4.4" fill="none" stroke="rgba(0,0,0,0.35)" stroke-width="1.2"/>
<rect x="1252.7" y="405.3" width="9.2" height="9.4" fill="rgba(0,0,0,0.55)"/>
<rect x="1256" y="407.8" width="2.6" height="4.4" fill="none" stroke="rgba(0,0,0,0.35)" stroke-width="1.2"/>
<rect x="1258.7" y="412.28" width="9.2" height="9.4" fill="rgba(0,0,0,0.55)"/>
<rect x="1262" y="414.78" width="2.6" height="4.4" fill="none" stroke="rgba(0,0,0,0.35)" stroke-width="1.2"/>
<rect x="1272.2" y="417.91" width="9.2" height="9.4" fill="rgba(0,0,0,0.55)"/>
<rect x="1275.5" y="420.41" width="2.6" height="4.4" fill="none" stroke="rgba(0,0,0,0.35)" stroke-width="1.2"/>
<rect x="1277.9" y="420.69" width="9.2" height="9.4" fill="rgba(0,0,0,0.55)"/>
<rect x="1281.2" y="423.19" width="2.6" height="4.4" fill="none" stroke="rgba(0,0,0,0.35)" stroke-width="1.2"/>
<rect x="1271.3" y="427.54" width="9.2" height="9.4" fill="rgba(0,0,0,0.55)"/>
<rect x="1274.6" y="430.04" width="2.6" height="4.4" fill="none" stroke="rgba(0,0,0,0.35)" stroke-width="1.2"/>
<rect x="1293.5" y="417.56" width="9.2" height="9.4" fill="rgba(0,0,0,0.55)"/>
<rect x="1296.8" y="420.06" width="2.6" height="4.4" fill="none" stroke="rgba(0,0,0,0.35)" stroke-width="1.2"/>
<rect x="1300.1" y="414.78" width="9.2" height="9.4" fill="rgba(0,0,0,0.55)"/>
<rect x="1303.4" y="417.28" width="2.6" height="4.4" fill="none" stroke="rgba(0,0,0,0.35)" stroke-width="1.2"/>
<rect x="1299.2" y="422.19" width="9.2" height="9.4" fill="rgba(0,0,0,0.55)"/>
<rect x="1302.5" y="424.69" width="2.6" height="4.4" fill="none" stroke="rgba(0,0,0,0.35)" stroke-width="1.2"/>
<rect x="1293.1" y="428.11" width="9.2" height="9.4" fill="rgba(0,0,0,0.55)"/>
<rect x="1296.4" y="430.61" width="2.6" height="4.4" fill="none" stroke="rgba(0,0,0,0.35)" stroke-width="1.2"/>
<rect x="1298.3" y="429.03" width="9.2" height="9.4" fill="rgba(0,0,0,0.55)"/>
<rect x="1301.6" y="431.53" width="2.6" height="4.4" fill="none" stroke="rgba(0,0,0,0.35)" stroke-width="1.2"/>
<rect x="1312.7" y="410.43" width="9.2" height="9.4" fill="rgba(0,0,0,0.55)"/>
<rect x="1316" y="412.93" width="2.6" height="4.4" fill="none" stroke="rgba(0,0,0,0.35)" stroke-width="1.2"/>
<rect x="1311" y="427.18" width="9.2" height="9.4" fill="rgba(0,0,0,0.55)"/>
<rect x="1314.3" y="429.68" width="2.6" height="4.4" fill="none" stroke="rgba(0,0,0,0.35)" stroke-width="1.2"/>
<rect x="1318.8" y="427.18" width="9.2" height="9.4" fill="rgba(0,0,0,0.55)"/>
<rect x="1322.1" y="429.68" width="2.6" height="4.4" fill="none" stroke="rgba(0,0,0,0.35)" stroke-width="1.2"/>
<rect x="1309.2" y="438.37" width="9.2" height="9.4" fill="rgba(0,0,0,0.55)"/>
<rect x="1312.5" y="440.87" width="2.6" height="4.4" fill="none" stroke="rgba(0,0,0,0.35)" stroke-width="1.2"/>
<rect x="1330.1" y="429.39" width="9.2" height="9.4" fill="rgba(0,0,0,0.55)"/>
<rect x="1333.4" y="431.89" width="2.6" height="4.4" fill="none" stroke="rgba(0,0,0,0.35)" stroke-width="1.2"/>
<rect x="1331.9" y="433.38" width="9.2" height="9.4" fill="rgba(0,0,0,0.55)"/>
<rect x="1335.2" y="435.88" width="2.6" height="4.4" fill="none" stroke="rgba(0,0,0,0.35)" stroke-width="1.2"/>
<rect x="1327.5" y="438.37" width="9.2" height="9.4" fill="rgba(0,0,0,0.55)"/>
<rect x="1330.8" y="440.87" width="2.6" height="4.4" fill="none" stroke="rgba(0,0,0,0.35)" stroke-width="1.2"/>
<rect x="1337.5" y="409.64" width="9.2" height="9.4" fill="rgba(0,0,0,0.55)"/>
<rect x="1340.8" y="412.14" width="2.6" height="4.4" fill="none" stroke="rgba(0,0,0,0.35)" stroke-width="1.2"/>
<rect x="1358.4" y="421.26" width="9.2" height="9.4" fill="rgba(0,0,0,0.55)"/>
<rect x="1361.7" y="423.76" width="2.6" height="4.4" fill="none" stroke="rgba(0,0,0,0.35)" stroke-width="1.2"/>
<rect x="1352.8" y="429.96" width="9.2" height="9.4" fill="rgba(0,0,0,0.55)"/>
<rect x="1356.1" y="432.46" width="2.6" height="4.4" fill="none" stroke="rgba(0,0,0,0.35)" stroke-width="1.2"/>
<rect x="1352.8" y="433.38" width="9.2" height="9.4" fill="rgba(0,0,0,0.55)"/>
<rect x="1356.1" y="435.88" width="2.6" height="4.4" fill="none" stroke="rgba(0,0,0,0.35)" stroke-width="1.2"/>
<rect x="1345.8" y="435.88" width="9.2" height="9.4" fill="rgba(0,0,0,0.55)"/>
<rect x="1349.1" y="438.38" width="2.6" height="4.4" fill="none" stroke="rgba(0,0,0,0.35)" stroke-width="1.2"/>
<rect x="1355.8" y="438.09" width="9.2" height="9.4" fill="rgba(0,0,0,0.55)"/>
<rect x="1359.1" y="440.59" width="2.6" height="4.4" fill="none" stroke="rgba(0,0,0,0.35)" stroke-width="1.2"/>
<rect x="1344.1" y="424.69" width="9.2" height="9.4" fill="rgba(0,0,0,0.55)"/>
<rect x="1347.4" y="427.19" width="2.6" height="4.4" fill="none" stroke="rgba(0,0,0,0.35)" stroke-width="1.2"/>
<rect x="1345.8" y="422.19" width="9.2" height="9.4" fill="rgba(0,0,0,0.55)"/>
<rect x="1349.1" y="424.69" width="2.6" height="4.4" fill="none" stroke="rgba(0,0,0,0.35)" stroke-width="1.2"/>
<rect x="1315.3" y="442.72" width="9.2" height="9.4" fill="rgba(0,0,0,0.55)"/>
<rect x="1318.6" y="445.22" width="2.6" height="4.4" fill="none" stroke="rgba(0,0,0,0.35)" stroke-width="1.2"/>
<rect x="1243" y="441.15" width="9.2" height="9.4" fill="rgba(0,0,0,0.55)"/>
<rect x="1246.3" y="443.65" width="2.6" height="4.4" fill="none" stroke="rgba(0,0,0,0.35)" stroke-width="1.2"/>
<rect x="1245.6" y="450.49" width="9.2" height="9.4" fill="rgba(0,0,0,0.55)"/>
<rect x="1248.9" y="452.99" width="2.6" height="4.4" fill="none" stroke="rgba(0,0,0,0.35)" stroke-width="1.2"/>
<rect x="1273.5" y="449.57" width="9.2" height="9.4" fill="rgba(0,0,0,0.55)"/>
<rect x="1276.8" y="452.07" width="2.6" height="4.4" fill="none" stroke="rgba(0,0,0,0.35)" stroke-width="1.2"/>
<rect x="1283.1" y="451.42" width="9.2" height="9.4" fill="rgba(0,0,0,0.55)"/>
<rect x="1286.4" y="453.92" width="2.6" height="4.4" fill="none" stroke="rgba(0,0,0,0.35)" stroke-width="1.2"/>
<rect x="1297" y="450.14" width="9.2" height="9.4" fill="rgba(0,0,0,0.55)"/>
<rect x="1300.3" y="452.64" width="2.6" height="4.4" fill="none" stroke="rgba(0,0,0,0.35)" stroke-width="1.2"/>
<rect x="1311.8" y="453.27" width="9.2" height="9.4" fill="rgba(0,0,0,0.55)"/>
<rect x="1315.1" y="455.77" width="2.6" height="4.4" fill="none" stroke="rgba(0,0,0,0.35)" stroke-width="1.2"/>
<rect x="1339.7" y="452.63" width="9.2" height="9.4" fill="rgba(0,0,0,0.55)"/>
<rect x="1343" y="455.13" width="2.6" height="4.4" fill="none" stroke="rgba(0,0,0,0.35)" stroke-width="1.2"/>
<rect x="1354.5" y="453.27" width="9.2" height="9.4" fill="rgba(0,0,0,0.55)"/>
<rect x="1357.8" y="455.77" width="2.6" height="4.4" fill="none" stroke="rgba(0,0,0,0.35)" stroke-width="1.2"/>
<rect x="1314.4" y="455.06" width="9.2" height="9.4" fill="rgba(0,0,0,0.55)"/>
<rect x="1317.7" y="457.56" width="2.6" height="4.4" fill="none" stroke="rgba(0,0,0,0.35)" stroke-width="1.2"/>
<rect x="1281.3" y="461.26" width="9.2" height="9.4" fill="rgba(0,0,0,0.55)"/>
<rect x="1284.6" y="463.76" width="2.6" height="4.4" fill="none" stroke="rgba(0,0,0,0.35)" stroke-width="1.2"/>
<rect x="1283.1" y="464.96" width="9.2" height="9.4" fill="rgba(0,0,0,0.55)"/>
<rect x="1286.4" y="467.46" width="2.6" height="4.4" fill="none" stroke="rgba(0,0,0,0.35)" stroke-width="1.2"/>
<rect x="1295.3" y="460.69" width="9.2" height="9.4" fill="rgba(0,0,0,0.55)"/>
<rect x="1298.6" y="463.19" width="2.6" height="4.4" fill="none" stroke="rgba(0,0,0,0.35)" stroke-width="1.2"/>
<rect x="1302.3" y="462.83" width="9.2" height="9.4" fill="rgba(0,0,0,0.55)"/>
<rect x="1305.6" y="465.33" width="2.6" height="4.4" fill="none" stroke="rgba(0,0,0,0.35)" stroke-width="1.2"/>
<rect x="1314.9" y="464.04" width="9.2" height="9.4" fill="rgba(0,0,0,0.55)"/>
<rect x="1318.2" y="466.54" width="2.6" height="4.4" fill="none" stroke="rgba(0,0,0,0.35)" stroke-width="1.2"/>
<rect x="1344.1" y="471.24" width="9.2" height="9.4" fill="rgba(0,0,0,0.55)"/>
<rect x="1347.4" y="473.74" width="2.6" height="4.4" fill="none" stroke="rgba(0,0,0,0.35)" stroke-width="1.2"/>
<rect x="1352.8" y="484.85" width="9.2" height="9.4" fill="rgba(0,0,0,0.55)"/>
<rect x="1356.1" y="487.35" width="2.6" height="4.4" fill="none" stroke="rgba(0,0,0,0.35)" stroke-width="1.2"/>
<rect x="1266.5" y="474.3" width="9.2" height="9.4" fill="rgba(0,0,0,0.55)"/>
<rect x="1269.8" y="476.8" width="2.6" height="4.4" fill="none" stroke="rgba(0,0,0,0.35)" stroke-width="1.2"/>
<rect x="1260.4" y="477.44" width="9.2" height="9.4" fill="rgba(0,0,0,0.55)"/>
<rect x="1263.7" y="479.94" width="2.6" height="4.4" fill="none" stroke="rgba(0,0,0,0.35)" stroke-width="1.2"/>
<rect x="1250.9" y="490.13" width="9.2" height="9.4" fill="rgba(0,0,0,0.55)"/>
<rect x="1254.2" y="492.63" width="2.6" height="4.4" fill="none" stroke="rgba(0,0,0,0.35)" stroke-width="1.2"/>
<rect x="1307" y="486.71" width="9.2" height="9.4" fill="rgba(0,0,0,0.55)"/>
<rect x="1310.3" y="489.21" width="2.6" height="4.4" fill="none" stroke="rgba(0,0,0,0.35)" stroke-width="1.2"/>
<rect x="1331" y="490.49" width="9.2" height="9.4" fill="rgba(0,0,0,0.55)"/>
<rect x="1334.3" y="492.99" width="2.6" height="4.4" fill="none" stroke="rgba(0,0,0,0.35)" stroke-width="1.2"/>
<rect x="1377.6" y="477.73" width="9.2" height="9.4" fill="rgba(0,0,0,0.55)"/>
<rect x="1380.9" y="480.23" width="2.6" height="4.4" fill="none" stroke="rgba(0,0,0,0.35)" stroke-width="1.2"/>
<rect x="1275.7" y="497.54" width="9.2" height="9.4" fill="rgba(0,0,0,0.55)"/>
<rect x="1279" y="500.04" width="2.6" height="4.4" fill="none" stroke="rgba(0,0,0,0.35)" stroke-width="1.2"/>
<rect x="1381.5" y="497.26" width="9.2" height="9.4" fill="rgba(0,0,0,0.55)"/>
<rect x="1384.8" y="499.76" width="2.6" height="4.4" fill="none" stroke="rgba(0,0,0,0.35)" stroke-width="1.2"/>
<rect x="1392" y="499.47" width="9.2" height="9.4" fill="rgba(0,0,0,0.55)"/>
<rect x="1395.3" y="501.97" width="2.6" height="4.4" fill="none" stroke="rgba(0,0,0,0.35)" stroke-width="1.2"/>
<rect x="1332.7" y="502.82" width="9.2" height="9.4" fill="rgba(0,0,0,0.55)"/>
<rect x="1336" y="505.32" width="2.6" height="4.4" fill="none" stroke="rgba(0,0,0,0.35)" stroke-width="1.2"/>
<rect x="1333.6" y="505.88" width="9.2" height="9.4" fill="rgba(0,0,0,0.55)"/>
<rect x="1336.9" y="508.38" width="2.6" height="4.4" fill="none" stroke="rgba(0,0,0,0.35)" stroke-width="1.2"/>
<rect x="1321.9" y="504.39" width="9.2" height="9.4" fill="rgba(0,0,0,0.55)"/>
<rect x="1325.2" y="506.89" width="2.6" height="4.4" fill="none" stroke="rgba(0,0,0,0.35)" stroke-width="1.2"/>
<rect x="1346.2" y="518" width="9.2" height="9.4" fill="rgba(0,0,0,0.55)"/>
<rect x="1349.5" y="520.5" width="2.6" height="4.4" fill="none" stroke="rgba(0,0,0,0.35)" stroke-width="1.2"/>
<rect x="1291.4" y="534.47" width="9.2" height="9.4" fill="rgba(0,0,0,0.55)"/>
<rect x="1294.7" y="536.97" width="2.6" height="4.4" fill="none" stroke="rgba(0,0,0,0.35)" stroke-width="1.2"/>
<rect x="1321.4" y="527.98" width="9.2" height="9.4" fill="rgba(0,0,0,0.55)"/>
<rect x="1324.7" y="530.48" width="2.6" height="4.4" fill="none" stroke="rgba(0,0,0,0.35)" stroke-width="1.2"/>
<rect x="1307.5" y="550.51" width="9.2" height="9.4" fill="rgba(0,0,0,0.55)"/>
<rect x="1310.8" y="553.01" width="2.6" height="4.4" fill="none" stroke="rgba(0,0,0,0.35)" stroke-width="1.2"/>
<rect x="1272.6" y="546.23" width="9.2" height="9.4" fill="rgba(0,0,0,0.55)"/>
<rect x="1275.9" y="548.73" width="2.6" height="4.4" fill="none" stroke="rgba(0,0,0,0.35)" stroke-width="1.2"/>
<rect x="1343.6" y="543.74" width="9.2" height="9.4" fill="rgba(0,0,0,0.55)"/>
<rect x="1346.9" y="546.24" width="2.6" height="4.4" fill="none" stroke="rgba(0,0,0,0.35)" stroke-width="1.2"/>
<rect x="1376.3" y="543.74" width="9.2" height="9.4" fill="rgba(0,0,0,0.55)"/>
<rect x="1379.6" y="546.24" width="2.6" height="4.4" fill="none" stroke="rgba(0,0,0,0.35)" stroke-width="1.2"/>
<rect x="1337.5" y="579.46" width="9.2" height="9.4" fill="rgba(0,0,0,0.55)"/>
<rect x="1340.8" y="581.96" width="2.6" height="4.4" fill="none" stroke="rgba(0,0,0,0.35)" stroke-width="1.2"/>
<rect x="1290.4" y="603.84" width="9.2" height="9.4" fill="rgba(0,0,0,0.55)"/>
<rect x="1293.7" y="606.34" width="2.6" height="4.4" fill="none" stroke="rgba(0,0,0,0.35)" stroke-width="1.2"/>
<rect x="1235.9" y="626.79" width="9.2" height="9.4" fill="rgba(0,0,0,0.55)"/>
<rect x="1239.2" y="629.29" width="2.6" height="4.4" fill="none" stroke="rgba(0,0,0,0.35)" stroke-width="1.2"/>
<rect x="1422.7" y="441.23" width="9.2" height="9.4" fill="rgba(0,0,0,0.55)"/>
<rect x="1426" y="443.73" width="2.6" height="4.4" fill="none" stroke="rgba(0,0,0,0.35)" stroke-width="1.2"/>
<rect x="1501.8" y="451.85" width="9.2" height="9.4" fill="rgba(0,0,0,0.55)"/>
<rect x="1505.1" y="454.35" width="2.6" height="4.4" fill="none" stroke="rgba(0,0,0,0.35)" stroke-width="1.2"/>
<rect x="1521.2" y="437.45" width="9.2" height="9.4" fill="rgba(0,0,0,0.55)"/>
<rect x="1524.5" y="439.95" width="2.6" height="4.4" fill="none" stroke="rgba(0,0,0,0.35)" stroke-width="1.2"/>
<rect x="1538.3" y="446.5" width="9.2" height="9.4" fill="rgba(0,0,0,0.55)"/>
<rect x="1541.6" y="449" width="2.6" height="4.4" fill="none" stroke="rgba(0,0,0,0.35)" stroke-width="1.2"/>
<rect x="1542.1" y="434.31" width="9.2" height="9.4" fill="rgba(0,0,0,0.55)"/>
<rect x="1545.4" y="436.81" width="2.6" height="4.4" fill="none" stroke="rgba(0,0,0,0.35)" stroke-width="1.2"/>
<rect x="1562.2" y="427.4" width="9.2" height="9.4" fill="rgba(0,0,0,0.55)"/>
<rect x="1565.5" y="429.9" width="2.6" height="4.4" fill="none" stroke="rgba(0,0,0,0.35)" stroke-width="1.2"/>
<rect x="1524.1" y="461.97" width="9.2" height="9.4" fill="rgba(0,0,0,0.55)"/>
<rect x="1527.4" y="464.47" width="2.6" height="4.4" fill="none" stroke="rgba(0,0,0,0.35)" stroke-width="1.2"/>
<rect x="1560.7" y="461.4" width="9.2" height="9.4" fill="rgba(0,0,0,0.55)"/>
<rect x="1564" y="463.9" width="2.6" height="4.4" fill="none" stroke="rgba(0,0,0,0.35)" stroke-width="1.2"/>
<rect x="1508.5" y="483.78" width="9.2" height="9.4" fill="rgba(0,0,0,0.55)"/>
<rect x="1511.8" y="486.28" width="2.6" height="4.4" fill="none" stroke="rgba(0,0,0,0.35)" stroke-width="1.2"/>
<rect x="1497.1" y="493.12" width="9.2" height="9.4" fill="rgba(0,0,0,0.55)"/>
<rect x="1500.4" y="495.62" width="2.6" height="4.4" fill="none" stroke="rgba(0,0,0,0.35)" stroke-width="1.2"/>
<rect x="1444.5" y="493.12" width="9.2" height="9.4" fill="rgba(0,0,0,0.55)"/>
<rect x="1447.8" y="495.62" width="2.6" height="4.4" fill="none" stroke="rgba(0,0,0,0.35)" stroke-width="1.2"/>
<rect x="1527.8" y="498.33" width="9.2" height="9.4" fill="rgba(0,0,0,0.55)"/>
<rect x="1531.1" y="500.83" width="2.6" height="4.4" fill="none" stroke="rgba(0,0,0,0.35)" stroke-width="1.2"/>
<rect x="1569" y="501.82" width="9.2" height="9.4" fill="rgba(0,0,0,0.55)"/>
<rect x="1572.3" y="504.32" width="2.6" height="4.4" fill="none" stroke="rgba(0,0,0,0.35)" stroke-width="1.2"/>
<rect x="1570.1" y="511.59" width="9.2" height="9.4" fill="rgba(0,0,0,0.55)"/>
<rect x="1573.4" y="514.09" width="2.6" height="4.4" fill="none" stroke="rgba(0,0,0,0.35)" stroke-width="1.2"/>
<rect x="1437.3" y="519.64" width="9.2" height="9.4" fill="rgba(0,0,0,0.55)"/>
<rect x="1440.6" y="522.14" width="2.6" height="4.4" fill="none" stroke="rgba(0,0,0,0.35)" stroke-width="1.2"/>
<rect x="1475.3" y="548.44" width="9.2" height="9.4" fill="rgba(0,0,0,0.55)"/>
<rect x="1478.6" y="550.94" width="2.6" height="4.4" fill="none" stroke="rgba(0,0,0,0.35)" stroke-width="1.2"/>
<rect x="1495.5" y="568.05" width="9.2" height="9.4" fill="rgba(0,0,0,0.55)"/>
<rect x="1498.8" y="570.55" width="2.6" height="4.4" fill="none" stroke="rgba(0,0,0,0.35)" stroke-width="1.2"/>
<rect x="1593.7" y="313.05" width="9.2" height="9.4" fill="rgba(0,0,0,0.55)"/>
<rect x="1597" y="315.55" width="2.6" height="4.4" fill="none" stroke="rgba(0,0,0,0.35)" stroke-width="1.2"/>
<rect x="1682.2" y="242.11" width="9.2" height="9.4" fill="rgba(0,0,0,0.55)"/>
<rect x="1685.5" y="244.61" width="2.6" height="4.4" fill="none" stroke="rgba(0,0,0,0.35)" stroke-width="1.2"/>
<rect x="1638" y="270.27" width="9.2" height="9.4" fill="rgba(0,0,0,0.55)"/>
<rect x="1641.3" y="272.77" width="2.6" height="4.4" fill="none" stroke="rgba(0,0,0,0.35)" stroke-width="1.2"/>
<rect x="1720.7" y="289.52" width="9.2" height="9.4" fill="rgba(0,0,0,0.55)"/>
<rect x="1724" y="292.02" width="2.6" height="4.4" fill="none" stroke="rgba(0,0,0,0.35)" stroke-width="1.2"/>
<rect x="1727" y="289.24" width="9.2" height="9.4" fill="rgba(0,0,0,0.55)"/>
<rect x="1730.3" y="291.74" width="2.6" height="4.4" fill="none" stroke="rgba(0,0,0,0.35)" stroke-width="1.2"/>
<rect x="1609.4" y="340.35" width="9.2" height="9.4" fill="rgba(0,0,0,0.55)"/>
<rect x="1612.7" y="342.85" width="2.6" height="4.4" fill="none" stroke="rgba(0,0,0,0.35)" stroke-width="1.2"/>
<rect x="1633.7" y="353.68" width="9.2" height="9.4" fill="rgba(0,0,0,0.55)"/>
<rect x="1637" y="356.18" width="2.6" height="4.4" fill="none" stroke="rgba(0,0,0,0.35)" stroke-width="1.2"/>
<rect x="1640.5" y="353.68" width="9.2" height="9.4" fill="rgba(0,0,0,0.55)"/>
<rect x="1643.8" y="356.18" width="2.6" height="4.4" fill="none" stroke="rgba(0,0,0,0.35)" stroke-width="1.2"/>
<rect x="1663.5" y="364.73" width="9.2" height="9.4" fill="rgba(0,0,0,0.55)"/>
<rect x="1666.8" y="367.23" width="2.6" height="4.4" fill="none" stroke="rgba(0,0,0,0.35)" stroke-width="1.2"/>
<rect x="1668.5" y="362.52" width="9.2" height="9.4" fill="rgba(0,0,0,0.55)"/>
<rect x="1671.8" y="365.02" width="2.6" height="4.4" fill="none" stroke="rgba(0,0,0,0.35)" stroke-width="1.2"/>
<rect x="1676.8" y="319.75" width="9.2" height="9.4" fill="rgba(0,0,0,0.55)"/>
<rect x="1680.1" y="322.25" width="2.6" height="4.4" fill="none" stroke="rgba(0,0,0,0.35)" stroke-width="1.2"/>
<rect x="1683.8" y="342.42" width="9.2" height="9.4" fill="rgba(0,0,0,0.55)"/>
<rect x="1687.1" y="344.92" width="2.6" height="4.4" fill="none" stroke="rgba(0,0,0,0.35)" stroke-width="1.2"/>
<rect x="1688.2" y="351.61" width="9.2" height="9.4" fill="rgba(0,0,0,0.55)"/>
<rect x="1691.5" y="354.11" width="2.6" height="4.4" fill="none" stroke="rgba(0,0,0,0.35)" stroke-width="1.2"/>
<rect x="1697.7" y="361.24" width="9.2" height="9.4" fill="rgba(0,0,0,0.55)"/>
<rect x="1701" y="363.74" width="2.6" height="4.4" fill="none" stroke="rgba(0,0,0,0.35)" stroke-width="1.2"/>
<rect x="1713.9" y="333.29" width="9.2" height="9.4" fill="rgba(0,0,0,0.55)"/>
<rect x="1717.2" y="335.79" width="2.6" height="4.4" fill="none" stroke="rgba(0,0,0,0.35)" stroke-width="1.2"/>
<rect x="1726" y="327.09" width="9.2" height="9.4" fill="rgba(0,0,0,0.55)"/>
<rect x="1729.3" y="329.59" width="2.6" height="4.4" fill="none" stroke="rgba(0,0,0,0.35)" stroke-width="1.2"/>
<rect x="1730.1" y="302.71" width="9.2" height="9.4" fill="rgba(0,0,0,0.55)"/>
<rect x="1733.4" y="305.21" width="2.6" height="4.4" fill="none" stroke="rgba(0,0,0,0.35)" stroke-width="1.2"/>
<rect x="1728.8" y="351.47" width="9.2" height="9.4" fill="rgba(0,0,0,0.55)"/>
<rect x="1732.1" y="353.97" width="2.6" height="4.4" fill="none" stroke="rgba(0,0,0,0.35)" stroke-width="1.2"/>
<rect x="1609.4" y="391.82" width="9.2" height="9.4" fill="rgba(0,0,0,0.55)"/>
<rect x="1612.7" y="394.32" width="2.6" height="4.4" fill="none" stroke="rgba(0,0,0,0.35)" stroke-width="1.2"/>
<rect x="1627.8" y="375.92" width="9.2" height="9.4" fill="rgba(0,0,0,0.55)"/>
<rect x="1631.1" y="378.42" width="2.6" height="4.4" fill="none" stroke="rgba(0,0,0,0.35)" stroke-width="1.2"/>
<rect x="1636.2" y="390.82" width="9.2" height="9.4" fill="rgba(0,0,0,0.55)"/>
<rect x="1639.5" y="393.32" width="2.6" height="4.4" fill="none" stroke="rgba(0,0,0,0.35)" stroke-width="1.2"/>
<rect x="1653.2" y="371.72" width="9.2" height="9.4" fill="rgba(0,0,0,0.55)"/>
<rect x="1656.5" y="374.22" width="2.6" height="4.4" fill="none" stroke="rgba(0,0,0,0.35)" stroke-width="1.2"/>
<rect x="1659.8" y="378.21" width="9.2" height="9.4" fill="rgba(0,0,0,0.55)"/>
<rect x="1663.1" y="380.71" width="2.6" height="4.4" fill="none" stroke="rgba(0,0,0,0.35)" stroke-width="1.2"/>
<rect x="1668.9" y="376.14" width="9.2" height="9.4" fill="rgba(0,0,0,0.55)"/>
<rect x="1672.2" y="378.64" width="2.6" height="4.4" fill="none" stroke="rgba(0,0,0,0.35)" stroke-width="1.2"/>
<rect x="1667.9" y="425.4" width="9.2" height="9.4" fill="rgba(0,0,0,0.55)"/>
<rect x="1671.2" y="427.9" width="2.6" height="4.4" fill="none" stroke="rgba(0,0,0,0.35)" stroke-width="1.2"/>
<rect x="1700.8" y="391.54" width="9.2" height="9.4" fill="rgba(0,0,0,0.55)"/>
<rect x="1704.1" y="394.04" width="2.6" height="4.4" fill="none" stroke="rgba(0,0,0,0.35)" stroke-width="1.2"/>
<rect x="1697.1" y="414.71" width="9.2" height="9.4" fill="rgba(0,0,0,0.55)"/>
<rect x="1700.4" y="417.21" width="2.6" height="4.4" fill="none" stroke="rgba(0,0,0,0.35)" stroke-width="1.2"/>
<rect x="1685.3" y="415.63" width="9.2" height="9.4" fill="rgba(0,0,0,0.55)"/>
<rect x="1688.6" y="418.13" width="2.6" height="4.4" fill="none" stroke="rgba(0,0,0,0.35)" stroke-width="1.2"/>
<rect x="1691.5" y="426.68" width="9.2" height="9.4" fill="rgba(0,0,0,0.55)"/>
<rect x="1694.8" y="429.18" width="2.6" height="4.4" fill="none" stroke="rgba(0,0,0,0.35)" stroke-width="1.2"/>
<rect x="1717.6" y="376.64" width="9.2" height="9.4" fill="rgba(0,0,0,0.55)"/>
<rect x="1720.9" y="379.14" width="2.6" height="4.4" fill="none" stroke="rgba(0,0,0,0.35)" stroke-width="1.2"/>
<rect x="1716.4" y="377.56" width="9.2" height="9.4" fill="rgba(0,0,0,0.55)"/>
<rect x="1719.7" y="380.06" width="2.6" height="4.4" fill="none" stroke="rgba(0,0,0,0.35)" stroke-width="1.2"/>
<rect x="1719.4" y="375.43" width="9.2" height="9.4" fill="rgba(0,0,0,0.55)"/>
<rect x="1722.7" y="377.93" width="2.6" height="4.4" fill="none" stroke="rgba(0,0,0,0.35)" stroke-width="1.2"/>
<rect x="1723.8" y="371.72" width="9.2" height="9.4" fill="rgba(0,0,0,0.55)"/>
<rect x="1727.1" y="374.22" width="2.6" height="4.4" fill="none" stroke="rgba(0,0,0,0.35)" stroke-width="1.2"/>
<rect x="1725.1" y="389.9" width="9.2" height="9.4" fill="rgba(0,0,0,0.55)"/>
<rect x="1728.4" y="392.4" width="2.6" height="4.4" fill="none" stroke="rgba(0,0,0,0.35)" stroke-width="1.2"/>
<rect x="1720.1" y="419.62" width="9.2" height="9.4" fill="rgba(0,0,0,0.55)"/>
<rect x="1723.4" y="422.12" width="2.6" height="4.4" fill="none" stroke="rgba(0,0,0,0.35)" stroke-width="1.2"/>
<rect x="1730.1" y="428.04" width="9.2" height="9.4" fill="rgba(0,0,0,0.55)"/>
<rect x="1733.4" y="430.54" width="2.6" height="4.4" fill="none" stroke="rgba(0,0,0,0.35)" stroke-width="1.2"/>
<rect x="1731.3" y="392.53" width="9.2" height="9.4" fill="rgba(0,0,0,0.55)"/>
<rect x="1734.6" y="395.03" width="2.6" height="4.4" fill="none" stroke="rgba(0,0,0,0.35)" stroke-width="1.2"/>
<rect x="1718.9" y="395.39" width="9.2" height="9.4" fill="rgba(0,0,0,0.55)"/>
<rect x="1722.2" y="397.89" width="2.6" height="4.4" fill="none" stroke="rgba(0,0,0,0.35)" stroke-width="1.2"/>
<rect x="1597.6" y="441.23" width="9.2" height="9.4" fill="rgba(0,0,0,0.55)"/>
<rect x="1600.9" y="443.73" width="2.6" height="4.4" fill="none" stroke="rgba(0,0,0,0.35)" stroke-width="1.2"/>
<rect x="1648" y="456.7" width="9.2" height="9.4" fill="rgba(0,0,0,0.55)"/>
<rect x="1651.3" y="459.2" width="2.6" height="4.4" fill="none" stroke="rgba(0,0,0,0.35)" stroke-width="1.2"/>
<rect x="1652" y="485.57" width="9.2" height="9.4" fill="rgba(0,0,0,0.55)"/>
<rect x="1655.3" y="488.07" width="2.6" height="4.4" fill="none" stroke="rgba(0,0,0,0.35)" stroke-width="1.2"/>
<rect x="1680.9" y="436.81" width="9.2" height="9.4" fill="rgba(0,0,0,0.55)"/>
<rect x="1684.2" y="439.31" width="2.6" height="4.4" fill="none" stroke="rgba(0,0,0,0.35)" stroke-width="1.2"/>
<rect x="1694.6" y="436.09" width="9.2" height="9.4" fill="rgba(0,0,0,0.55)"/>
<rect x="1697.9" y="438.59" width="2.6" height="4.4" fill="none" stroke="rgba(0,0,0,0.35)" stroke-width="1.2"/>
<rect x="1679.1" y="452.7" width="9.2" height="9.4" fill="rgba(0,0,0,0.55)"/>
<rect x="1682.4" y="455.2" width="2.6" height="4.4" fill="none" stroke="rgba(0,0,0,0.35)" stroke-width="1.2"/>
<rect x="1728.2" y="457.19" width="9.2" height="9.4" fill="rgba(0,0,0,0.55)"/>
<rect x="1731.5" y="459.69" width="2.6" height="4.4" fill="none" stroke="rgba(0,0,0,0.35)" stroke-width="1.2"/>
<rect x="1667.5" y="510.02" width="9.2" height="9.4" fill="rgba(0,0,0,0.55)"/>
<rect x="1670.8" y="512.52" width="2.6" height="4.4" fill="none" stroke="rgba(0,0,0,0.35)" stroke-width="1.2"/>
<rect x="1691.1" y="511.59" width="9.2" height="9.4" fill="rgba(0,0,0,0.55)"/>
<rect x="1694.4" y="514.09" width="2.6" height="4.4" fill="none" stroke="rgba(0,0,0,0.35)" stroke-width="1.2"/>
<rect x="1740.3" y="543.53" width="9.2" height="9.4" fill="rgba(0,0,0,0.55)"/>
<rect x="1743.6" y="546.03" width="2.6" height="4.4" fill="none" stroke="rgba(0,0,0,0.35)" stroke-width="1.2"/>
<rect x="1760.5" y="501.18" width="9.2" height="9.4" fill="rgba(0,0,0,0.55)"/>
<rect x="1763.8" y="503.68" width="2.6" height="4.4" fill="none" stroke="rgba(0,0,0,0.35)" stroke-width="1.2"/>
<rect x="1767.2" y="518.79" width="9.2" height="9.4" fill="rgba(0,0,0,0.55)"/>
<rect x="1770.5" y="521.29" width="2.6" height="4.4" fill="none" stroke="rgba(0,0,0,0.35)" stroke-width="1.2"/>
<rect x="1780" y="263.36" width="9.2" height="9.4" fill="rgba(0,0,0,0.55)"/>
<rect x="1783.3" y="265.86" width="2.6" height="4.4" fill="none" stroke="rgba(0,0,0,0.35)" stroke-width="1.2"/>
<rect x="1766.9" y="298.15" width="9.2" height="9.4" fill="rgba(0,0,0,0.55)"/>
<rect x="1770.2" y="300.65" width="2.6" height="4.4" fill="none" stroke="rgba(0,0,0,0.35)" stroke-width="1.2"/>
<rect x="1747.7" y="318.18" width="9.2" height="9.4" fill="rgba(0,0,0,0.55)"/>
<rect x="1751" y="320.68" width="2.6" height="4.4" fill="none" stroke="rgba(0,0,0,0.35)" stroke-width="1.2"/>
<rect x="1747.7" y="323.53" width="9.2" height="9.4" fill="rgba(0,0,0,0.55)"/>
<rect x="1751" y="326.03" width="2.6" height="4.4" fill="none" stroke="rgba(0,0,0,0.35)" stroke-width="1.2"/>
<rect x="1757" y="325.31" width="9.2" height="9.4" fill="rgba(0,0,0,0.55)"/>
<rect x="1760.3" y="327.81" width="2.6" height="4.4" fill="none" stroke="rgba(0,0,0,0.35)" stroke-width="1.2"/>
<rect x="1735.8" y="326.16" width="9.2" height="9.4" fill="rgba(0,0,0,0.55)"/>
<rect x="1739.1" y="328.66" width="2.6" height="4.4" fill="none" stroke="rgba(0,0,0,0.35)" stroke-width="1.2"/>
<rect x="1755.1" y="333.72" width="9.2" height="9.4" fill="rgba(0,0,0,0.55)"/>
<rect x="1758.4" y="336.22" width="2.6" height="4.4" fill="none" stroke="rgba(0,0,0,0.35)" stroke-width="1.2"/>
<rect x="1738.3" y="338.57" width="9.2" height="9.4" fill="rgba(0,0,0,0.55)"/>
<rect x="1741.6" y="341.07" width="2.6" height="4.4" fill="none" stroke="rgba(0,0,0,0.35)" stroke-width="1.2"/>
<rect x="1765.1" y="339.5" width="9.2" height="9.4" fill="rgba(0,0,0,0.55)"/>
<rect x="1768.4" y="342" width="2.6" height="4.4" fill="none" stroke="rgba(0,0,0,0.35)" stroke-width="1.2"/>
<rect x="1774.4" y="339.92" width="9.2" height="9.4" fill="rgba(0,0,0,0.55)"/>
<rect x="1777.7" y="342.42" width="2.6" height="4.4" fill="none" stroke="rgba(0,0,0,0.35)" stroke-width="1.2"/>
<rect x="1784.3" y="337.71" width="9.2" height="9.4" fill="rgba(0,0,0,0.55)"/>
<rect x="1787.6" y="340.21" width="2.6" height="4.4" fill="none" stroke="rgba(0,0,0,0.35)" stroke-width="1.2"/>
<rect x="1786.8" y="318.18" width="9.2" height="9.4" fill="rgba(0,0,0,0.55)"/>
<rect x="1790.1" y="320.68" width="2.6" height="4.4" fill="none" stroke="rgba(0,0,0,0.35)" stroke-width="1.2"/>
<rect x="1794.3" y="316.9" width="9.2" height="9.4" fill="rgba(0,0,0,0.55)"/>
<rect x="1797.6" y="319.4" width="2.6" height="4.4" fill="none" stroke="rgba(0,0,0,0.35)" stroke-width="1.2"/>
<rect x="1809.8" y="309.34" width="9.2" height="9.4" fill="rgba(0,0,0,0.55)"/>
<rect x="1813.1" y="311.84" width="2.6" height="4.4" fill="none" stroke="rgba(0,0,0,0.35)" stroke-width="1.2"/>
<rect x="1804.9" y="332.87" width="9.2" height="9.4" fill="rgba(0,0,0,0.55)"/>
<rect x="1808.2" y="335.37" width="2.6" height="4.4" fill="none" stroke="rgba(0,0,0,0.35)" stroke-width="1.2"/>
<rect x="1823.5" y="320.46" width="9.2" height="9.4" fill="rgba(0,0,0,0.55)"/>
<rect x="1826.8" y="322.96" width="2.6" height="4.4" fill="none" stroke="rgba(0,0,0,0.35)" stroke-width="1.2"/>
<rect x="1830.4" y="312.48" width="9.2" height="9.4" fill="rgba(0,0,0,0.55)"/>
<rect x="1833.7" y="314.98" width="2.6" height="4.4" fill="none" stroke="rgba(0,0,0,0.35)" stroke-width="1.2"/>
<rect x="1828.5" y="336.36" width="9.2" height="9.4" fill="rgba(0,0,0,0.55)"/>
<rect x="1831.8" y="338.86" width="2.6" height="4.4" fill="none" stroke="rgba(0,0,0,0.35)" stroke-width="1.2"/>
<rect x="1832.9" y="346.13" width="9.2" height="9.4" fill="rgba(0,0,0,0.55)"/>
<rect x="1836.2" y="348.63" width="2.6" height="4.4" fill="none" stroke="rgba(0,0,0,0.35)" stroke-width="1.2"/>
<rect x="1859" y="339.07" width="9.2" height="9.4" fill="rgba(0,0,0,0.55)"/>
<rect x="1862.3" y="341.57" width="2.6" height="4.4" fill="none" stroke="rgba(0,0,0,0.35)" stroke-width="1.2"/>
<rect x="1874.5" y="355.89" width="9.2" height="9.4" fill="rgba(0,0,0,0.55)"/>
<rect x="1877.8" y="358.39" width="2.6" height="4.4" fill="none" stroke="rgba(0,0,0,0.35)" stroke-width="1.2"/>
<rect x="1842.2" y="365.66" width="9.2" height="9.4" fill="rgba(0,0,0,0.55)"/>
<rect x="1845.5" y="368.16" width="2.6" height="4.4" fill="none" stroke="rgba(0,0,0,0.35)" stroke-width="1.2"/>
<rect x="1830.4" y="362.52" width="9.2" height="9.4" fill="rgba(0,0,0,0.55)"/>
<rect x="1833.7" y="365.02" width="2.6" height="4.4" fill="none" stroke="rgba(0,0,0,0.35)" stroke-width="1.2"/>
<rect x="1808.6" y="353.25" width="9.2" height="9.4" fill="rgba(0,0,0,0.55)"/>
<rect x="1811.9" y="355.75" width="2.6" height="4.4" fill="none" stroke="rgba(0,0,0,0.35)" stroke-width="1.2"/>
<rect x="1791.8" y="360.74" width="9.2" height="9.4" fill="rgba(0,0,0,0.55)"/>
<rect x="1795.1" y="363.24" width="2.6" height="4.4" fill="none" stroke="rgba(0,0,0,0.35)" stroke-width="1.2"/>
<rect x="1772.5" y="360.31" width="9.2" height="9.4" fill="rgba(0,0,0,0.55)"/>
<rect x="1775.8" y="362.81" width="2.6" height="4.4" fill="none" stroke="rgba(0,0,0,0.35)" stroke-width="1.2"/>
<rect x="1755.7" y="356.75" width="9.2" height="9.4" fill="rgba(0,0,0,0.55)"/>
<rect x="1759" y="359.25" width="2.6" height="4.4" fill="none" stroke="rgba(0,0,0,0.35)" stroke-width="1.2"/>
<rect x="1758.2" y="347.48" width="9.2" height="9.4" fill="rgba(0,0,0,0.55)"/>
<rect x="1761.5" y="349.98" width="2.6" height="4.4" fill="none" stroke="rgba(0,0,0,0.35)" stroke-width="1.2"/>
<rect x="1741.4" y="349.26" width="9.2" height="9.4" fill="rgba(0,0,0,0.55)"/>
<rect x="1744.7" y="351.76" width="2.6" height="4.4" fill="none" stroke="rgba(0,0,0,0.35)" stroke-width="1.2"/>
<rect x="1740.2" y="364.73" width="9.2" height="9.4" fill="rgba(0,0,0,0.55)"/>
<rect x="1743.5" y="367.23" width="2.6" height="4.4" fill="none" stroke="rgba(0,0,0,0.35)" stroke-width="1.2"/>
<rect x="1822.4" y="361.88" width="9.2" height="9.4" fill="rgba(0,0,0,0.55)"/>
<rect x="1825.7" y="364.38" width="2.6" height="4.4" fill="none" stroke="rgba(0,0,0,0.35)" stroke-width="1.2"/>
<rect x="1732.1" y="378.85" width="9.2" height="9.4" fill="rgba(0,0,0,0.55)"/>
<rect x="1735.4" y="381.35" width="2.6" height="4.4" fill="none" stroke="rgba(0,0,0,0.35)" stroke-width="1.2"/>
<rect x="1727.1" y="404.51" width="9.2" height="9.4" fill="rgba(0,0,0,0.55)"/>
<rect x="1730.4" y="407.01" width="2.6" height="4.4" fill="none" stroke="rgba(0,0,0,0.35)" stroke-width="1.2"/>
<rect x="1735.2" y="411.64" width="9.2" height="9.4" fill="rgba(0,0,0,0.55)"/>
<rect x="1738.5" y="414.14" width="2.6" height="4.4" fill="none" stroke="rgba(0,0,0,0.35)" stroke-width="1.2"/>
<rect x="1737.1" y="433.67" width="9.2" height="9.4" fill="rgba(0,0,0,0.55)"/>
<rect x="1740.4" y="436.17" width="2.6" height="4.4" fill="none" stroke="rgba(0,0,0,0.35)" stroke-width="1.2"/>
<rect x="1747" y="394.82" width="9.2" height="9.4" fill="rgba(0,0,0,0.55)"/>
<rect x="1750.3" y="397.32" width="2.6" height="4.4" fill="none" stroke="rgba(0,0,0,0.35)" stroke-width="1.2"/>
<rect x="1757" y="397.45" width="9.2" height="9.4" fill="rgba(0,0,0,0.55)"/>
<rect x="1760.3" y="399.95" width="2.6" height="4.4" fill="none" stroke="rgba(0,0,0,0.35)" stroke-width="1.2"/>
<rect x="1770.7" y="395.67" width="9.2" height="9.4" fill="rgba(0,0,0,0.55)"/>
<rect x="1774" y="398.17" width="2.6" height="4.4" fill="none" stroke="rgba(0,0,0,0.35)" stroke-width="1.2"/>
<rect x="1777.5" y="386.33" width="9.2" height="9.4" fill="rgba(0,0,0,0.55)"/>
<rect x="1780.8" y="388.83" width="2.6" height="4.4" fill="none" stroke="rgba(0,0,0,0.35)" stroke-width="1.2"/>
<rect x="1788.1" y="412.07" width="9.2" height="9.4" fill="rgba(0,0,0,0.55)"/>
<rect x="1791.4" y="414.57" width="2.6" height="4.4" fill="none" stroke="rgba(0,0,0,0.35)" stroke-width="1.2"/>
<rect x="1784.3" y="425.4" width="9.2" height="9.4" fill="rgba(0,0,0,0.55)"/>
<rect x="1787.6" y="427.9" width="2.6" height="4.4" fill="none" stroke="rgba(0,0,0,0.35)" stroke-width="1.2"/>
<rect x="1793.1" y="423.62" width="9.2" height="9.4" fill="rgba(0,0,0,0.55)"/>
<rect x="1796.4" y="426.12" width="2.6" height="4.4" fill="none" stroke="rgba(0,0,0,0.35)" stroke-width="1.2"/>
<rect x="1773.2" y="430.25" width="9.2" height="9.4" fill="rgba(0,0,0,0.55)"/>
<rect x="1776.5" y="432.75" width="2.6" height="4.4" fill="none" stroke="rgba(0,0,0,0.35)" stroke-width="1.2"/>
<rect x="1796.8" y="432.81" width="9.2" height="9.4" fill="rgba(0,0,0,0.55)"/>
<rect x="1800.1" y="435.31" width="2.6" height="4.4" fill="none" stroke="rgba(0,0,0,0.35)" stroke-width="1.2"/>
<rect x="1821.7" y="385.48" width="9.2" height="9.4" fill="rgba(0,0,0,0.55)"/>
<rect x="1825" y="387.98" width="2.6" height="4.4" fill="none" stroke="rgba(0,0,0,0.35)" stroke-width="1.2"/>
<rect x="1825.4" y="400.09" width="9.2" height="9.4" fill="rgba(0,0,0,0.55)"/>
<rect x="1828.7" y="402.59" width="2.6" height="4.4" fill="none" stroke="rgba(0,0,0,0.35)" stroke-width="1.2"/>
<rect x="1832.9" y="376.64" width="9.2" height="9.4" fill="rgba(0,0,0,0.55)"/>
<rect x="1836.2" y="379.14" width="2.6" height="4.4" fill="none" stroke="rgba(0,0,0,0.35)" stroke-width="1.2"/>
<rect x="1835.4" y="391.68" width="9.2" height="9.4" fill="rgba(0,0,0,0.55)"/>
<rect x="1838.7" y="394.18" width="2.6" height="4.4" fill="none" stroke="rgba(0,0,0,0.35)" stroke-width="1.2"/>
<rect x="1832.9" y="409.43" width="9.2" height="9.4" fill="rgba(0,0,0,0.55)"/>
<rect x="1836.2" y="411.93" width="2.6" height="4.4" fill="none" stroke="rgba(0,0,0,0.35)" stroke-width="1.2"/>
<rect x="1843.4" y="383.69" width="9.2" height="9.4" fill="rgba(0,0,0,0.55)"/>
<rect x="1846.7" y="386.19" width="2.6" height="4.4" fill="none" stroke="rgba(0,0,0,0.35)" stroke-width="1.2"/>
<rect x="1843.4" y="397.03" width="9.2" height="9.4" fill="rgba(0,0,0,0.55)"/>
<rect x="1846.7" y="399.53" width="2.6" height="4.4" fill="none" stroke="rgba(0,0,0,0.35)" stroke-width="1.2"/>
<rect x="1846.5" y="403.66" width="9.2" height="9.4" fill="rgba(0,0,0,0.55)"/>
<rect x="1849.8" y="406.16" width="2.6" height="4.4" fill="none" stroke="rgba(0,0,0,0.35)" stroke-width="1.2"/>
<rect x="1854" y="374.36" width="9.2" height="9.4" fill="rgba(0,0,0,0.55)"/>
<rect x="1857.3" y="376.86" width="2.6" height="4.4" fill="none" stroke="rgba(0,0,0,0.35)" stroke-width="1.2"/>
<rect x="1851.5" y="378.35" width="9.2" height="9.4" fill="rgba(0,0,0,0.55)"/>
<rect x="1854.8" y="380.85" width="2.6" height="4.4" fill="none" stroke="rgba(0,0,0,0.35)" stroke-width="1.2"/>
<rect x="1858.4" y="396.81" width="9.2" height="9.4" fill="rgba(0,0,0,0.55)"/>
<rect x="1861.7" y="399.31" width="2.6" height="4.4" fill="none" stroke="rgba(0,0,0,0.35)" stroke-width="1.2"/>
<rect x="1858.4" y="409" width="9.2" height="9.4" fill="rgba(0,0,0,0.55)"/>
<rect x="1861.7" y="411.5" width="2.6" height="4.4" fill="none" stroke="rgba(0,0,0,0.35)" stroke-width="1.2"/>
<rect x="1878.9" y="394.53" width="9.2" height="9.4" fill="rgba(0,0,0,0.55)"/>
<rect x="1882.2" y="397.03" width="2.6" height="4.4" fill="none" stroke="rgba(0,0,0,0.35)" stroke-width="1.2"/>
<rect x="1763.2" y="444.79" width="9.2" height="9.4" fill="rgba(0,0,0,0.55)"/>
<rect x="1766.5" y="447.29" width="2.6" height="4.4" fill="none" stroke="rgba(0,0,0,0.35)" stroke-width="1.2"/>
<rect x="1755.7" y="444.79" width="9.2" height="9.4" fill="rgba(0,0,0,0.55)"/>
<rect x="1759" y="447.29" width="2.6" height="4.4" fill="none" stroke="rgba(0,0,0,0.35)" stroke-width="1.2"/>
<rect x="1763.8" y="463.11" width="9.2" height="9.4" fill="rgba(0,0,0,0.55)"/>
<rect x="1767.1" y="465.61" width="2.6" height="4.4" fill="none" stroke="rgba(0,0,0,0.35)" stroke-width="1.2"/>
<rect x="1834.7" y="440.3" width="9.2" height="9.4" fill="rgba(0,0,0,0.55)"/>
<rect x="1838" y="442.8" width="2.6" height="4.4" fill="none" stroke="rgba(0,0,0,0.35)" stroke-width="1.2"/>
<rect x="1839.7" y="465.18" width="9.2" height="9.4" fill="rgba(0,0,0,0.55)"/>
<rect x="1843" y="467.68" width="2.6" height="4.4" fill="none" stroke="rgba(0,0,0,0.35)" stroke-width="1.2"/>
<rect x="1808.6" y="471.38" width="9.2" height="9.4" fill="rgba(0,0,0,0.55)"/>
<rect x="1811.9" y="473.88" width="2.6" height="4.4" fill="none" stroke="rgba(0,0,0,0.35)" stroke-width="1.2"/>
<rect x="1790.4" y="510.95" width="9.2" height="9.4" fill="rgba(0,0,0,0.55)"/>
<rect x="1793.7" y="513.45" width="2.6" height="4.4" fill="none" stroke="rgba(0,0,0,0.35)" stroke-width="1.2"/>
<rect x="1905.3" y="547.8" width="9.2" height="9.4" fill="rgba(0,0,0,0.55)"/>
<rect x="1908.6" y="550.3" width="2.6" height="4.4" fill="none" stroke="rgba(0,0,0,0.35)" stroke-width="1.2"/>
<rect x="1912.7" y="343.92" width="9.2" height="9.4" fill="rgba(0,0,0,0.55)"/>
<rect x="1916" y="346.42" width="2.6" height="4.4" fill="none" stroke="rgba(0,0,0,0.35)" stroke-width="1.2"/>
<rect x="1931.8" y="373.43" width="9.2" height="9.4" fill="rgba(0,0,0,0.55)"/>
<rect x="1935.1" y="375.93" width="2.6" height="4.4" fill="none" stroke="rgba(0,0,0,0.35)" stroke-width="1.2"/>
<rect x="1931.8" y="379.85" width="9.2" height="9.4" fill="rgba(0,0,0,0.55)"/>
<rect x="1935.1" y="382.35" width="2.6" height="4.4" fill="none" stroke="rgba(0,0,0,0.35)" stroke-width="1.2"/>
<rect x="1967.1" y="379.56" width="9.2" height="9.4" fill="rgba(0,0,0,0.55)"/>
<rect x="1970.4" y="382.06" width="2.6" height="4.4" fill="none" stroke="rgba(0,0,0,0.35)" stroke-width="1.2"/>
<rect x="2005.3" y="412.85" width="9.2" height="9.4" fill="rgba(0,0,0,0.55)"/>
<rect x="2008.6" y="415.35" width="2.6" height="4.4" fill="none" stroke="rgba(0,0,0,0.35)" stroke-width="1.2"/>
<rect x="1265.1" y="395.24" width="9.2" height="9.4" fill="rgba(0,0,0,0.55)"/>
<rect x="1268.4" y="397.74" width="2.6" height="4.4" fill="none" stroke="rgba(0,0,0,0.35)" stroke-width="1.2"/>
<rect x="1296.4" y="405.37" width="9.2" height="9.4" fill="rgba(0,0,0,0.55)"/>
<rect x="1299.7" y="407.87" width="2.6" height="4.4" fill="none" stroke="rgba(0,0,0,0.35)" stroke-width="1.2"/>
<rect x="1311.1" y="392.53" width="9.2" height="9.4" fill="rgba(0,0,0,0.55)"/>
<rect x="1314.4" y="395.03" width="2.6" height="4.4" fill="none" stroke="rgba(0,0,0,0.35)" stroke-width="1.2"/>
<rect x="1313.6" y="399.16" width="9.2" height="9.4" fill="rgba(0,0,0,0.55)"/>
<rect x="1316.9" y="401.66" width="2.6" height="4.4" fill="none" stroke="rgba(0,0,0,0.35)" stroke-width="1.2"/>
<rect x="1312.3" y="410.29" width="9.2" height="9.4" fill="rgba(0,0,0,0.55)"/>
<rect x="1315.6" y="412.79" width="2.6" height="4.4" fill="none" stroke="rgba(0,0,0,0.35)" stroke-width="1.2"/>
<rect x="1297.4" y="404.65" width="9.2" height="9.4" fill="rgba(0,0,0,0.55)"/>
<rect x="1300.7" y="407.15" width="2.6" height="4.4" fill="none" stroke="rgba(0,0,0,0.35)" stroke-width="1.2"/>
<rect x="1343.4" y="399.16" width="9.2" height="9.4" fill="rgba(0,0,0,0.55)"/>
<rect x="1346.7" y="401.66" width="2.6" height="4.4" fill="none" stroke="rgba(0,0,0,0.35)" stroke-width="1.2"/>
<polygon points="1282.1,234.47 1291.3,234.47 1286.7,243.07" fill="#008000" stroke="#008000" stroke-width="1.2"/>
<polygon points="1284,294.21 1293.2,294.21 1288.6,302.81" fill="#008000" stroke="#008000" stroke-width="1.2"/>
<polygon points="1317.5,355.67 1326.7,355.67 1322.1,364.27" fill="#008000" stroke="#008000" stroke-width="1.2"/>
<polygon points="1329.1,352.81 1338.3,352.81 1333.7,361.41" fill="#008000" stroke="#008000" stroke-width="1.2"/>
<polygon points="1359.8,369.14 1369,369.14 1364.4,377.74" fill="#008000" stroke="#008000" stroke-width="1.2"/>
<polygon points="1396.4,370.56 1405.6,370.56 1401,379.16" fill="#008000" stroke="#008000" stroke-width="1.2"/>
<polygon points="1411,377.41 1420.2,377.41 1415.6,386.01" fill="#008000" stroke="#008000" stroke-width="1.2"/>
<polygon points="1426.3,381.76 1435.5,381.76 1430.9,390.36" fill="#008000" stroke="#008000" stroke-width="1.2"/>
<polygon points="1467.2,349.46 1476.4,349.46 1471.8,358.06" fill="#008000" stroke="#008000" stroke-width="1.2"/>
<polygon points="1461.1,369.99 1470.3,369.99 1465.7,378.59" fill="#008000" stroke="#008000" stroke-width="1.2"/>
<polygon points="1478.6,402.5 1487.8,402.5 1483.2,411.1" fill="#008000" stroke="#008000" stroke-width="1.2"/>
<polygon points="1377.6,397.51 1386.8,397.51 1382.2,406.11" fill="#008000" stroke="#008000" stroke-width="1.2"/>
<polygon points="1238.8,381.76 1248,381.76 1243.4,390.36" fill="#008000" stroke="#008000" stroke-width="1.2"/>
<polygon points="1252.7,406 1261.9,406 1257.3,414.6" fill="#008000" stroke="#008000" stroke-width="1.2"/>
<polygon points="1258.7,412.98 1267.9,412.98 1263.3,421.58" fill="#008000" stroke="#008000" stroke-width="1.2"/>
<polygon points="1272.2,418.61 1281.4,418.61 1276.8,427.21" fill="#008000" stroke="#008000" stroke-width="1.2"/>
<polygon points="1277.9,421.39 1287.1,421.39 1282.5,429.99" fill="#008000" stroke="#008000" stroke-width="1.2"/>
<polygon points="1271.3,428.24 1280.5,428.24 1275.9,436.84" fill="#008000" stroke="#008000" stroke-width="1.2"/>
<polygon points="1293.5,418.26 1302.7,418.26 1298.1,426.86" fill="#008000" stroke="#008000" stroke-width="1.2"/>
<polygon points="1300.1,415.48 1309.3,415.48 1304.7,424.08" fill="#008000" stroke="#008000" stroke-width="1.2"/>
<polygon points="1299.2,422.89 1308.4,422.89 1303.8,431.49" fill="#008000" stroke="#008000" stroke-width="1.2"/>
<polygon points="1293.1,428.81 1302.3,428.81 1297.7,437.41" fill="#008000" stroke="#008000" stroke-width="1.2"/>
<polygon points="1298.3,429.73 1307.5,429.73 1302.9,438.33" fill="#008000" stroke="#008000" stroke-width="1.2"/>
<polygon points="1312.7,411.13 1321.9,411.13 1317.3,419.73" fill="#008000" stroke="#008000" stroke-width="1.2"/>
<polygon points="1311,427.88 1320.2,427.88 1315.6,436.48" fill="#008000" stroke="#008000" stroke-width="1.2"/>
<polygon points="1318.8,427.88 1328,427.88 1323.4,436.48" fill="#008000" stroke="#008000" stroke-width="1.2"/>
<polygon points="1309.2,439.07 1318.4,439.07 1313.8,447.67" fill="#008000" stroke="#008000" stroke-width="1.2"/>
<polygon points="1330.1,430.09 1339.3,430.09 1334.7,438.69" fill="#008000" stroke="#008000" stroke-width="1.2"/>
<polygon points="1331.9,434.08 1341.1,434.08 1336.5,442.68" fill="#008000" stroke="#008000" stroke-width="1.2"/>
<polygon points="1327.5,439.07 1336.7,439.07 1332.1,447.67" fill="#008000" stroke="#008000" stroke-width="1.2"/>
<polygon points="1358.4,421.96 1367.6,421.96 1363,430.56" fill="#008000" stroke="#008000" stroke-width="1.2"/>
<polygon points="1352.8,430.66 1362,430.66 1357.4,439.26" fill="#008000" stroke="#008000" stroke-width="1.2"/>
<polygon points="1352.8,434.08 1362,434.08 1357.4,442.68" fill="#008000" stroke="#008000" stroke-width="1.2"/>
<polygon points="1345.8,436.58 1355,436.58 1350.4,445.18" fill="#008000" stroke="#008000" stroke-width="1.2"/>
<polygon points="1355.8,438.79 1365,438.79 1360.4,447.39" fill="#008000" stroke="#008000" stroke-width="1.2"/>
<polygon points="1243,441.85 1252.2,441.85 1247.6,450.45" fill="#008000" stroke="#008000" stroke-width="1.2"/>
<polygon points="1245.6,451.19 1254.8,451.19 1250.2,459.79" fill="#008000" stroke="#008000" stroke-width="1.2"/>
<polygon points="1273.5,450.27 1282.7,450.27 1278.1,458.87" fill="#008000" stroke="#008000" stroke-width="1.2"/>
<polygon points="1283.1,452.12 1292.3,452.12 1287.7,460.72" fill="#008000" stroke="#008000" stroke-width="1.2"/>
<polygon points="1297,450.84 1306.2,450.84 1301.6,459.44" fill="#008000" stroke="#008000" stroke-width="1.2"/>
<polygon points="1311.8,453.97 1321,453.97 1316.4,462.57" fill="#008000" stroke="#008000" stroke-width="1.2"/>
<polygon points="1339.7,453.33 1348.9,453.33 1344.3,461.93" fill="#008000" stroke="#008000" stroke-width="1.2"/>
<polygon points="1354.5,453.97 1363.7,453.97 1359.1,462.57" fill="#008000" stroke="#008000" stroke-width="1.2"/>
<polygon points="1314.4,455.76 1323.6,455.76 1319,464.36" fill="#008000" stroke="#008000" stroke-width="1.2"/>
<polygon points="1281.3,461.96 1290.5,461.96 1285.9,470.56" fill="#008000" stroke="#008000" stroke-width="1.2"/>
<polygon points="1283.1,465.66 1292.3,465.66 1287.7,474.26" fill="#008000" stroke="#008000" stroke-width="1.2"/>
<polygon points="1295.3,461.39 1304.5,461.39 1299.9,469.99" fill="#008000" stroke="#008000" stroke-width="1.2"/>
<polygon points="1302.3,463.53 1311.5,463.53 1306.9,472.13" fill="#008000" stroke="#008000" stroke-width="1.2"/>
<polygon points="1266.5,475 1275.7,475 1271.1,483.6" fill="#008000" stroke="#008000" stroke-width="1.2"/>
<polygon points="1260.4,478.14 1269.6,478.14 1265,486.74" fill="#008000" stroke="#008000" stroke-width="1.2"/>
<polygon points="1307,487.41 1316.2,487.41 1311.6,496.01" fill="#008000" stroke="#008000" stroke-width="1.2"/>
<polygon points="1331,491.19 1340.2,491.19 1335.6,499.79" fill="#008000" stroke="#008000" stroke-width="1.2"/>
<polygon points="1377.6,478.43 1386.8,478.43 1382.2,487.03" fill="#008000" stroke="#008000" stroke-width="1.2"/>
<polygon points="1381.5,497.96 1390.7,497.96 1386.1,506.56" fill="#008000" stroke="#008000" stroke-width="1.2"/>
<polygon points="1332.7,503.52 1341.9,503.52 1337.3,512.12" fill="#008000" stroke="#008000" stroke-width="1.2"/>
<polygon points="1333.6,506.58 1342.8,506.58 1338.2,515.18" fill="#008000" stroke="#008000" stroke-width="1.2"/>
<polygon points="1321.9,505.09 1331.1,505.09 1326.5,513.69" fill="#008000" stroke="#008000" stroke-width="1.2"/>
<polygon points="1346.2,518.7 1355.4,518.7 1350.8,527.3" fill="#008000" stroke="#008000" stroke-width="1.2"/>
<polygon points="1291.4,535.17 1300.6,535.17 1296,543.77" fill="#008000" stroke="#008000" stroke-width="1.2"/>
<polygon points="1307.5,551.21 1316.7,551.21 1312.1,559.81" fill="#008000" stroke="#008000" stroke-width="1.2"/>
<polygon points="1272.6,546.93 1281.8,546.93 1277.2,555.53" fill="#008000" stroke="#008000" stroke-width="1.2"/>
<polygon points="1343.6,544.44 1352.8,544.44 1348.2,553.04" fill="#008000" stroke="#008000" stroke-width="1.2"/>
<polygon points="1376.3,544.44 1385.5,544.44 1380.9,553.04" fill="#008000" stroke="#008000" stroke-width="1.2"/>
<polygon points="1290.4,604.54 1299.6,604.54 1295,613.14" fill="#008000" stroke="#008000" stroke-width="1.2"/>
<polygon points="1422.7,441.93 1431.9,441.93 1427.3,450.53" fill="#008000" stroke="#008000" stroke-width="1.2"/>
<polygon points="1501.8,452.55 1511,452.55 1506.4,461.15" fill="#008000" stroke="#008000" stroke-width="1.2"/>
<polygon points="1521.2,438.15 1530.4,438.15 1525.8,446.75" fill="#008000" stroke="#008000" stroke-width="1.2"/>
<polygon points="1538.3,447.2 1547.5,447.2 1542.9,455.8" fill="#008000" stroke="#008000" stroke-width="1.2"/>
<polygon points="1542.1,435.01 1551.3,435.01 1546.7,443.61" fill="#008000" stroke="#008000" stroke-width="1.2"/>
<polygon points="1524.1,462.67 1533.3,462.67 1528.7,471.27" fill="#008000" stroke="#008000" stroke-width="1.2"/>
<polygon points="1560.7,462.1 1569.9,462.1 1565.3,470.7" fill="#008000" stroke="#008000" stroke-width="1.2"/>
<polygon points="1508.5,484.48 1517.7,484.48 1513.1,493.08" fill="#008000" stroke="#008000" stroke-width="1.2"/>
<polygon points="1497.1,493.82 1506.3,493.82 1501.7,502.42" fill="#008000" stroke="#008000" stroke-width="1.2"/>
<polygon points="1444.5,493.82 1453.7,493.82 1449.1,502.42" fill="#008000" stroke="#008000" stroke-width="1.2"/>
<polygon points="1527.8,499.03 1537,499.03 1532.4,507.63" fill="#008000" stroke="#008000" stroke-width="1.2"/>
<polygon points="1569,502.52 1578.2,502.52 1573.6,511.12" fill="#008000" stroke="#008000" stroke-width="1.2"/>
<polygon points="1437.3,520.34 1446.5,520.34 1441.9,528.94" fill="#008000" stroke="#008000" stroke-width="1.2"/>
<polygon points="1475.3,549.14 1484.5,549.14 1479.9,557.74" fill="#008000" stroke="#008000" stroke-width="1.2"/>
<polygon points="1495.5,568.75 1504.7,568.75 1500.1,577.35" fill="#008000" stroke="#008000" stroke-width="1.2"/>
<polygon points="1667.5,510.72 1676.7,510.72 1672.1,519.32" fill="#008000" stroke="#008000" stroke-width="1.2"/>
<polygon points="1905.3,548.5 1914.5,548.5 1909.9,557.1" fill="#008000" stroke="#008000" stroke-width="1.2"/>
<polygon points="1265.1,395.94 1274.3,395.94 1269.7,404.54" fill="#008000" stroke="#008000" stroke-width="1.2"/>
<polygon points="1296.4,406.07 1305.6,406.07 1301,414.67" fill="#008000" stroke="#008000" stroke-width="1.2"/>
<polygon points="1311.1,393.23 1320.3,393.23 1315.7,401.83" fill="#008000" stroke="#008000" stroke-width="1.2"/>
<polygon points="1313.6,399.86 1322.8,399.86 1318.2,408.46" fill="#008000" stroke="#008000" stroke-width="1.2"/>
<polygon points="1312.3,410.99 1321.5,410.99 1316.9,419.59" fill="#008000" stroke="#008000" stroke-width="1.2"/>
<polygon points="1297.4,405.35 1306.6,405.35 1302,413.95" fill="#008000" stroke="#008000" stroke-width="1.2"/>
<circle cx="1883.5" cy="399.23" r="4.6" fill="#ff0000"/>
<circle cx="1936.4" cy="378.13" r="4.6" fill="#ff0000"/>
<circle cx="1936.4" cy="384.55" r="4.6" fill="#ff0000"/>
<circle cx="1971.7" cy="384.26" r="4.6" fill="#ff0000"/>
</g>
<rect x="1160" y="4" width="905.7" height="661.8" fill="none" stroke="#000" stroke-width="1.6"/>
<line x1="1169.22" y1="665.8" x2="1169.22" y2="661.8" stroke="#000" stroke-width="1.2"/>
<line x1="1169.22" y1="4" x2="1169.22" y2="8" stroke="#000" stroke-width="1.2"/>
<line x1="1181.16" y1="665.8" x2="1181.16" y2="661.8" stroke="#000" stroke-width="1.2"/>
<line x1="1181.16" y1="4" x2="1181.16" y2="8" stroke="#000" stroke-width="1.2"/>
<line x1="1191.68" y1="665.8" x2="1191.68" y2="661.8" stroke="#000" stroke-width="1.2"/>
<line x1="1191.68" y1="4" x2="1191.68" y2="8" stroke="#000" stroke-width="1.2"/>
<line x1="1201.1" y1="665.8" x2="1201.1" y2="658.8" stroke="#000" stroke-width="1.6"/>
<line x1="1201.1" y1="4" x2="1201.1" y2="11" stroke="#000" stroke-width="1.6"/>
<line x1="1263.05" y1="665.8" x2="1263.05" y2="661.8" stroke="#000" stroke-width="1.2"/>
<line x1="1263.05" y1="4" x2="1263.05" y2="8" stroke="#000" stroke-width="1.2"/>
<line x1="1299.29" y1="665.8" x2="1299.29" y2="661.8" stroke="#000" stroke-width="1.2"/>
<line x1="1299.29" y1="4" x2="1299.29" y2="8" stroke="#000" stroke-width="1.2"/>
<line x1="1325" y1="665.8" x2="1325" y2="661.8" stroke="#000" stroke-width="1.2"/>
<line x1="1325" y1="4" x2="1325" y2="8" stroke="#000" stroke-width="1.2"/>
<line x1="1344.95" y1="665.8" x2="1344.95" y2="661.8" stroke="#000" stroke-width="1.2"/>
<line x1="1344.95" y1="4" x2="1344.95" y2="8" stroke="#000" stroke-width="1.2"/>
<line x1="1361.24" y1="665.8" x2="1361.24" y2="661.8" stroke="#000" stroke-width="1.2"/>
<line x1="1361.24" y1="4" x2="1361.24" y2="8" stroke="#000" stroke-width="1.2"/>
<line x1="1375.02" y1="665.8" x2="1375.02" y2="661.8" stroke="#000" stroke-width="1.2"/>
<line x1="1375.02" y1="4" x2="1375.02" y2="8" stroke="#000" stroke-width="1.2"/>
<line x1="1386.96" y1="665.8" x2="1386.96" y2="661.8" stroke="#000" stroke-width="1.2"/>
<line x1="1386.96" y1="4" x2="1386.96" y2="8" stroke="#000" stroke-width="1.2"/>
<line x1="1397.48" y1="665.8" x2="1397.48" y2="661.8" stroke="#000" stroke-width="1.2"/>
<line x1="1397.48" y1="4" x2="1397.48" y2="8" stroke="#000" stroke-width="1.2"/>
<line x1="1406.9" y1="665.8" x2="1406.9" y2="658.8" stroke="#000" stroke-width="1.6"/>
<line x1="1406.9" y1="4" x2="1406.9" y2="11" stroke="#000" stroke-width="1.6"/>
<line x1="1468.85" y1="665.8" x2="1468.85" y2="661.8" stroke="#000" stroke-width="1.2"/>
<line x1="1468.85" y1="4" x2="1468.85" y2="8" stroke="#000" stroke-width="1.2"/>
<line x1="1505.09" y1="665.8" x2="1505.09" y2="661.8" stroke="#000" stroke-width="1.2"/>
<line x1="1505.09" y1="4" x2="1505.09" y2="8" stroke="#000" stroke-width="1.2"/>
<line x1="1530.8" y1="665.8" x2="1530.8" y2="661.8" stroke="#000" stroke-width="1.2"/>
<line x1="1530.8" y1="4" x2="1530.8" y2="8" stroke="#000" stroke-width="1.2"/>
<line x1="1550.75" y1="665.8" x2="1550.75" y2="661.8" stroke="#000" stroke-width="1.2"/>
<line x1="1550.75" y1="4" x2="1550.75" y2="8" stroke="#000" stroke-width="1.2"/>
<line x1="1567.04" y1="665.8" x2="1567.04" y2="661.8" stroke="#000" stroke-width="1.2"/>
<line x1="1567.04" y1="4" x2="1567.04" y2="8" stroke="#000" stroke-width="1.2"/>
<line x1="1580.82" y1="665.8" x2="1580.82" y2="661.8" stroke="#000" stroke-width="1.2"/>
<line x1="1580.82" y1="4" x2="1580.82" y2="8" stroke="#000" stroke-width="1.2"/>
<line x1="1592.76" y1="665.8" x2="1592.76" y2="661.8" stroke="#000" stroke-width="1.2"/>
<line x1="1592.76" y1="4" x2="1592.76" y2="8" stroke="#000" stroke-width="1.2"/>
<line x1="1603.28" y1="665.8" x2="1603.28" y2="661.8" stroke="#000" stroke-width="1.2"/>
<line x1="1603.28" y1="4" x2="1603.28" y2="8" stroke="#000" stroke-width="1.2"/>
<line x1="1612.7" y1="665.8" x2="1612.7" y2="658.8" stroke="#000" stroke-width="1.6"/>
<line x1="1612.7" y1="4" x2="1612.7" y2="11" stroke="#000" stroke-width="1.6"/>
<line x1="1674.65" y1="665.8" x2="1674.65" y2="661.8" stroke="#000" stroke-width="1.2"/>
<line x1="1674.65" y1="4" x2="1674.65" y2="8" stroke="#000" stroke-width="1.2"/>
<line x1="1710.89" y1="665.8" x2="1710.89" y2="661.8" stroke="#000" stroke-width="1.2"/>
<line x1="1710.89" y1="4" x2="1710.89" y2="8" stroke="#000" stroke-width="1.2"/>
<line x1="1736.6" y1="665.8" x2="1736.6" y2="661.8" stroke="#000" stroke-width="1.2"/>
<line x1="1736.6" y1="4" x2="1736.6" y2="8" stroke="#000" stroke-width="1.2"/>
<line x1="1756.55" y1="665.8" x2="1756.55" y2="661.8" stroke="#000" stroke-width="1.2"/>
<line x1="1756.55" y1="4" x2="1756.55" y2="8" stroke="#000" stroke-width="1.2"/>
<line x1="1772.84" y1="665.8" x2="1772.84" y2="661.8" stroke="#000" stroke-width="1.2"/>
<line x1="1772.84" y1="4" x2="1772.84" y2="8" stroke="#000" stroke-width="1.2"/>
<line x1="1786.62" y1="665.8" x2="1786.62" y2="661.8" stroke="#000" stroke-width="1.2"/>
<line x1="1786.62" y1="4" x2="1786.62" y2="8" stroke="#000" stroke-width="1.2"/>
<line x1="1798.56" y1="665.8" x2="1798.56" y2="661.8" stroke="#000" stroke-width="1.2"/>
<line x1="1798.56" y1="4" x2="1798.56" y2="8" stroke="#000" stroke-width="1.2"/>
<line x1="1809.08" y1="665.8" x2="1809.08" y2="661.8" stroke="#000" stroke-width="1.2"/>
<line x1="1809.08" y1="4" x2="1809.08" y2="8" stroke="#000" stroke-width="1.2"/>
<line x1="1818.5" y1="665.8" x2="1818.5" y2="658.8" stroke="#000" stroke-width="1.6"/>
<line x1="1818.5" y1="4" x2="1818.5" y2="11" stroke="#000" stroke-width="1.6"/>
<line x1="1880.45" y1="665.8" x2="1880.45" y2="661.8" stroke="#000" stroke-width="1.2"/>
<line x1="1880.45" y1="4" x2="1880.45" y2="8" stroke="#000" stroke-width="1.2"/>
<line x1="1916.69" y1="665.8" x2="1916.69" y2="661.8" stroke="#000" stroke-width="1.2"/>
<line x1="1916.69" y1="4" x2="1916.69" y2="8" stroke="#000" stroke-width="1.2"/>
<line x1="1942.4" y1="665.8" x2="1942.4" y2="661.8" stroke="#000" stroke-width="1.2"/>
<line x1="1942.4" y1="4" x2="1942.4" y2="8" stroke="#000" stroke-width="1.2"/>
<line x1="1962.35" y1="665.8" x2="1962.35" y2="661.8" stroke="#000" stroke-width="1.2"/>
<line x1="1962.35" y1="4" x2="1962.35" y2="8" stroke="#000" stroke-width="1.2"/>
<line x1="1978.64" y1="665.8" x2="1978.64" y2="661.8" stroke="#000" stroke-width="1.2"/>
<line x1="1978.64" y1="4" x2="1978.64" y2="8" stroke="#000" stroke-width="1.2"/>
<line x1="1992.42" y1="665.8" x2="1992.42" y2="661.8" stroke="#000" stroke-width="1.2"/>
<line x1="1992.42" y1="4" x2="1992.42" y2="8" stroke="#000" stroke-width="1.2"/>
<line x1="2004.36" y1="665.8" x2="2004.36" y2="661.8" stroke="#000" stroke-width="1.2"/>
<line x1="2004.36" y1="4" x2="2004.36" y2="8" stroke="#000" stroke-width="1.2"/>
<line x1="2014.88" y1="665.8" x2="2014.88" y2="661.8" stroke="#000" stroke-width="1.2"/>
<line x1="2014.88" y1="4" x2="2014.88" y2="8" stroke="#000" stroke-width="1.2"/>
<line x1="2024.3" y1="665.8" x2="2024.3" y2="658.8" stroke="#000" stroke-width="1.6"/>
<line x1="2024.3" y1="4" x2="2024.3" y2="11" stroke="#000" stroke-width="1.6"/>
<line x1="1160" y1="653.18" x2="1164" y2="653.18" stroke="#000" stroke-width="1.2"/>
<line x1="2065.7" y1="653.18" x2="2061.7" y2="653.18" stroke="#000" stroke-width="1.2"/>
<line x1="1160" y1="630.01" x2="1164" y2="630.01" stroke="#000" stroke-width="1.2"/>
<line x1="2065.7" y1="630.01" x2="2061.7" y2="630.01" stroke="#000" stroke-width="1.2"/>
<line x1="1160" y1="613.57" x2="1164" y2="613.57" stroke="#000" stroke-width="1.2"/>
<line x1="2065.7" y1="613.57" x2="2061.7" y2="613.57" stroke="#000" stroke-width="1.2"/>
<line x1="1160" y1="600.82" x2="1164" y2="600.82" stroke="#000" stroke-width="1.2"/>
<line x1="2065.7" y1="600.82" x2="2061.7" y2="600.82" stroke="#000" stroke-width="1.2"/>
<line x1="1160" y1="590.4" x2="1164" y2="590.4" stroke="#000" stroke-width="1.2"/>
<line x1="2065.7" y1="590.4" x2="2061.7" y2="590.4" stroke="#000" stroke-width="1.2"/>
<line x1="1160" y1="581.59" x2="1164" y2="581.59" stroke="#000" stroke-width="1.2"/>
<line x1="2065.7" y1="581.59" x2="2061.7" y2="581.59" stroke="#000" stroke-width="1.2"/>
<line x1="1160" y1="573.95" x2="1164" y2="573.95" stroke="#000" stroke-width="1.2"/>
<line x1="2065.7" y1="573.95" x2="2061.7" y2="573.95" stroke="#000" stroke-width="1.2"/>
<line x1="1160" y1="567.22" x2="1164" y2="567.22" stroke="#000" stroke-width="1.2"/>
<line x1="2065.7" y1="567.22" x2="2061.7" y2="567.22" stroke="#000" stroke-width="1.2"/>
<line x1="1160" y1="561.2" x2="1167" y2="561.2" stroke="#000" stroke-width="1.6"/>
<line x1="2065.7" y1="561.2" x2="2058.7" y2="561.2" stroke="#000" stroke-width="1.6"/>
<line x1="1160" y1="521.58" x2="1164" y2="521.58" stroke="#000" stroke-width="1.2"/>
<line x1="2065.7" y1="521.58" x2="2061.7" y2="521.58" stroke="#000" stroke-width="1.2"/>
<line x1="1160" y1="498.41" x2="1164" y2="498.41" stroke="#000" stroke-width="1.2"/>
<line x1="2065.7" y1="498.41" x2="2061.7" y2="498.41" stroke="#000" stroke-width="1.2"/>
<line x1="1160" y1="481.97" x2="1164" y2="481.97" stroke="#000" stroke-width="1.2"/>
<line x1="2065.7" y1="481.97" x2="2061.7" y2="481.97" stroke="#000" stroke-width="1.2"/>
<line x1="1160" y1="469.22" x2="1164" y2="469.22" stroke="#000" stroke-width="1.2"/>
<line x1="2065.7" y1="469.22" x2="2061.7" y2="469.22" stroke="#000" stroke-width="1.2"/>
<line x1="1160" y1="458.8" x2="1164" y2="458.8" stroke="#000" stroke-width="1.2"/>
<line x1="2065.7" y1="458.8" x2="2061.7" y2="458.8" stroke="#000" stroke-width="1.2"/>
<line x1="1160" y1="449.99" x2="1164" y2="449.99" stroke="#000" stroke-width="1.2"/>
<line x1="2065.7" y1="449.99" x2="2061.7" y2="449.99" stroke="#000" stroke-width="1.2"/>
<line x1="1160" y1="442.35" x2="1164" y2="442.35" stroke="#000" stroke-width="1.2"/>
<line x1="2065.7" y1="442.35" x2="2061.7" y2="442.35" stroke="#000" stroke-width="1.2"/>
<line x1="1160" y1="435.62" x2="1164" y2="435.62" stroke="#000" stroke-width="1.2"/>
<line x1="2065.7" y1="435.62" x2="2061.7" y2="435.62" stroke="#000" stroke-width="1.2"/>
<line x1="1160" y1="429.6" x2="1167" y2="429.6" stroke="#000" stroke-width="1.6"/>
<line x1="2065.7" y1="429.6" x2="2058.7" y2="429.6" stroke="#000" stroke-width="1.6"/>
<line x1="1160" y1="389.98" x2="1164" y2="389.98" stroke="#000" stroke-width="1.2"/>
<line x1="2065.7" y1="389.98" x2="2061.7" y2="389.98" stroke="#000" stroke-width="1.2"/>
<line x1="1160" y1="366.81" x2="1164" y2="366.81" stroke="#000" stroke-width="1.2"/>
<line x1="2065.7" y1="366.81" x2="2061.7" y2="366.81" stroke="#000" stroke-width="1.2"/>
<line x1="1160" y1="350.37" x2="1164" y2="350.37" stroke="#000" stroke-width="1.2"/>
<line x1="2065.7" y1="350.37" x2="2061.7" y2="350.37" stroke="#000" stroke-width="1.2"/>
<line x1="1160" y1="337.62" x2="1164" y2="337.62" stroke="#000" stroke-width="1.2"/>
<line x1="2065.7" y1="337.62" x2="2061.7" y2="337.62" stroke="#000" stroke-width="1.2"/>
<line x1="1160" y1="327.2" x2="1164" y2="327.2" stroke="#000" stroke-width="1.2"/>
<line x1="2065.7" y1="327.2" x2="2061.7" y2="327.2" stroke="#000" stroke-width="1.2"/>
<line x1="1160" y1="318.39" x2="1164" y2="318.39" stroke="#000" stroke-width="1.2"/>
<line x1="2065.7" y1="318.39" x2="2061.7" y2="318.39" stroke="#000" stroke-width="1.2"/>
<line x1="1160" y1="310.75" x2="1164" y2="310.75" stroke="#000" stroke-width="1.2"/>
<line x1="2065.7" y1="310.75" x2="2061.7" y2="310.75" stroke="#000" stroke-width="1.2"/>
<line x1="1160" y1="304.02" x2="1164" y2="304.02" stroke="#000" stroke-width="1.2"/>
<line x1="2065.7" y1="304.02" x2="2061.7" y2="304.02" stroke="#000" stroke-width="1.2"/>
<line x1="1160" y1="298" x2="1167" y2="298" stroke="#000" stroke-width="1.6"/>
<line x1="2065.7" y1="298" x2="2058.7" y2="298" stroke="#000" stroke-width="1.6"/>
<line x1="1160" y1="258.38" x2="1164" y2="258.38" stroke="#000" stroke-width="1.2"/>
<line x1="2065.7" y1="258.38" x2="2061.7" y2="258.38" stroke="#000" stroke-width="1.2"/>
<line x1="1160" y1="235.21" x2="1164" y2="235.21" stroke="#000" stroke-width="1.2"/>
<line x1="2065.7" y1="235.21" x2="2061.7" y2="235.21" stroke="#000" stroke-width="1.2"/>
<line x1="1160" y1="218.77" x2="1164" y2="218.77" stroke="#000" stroke-width="1.2"/>
<line x1="2065.7" y1="218.77" x2="2061.7" y2="218.77" stroke="#000" stroke-width="1.2"/>
<line x1="1160" y1="206.02" x2="1164" y2="206.02" stroke="#000" stroke-width="1.2"/>
<line x1="2065.7" y1="206.02" x2="2061.7" y2="206.02" stroke="#000" stroke-width="1.2"/>
<line x1="1160" y1="195.6" x2="1164" y2="195.6" stroke="#000" stroke-width="1.2"/>
<line x1="2065.7" y1="195.6" x2="2061.7" y2="195.6" stroke="#000" stroke-width="1.2"/>
<line x1="1160" y1="186.79" x2="1164" y2="186.79" stroke="#000" stroke-width="1.2"/>
<line x1="2065.7" y1="186.79" x2="2061.7" y2="186.79" stroke="#000" stroke-width="1.2"/>
<line x1="1160" y1="179.15" x2="1164" y2="179.15" stroke="#000" stroke-width="1.2"/>
<line x1="2065.7" y1="179.15" x2="2061.7" y2="179.15" stroke="#000" stroke-width="1.2"/>
<line x1="1160" y1="172.42" x2="1164" y2="172.42" stroke="#000" stroke-width="1.2"/>
<line x1="2065.7" y1="172.42" x2="2061.7" y2="172.42" stroke="#000" stroke-width="1.2"/>
<line x1="1160" y1="166.4" x2="1167" y2="166.4" stroke="#000" stroke-width="1.6"/>
<line x1="2065.7" y1="166.4" x2="2058.7" y2="166.4" stroke="#000" stroke-width="1.6"/>
<line x1="1160" y1="126.78" x2="1164" y2="126.78" stroke="#000" stroke-width="1.2"/>
<line x1="2065.7" y1="126.78" x2="2061.7" y2="126.78" stroke="#000" stroke-width="1.2"/>
<line x1="1160" y1="103.61" x2="1164" y2="103.61" stroke="#000" stroke-width="1.2"/>
<line x1="2065.7" y1="103.61" x2="2061.7" y2="103.61" stroke="#000" stroke-width="1.2"/>
<line x1="1160" y1="87.17" x2="1164" y2="87.17" stroke="#000" stroke-width="1.2"/>
<line x1="2065.7" y1="87.17" x2="2061.7" y2="87.17" stroke="#000" stroke-width="1.2"/>
<line x1="1160" y1="74.42" x2="1164" y2="74.42" stroke="#000" stroke-width="1.2"/>
<line x1="2065.7" y1="74.42" x2="2061.7" y2="74.42" stroke="#000" stroke-width="1.2"/>
<line x1="1160" y1="64" x2="1164" y2="64" stroke="#000" stroke-width="1.2"/>
<line x1="2065.7" y1="64" x2="2061.7" y2="64" stroke="#000" stroke-width="1.2"/>
<line x1="1160" y1="55.19" x2="1164" y2="55.19" stroke="#000" stroke-width="1.2"/>
<line x1="2065.7" y1="55.19" x2="2061.7" y2="55.19" stroke="#000" stroke-width="1.2"/>
<line x1="1160" y1="47.55" x2="1164" y2="47.55" stroke="#000" stroke-width="1.2"/>
<line x1="2065.7" y1="47.55" x2="2061.7" y2="47.55" stroke="#000" stroke-width="1.2"/>
<line x1="1160" y1="40.82" x2="1164" y2="40.82" stroke="#000" stroke-width="1.2"/>
<line x1="2065.7" y1="40.82" x2="2061.7" y2="40.82" stroke="#000" stroke-width="1.2"/>
<line x1="1160" y1="34.8" x2="1167" y2="34.8" stroke="#000" stroke-width="1.6"/>
<line x1="2065.7" y1="34.8" x2="2058.7" y2="34.8" stroke="#000" stroke-width="1.6"/>
<text x="1201.1" y="688.3" text-anchor="middle" font-size="20">10<tspan font-size="14" dy="-7.5">−3</tspan></text>
<text x="1406.9" y="688.3" text-anchor="middle" font-size="20">10<tspan font-size="14" dy="-7.5">−2</tspan></text>
<text x="1612.7" y="688.3" text-anchor="middle" font-size="20">10<tspan font-size="14" dy="-7.5">−1</tspan></text>
<text x="1818.5" y="688.3" text-anchor="middle" font-size="20">10<tspan font-size="14" dy="-7.5">0</tspan></text>
<text x="2024.3" y="688.3" text-anchor="middle" font-size="20">10<tspan font-size="14" dy="-7.5">1</tspan></text>
<text x="1152.3" y="568.5" text-anchor="end" font-size="20">10<tspan font-size="14" dy="-7.5">1</tspan></text>
<text x="1152.3" y="436.9" text-anchor="end" font-size="20">10<tspan font-size="14" dy="-7.5">2</tspan></text>
<text x="1152.3" y="305.3" text-anchor="end" font-size="20">10<tspan font-size="14" dy="-7.5">3</tspan></text>
<text x="1152.3" y="173.7" text-anchor="end" font-size="20">10<tspan font-size="14" dy="-7.5">4</tspan></text>
<text x="1152.3" y="42.1" text-anchor="end" font-size="20">10<tspan font-size="14" dy="-7.5">5</tspan></text>
<text x="1612.85" y="723.6" text-anchor="middle" font-size="28">P (s)</text>
<text transform="translate(1103 334.9) rotate(-90)" text-anchor="middle" font-size="28.5">Porper motion (Km/s)</text>
<rect x="1379.5" y="14.2" width="465.2" height="68.7" rx="4" fill="#fff" fill-opacity="0.8" stroke="#cccccc" stroke-width="1.6"/>
<line x1="1386.6" y1="30.3" x2="1429.7" y2="30.3" stroke="#d62728" stroke-width="3"/>
<text x="1445.3" y="37.3" font-size="20"><tspan font-style="oblique">β</tspan>=0.01</text>
<line x1="1386.6" y1="62.7" x2="1429.7" y2="62.7" stroke="#9467bd" stroke-width="3"/>
<text x="1445.3" y="69.7" font-size="20"><tspan font-style="oblique">β</tspan>=0.1</text>
<line x1="1558.7" y1="30.3" x2="1601.5" y2="30.3" stroke="#8c564b" stroke-width="3"/>
<text x="1616.9" y="37.3" font-size="20"><tspan font-style="oblique">β</tspan>=0.2</text>
<line x1="1558.7" y1="62.7" x2="1601.5" y2="62.7" stroke="#e377c2" stroke-width="3"/>
<text x="1616.9" y="69.7" font-size="20"><tspan font-style="oblique">β</tspan>=0.3</text>
<line x1="1717.5" y1="30.3" x2="1760.2" y2="30.3" stroke="#7f7f7f" stroke-width="3"/>
<text x="1776" y="37.3" font-size="20"><tspan font-style="oblique">β</tspan>=0.5</text>
<line x1="1717.5" y1="62.7" x2="1760.2" y2="62.7" stroke="#bcbd22" stroke-width="3"/>
<text x="1776" y="69.7" font-size="20"><tspan font-style="oblique">β</tspan>=0.8</text>
<text font-size="30"><tspan x="91.05" y="50" font-style="oblique">G</tspan><tspan x="116" y="38.5" font-size="21">(0)</tspan><tspan x="153.3" y="50">=</tspan><tspan x="185.1" y="50">1</tspan><tspan x="210.8" y="50">×</tspan><tspan x="241.6" y="50">10</tspan><tspan x="280.4" y="38.5" font-size="21">6</tspan></text>
<text font-size="30"><tspan x="83.4" y="113.6" font-style="oblique">B</tspan><tspan x="110.1" y="113.6">=</tspan><tspan x="141.1" y="113.6">10</tspan><tspan x="180.4" y="101.6" font-size="21">12</tspan><tspan x="208.25" y="113.6" font-style="oblique">Gauss</tspan></text>
<text font-size="30"><tspan x="1161.05" y="86.6" font-style="oblique">G</tspan><tspan x="1186" y="75.1" font-size="21">(0)</tspan><tspan x="1223.3" y="86.6">=</tspan><tspan x="1255.1" y="86.6">1</tspan><tspan x="1280.8" y="86.6">×</tspan><tspan x="1311.6" y="86.6">10</tspan><tspan x="1350.4" y="75.1" font-size="21">7</tspan></text>
<text font-size="30"><tspan x="1161.6" y="166" font-style="oblique">B</tspan><tspan x="1188.3" y="166">=</tspan><tspan x="1219.3" y="166">10</tspan><tspan x="1258.6" y="154" font-size="21">12</tspan><tspan x="1286.45" y="166" font-style="oblique">Gauss</tspan></text>
<text x="506.4" y="793.7" text-anchor="middle" font-size="38" font-family="'Liberation Serif', serif">(a)</text>
<text x="1584.2" y="793.7" text-anchor="middle" font-size="38" font-family="'Liberation Serif', serif">(b)</text>
</svg></body></html>
